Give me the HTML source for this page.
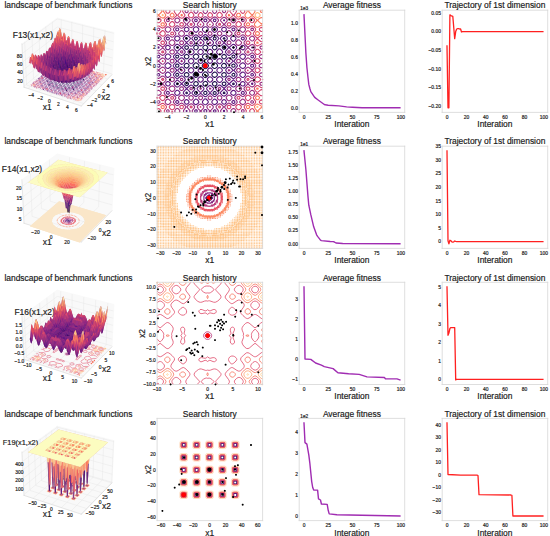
<!DOCTYPE html><html><head><meta charset="utf-8"><style>html,body{margin:0;padding:0;background:#fff}svg{display:block}text{font-family:"Liberation Sans",sans-serif;fill:#1a1a1a;stroke:#1a1a1a;stroke-width:.18px}</style></head><body><svg width="550" height="536" viewBox="0 0 550 536" stroke-linejoin="round"><rect width="550" height="536" fill="#fff"/><defs><path id="me9ac2b4124" d="M0 2.4l.5 0 .4 -.2 .4 -.2 .4 -.3 .3 -.4 .2 -.4 .2 -.4 0 -.5 0 -.5-.2 -.4-.2 -.4-.3 -.4-.4 -.3-.4 -.2-.4 -.2-.5 0-.5 0-.4 .2-.4 .2-.4 .3-.3 .4-.2 .4-.2 .4 0 .5 0 .5 .2 .4 .2 .4 .3 .4 .4 .3 .4 .2 .4 .2z"/></defs><path fill="#fff" d="M0 536l550 0 0 -536-550 0zM157.1 112.4l105.5 0 0 -102.2-105.5 0z"/>
<text x="167.7" y="118.6" font-size="4.9" text-anchor="middle">−4</text>
<text x="186.5" y="118.6" font-size="4.9" text-anchor="middle">−2</text>
<text x="205.3" y="118.6" font-size="4.9" text-anchor="middle">0</text>
<text x="224.2" y="118.6" font-size="4.9" text-anchor="middle">2</text>
<text x="243" y="118.6" font-size="4.9" text-anchor="middle">4</text>
<text x="261.8" y="118.6" font-size="4.9" text-anchor="middle">6</text>
<text x="209.8" y="127.3" font-size="8.45" text-anchor="middle">x1</text>
<text x="155.8" y="104" font-size="4.9" text-anchor="end">−4</text>
<text x="155.8" y="85.7" font-size="4.9" text-anchor="end">−2</text>
<text x="155.8" y="67.5" font-size="4.9" text-anchor="end">0</text>
<text x="155.8" y="49.2" font-size="4.9" text-anchor="end">2</text>
<text x="155.8" y="31" font-size="4.9" text-anchor="end">4</text>
<text x="155.8" y="12.7" font-size="4.9" text-anchor="end">6</text>
<text x="151.1" y="61.3" font-size="8.45" text-anchor="middle" transform="rotate(-90 151.1 61.3)">x2</text>
<path fill="none" stroke="#221150" stroke-width="1.1" d="M195.7 94.4l-.9 -.6-.3 -.6 .1 -.9 1.1 -.9 1 .2 .6 .7 .2 .9-.8 1zM205.1 94.5l-.9 -.4-.5 -.9 .1 -.9 .4 -.6 .9 -.5 1 .2 .8 .9 .1 .9-.9 1.1zM214.6 94.4l-1 -.5-.4 -.7 .1 -.9 1.3 -.9 .9 .3 .6 .6 .1 .9-.7 1zM186.3 93.7l-.5 -.5 .2 -.9 .3 -.2 .9 .2 .2 .9-.2 .3zM224 93.7l-.8 -.5 .3 -.9 .5 -.3 .7 .3 .3 .9-1 .5M195.7 86.1l-.9 -.5-.7 -.6-.4 -.9 .1 -.9 .6 -.9 1.3 -.8 1 .2 .8 .6 .7 .9 .1 .9-.7 1.1-.9 .7zM205.1 86.2l-.9 -.4-.9 -.8-.4 -.9 .1 -.9 .6 -.9 1.5 -.9 1 .1 1 .8 .6 .9 .1 .9-.8 1.2-.9 .7zM214.6 86.1l-1 -.4-.8 -.7-.5 -.9 .2 -.9 .7 -.9 1.4 -.8 .9 .2 .7 .6 .7 .9 .1 .9-.6 1-.9 .8-.9 .2M185.4 85.1l-.6 -1 .1 -.9 .8 -.9 .6 -.3 .9 .1 1.2 1.1 .1 .9-.6 .9-.7 .5-.9 .1zM223 85.3l-.8 -1.2 .1 -.9 .7 -.8 1 -.4 .9 .2 .9 1 .1 1-1 1.2-.9 .2zM176.9 84.6l-.5 -.5 .2 -.9 .3 -.2 .9 .1 .3 1-.3 .3zM233.4 84.7l-.9 -.6 .4 -.9 .5 -.2 .6 .2 .4 .9-1 .6M186.3 77l-.9 -.5-.7 -.6-.4 -.9 .1 -.9 .7 -.9 1.2 -.7 .9 .1 1 .7 .6 .8 .2 .9-.8 1.2-1 .7-.9 .1M194.8 77l-1.2 -1.1-.4 -.9 .1 -.9 1.5 -1.6 .9 -.5 1 .2 1.2 1 .7 .9 .2 .9-.5 .9-1.6 1.4-1 .1zM204.2 77.2l-1.4 -1.3-.4 -.9 .1 -.9 1.7 -1.8 .9 -.5 1 .2 1.4 1.2 .6 .9 .2 .9-.5 .9-1.7 1.5-1 .2zM213.6 77.1l-1.3 -1.2-.4 -.9 .1 -.9 1.6 -1.7 1 -.4 .9 .2 1.2 1 .6 .9 .1 .9-.4 .9-1.5 1.3-.9 .2-1 -.3M224 77l-1 -.3-.9 -.8-.4 -.9 .1 -.9 .8 -.9 1.4 -.7 .9 .2 .6 .5 .7 .9 .1 .9-.4 1-1 .8zM176.9 76.2l-.6 -.3-.6 -.9 .2 -.9 1 -.8 .9 .1 .8 .7 .2 .9-1 1.1zM232.5 75.9l-.6 -.9 .2 -.9 1.3 -.9 .9 .4 .4 .5 .2 .9-.5 .9-1 .3-.9 -.3M205.1 68.7l-1.6 -1-.9 -.9-.4 -.9 .2 -.9 .7 -1 1.1 -.9 .9 -.5 1 .2 1.5 1.2 .7 1 .2 .9-.5 .9-1 1-.9 .7zM186.3 68.1l-.9 -.5-.9 -.8-.3 -.9 .1 -.9 .7 -1 1.3 -.7 .9 .1 1 .6 .8 1 .1 .9-.9 1.4-1 .7zM194.8 68.1l-1.4 -1.3-.3 -.9 .1 -.9 1.6 -1.7 .9 -.5 1 .2 .9 .6 1.2 1.4 .2 .9-.5 .9-1.8 1.6-1 .1zM213.6 68.2l-1.5 -1.4-.4 -.9 .2 -.9 1.7 -1.8 1 -.4 .9 .2 1.3 1 .6 1 .2 .9-.4 .9-1.7 1.5-.9 .2zM223 67.8l-1.1 -1-.4 -.9 .2 -.9 1.3 -1.4 1 -.3 .9 .2 1.4 1.5 .2 .9-.4 .9-1.2 1.1-.9 .2-1 -.3M176.9 67.3l-1 -.6-.3 -.8 .1 -.9 1.2 -1 .9 .1 1 .9 .2 .9-.6 .9-.6 .4zM232.5 67l-.8 -1.1 .2 -.9 .6 -.6 .9 -.4 .9 .3 .6 .7 .2 .9-.5 .9-1.2 .5zM205.1 59.5l-1.5 -.9-.9 -1-.3 -.9 .2 -.9 .7 -.9 .9 -.7 .9 -.4 1 .2 .9 .6 1.1 1.2 .2 .9-.4 .9-.9 1-.9 .7zM186.3 58.9l-.9 -.5-.7 -.8-.4 -.9 .2 -.9 .8 -.9 1 -.5 .9 .1 1 .6 .6 .7 .2 .9-.8 1.4-1 .7-.9 .1M194.8 58.9l-1.2 -1.3-.4 -.9 .2 -.9 1.4 -1.4 .9 -.5 1 .2 .9 .6 1 1.1 .2 .9-.4 .9-1.7 1.6-1 .1zM213.6 59l-1.4 -1.4-.3 -.9 .2 -.9 1.5 -1.5 1 -.4 .9 .2 .9 .7 .9 1 .2 .9-.4 .9-1.6 1.6-.9 .2zM223 58.6l-.9 -1-.4 -.9 .2 -.9 1.1 -1.1 1 -.3 .9 .2 1.3 1.2 .2 .9-.4 .9-1.1 1.1-.9 .2zM176.9 58.1l-1 -.8-.2 -.6 .2 -.9 1 -.6 .9 .1 .7 .5 .3 .9-1 1.3zM232.5 57.7l-.6 -1 .2 -.9 1.3 -.7 .9 .4 .4 .3 .2 .9-.4 .9-1.1 .5-.9 -.4M195.7 49.8l-.9 -.4-.8 -.9-.4 -.9 .3 -.9 .8 -.9 1 -.5 1 .2 .9 .6 .5 .6 .2 .9-.7 1.3-.9 .8zM204.2 49.6l-1 -1.1-.4 -.9 .3 -.9 1.1 -1.2 .9 -.3 1 .1 1.5 1.4 .2 .9-.3 .9-1.4 1.3-1 .2zM213.6 49.5l-.9 -1-.4 -.9 .3 -.9 1 -1.1 1 -.3 .9 .2 1.3 1.2 .2 .9-.3 .9-1.2 1.1-.9 .3zM185.4 48.8l-.7 -1.2 .3 -.9 .4 -.4 .9 -.6 .4 .1 .5 .1 1 .8 .3 .9-.4 .9-.9 .7-.9 .2zM223 49l-.8 -1.4 .2 -.9 .6 -.6 1 -.4 .9 .3 .8 .7 .2 .9-.4 .9-.6 .6-.9 .3zM176.9 48.3l-.5 -.7 .4 -.9 1 .2 .3 .7-.3 .5-.9 .2M233.4 48.4l-.9 -.8 .9 -1 1 1zM194.8 39.4l-.4 -.9 .4 -1 .9 -.5 1 .2 .4 .4 .4 .9-.8 1.3-1 .1zM204.2 39.6l-.6 -1.1 .6 -1.2 .9 -.5 1 .2 .6 .6 .4 .9-.4 .9-.6 .5-1 .2zM213.6 39.5l-.4 -1 .4 -1.1 1 -.4 .9 .2 .4 .4 .3 .9-.7 1.2-.9 .3zM186.3 39.3l-.6 -.8 .6 -.9 .9 .3 .3 .6-.3 .5zM224 39.4l-.9 -.9 .9 -1 1 1-1 .9"/>
<path fill="none" stroke="#5f187f" stroke-width="1.1" d="M204.8 112.4l-.9 -.9 0 -.9 .3 -.5 .9 -.6 1 .2 .7 .9 0 .9-.9 .9M214.5 112.4l-1.1 -.9 0 -.9 1.2 -.9 .9 .3 .4 .6 .1 .9-.5 .6-.9 .3M157.1 65.1l.9 -.9 1 .1 .9 .7 .2 .9-.6 .9-.5 .3-1 0-.9 -.9M157.1 56.7l.3 -.9 .6 -.4 1 0 .6 .4 .3 .9-.9 1.1-1 .1-.9 -1.1M194.8 111.7l-.1 -1.1 1 -.9 1 .2 .5 .7 0 .9-.5 .6-1 .3zM194.8 104.2l-1.1 -.9-.5 -.9 .1 -1 1.5 -1.8 .9 -.6 1 .2 1.4 1.3 .6 .9 .1 1-.6 .9-1.5 1.1-1 .2zM204.2 104.4l-1.3 -1.1-.5 -.9 .1 -1 1.7 -2.1 .9 -.5 1 .2 1.5 1.5 .6 .9 .1 1-.6 .9-1.6 1.3-1 .1zM213.6 104.3l-1.2 -1-.5 -.9 0 -1 1.7 -1.9 1 -.5 .9 .3 1.3 1.2 .6 .9 0 1-.5 .9-1.4 1.1-.9 .2zM224 104.2l-1 -.3-.7 -.6-.6 -.9 .1 -1 .6 -.9 .6 -.5 1 -.4 .9 .2 .8 .7 .6 .9 0 1-.5 .9-.9 .7-.9 .2M176.9 103.4l-1.2 -1 .1 -1 1.1 -.9 .9 .1 .9 .8 .1 1-1 1zM185.4 103.7l-1.1 -1.3 .1 -1 1 -1.3 .9 -.5 .9 .1 1.1 .8 .6 .9 .1 1-.6 .9-1.2 .8-.9 .1zM233.4 103.5l-.9 -.4-.6 -.7 .1 -1 .5 -.5 .9 -.5 .9 .4 .5 .6 .1 1-.6 .8zM186.3 96.1l-1.6 -1-1.4 -1.9 .1 -.9 .6 -.9 2.3 -2.5 .9 .3 2.2 2.2 .8 .9 .2 .9-2.2 2.2-1 .5zM194.8 96.1l-2.2 -1.9-.7 -1 .2 -.9 2.4 -2.7 .4 -.9-.4 -.9-.8 -1-1.7 -1.5-1 -.2-.9 .4-2.9 2.5-.9 .4-.4 -.6-3 -2.8-.4 -.5-.7 -.4 .5 -.9 2.6 -2.7 .4 -.9-.3 -1-.7 -.9-1.8 -1.6-.9 -.3-1 .4-2.8 2.3-.9 .2-2.2 -1.9-1.3 -1.8 .2 -.9 3.1 -3.7-.4 -.9-2.6 -2.7-.5 -.9 .2 -.9 3.3 -3.7-.3 -.9-2.6 -2.8-.4 -.9 .2 -.9 3.3 -3.2 .9 .2 2.8 2.4 1 .4 .9 -.3 1.4 -1.3 .9 -.9 .4 -.9-.1 -.9-2.6 -3.1-.8 -.6 4.6 -4.5 .9 .2 1.9 1.8 1.9 1.2 1 -.3 1.3 -1.1 1 -.9 .5 -1-.1 -.9-2.4 -2.7-.5 -.9 .4 -.9 2.6 -2.4 .9 -.4 1 .2 3.7 3 4.7 -3.5 1 .3 .9 .7 2.8 2.5 1 -.5 2.8 -2.3 1 -.4 .9 .2 2 1.7 1.4 1.8-3 3.6-.1 .9 1.5 1.9 2 1.4 .9 -.2 3.8 -3 .9 .4 3.3 3.2 .5 .9-3.2 3.7-.1 .9 1.3 1.8 2 1.5 .9 -.1 3.8 -2.9 1.9 1.4 1.7 1.9 .2 .9-.4 .9-2.4 2.8-.5 .9 2.6 2.7 .7 1 .3 .9-3.6 4.5 2.5 2.8 .6 .9 .2 .9-.4 .9-1.5 1.6-1 .9-.9 .4-.9 -.5-2.9 -2.3-.9 -.1-1 .5-1.3 1.3-.8 .9-.3 1 1.2 1.8 1.9 1.8 .2 .9-4.6 4.4-.6 -.7-3.2 -2.5-.9 -.2-1 .5-1.4 1.2-.8 1-.3 .9 .4 .9 2.5 2.7 .1 .9-3.3 3.2-.9 .2-1 -.4-2.8 -2.5-1 -.3-3.7 3.2-1 .2-.9 -.5-2.8 -2.5-1 -.4-3.7 3-1 .2zM224 96.1l-1 -.3-.9 -.7-1.8 -1.9 .1 -.9 3.6 -3.5 .9 .7 1.8 1.9 .6 .9 .1 .9-.5 1-1 1-1 .7-.9 .2M176.9 95.4l-1 -.5-.8 -.7-.4 -1 .1 -.9 .5 -.9 1.6 -1.2 .9 .1 1.4 1.1 .7 .9 .1 .9-1.2 1.5-1 .6zM232.5 95.1l-1.3 -.9-.5 -1 .1 -.9 1.7 -1.8 .9 -.3 .9 .3 1 .9 .6 .9 .1 .9-.5 1-1.2 1-.9 .2zM167.5 94.3l-1.1 -1.1 0 -.9 1.1 -.9 .9 .1 .9 .8 .1 .9-1 1.1-.9 0M242.8 94.4l-.9 -.3-.6 -.9 .1 -.9 .5 -.5 .9 -.5 1 .5 .4 .5 .1 .9-.5 .9-1 .3M199.5 91.7l.9 .6 1 -.3 2.3 -2.4 .3 -.9-.3 -.9-2.3 -2.2-1 -.2-.9 .4-2.1 2-.4 .9 .5 .9zM208.9 91.7l.9 .6 1 -.2 2.4 -2.5 .4 -.9-.3 -.9-2.5 -2.2-1 -.2-.9 .5-2 1.9-.3 .9 .4 .9zM176.9 87.1l-1.9 -1.4-1 -1.6 .1 -.9 .6 -.9 2.2 -2.2 .9 .2 1 .8 2.3 2.1 .3 .9-2.6 2.3-1 .6zM233.4 87.1l-.9 -.3-2.2 -1.8-.7 -.8-.6 -.1 2.5 -2.6 1.9 -1.5 .9 .6 1.7 1.7 .6 .9 .1 .9-.4 .9-1 1.1-1 .7zM167.5 86l-1.4 -1-.5 -.9 .1 -.9 .8 -1.1 1 -.6 .9 .1 1.1 .7 .7 .9 .1 .9-1 1.3-.9 .6zM242.8 86.1l-.9 -.3-1 -.7-.6 -1 .2 -.9 .7 -.9 .7 -.5 .9 -.3 1 .3 .5 .5 .7 .9 .1 .9-.5 .9-.8 .8-1 .3M191 82.6l1 -.3 .9 -.8 .9 -1 .3 -.9-.2 -1-1 -1.2-.9 -.7-1 -.2-.9 .4-1.1 .8-.8 .9-.3 1 .5 .9 .8 .9zM219.3 82.5l.9 -.1 1 -.7 1.1 -1.2 .5 -.9-.3 -1-1.3 -1.3-1 -.6-.9 -.2-1.8 1.2-.7 .9-.3 1 .9 1.5 .9 .9zM199.5 81.8l.9 .4 1 -.2 1.6 -1.5 .3 -.9-.2 -1-.8 -.9-.9 -.7-1 -.2-.9 .4-1.5 1.4-.2 1 .4 .9zM208.9 81.7l.9 .5 1 -.2 1.7 -1.5 .3 -.9-.2 -1-.9 -1-.9 -.6-1 -.2-.9 .4-1.4 1.4-.2 1 .4 .9zM166.5 76.9l-.9 -1-.4 -.9 .1 -.9 1.2 -1.5 1 -.6 .9 .1 .9 .6 1.4 1.4 .2 .9-.5 .9-2 1.5-.9 0zM241.9 77.2l-1.6 -1.3-.6 -.9 .3 -.9 .7 -.9 1.2 -.9 .9 -.3 1 .3 1 .9 .5 .9 .2 .9-.4 .9-1.3 1.3-1 .3zM158 76l-.9 -1 .3 -.9 .6 -.6 1 .1 .6 .5 .3 .9-.9 1-1 0M252.2 76.1l-.9 -.4-.5 -.7 .2 -.9 1.2 -.7 1.1 .7 .2 .9-.3 .6-1 .5M180.6 73.3l1 .4 .9 -.3 2 -2.1 .4 -.9-.2 -.9-.7 -.9-1.5 -1.4-.9 -.3-1 .4-1.5 1.3-1 .9-.3 .9 .6 .9zM228.7 73.7l.9 -.2 3.4 -3.1-.6 -.9-1.8 -1.8-1 -.6-.9 -.1-1 .5-1.1 1.1-.7 .9-.2 .9 1.1 1.8zM190.1 72.6l.9 .4 1 -.3 1.4 -1.4 .4 -.9-.2 -.9-.7 -.9-.9 -.8-1 -.2-.9 .4-1.6 1.5-.2 .9 .4 .9zM199.5 72.3l.9 .3 1 -.1 1.2 -1.2 .4 -.9-.2 -.9-1.4 -1.4-1 -.2-.9 .4-1.2 1.2-.2 .9 .4 .9zM209.8 72.6l1 -.1 .9 -.7 .8 -1.4-.2 -.9-.6 -.7-.9 -.7-1 -.2-1.2 .7-.8 .9-.2 .9 .4 .9 .9 .9zM218.3 72.5l1 .4 .9 -.1 1.7 -1.5 .5 -.9-.3 -.9-.9 -1.1-1 -.6-.9 -.2-1 .5-1.3 1.4-.2 .9 .4 .9zM166.5 68l-1.1 -1.2-.4 -.9 .2 -.9 1.3 -1.6 1 -.6 .9 .1 .9 .6 1.6 1.5 .2 .9-.5 .9-2.2 1.7-.9 0zM241.9 68.3l-1.8 -1.5-.6 -.9 .3 -.9 .8 -1 1.3 -.9 .9 -.3 1 .3 1 .9 .7 1 .1 .9-.3 .9-1.5 1.5-1 .3-.9 -.3M251.3 66.9l-.7 -1 .2 -.9 .5 -.5 .9 -.3 1 .4 .5 1.3-.5 .9-1 .4zM181.6 64.4l.9 -.3 1 -.7 1 -1.2 .4 -.9-.1 -.9-.7 -.9-1.6 -1.5-.9 -.3-1 .4-1.6 1.4-.9 .9-.3 .9 1.9 2zM228.7 64.4l.9 -.1 1 -.7 2.4 -2.3-.5 -.9-1.9 -1.9-1 -.7-.9 -.1-1 .6-1.2 1.2-.6 .9-.2 .9 1.1 1.7zM190.1 63.4l.9 .3 1 -.2 1.4 -1.3 .4 -.9-.2 -.9-.6 -.9-1 -.9-1 -.2-.9 .4-1.6 1.6-.2 .9 .5 .9zM200.4 63.4l1 -.1 .9 -.8 .7 -1.2-.2 -.9-.7 -.9-.7 -.6-1 -.2-1.3 .8-.8 .9-.2 .9 .5 .9 .9 .9zM209.8 63.4l1 -.1 .9 -.7 .8 -1.3-.2 -.9-.7 -.9-.8 -.6-1 -.2-1.3 .8-.7 .9-.2 .9 .5 .9 .8 .8zM218.3 63.3l1 .4 .9 -.1 1.7 -1.4 .5 -.9-.2 -.9-1 -1.2-1 -.6-.9 -.2-1 .5-1.3 1.5-.2 .9 .4 .9zM166.5 58.8l-1 -1.2-.3 -.9 .2 -.9 1.1 -1.3 1 -.5 .9 0 .9 .6 1.4 1.2 .2 .9-.5 .9-2 1.7-.9 0zM241.9 59.1l-1.7 -1.5-.5 -.9 .3 -.9 .9 -.9 1 -.7 .9 -.3 1 .3 .8 .7 .7 .9 .2 .9-.4 .9-1.3 1.5-1 .3zM252.2 57.9l-.9 -.3-.5 -.9 .3 -.9 1.1 -.5 1.1 .5 .2 .9-.3 .8zM190.1 54.5l.9 .3 1 -.2 1.7 -1.5 .4 -.9-.1 -.9-.7 -.9-1.3 -1.3-1 -.3-.9 .4-1.3 1.2-.7 .9-.2 .9 .6 .9zM199.5 54.2l.9 .3 1 -.1 1.5 -1.3 .4 -.9-.1 -.9-.7 -.9-1.1 -1-1 -.2-.9 .4-1.5 1.7-.2 .9 .5 .9zM208.9 54.1l.9 .4 1 -.1 1.5 -1.3 .5 -.9-.1 -.9-.7 -.9-1.2 -1-1 -.2-.9 .4-1.4 1.7-.2 .9 .5 .9zM218.3 54.4l1 .4 .9 -.1 2 -1.6 .5 -.9-.1 -.9-2.4 -2.3-.9 -.2-1 .5-1.6 2-.1 .9 .4 .9zM175.9 50.5l-1.6 -2-.4 -.9 .3 -.9 1.7 -1.9 1 -.5 .9 .1 2 1.4 1.7 1.8-3.7 3.4-.9 .2-1 -.7M232.5 50.8l-2.5 -2.3-.4 -.7-.8 -.2 .8 -.3 .3 -.6 2.6 -2.1 .9 -.3 .9 .2 1.5 1.3 .7 .9 .2 .9-.3 .9-2.1 2.3-.9 .4zM167.5 49.8l-1 -.5-.6 -.8-.3 -.9 .2 -.9 .7 -.9 1 -.5 .9 .1 1.7 1.3 .2 .9-.4 .9-.6 .6-.9 .7zM241.9 49.6l-1.2 -1.1-.4 -.9 .3 -.9 1.3 -1.2 .9 -.2 1 .3 1.1 1.1 .2 .9-.3 .9-1 1.1-1 .3-.9 -.3M200.4 45.9l1 -.2 .9 -.6 1.2 -1.1 .5 -1-.1 -.9-.7 -.9-1.8 -1.8-1 -.5-3.2 3.2-.1 .9 1.5 1.9zM209.8 45.9l1 -.2 .9 -.6 1.3 -1.1 .5 -1-.1 -.9-.7 -.9-1.9 -1.8-1 -.5-2.4 2.3-.6 .9-.2 .9 1.5 1.9zM186.3 42.7l-.1 -.6-.8 -.6-1.8 -2.1-.4 -.9 .3 -.9 .8 -.9 1.1 -1 .9 -.4 .9 .1 1 .6 1.8 1.6 .5 .9-1.5 1.8zM224 43l-.3 -.9-.7 -.3-2.3 -2.4-.4 -.9 .4 -.9 .9 -.9 1.4 -1.1 1 -.4 .9 .3 1 .7 1.3 1.4 .2 .9-.3 .9-2.2 2.5-.6 .2zM175.9 40.6l-1 -1.2-.3 -.9 .3 -.9 1 -1.2 1 -.4 .9 .1 1 .5 .9 1 .3 .9-.3 .9-1.9 1.6-.9 .1zM232.5 40.8l-1.5 -1.4-.4 -.9 .3 -.9 1.6 -1.4 .9 -.2 .9 .2 1.5 1.4 .2 .9-.3 .9-1.4 1.5-.9 .3zM167.5 39.9l-1 -.8-.2 -.6 .2 -.7 1 -.8 .9 .1 .7 .5 .4 .9-.5 .9-.6 .5zM241.9 39.6l-.7 -1.1 .4 -.9 1.2 -.6 1 .3 .5 1.2-.3 .9-1.2 .6zM195.7 32.4l-.9 -.6-1 -1-.6 -1.4 .3 -1 .8 -.9 1.4 -.7 1 .1 .9 .6 .9 .9 .3 1-.3 .9-.9 1.1-.9 .7-1 .3M205.1 32.6l-1.8 -1.5-.7 -.8-.2 -.9 .3 -1 .8 -.9 1.6 -.8 1 .1 .9 .6 1 1 .3 1-.3 .9-1 1.2-.9 .8zM214.6 32.4l-1 -.5-.9 -.9-.6 -.7-.3 -.9 .3 -1 .9 -.9 1.6 -.7 .9 .2 .9 .6 .8 .8 .3 1-.3 .9-.8 1-.9 .8zM185.4 31.3l-.9 -1-.2 -.9 .3 -1 .9 -.9 .8 -.3 .9 .1 1.5 1.1 .3 1-.3 .9-1.5 1.3-.9 .2zM223 31.4l-1.1 -1.1-.3 -.9 .4 -1 1 -.9 1 -.3 .9 .2 1.2 1 .3 1-.3 .9-1.2 1.2-.9 .3zM176.9 30.9l-.9 -.6-.3 -.9 .3 -1 .9 -.4 .9 0 .6 .4 .4 1-.4 .9-.6 .5zM232.5 30.5l-.6 -1.1 .3 -1 1.2 -.5 .9 .3 .7 1.2-.4 .9-1.2 .6zM195.7 21.6l-.8 -.4-.3 -1 .5 -.9 .6 -.3 1 .2 .6 1-.6 1.2zM204.2 21.3l-.4 -1.1 .4 -.9 .9 -.4 1.3 .4 .5 .9-.4 1-.4 .4-1 .2-.9 -.5M214.6 21.6l-1 -.4-.3 -1 .5 -.9 .8 -.3 1 .3 .4 .9-.5 1.2z"/>
<path fill="none" stroke="#5f187f" stroke-width="2.2" stroke-linecap="round" d="M224.1 20.3h0m28.1 27.2h0m-93.7 36.4h0m28.1 27.2h0"/>
<path fill="none" stroke="#5f187f" stroke-width="2.4" stroke-linecap="round" d="M186.6 20.3h0m-28.1 27.2h0m93.7 36.3h0m-28.2 27.2h0"/>
<path fill="none" stroke="#982d80" stroke-width="1.1" d="M175.4 112.4l-.6 -.9 0 -.9 1.1 -1.6 1 -.6 .9 .1 1.4 1.2 .6 .9 0 .9-.6 .9M184 112.4l-.5 -.9 0 -.9 2.6 -3.7-1.5 -1.8-2.1 -1.7-.9 -.4-1 .4-2.8 2.1-.9 .1-2 -1.4-1.5 -1.8 .1 -1 2.1 -2.7 .3 -.9-.3 -.9-2.5 -2.4-.9 -.3-1 .3-2.8 2-.9 .1-2 -1.5-1.4 -1.9 .1 -.9 2.1 -2.7 .5 -.9-.4 -.9-2.7 -2.9-.9 -.6-3.8 2.5-1 .1-.9 -.5M192.9 112.4l-.7 -.9 0 -.9 2.2 -2.8 .3 -.9-.4 -.9-1.4 -1.4-.9 -.7-1 -.2-1.9 1-1.5 1.3-.4 .8-.3 .1 .3 .2 .4 .7 2.4 2.8 0 .9-.6 .9M202 112.4l-.6 -.7-.6 -.2 .1 -.9 .5 -.2 1.4 -1.6 .8 -1 .3 -.9-.4 -.9-1.2 -1.2-.9 -.6-1 -.2-.9 .4-1 .7-.9 .9-.4 .9 1.1 1.9 1.9 1.8 .1 .9-1.1 .9M211.4 112.4l-.6 -.8-.6 -.1 .2 -.9 .4 -.1 2.3 -2.7 .3 -.9-.4 -.9-1.3 -1.2-.9 -.6-1 -.2-1.8 1.1-.8 .9-.4 .9 .3 .9 .7 1 1.8 1.8 .1 .9-1 .9M221.3 112.4l-.7 -.9 0 -.9 3.1 -3.7-2.5 -2.5-1 -.5-.9 -.2-1 .5-1.1 .9-.8 .9-.5 .9 .4 .9 2.1 2.8 .1 .9-.7 .9M231.5 112.4l-.6 -.9 0 -.9 .6 -.9 1 -.9 .9 -.4 .9 .3 1 1 .5 .9 0 .9-.5 .9M242.7 112.4l-.8 -.4-.4 -.5 0 -.9 .4 -.5 .9 -.5 1 .5 .3 .5 0 .9-.3 .4-.9 .5M157.1 91l.9 -.6 1 0 .9 .6 1.2 1.3 .1 .9-.6 1-1.6 1-1 0-.9 -.5M262.6 84.9l-.9 .4-1 -.2-.8 -1 .2 -.9 .6 -.6 1 -.3 .9 .5M157.1 81.2l.9 -.7 1 0 2.8 2.4 .8 .3 .2 .3 .1 -.3 .8 -.4 1.3 -1.4 .7 -.9 .4 -.9-.3 -1-.6 -.9-1.5 -1.4-.9 -.3-1 .3-2.8 2.1-1 0-.9 -.7M262.6 76.4l-.9 .3-1 -.2-.8 -.6-.6 -.9 .2 -.9 1.2 -1.1 1 -.3 .9 .4M157.1 71.6l.9 -1 1 .1 1.9 1.8 1.9 1 .9 -.4 .9 -.8 .8 -1 .3 -.9-.1 -.9-.7 -.9-1.2 -1.2-.9 -.3-1 .3-.9 .7-1.8 1.4-.1 .5-1 .1-.2 -.6-.7 -.6M262.6 67.5l-.9 .3-1 -.2-1.1 -.8-.5 -.9 .3 -.9 1.3 -1.2 1 -.3 .9 .4M157.1 62.4l.9 -1 1 .1 1.9 1.8 .9 .7 1 .3 .9 -.4 .9 -.8 1.1 -1.8-.1 -.9-.6 -.9-1.3 -1.3-.9 -.3-1 .3-2.7 2.2-.1 .4-1 .1-.1 -.5-.8 -.6M262.6 58.2l-.9 .4-1 -.2-.9 -.8-.5 -.9 .3 -.9 1.1 -1 1 -.2 .9 .4M157.1 53.6l.9 -.7 1 .1 2.8 2.1 1 .3 .9 -.4 .9 -.8 1 -1.1 .4 -.9-.1 -.9-.6 -.9-2.5 -2.5-3.8 3-1 0-.9 -.7M262.6 48.6l-.9 .5-1 -.3-.8 -1.2 .3 -.9 .5 -.4 1 -.3 .9 .5M157.1 45l.9 -.5 1 0 3.8 2.7 .4 -.5 .5 -.2 2.5 -2.5 .5 -1-.2 -.9-2.1 -2.7-.3 -.9 .3 -.9 2.1 -2.3 1 -.5 .9 .1 2.8 2 1 .3 .9 -.3 1 -.8 1.2 -1.3 .6 -.9-.1 -.9-2.1 -2.7-.3 -.9 .3 -1 2.2 -2.1 1 -.5 .9 .1 2.8 2 1 .4 .9 -.3 1 -.7 2.5 -2.5 0 -.9-1.7 -1.8-.7 -.9-.2 -1 .3 -.9 .8 -.9 1.8 -1.1 .9 .2 1 .5 1.5 1.3 .5 .9-.4 1-2.5 2.7 0 .9 1.8 1.8 1 .7 .9 .3 1 -.2 .9 -.6 1.1 -1.1 .6 -.9 0 -.9-2.2 -2.7-.3 -1 .4 -.9 .9 -.9 1.4 -1.1 .9 -.4 1 .2 .9 .5 2.8 2.6-3 3.7-.1 .9 1.7 1.8 1.4 .7 1 -.1 .9 -.6 1.5 -1.8 0 -.9-.6 -.9-1.8 -2.1-.9 -.7 .9 -.5 .2 -.4 2.6 -2.2 .9 -.3 1 .1 3 2.4 .7 .9-.5 1-1.8 1.8-.6 .9 0 .9 1.1 1.4 .9 .8 .9 .3 1 -.1 .9 -.6 1.6 -1.8 0 -.9-.6 -.9-1.9 -2.2-.9 -.6 .9 -.4 .2 -.5 2.6 -2 1 -.4 .9 .2 .9 .6 1.7 1.6 .5 .9-.4 1-2.1 2.7-.1 .9 1.6 1.8 1.7 1 .9 -.1 1 -.6 2.4 -2.1-.1 -.9-2.7 -2.7-.3 -1 .5 -.9 2 -1.7 1 -.3 .9 .2 1 .7 1 1.1 .4 .9-.3 1-2.3 2.7-.1 .9 2.2 2.1 1.9 1.4 .9 -.1 2.9 -2.1 .9 -.3 .9 .2 2.6 2.4 .4 1-.4 .9-2.1 2.7 0 .9 1.4 1.9 1.9 1.4 1 -.1 2.8 -2 .9 -.4 1 .4 .9 .8 1.6 1.7 .2 .9-.3 .9-2.1 2.7-.2 .9 .6 1 3 3 1 -.1 2.8 -2.2 .9 -.3 1 .3 1.2 1.1 .6 .9 .2 .9-.3 .9-.8 1.1-.9 .9-1 .5-.9 -.3-2.8 -2.6-1 -.1-2.2 2.4-.5 .9-.2 .9 .5 .9 1.5 1.6 .9 .6 1 0 2.8 -2.1 .9 -.4 1 .5 1.6 1.6 .7 .9 .2 .9-.4 .9-2.1 2.5-.5 .3-.5 .9-.5 -.9-2.3 -1.8-.9 -.6-1 -.1-1.8 1.6-.6 .9-.2 .9 .4 .9 .8 .9 1.4 1.1 1 -.1 .9 -.5 1.9 -1.7 .9 -.6 2.8 2.7 .6 1 .2 .9-.4 .9-2.2 2.5-.4 .2-.6 .9-.6 -.9-3.1 -2.3-1 0-1.8 1.4-.6 .9-.2 .9 .4 .9 1.3 1.5 .9 .7 1 -.1 3.7 -2.9 2.7 2.7 .6 .9 .2 .9-.4 .9-1.2 1.3-.9 .9-1 .4-.9 -.3-2.8 -2.1-1 0-.9 .5-1.1 1.1-.7 .9-.2 1 .4 .9 .6 .9 1.9 1.8 1 -.1 2.8 -2.4 .9 -.3 1 .4 1.4 1.5 .5 .9 .1 .9-1.1 1.7-.9 .8-1 .3-.9 -.2-.9 -.6-1.9 -1.7-1 0-2.5 2.4-.8 1-.3 .9 .4 .9 2.1 2.7 .1 .9-.5 1-2.2 2.1-1 .3-.9 -.3-2.8 -2-1 -.1-.9 .5-1.4 1.3-.8 .9-.3 .9 .4 .9 2 2.7 .1 1-.6 .9-2.3 2-.9 .3-.9 -.3-2.9 -2.1-.9 -.1-1 .5-2.6 2.4-.2 .5-.5 .4 2.8 3.7 0 .9-.5 .9M157.1 36.6l.9 -.5 1 .1 .9 .4 1 1 .4 .9-.5 .9-1.8 1.5-1 0-.9 -.6M157.1 29.3l.5 -.9 .4 -.3 1 .1 .4 .2 .5 1-.4 .9-.5 .3-1 .1-.5 -.4-.4 -.9M187.7 10.2l.5 .9-.3 .9-.7 .6-.9 .2-1 -.8-.3 -.9 .5 -.9M197.7 10.2l.3 .9-.2 .9-1.1 1.2-1 .2-.9 -.6-.6 -.8-.3 -.9 .4 -.9M207.2 10.2l.3 .9-.2 .9-1.2 1.3-1 .3-.9 -.5-.9 -1.1-.2 -.9 .4 -.9M216.4 10.2l.3 .9-.2 .9-1 1.1-.9 .3-1 -.5-.7 -.9-.3 -.9 .4 -.9M225.2 10.2l.4 .9-.3 .9-.4 .5-.9 .3-1.2 -.8-.3 -.9 .4 -.9M166.5 111.5l.1 -.9 .9 -.9 .9 .1 .7 .8 .1 .9-.8 .8-.9 .1-1 -.9M167.5 104.6l-1 -.5-.8 -.8-.5 -.9 0 -1 1.3 -1.7 1 -.7 .9 .1 1.7 1.4 .7 .9 .1 1-1.6 1.6-.9 .5zM241.9 104.4l-1.5 -1.1-.6 -.9 0 -1 2.1 -2.1 .9 -.3 1 .4 1.1 1.1 .5 .9 .1 1-.5 .9-1.2 1-1 .3zM158 103.3l-.9 -.9 .1 -1 .8 -.7 1 0 .8 .7 .1 1-.9 .8zM252.2 103.3l-.9 -.3-.5 -.6 .1 -1 .4 -.4 .9 -.4 1.2 .8 .1 1-.3 .4zM181.6 100.9l.9 -.4 1 -.8 .7 -1 .3 -.9-.3 -.9-.7 -.9-1 -.7-.9 -.2-1 .3-.8 .6-.9 .9-.4 .9 .4 .9 .8 .9zM228.7 100.9l.9 -.2 1 -.7 1.2 -1.3 .3 -.9-.3 -.9-1.2 -1.2-1 -.5-.9 -.1-1.5 .9-.8 .9-.2 .9 .6 1.4 .9 1zM190.1 99.7l.9 .4 1 -.2 1.1 -1.2 .3 -.9-.3 -.9-1.1 -1.1-1 -.2-.9 .3-1 1-.3 .9 .3 .9zM200.4 99.8l1 -.2 .9 -.9 .3 -.9-.3 -.9-.9 -.8-1 -.2-.9 .4-.6 .6-.3 .9 .3 .9 .6 .6zM209.8 99.8l1 -.2 1 -.9 .3 -.9-.4 -.9-.9 -.8-1 -.2-1.4 1-.3 .9 .3 .9 .5 .6zM219.3 100.1l.9 -.1 1 -.8 .7 -1.4-.3 -.9-.4 -.5-1 -.6-.9 -.1-1 .4-.7 .8-.3 .9 .3 .9 .7 .9zM252.2 95.3l-.9 -.2-.9 -.7-.9 -1.2 .1 -.9 .7 -.9 1 -.8 .9 -.3 1 .4 .7 .7 .6 .9 0 .9-.4 1-.9 .8zM172.2 91.6l.9 -.3 1 -.9 .6 -.8 .3 -.9-.3 -.9-.7 -1-.9 -.7-.9 -.2-1 .3-1 .6-.8 1-.5 .9 1.4 1.8 .9 .8zM238.1 91.6l1 -.1 .9 -.7 1.3 -1.2 .4 -.9-.4 -.9-1.3 -1.3-.9 -.5-1 -.1-.9 .5-1.3 1.4-.2 .9 .3 .9 .7 .9zM181.6 90.6l.9 -.3 .7 -.7 .4 -.9-.3 -.9-.8 -.8-.9 -.3-1 .4-.7 .7-.3 .9 .4 .9 .6 .6zM228.7 90.6l.9 -.2 1 -.7 .4 -1-.2 -.9-1.2 -1-.9 0-1 .5-.4 .5-.2 .9 .6 1.3zM191 89.8l1 -.2 .4 -.9-.4 -.9-1 -.4-.7 .4-.5 .9 .6 .9zM219.3 89.8l.9 -.1 .6 -1-.6 -1.1-.9 -.2-.6 .4-.4 .6 0 .5zM200.4 89.3l1 -.6-1 -.8-.5 .8zM209.8 89.3l1.1 -.6-1.1 -.8-.4 .8zM171.2 81.4l1 .3 .9 -.3 1 -.9 .3 -.9-.2 -1-1.1 -1.1-.9 -.2-1 .2-1.2 1.1-.2 1 .4 .9zM238.1 81.7l1 -.1 .9 -.7 .9 -1.3-.3 -1-1.5 -1.2-1 -.1-.9 .5-.7 .8-.3 1 .4 .9 .6 .6zM181.6 80.7l.9 -.4 .4 -.7-.4 -1-.9 -.4-.9 .4-.3 1 .2 .5zM228.7 80.6l.9 -.1 .7 -.9-.7 -1.2-.9 -.1-.6 .3-.4 .8zM171.2 71.9l1 .3 .9 -.3 .6 -.6 .4 -.9 0 -.3-.2 -.6-.8 -.9-.9 -.2-.8 .2-1 .9-.3 .9 .5 .9zM237.2 71.6l.9 .6 1 -.1 1 -.8 .4 -.9-.2 -.9-1.2 -1-1 -.1-.4 .2-.9 .9-.2 .9zM181.6 71l.8 -.6-.8 -.9-.7 .9zM228.7 70.9l1.1 -.5-.2 -.4-.9 -.5-.4 .9zM171.2 62.7l1 .3 .9 -.3 .5 -.5 .5 -.9 0 -.4-.2 -.5-.8 -1-.9 -.2-1 .3-.9 .9-.2 .9 .6 .9zM237.2 62.4l.9 .6 1 -.1 .9 -.7 .5 -.9-.2 -.9-1.2 -1.1-1 -.1-.5 .3-.9 .9-.1 .9zM181.6 61.8l.8 -.5-.8 -1-.6 1zM228.7 61.7l1.1 -.4-.2 -.5-.9 -.4-.4 .9zM172.2 54.1l.9 -.3 .9 -.7 .4 -.9-.1 -.9-.7 -.9-.5 -.5-.9 -.2-1.5 .7-.8 .9-.1 .9 .5 .9 .9 .7zM238.1 54.1l1 -.1 .9 -.6 .9 -1.2-.2 -.9-.7 -.9-.9 -.6-1 -.1-.9 .5-.8 1.1-.1 .9 .4 .9zM181.6 53.2l.9 -.5 .4 -.5-.4 -1.1-.9 -.4-1 .6-.2 .9zM228.7 53.1l.9 -.1 .6 -.8-.2 -.9-.4 -.4-.9 -.1-.7 .5-.3 .9zM171.2 45.2l1 .3 .9 -.3 1.4 -1.2 .4 -1-.1 -.9-.5 -.9-1.2 -1.1-.9 -.4-1 .4-1.3 1.1-.7 .9-.2 .9 .6 1zM237.2 45l.9 .4 1 0 1.9 -1.4 .6 -1-.1 -.9-2.4 -2.2-1 -.1-.9 .6-1.4 1.7-.1 .9 .4 1zM180.6 44.3l1 .3 .9 -.2 1 -1.1 0 -1.2-1 -1-.9 -.3-1 .3-.8 1-.2 .9zM191 44l1 -.4 .3 -.6-.3 -1.1-1 -.4-1 .6-.1 .9zM219.3 44l.9 -.3 .5 -.7-.1 -.9-.4 -.3-.9 -.2-.8 .5-.2 .9zM227.7 44.1l1 .5 .9 -.1 .8 -.5 .6 -1-.1 -.9-1.3 -1.2-.9 -.1-.8 .4-.7 .9-.1 .9zM200.4 43.4l1 -.4-.5 -.9-.5 -.1-.2 .1-.2 .9zM209.8 43.4l1 -.4-.4 -.9-.6 -.1-.4 1zM251.3 40.7l-1.5 -1.3-.4 -.9 .4 -.9 1.5 -1.3 .9 -.2 1 .3 1.1 1.2 .3 .9-.3 .9-1.1 1.3-1 .3zM180.6 36l1 .3 .9 -.2 1.5 -1.3 .4 -.9 0 -.9-.6 -.9-1.3 -1.3-.9 -.3-1 .4-1.9 2.1-.1 .9 .6 .9zM227.7 35.8l1 .4 .9 0 1.8 -1.4 .7 -.9-.1 -.9-2.4 -2.4-.9 -.1-1 .6-1.4 1.9-.1 .9 .5 .9zM190.1 35.4l.9 .3 1 -.2 .8 -.7 .5 -.9 0 -.9-1.3 -1.5-1 -.3-.9 .4-1.2 1.4-.1 .9 .6 .9zM199.5 35l.9 .4 1 -.2 .9 -.9 .2 -.4 0 -.9-1.1 -1.2-1 -.2-.9 .4-.8 1-.1 .9zM208.9 35l.9 .4 1 -.1 .9 -.9 .3 -.5-.1 -.9-1.1 -1.2-1 -.2-.9 .5-.7 .9-.1 .9zM218.3 35.3l1 .4 .9 -.1 1.1 -.8 .5 -.9-.1 -.9-.6 -.9-.9 -.7-.9 -.1-1 .5-.9 1.2-.1 .9zM167.5 32.3l-1.4 -1.1-.7 -.9-.2 -.9 .2 -1 1.1 -1.1 1 -.5 .9 .1 .9 .4 1.3 1.1 .4 1-.4 .9-1.3 1.3-.9 .6-.9 .1M242.8 32.4l-.9 -.4-1 -.8-.8 -.9-.4 -.9 .4 -1 1 -.9 .8 -.5 .9 -.2 1 .2 .9 .8 .5 .6 .3 1-.3 .9-.5 .8-.9 .9-1 .4M251.3 30.4l-.5 -1 .4 -1 1 -.3 1 .3 .3 1-.3 .9-1 .4zM175.9 22.3l-.9 -1.1-.2 -1 .3 -.9 .8 -.9 1 -.4 .9 .1 1 .5 .7 .7 .4 .9-.3 1-1.8 1.6-.9 .1-1 -.6M232.5 22.6l-1.4 -1.4-.3 -1 .4 -.9 1.3 -1.1 .9 -.2 .9 .2 1.3 1.1 .3 .9-.3 1-1.3 1.4-.9 .4zM167.5 21.6l-.6 -.4-.4 -1.1 .5 -.8 .5 -.3 .9 .1 .9 1.1-.4 1-.5 .3-.9 .1M241.9 21.3l-.5 -1.1 .4 -.9 1 -.3 1 .3 .4 .9-.4 1.1-1 .4z"/>
<path fill="none" stroke="#982d80" stroke-width="1.4" stroke-linecap="round" d="M233.4 11.1h0m28.2 27.4h0"/>
<path fill="none" stroke="#d3436e" stroke-width="1.1" d="M164.9 112.4l-.6 -.9 0 -.9 2 -2.8 .2 -.9-.3 -.9-.8 -.9-1.7 -1.5-.9 -.3-1 .2-2.8 1.9-1 0-.9 -.5M239.2 112.4l-1.1 -.2-.3 .2M250.3 112.4l-.6 -.9 0 -.9 .6 -.9 1 -.8 .9 -.3 1 .4 1.2 1.6 0 .9-.5 .9M157.1 109.3l.9 -.7 1 .1 .9 .6 1.1 1.3 0 .9-.7 .9M262.6 103.6l-.9 .3-1 -.2-.7 -.4-.6 -.9 0 -1 1.3 -1.3 1 -.2 .9 .4M262.6 95.5l-.9 .3-1 -.2-2.8 -2.1-1 0-3.3 3.4-.3 .9 .3 .9 2 2.7 0 1-.5 .9-1 1.1-.9 .7-1 .4-.9 -.3-2.8 -1.8-1 -.1-.9 .5-1.4 1.3-.8 .9-.3 .9 .3 .9 1.9 2.8 0 .9-.5 .9M262.6 87.2l-.9 .5-1 -.3-2.8 -1.9-1 0-1.7 1.3-.7 1-.2 .9 .8 1.6 1.8 2 1 -.1 2.8 -2.3 1 -.3 .9 .4M262.6 41.3l-.9 .5-1 -.3-2.8 -2.5-1 0-2 2.2-.5 .9-.1 .9 .4 1 .8 .9 1.4 1 1 0 3.8 -2.3 .9 .5M262.6 31.1l-.9 .4-1 -.3-1.1 -.9-.3 -.9 .4 -1 1 -.8 1 -.2 .9 .4M157.1 26.5l.9 -.5 1 0 2.8 1.9 1 .2 .9 -.3 .9 -.8 1.3 -1.3 .6 -.9-.1 -.9-1.9 -2.7-.2 -1 .3 -.9 .8 -.9 2.1 -1.5 .9 .1 2.8 1.9 1 .3 .9 -.3 3.5 -3.2 0 -.9-2.2 -2.8-.2 -.9 .3 -.9M157.1 18.7l.9 -.6 1 .1 1.7 1.1 .4 .9-.4 1-.8 .9-.9 .6-1 0-.9 -.6M169.6 10.2l.4 .9-.2 .9-1.4 1.3-.9 0-1 -.6-.4 -.7-.3 -.9 .4 -.9M180.2 10.2l.5 .9-.3 .9-2.5 2.8 0 .9 2 1.8 1.7 .8 .9 -.2 1 -.7 1.4 -1.7 0 -.9-2 -2.8-.3 -.9 .5 -.9M227.6 10.2l.5 .9-.4 .9-1.9 2.8 0 .9 1 1.4 .9 .7 1 .4 .9 0 1 -.5 2.3 -2 0 -.9-2.6 -2.8-.4 -.9 .6 -.9M236.1 10.2l.4 .9-.3 .9-1.9 2.6-.3 .2 0 .9 3.2 2.9 .9 .6 1 -.1 2.8 -1.9 .9 -.3 1 .3 .9 .7 1.4 1.4 .3 .9-.3 1-1.9 2.7-.1 .9 1.5 1.9 1.9 1.4 1 -.1 2.8 -1.9 .9 -.2 1 .3 .9 .8 1.3 1.4 .3 1-.3 .9-2 2.7-.1 .9 .6 .9 2.1 2.2 .9 .9 1 0 .2 -.3 2.6 -1.9 1 -.2 .9 .4M244.5 10.2l.3 .9-.2 .9-.8 1-1 .4-.9 -.3-1 -1.1-.3 -.9 .5 -.9M172.2 110l.9 -.4 1 -1 .5 -.8 .2 -.9-.2 -.9-.5 -.6-1 -.7-.9 -.3-1.6 .7-1 .9-.4 .9 .3 .9 .8 .9 .9 .9zM238.1 109.9l1 -.1 .9 -.7 1.1 -1.3 .4 -.9-.4 -.9-1.1 -1-.9 -.5-1 0-.9 .4-1.1 1.1-.3 .9 .2 .9 .7 1zM181.6 108.8l.9 -.3 .6 -.7 .4 -.9-.4 -.9-.6 -.5-.9 -.3-1.4 .8-.4 .9 .3 .9 .5 .6zM228.7 108.8l.9 -.1 1 -.9 .3 -.9-.4 -.9-.9 -.6-.9 -.1-1 .5-.5 1.1 .5 1.3zM191 108l1 -.5 .2 -.6-.2 -.5-1 -.5-1 1zM219.3 108l.9 -.2 .4 -.9-.4 -.7-.9 -.3-.8 1zM162.8 100.7l.9 -.4 .9 -.9 .7 -1.6-.2 -.9-.8 -.9-.6 -.5-.9 -.3-1 .2-.8 .6-1 .9-.4 .9 .4 .9 .9 .9 .9 .8zM247.5 100.6l1 0 .9 -.7 1.2 -1.2 .5 -.9-.4 -.9-1.3 -1.1-.9 -.5-1 0-.9 .4-1 1.2-.3 .9 .3 .9 .7 .9zM171.2 98.9l1 .3 1.1 -.5 .3 -.9-.5 -1.1-.9 -.3-1.1 .5-.4 .9zM238.1 99.2l1 -.1 .4 -.4 .5 -.9-.4 -.9-.5 -.4-1 -.1-.9 .9-.2 .5 .2 .5zM161.8 90.1l1 .3 .9 -.4 .4 -.4 .4 -.9-.3 -.9-.5 -.6-.9 -.3-1 .3-.7 .6-.3 .9 .4 .9zM246.6 89.7l.9 .7 1 -.1 1 -.7 .4 -.9-.3 -.9-1.1 -.8-1 -.1-1.1 .9-.2 .9zM256 81.5l.9 .6 1 0 .9 -.5 1.3 -1.1 .5 -.9-.3 -1-1.5 -1.2-.9 -.5-1 0-.9 .5-1 1.2-.2 1 .3 .9zM162.8 80.5l1 -.9-.5 -1-.5 -.2-.7 .2-.5 1zM247.5 80.4l1 -.1 .5 -.7-.5 -1.1-1.2 .1-.4 1zM256.9 72.6l1 0 .9 -.5 .8 -.8 .6 -.9-.3 -.9-1.1 -1-.9 -.5-1 0-.9 .5-.7 1-.2 .9 .3 .9 .6 .7zM256.9 63.4l1 0 .9 -.5 .8 -.7 .5 -.9-.2 -.9-1.1 -1.1-.9 -.5-1 0-.9 .5-.8 1.1-.1 .9 .4 .9zM256.9 54.5l1 0 .9 -.5 1.1 -.9 .7 -.9-.2 -.9-1.6 -1.5-.9 -.6-1 0-.9 .6-1.1 1.5-.1 .9 .4 .9 .8 .9zM161.8 52.4l1 .5 1 -.7-.3 -.9-.7 -.4-.9 .4-.2 .9zM247.5 52.8l1 0 .5 -.6-.3 -.9-.2 -.3-1 0-.3 .3-.2 .9zM161.8 44.2l1 .3 1.1 -.5 .6 -1-.2 -.9-.6 -.8-.9 -.4-1 .3-.8 .9-.2 .9zM247.5 44.4l1 0 .7 -.4 .6 -1-.1 -.9-1.2 -1.1-1 0-1.2 1.1-.1 .9 .4 .8zM161.8 35.9l1 .3 .9 -.3 1.2 -1.1 .4 -.9-.1 -.9-.5 -.9-1 -1.1-.9 -.4-1 .4-2 2-.1 .9 .6 .9zM247.5 36.1l1 0 .9 -.5 1.6 -1.7-.1 -.9-1.5 -1.6-.9 -.6-1 -.1-.9 .7-1.2 1.6-.1 .9 .5 .9 .8 .8zM172.2 35l.9 -.4 .5 -.7-.1 -.9-.4 -.5-.9 -.4-1 .4-.4 .5-.1 .9 .5 .7zM238.1 34.9l1 0 .9 -1-.2 -.9-.7 -.8-1 -.1-1 .9 0 .9zM171.2 26.7l1 .3 .9 -.3 1.2 -1 .5 -.9 0 -.9-.5 -.9-1.2 -1.2-.9 -.4-1 .4-1.9 2.1 0 .9 .6 .9zM238.1 26.9l1 0 .9 -.6 1.4 -1.5 0 -.9-.7 -.9-1.6 -1.5-1 -.1-1.7 1.6-.5 .9 0 .9 .5 .9 .8 .8zM180.6 25.8l1 .3 .9 -.2 .9 -1.1 0 -.9-.9 -1.1-.9 -.3-1 .4-.7 1-.1 .9zM228.7 26.1l.9 -.1 1.2 -1.2 0 -.9-1.2 -1.2-.9 -.1-1 .6-.4 .7 0 .9 .4 .8zM191 25.4l1.1 -.6-.1 -1-1 -.4-.8 .5-.1 .9zM219.3 25.3l.9 -.2 .3 -.3-.1 -.9-.2 -.3-.9 -.2-.6 .5-.1 .9zM251.3 22.5l-1.4 -1.3-.3 -1 .4 -.9 1.3 -1 .9 -.2 1 .3 1 .9 .3 .9-.3 1-1 1.2-1 .4-.9 -.3M191 17.8l1 -.2 .9 -.7 .9 -1.2 0 -.9-.5 -1-1.3 -1.4-1 -.3-.9 .5-1.2 1.2-.5 1-.1 .9 .8 1 1 .8zM219.3 17.7l.9 -.1 1 -.5 1.1 -1.4 0 -.9-.6 -1-1.5 -1.5-.9 -.1-1 .6-.9 1-.5 1 0 .9 .5 .9 .9 .8zM199.5 17.1l.9 .4 1 -.2 1 -.7 .6 -.9 0 -.9-.6 -1-1 -1-1 -.2-.9 .5-1.3 1.7 0 .9 .6 .9zM208.9 17.1l.9 .4 1 -.2 1.1 -.7 .6 -.9 0 -.9-.6 -1-1.1 -1-1 -.2-.9 .5-1.2 1.7 0 .9z"/>
<path fill="none" stroke="#d3436e" stroke-width="2.4" stroke-linecap="round" d="M157.2 33.5h0m15 78.7h0"/>
<path fill="none" stroke="#d3436e" stroke-width="2.2" stroke-linecap="round" d="M157.3 97.8h0"/>
<path fill="none" stroke="#d3436e" stroke-width="1.6" stroke-linecap="round" d="M191.1 10.3h0m28.3 0h0m-9.5 14.3h0m52.6 27.5h0m-14.7 9.2h0m-85.1 9h0m99.8 9.2h0"/>
<path fill="none" stroke="#d3436e" stroke-width="1.8" stroke-linecap="round" d="M200.5 24.5h0m-37.8 36.7h0m85.1 9.2h0m-47.3 36.5h0m9.5 0h0"/>
<path fill="none" stroke="#f8765c" stroke-width="1.1" d="M258.9 112.4l-1 -.9 .1 -.9 2.7 -2.6 1 -.4 .9 .6M262.6 105.8l-.9 .6-3.8 -2.3-1 0-1.5 1-.7 .9-.3 .9 .7 1.6 1.7 2.1 .1 .9-.9 .9M262.6 23.1l-.9 .6-1 -.3-2.4 -2.2-.4 -.8-1 -.1-.3 .9-1.7 1.8-.4 .9-.1 .9 .5 .9 .9 .9 1.1 .7 1 0 .9 -.5 1.9 -1.4 1 -.4 .9 .6M157.1 16.6l.9 -.9 1 .1 2.1 1.7 1.7 .6 .9 -.2 .9 -.7 1.1 -1.5 0 -.9-2.4 -3.7 .7 -.9M262.6 11.7l-.9 .7-1 -.3-.4 -1 .7 -.9M161.4 10.2l.7 .9-.5 .9-2.6 2.7-1 0-.9 -.9M246.7 10.2l.6 .9-.4 .9-1.5 1.8-.4 1 0 .9 .6 1.1 1 .9 .9 .4 1 0 .9 -.5 1.9 -1.6 .8 -.3 0 -.9-.8 -.4-2.3 -2.4-.4 -.9 .6 -.9M254.7 10.2l.3 .9-.2 .9-1.6 2.2-.9 .6 0 .9 .9 .5 3.2 3.1 .5 .9 1 -.1 .5 -.8 2.3 -1.5 1 -.2 .9 .3M161.8 108.3l1 .3 .9 -.4 .3 -.4 .3 -.9-.6 -1.2-.9 -.3-1.4 .6-.4 .9 .3 .9zM246.6 107.9l.9 .7 1 -.1 .9 -.7 .3 -.9-.4 -.9-.8 -.5-1 0-.9 .5-.3 .9zM256.9 99.7l1 0 .9 -.6 .8 -1.3-.4 -.9-1.3 -.9-1 -.1-.9 .7-.5 1.2 .5 1.2zM256.9 89.2l1 0 .3 -.5-.3 -.7-1 0-.3 .7zM256.9 43.3l1 0 .3 -.3-.3 -.9-1 0-.2 .9zM256.9 35.4l1 0 .9 -.5 .7 -1-.1 -.9-.6 -.7-.9 -.7-1 0-.9 .7-.4 .7-.1 .9 .5 .9zM161.8 25.7l1 .3 .9 -.3 .6 -.9-.1 -.9-.5 -.8-.9 -.4-1 .3-.7 .9-.1 .9zM247.5 25.9l1 0 1.1 -1.1 0 -.9-1.1 -1.1-1 0-1.1 1.1 0 .9zM171.2 16.8l1 .3 .9 -.3 1 -1.1 0 -.9-1 -1.3-.9 -.4-1 .4-1 1.3 0 .9zM238.1 17l1 0 .7 -.4 .7 -.9 0 -.9-.7 -1-.7 -.5-1 -.1-.9 .6-.6 1 0 .9 .6 .9zM181.6 16l.7 -.3 0 -.9-.7 -.4-.5 .4-.1 .9zM228.7 15.9l1 -.2-.1 -1-.9 -.2-.3 .3 0 .9z"/>
<path fill="none" stroke="#f8765c" stroke-width="1.6" stroke-linecap="round" d="M262.3 10.5h0"/>
<path fill="none" stroke="#febb81" stroke-width="1.1" d="M256 16.9l.9 .6 1 0 1.5 -.9 .7 -.9 0 -.9-.7 -1-1.5 -1.2-1 0-.9 .7-.9 1.5 0 .9z"/>
<path fill="none" stroke="#febb81" stroke-width="2.2" stroke-linecap="round" d="M162.7 15.2h0m94.7 91.7h0"/>
<use href="#me9ac2b4124" x="205.3" y="65.7" fill="#f00"/>
<path fill="none" stroke="#d6d6d6" stroke-width=".8" stroke-linecap="square" stroke-linejoin="miter" d="M157.1 112.4l0 -102.2M262.6 112.4l0 -102.2M157.1 112.4l105.5 0M157.1 10.2l105.5 0"/>
<path fill="#000" d="M158.5 20.2l.4 -.1 .3 -.2 .2 -.3 .1 -.4-.1 -.4-.2 -.3-.3 -.2-.4 -.1-.4 .1-.3 .2-.2 .3-.1 .4 .1 .4 .2 .3 .3 .2zM168.7 19.7l.4 -.1 .3 -.2 .2 -.3 .1 -.4-.1 -.4-.2 -.3-.3 -.2-.4 -.1-.4 .1-.3 .2-.2 .3-.1 .4 .1 .4 .2 .3 .3 .2zM185.6 20.6l.6 -.1 .4 -.3 .3 -.4 .1 -.6-.1 -.6-.3 -.4-.4 -.3-.6 -.1-.6 .1-.4 .3-.3 .4-.1 .6 .1 .6 .3 .4 .4 .3zM201.7 20.2l.4 -.1 .3 -.2 .2 -.3 .1 -.4-.1 -.4-.2 -.3-.3 -.2-.4 -.1-.4 .1-.3 .2-.2 .3-.1 .4 .1 .4 .2 .3 .3 .2zM192 34.8l.6 -.2 .4 -.3 .3 -.4 .1 -.6-.1 -.6-.3 -.4-.4 -.3-.6 -.2-.6 .2-.4 .3-.3 .4-.1 .6 .1 .6 .3 .4 .4 .3zM207 31.4l.4 -.1 .3 -.2 .2 -.3 .1 -.4-.1 -.4-.2 -.3-.3 -.2-.4 -.1-.4 .1-.3 .2-.2 .3-.1 .4 .1 .4 .2 .3 .3 .2zM186.1 39.2l.4 -.1 .3 -.2 .2 -.3 .1 -.4-.1 -.4-.2 -.3-.3 -.2-.4 -.1-.4 .1-.3 .2-.2 .3-.1 .4 .1 .4 .2 .3 .3 .2zM196.3 44.5l.4 -.1 .3 -.2 .2 -.3 .1 -.4-.1 -.4-.2 -.3-.3 -.2-.4 -.1-.4 .1-.3 .2-.2 .3-.1 .4 .1 .4 .2 .3 .3 .2zM190 53.2l.6 -.2 .4 -.3 .3 -.4 .1 -.6-.1 -.6-.3 -.4-.4 -.3-.6 -.2-.6 .2-.4 .3-.3 .4-.1 .6 .1 .6 .3 .4 .4 .3zM206.5 57.6l.4 -.1 .3 -.2 .2 -.3 .1 -.4-.1 -.4-.2 -.3-.3 -.2-.4 -.1-.4 .1-.3 .2-.2 .3-.1 .4 .1 .4 .2 .3 .3 .2zM158.5 39.2l.4 -.1 .3 -.2 .2 -.3 .1 -.4-.1 -.4-.2 -.3-.3 -.2-.4 -.1-.4 .1-.3 .2-.2 .3-.1 .4 .1 .4 .2 .3 .3 .2zM207.5 40.1l.4 -.1 .3 -.2 .2 -.3 .1 -.4-.1 -.4-.2 -.3-.3 -.2-.4 -.1-.4 .1-.3 .2-.2 .3-.1 .4 .1 .4 .2 .3 .3 .2zM177.9 48.4l.4 -.1 .3 -.2 .2 -.3 .1 -.4-.1 -.4-.2 -.3-.3 -.2-.4 -.1-.4 .1-.3 .2-.2 .3-.1 .4 .1 .4 .2 .3 .3 .2zM229.3 20.5l.4 -.1 .3 -.2 .2 -.3 .1 -.4-.1 -.4-.2 -.3-.3 -.2-.4 -.1-.4 .1-.3 .2-.2 .3-.1 .4 .1 .4 .2 .3 .3 .2zM233.5 21.4l.6 -.1 .4 -.3 .3 -.4 .2 -.6-.2 -.6-.3 -.4-.4 -.3-.6 -.1-.6 .1-.4 .3-.3 .4-.2 .6 .2 .6 .3 .4 .4 .3zM241.9 20.5l.4 -.1 .3 -.2 .2 -.3 .1 -.4-.1 -.4-.2 -.3-.3 -.2-.4 -.1-.4 .1-.3 .2-.2 .3-.1 .4 .1 .4 .2 .3 .3 .2zM251.4 21l.4 -.1 .3 -.2 .2 -.3 .1 -.4-.1 -.4-.2 -.3-.3 -.2-.4 -.1-.4 .1-.3 .2-.2 .3-.1 .4 .1 .4 .2 .3 .3 .2zM214.5 31l.6 -.2 .4 -.3 .3 -.4 .2 -.6-.2 -.6-.3 -.4-.4 -.3-.6 -.2-.6 .2-.4 .3-.3 .4-.2 .6 .2 .6 .3 .4 .4 .3zM206.6 32.1l.4 -.1 .3 -.2 .2 -.3 .1 -.4-.1 -.4-.2 -.3-.3 -.2-.4 -.1-.4 .1-.3 .2-.2 .3-.1 .4 .1 .4 .2 .3 .3 .2zM238.8 31.6l.4 -.1 .3 -.2 .2 -.3 .1 -.4-.1 -.4-.2 -.3-.3 -.2-.4 -.1-.4 .1-.3 .2-.2 .3-.1 .4 .1 .4 .2 .3 .3 .2zM227.2 33.2l.4 -.1 .3 -.2 .2 -.3 .1 -.4-.1 -.4-.2 -.3-.3 -.2-.4 -.1-.4 .1-.3 .2-.2 .3-.1 .4 .1 .4 .2 .3 .3 .2zM233.5 36.8l.4 -.1 .3 -.2 .2 -.3 .1 -.4-.1 -.4-.2 -.3-.3 -.2-.4 -.1-.4 .1-.3 .2-.2 .3-.1 .4 .1 .4 .2 .3 .3 .2zM214.5 36.8l.4 -.1 .3 -.2 .2 -.3 .1 -.4-.1 -.4-.2 -.3-.3 -.2-.4 -.1-.4 .1-.3 .2-.2 .3-.1 .4 .1 .4 .2 .3 .3 .2zM225 41.6l.4 -.1 .3 -.2 .2 -.3 .1 -.4-.1 -.4-.2 -.3-.3 -.2-.4 -.1-.4 .1-.3 .2-.2 .3-.1 .4 .1 .4 .2 .3 .3 .2zM206.6 39l.4 -.1 .3 -.2 .2 -.3 .1 -.4-.1 -.4-.2 -.3-.3 -.2-.4 -.1-.4 .1-.3 .2-.2 .3-.1 .4 .1 .4 .2 .3 .3 .2zM208.2 44.8l.4 -.1 .3 -.2 .2 -.3 .1 -.4-.1 -.4-.2 -.3-.3 -.2-.4 -.1-.4 .1-.3 .2-.2 .3-.1 .4 .1 .4 .2 .3 .3 .2zM219.2 46.9l.4 -.1 .3 -.2 .2 -.3 .1 -.4-.1 -.4-.2 -.3-.3 -.2-.4 -.1-.4 .1-.3 .2-.2 .3-.1 .4 .1 .4 .2 .3 .3 .2zM224.5 48.8l.6 -.1 .4 -.3 .3 -.4 .2 -.6-.2 -.6-.3 -.4-.4 -.3-.6 -.1-.6 .1-.4 .3-.3 .4-.2 .6 .2 .6 .3 .4 .4 .3zM233.5 48.4l.4 -.1 .3 -.2 .2 -.3 .1 -.4-.1 -.4-.2 -.3-.3 -.2-.4 -.1-.4 .1-.3 .2-.2 .3-.1 .4 .1 .4 .2 .3 .3 .2zM241.9 47.9l.4 -.1 .3 -.2 .2 -.3 .1 -.4-.1 -.4-.2 -.3-.3 -.2-.4 -.1-.4 .1-.3 .2-.2 .3-.1 .4 .1 .4 .2 .3 .3 .2zM253.5 48.4l.4 -.1 .3 -.2 .2 -.3 .1 -.4-.1 -.4-.2 -.3-.3 -.2-.4 -.1-.4 .1-.3 .2-.2 .3-.1 .4 .1 .4 .2 .3 .3 .2zM239.8 49.5l.4 -.1 .3 -.2 .2 -.3 .1 -.4-.1 -.4-.2 -.3-.3 -.2-.4 -.1-.4 .1-.3 .2-.2 .3-.1 .4 .1 .4 .2 .3 .3 .2zM206.1 51.6l.4 -.1 .3 -.2 .2 -.3 .1 -.4-.1 -.4-.2 -.3-.3 -.2-.4 -.1-.4 .1-.3 .2-.2 .3-.1 .4 .1 .4 .2 .3 .3 .2zM211.3 55.8l.6 -.2 .4 -.3 .3 -.4 .2 -.6-.2 -.6-.3 -.4-.4 -.3-.6 -.2-.6 .2-.4 .3-.3 .4-.2 .6 .2 .6 .3 .4 .4 .3zM215 58.7l.9 -.2 .7 -.5 .5 -.7 .2 -.9-.2 -.9-.5 -.7-.7 -.5-.9 -.2-.9 .2-.7 .5-.5 .7-.2 .9 .2 .9 .5 .7 .7 .5zM206.6 57.4l.4 -.1 .3 -.2 .2 -.3 .1 -.4-.1 -.4-.2 -.3-.3 -.2-.4 -.1-.4 .1-.3 .2-.2 .3-.1 .4 .1 .4 .2 .3 .3 .2zM219.8 55.3l.4 -.1 .3 -.2 .2 -.3 .1 -.4-.1 -.4-.2 -.3-.3 -.2-.4 -.1-.4 .1-.3 .2-.2 .3-.1 .4 .1 .4 .2 .3 .3 .2zM236.6 55.3l.4 -.1 .3 -.2 .2 -.3 .1 -.4-.1 -.4-.2 -.3-.3 -.2-.4 -.1-.4 .1-.3 .2-.2 .3-.1 .4 .1 .4 .2 .3 .3 .2zM230.3 59.5l.4 -.1 .3 -.2 .2 -.3 .1 -.4-.1 -.4-.2 -.3-.3 -.2-.4 -.1-.4 .1-.3 .2-.2 .3-.1 .4 .1 .4 .2 .3 .3 .2zM204.5 62l.4 -.1 .3 -.2 .2 -.3 .1 -.4-.1 -.4-.2 -.3-.3 -.2-.4 -.1-.4 .1-.3 .2-.2 .3-.1 .4 .1 .4 .2 .3 .3 .2zM196.6 67.9l.4 -.1 .3 -.2 .2 -.3 .1 -.4-.1 -.4-.2 -.3-.3 -.2-.4 -.1-.4 .1-.3 .2-.2 .3-.1 .4 .1 .4 .2 .3 .3 .2zM200.5 69.8l.6 -.1 .4 -.3 .3 -.4 .2 -.6-.2 -.6-.3 -.4-.4 -.3-.6 -.1-.6 .1-.4 .3-.3 .4-.2 .6 .2 .6 .3 .4 .4 .3zM196.1 76.5l.8 -.2 .8 -.4 .4 -.8 .2 -.8-.2 -.8-.4 -.8-.8 -.4-.8 -.2-.8 .2-.8 .4-.4 .8-.2 .8 .2 .8 .4 .8 .8 .4zM197.6 76.2l.6 -.1 .4 -.3 .3 -.4 .1 -.6-.1 -.6-.3 -.4-.4 -.3-.6 -.1-.6 .1-.4 .3-.3 .4-.1 .6 .1 .6 .3 .4 .4 .3zM205 75.8l.4 -.1 .3 -.2 .2 -.3 .1 -.4-.1 -.4-.2 -.3-.3 -.2-.4 -.1-.4 .1-.3 .2-.2 .3-.1 .4 .1 .4 .2 .3 .3 .2zM191.6 79.8l.6 -.2 .4 -.3 .3 -.4 .1 -.6-.1 -.6-.3 -.4-.4 -.3-.6 -.2-.6 .2-.4 .3-.3 .4-.1 .6 .1 .6 .3 .4 .4 .3zM188.7 80.8l.4 -.1 .3 -.2 .2 -.3 .1 -.4-.1 -.4-.2 -.3-.3 -.2-.4 -.1-.4 .1-.3 .2-.2 .3-.1 .4 .1 .4 .2 .3 .3 .2zM186.7 84.2l.4 -.1 .3 -.2 .2 -.3 .1 -.4-.1 -.4-.2 -.3-.3 -.2-.4 -.1-.4 .1-.3 .2-.2 .3-.1 .4 .1 .4 .2 .3 .3 .2zM193.6 88.7l.4 -.1 .3 -.2 .2 -.3 .1 -.4-.1 -.4-.2 -.3-.3 -.2-.4 -.1-.4 .1-.3 .2-.2 .3-.1 .4 .1 .4 .2 .3 .3 .2zM200.5 87.7l.4 -.1 .3 -.2 .2 -.3 .1 -.4-.1 -.4-.2 -.3-.3 -.2-.4 -.1-.4 .1-.3 .2-.2 .3-.1 .4 .1 .4 .2 .3 .3 .2zM196.6 93.6l.4 -.1 .3 -.2 .2 -.3 .1 -.4-.1 -.4-.2 -.3-.3 -.2-.4 -.1-.4 .1-.3 .2-.2 .3-.1 .4 .1 .4 .2 .3 .3 .2zM169.9 80.8l.4 -.1 .3 -.2 .2 -.3 .1 -.4-.1 -.4-.2 -.3-.3 -.2-.4 -.1-.4 .1-.3 .2-.2 .3-.1 .4 .1 .4 .2 .3 .3 .2zM161 85.2l.6 -.2 .4 -.3 .3 -.4 .1 -.6-.1 -.6-.3 -.4-.4 -.3-.6 -.2-.6 .2-.4 .3-.3 .4-.1 .6 .1 .6 .3 .4 .4 .3zM166.9 98.1l.4 -.1 .3 -.2 .2 -.3 .1 -.4-.1 -.4-.2 -.3-.3 -.2-.4 -.1-.4 .1-.3 .2-.2 .3-.1 .4 .1 .4 .2 .3 .3 .2zM159 112.4l.4 -.1 .3 -.2 .2 -.3 .1 -.4-.1 -.4-.2 -.3-.3 -.2-.4 -.1-.4 .1-.3 .2-.2 .3-.1 .4 .1 .4 .2 .3 .3 .2zM180.7 70.4l.4 -.1 .3 -.2 .2 -.3 .1 -.4-.1 -.4-.2 -.3-.3 -.2-.4 -.1-.4 .1-.3 .2-.2 .3-.1 .4 .1 .4 .2 .3 .3 .2zM177.8 84.7l.4 -.1 .3 -.2 .2 -.3 .1 -.4-.1 -.4-.2 -.3-.3 -.2-.4 -.1-.4 .1-.3 .2-.2 .3-.1 .4 .1 .4 .2 .3 .3 .2zM213.4 65.6l.6 -.1 .4 -.3 .3 -.4 .1 -.6-.1 -.6-.3 -.4-.4 -.3-.6 -.1-.6 .1-.4 .3-.3 .4-.1 .6 .1 .6 .3 .4 .4 .3zM229.3 66.3l.4 -.1 .3 -.2 .2 -.3 .1 -.4-.1 -.4-.2 -.3-.3 -.2-.4 -.1-.4 .1-.3 .2-.2 .3-.1 .4 .1 .4 .2 .3 .3 .2zM206 76.8l.4 -.1 .3 -.2 .2 -.3 .1 -.4-.1 -.4-.2 -.3-.3 -.2-.4 -.1-.4 .1-.3 .2-.2 .3-.1 .4 .1 .4 .2 .3 .3 .2zM206 86.3l.4 -.1 .3 -.2 .2 -.3 .1 -.4-.1 -.4-.2 -.3-.3 -.2-.4 -.1-.4 .1-.3 .2-.2 .3-.1 .4 .1 .4 .2 .3 .3 .2zM218.7 91.6l.4 -.1 .3 -.2 .2 -.3 .1 -.4-.1 -.4-.2 -.3-.3 -.2-.4 -.1-.4 .1-.3 .2-.2 .3-.1 .4 .1 .4 .2 .3 .3 .2zM239.3 85.8l.4 -.1 .3 -.2 .2 -.3 .1 -.4-.1 -.4-.2 -.3-.3 -.2-.4 -.1-.4 .1-.3 .2-.2 .3-.1 .4 .1 .4 .2 .3 .3 .2zM239.8 89.5l.4 -.1 .3 -.2 .2 -.3 .1 -.4-.1 -.4-.2 -.3-.3 -.2-.4 -.1-.4 .1-.3 .2-.2 .3-.1 .4 .1 .4 .2 .3 .3 .2zM254 81l.4 -.1 .3 -.2 .2 -.3 .1 -.4-.1 -.4-.2 -.3-.3 -.2-.4 -.1-.4 .1-.3 .2-.2 .3-.1 .4 .1 .4 .2 .3 .3 .2zM254.6 62l.4 -.1 .3 -.2 .2 -.3 .1 -.4-.1 -.4-.2 -.3-.3 -.2-.4 -.1-.4 .1-.3 .2-.2 .3-.1 .4 .1 .4 .2 .3 .3 .2zM234 113.2l.4 -.1 .3 -.2 .2 -.3 .1 -.4-.1 -.4-.2 -.3-.3 -.2-.4 -.1-.4 .1-.3 .2-.2 .3-.1 .4 .1 .4 .2 .3 .3 .2zM215.5 88.4l.4 -.1 .3 -.2 .2 -.3 .1 -.4-.1 -.4-.2 -.3-.3 -.2-.4 -.1-.4 .1-.3 .2-.2 .3-.1 .4 .1 .4 .2 .3 .3 .2zM201 61.4l.6 -.1 .4 -.3 .3 -.4 .1 -.6-.1 -.6-.3 -.4-.4 -.3-.6 -.1-.6 .1-.4 .3-.3 .4-.1 .6 .1 .6 .3 .4 .4 .3zM210 59.4l.6 -.1 .4 -.3 .3 -.4 .1 -.6-.1 -.6-.3 -.4-.4 -.3-.6 -.1-.6 .1-.4 .3-.3 .4-.1 .6 .1 .6 .3 .4 .4 .3zM203 71l.4 -.1 .3 -.2 .2 -.3 .1 -.4-.1 -.4-.2 -.3-.3 -.2-.4 -.1-.4 .1-.3 .2-.2 .3-.1 .4 .1 .4 .2 .3 .3 .2z"/>
<text x="209.8" y="8.4" font-size="8.45" text-anchor="middle">Search history</text>
<path fill="#fff" d="M157.1 248.4l105.5 0 0 -102.2-105.5 0z"/>
<text x="160.4" y="254.6" font-size="4.9" text-anchor="middle">−30</text>
<text x="176.6" y="254.6" font-size="4.9" text-anchor="middle">−20</text>
<text x="192.9" y="254.6" font-size="4.9" text-anchor="middle">−10</text>
<text x="209.1" y="254.6" font-size="4.9" text-anchor="middle">0</text>
<text x="225.4" y="254.6" font-size="4.9" text-anchor="middle">10</text>
<text x="241.6" y="254.6" font-size="4.9" text-anchor="middle">20</text>
<text x="257.9" y="254.6" font-size="4.9" text-anchor="middle">30</text>
<text x="209.8" y="263.3" font-size="8.45" text-anchor="middle">x1</text>
<text x="155.8" y="247" font-size="4.9" text-anchor="end">−30</text>
<text x="155.8" y="231.3" font-size="4.9" text-anchor="end">−20</text>
<text x="155.8" y="215.5" font-size="4.9" text-anchor="end">−10</text>
<text x="155.8" y="199.8" font-size="4.9" text-anchor="end">0</text>
<text x="155.8" y="184" font-size="4.9" text-anchor="end">10</text>
<text x="155.8" y="168.3" font-size="4.9" text-anchor="end">20</text>
<text x="155.8" y="152.5" font-size="4.9" text-anchor="end">30</text>
<text x="151.1" y="197.3" font-size="8.45" text-anchor="middle" transform="rotate(-90 151.1 197.3)">x2</text>
<path fill="none" stroke="#1d1147" stroke-width="2.4" stroke-linecap="round" d="M209.1 198h0"/>
<path fill="none" stroke="#51127c" stroke-width="1.1" d="M209 201.4l-.3 -.2 0 -.8-1.4 -.2-.5 -.6-.1 -1.1-.8 -.1-.3 -.4 .3 -.4 .8 -.1 .1 -1.1 .5 -.5 1.4 -.3 0 -.7 .4 -.3 .4 .3 0 .7 1.4 .3 .5 .5 .1 1.1 .9 .1 .3 .4-.3 .4-.8 0-.3 1.3-.6 .5-1.1 .1-.2 .2 .1 .7z"/>
<path fill="none" stroke="#832681" stroke-width="1.1" d="M209 203.2l-.7 -.3-1 .3-.4 -.5-.1 -.8-.9 0-.8 -.7 0 -1-.9 0-.3 -.3-.1 -.5 .3 -.6-.4 -.8 .4 -.8-.3 -.8 .4 -.6 .9 0 0 -.9 .8 -.8 .9 0 .1 -.8 .4 -.4 1 .2 .8 -.4 .8 .4 .8 -.3 .7 .5 0 .8 1 0 .8 .8 0 .9 .8 0 .4 .5-.2 .9 .4 .8-.4 .8 .3 .8-.5 .6-.8 0 0 1-.8 .7-1 0 0 .8-.5 .5-1 -.3z"/>
<path fill="none" stroke="#832681" stroke-width="1.6" stroke-linecap="round" d="M205.9 193.4h0m6.4 0h0m-7.9 1.5h0m9.4 0h0m-9.4 6.2h0m9.4 0h0m-7.9 1.5h0m6.4 0h0"/>
<path fill="none" stroke="#b73779" stroke-width="1.1" d="M207.5 206.4l-.6 -.5 .1 -.6-.3 -.3-.5 .3 .3 .6-.5 .3-.3 0-.3 -.3 .3 -.6-.2 -.4-.4 -.3-1 .2-.5 -.5 .1 -.9-.4 -.3-.7 .2-.5 -.4 .2 -1-.3 -.4-.4 -.1-.6 .2-.4 -.3 0 -.3 .4 -.4 .6 .2 .3 -.3-.1 -.3-.8 0-.5 -.5 .4 -.9-.5 -.8 .5 -.8-.4 -.8 .5 -.6 .6 .1 .3 -.4-.3 -.3-.6 .2-.4 -.5 .4 -.5 .6 .3 .5 -.3 .2 -.3-.2 -1 .5 -.4 .7 .2 .4 -.2-.1 -1 .3 -.3 .3 -.2 .9 .2 .4 -.3 .2 -.3-.3 -.7 .3 -.3 .3 0 .5 .3-.3 .7 .3 .2 .4 -.1 0 -.8 .4 -.4 1 .4 .8 -.5 .8 .5 .8 -.4 .7 .4-.1 .7 .4 .2 .3 -.2-.2 -.7 .6 -.4 .4 .4-.2 .7 .3 .4 .3 .2 1 -.2 .4 .5-.2 .6 .2 .5 1 -.1 .4 .3 .2 .3-.2 .8 .3 .4 .3 .2 .6 -.3 .4 .3 0 .3-.4 .4-.6 -.2-.3 .3 .1 .3 .8 0 .5 .5-.4 .9 .5 .8-.5 .8 .4 .8-.5 .6-.6 -.1-.3 .4 .3 .3 .6 -.2 .4 .6-.4 .4-.6 -.2-.5 .2-.1 .3 .1 1-.5 .4-.6 -.2-.5 .3 .1 .9-.3 .4-.3 .2-.8 -.3-.5 .3-.1 .4 .2 .6-.3 .3-.3 0-.4 -.3 .2 -.6-.3 -.3-.4 .1 .1 .8-.5 .4-1 -.3-.8 .4-.8 -.4-.8 .4"/>
<path fill="none" stroke="#b73779" stroke-width="1.4" stroke-linecap="round" d="M204.3 190.2h0m9.7 0h0m-12.9 3.1h0m16.1 0h0m-16.1 9.4h0m16.1 0h0m-12.9 3.1h0m9.7 0h0"/>
<path fill="none" stroke="#b73779" stroke-width="1.6" stroke-linecap="round" d="M202.7 191.8h0m12.9 0h0m-12.9 12.4h0m12.9 0h0"/>
<path fill="none" stroke="#e75263" stroke-width="1.1" d="M207.3 211l-.3 -.4 .3 -.6-.3 -.5-.5 -.1-.6 .4-.8 -.6-1 .3-.5 -.5 .2 -.6-.4 -.5-.6 .3 .4 .8-.4 .4-.3 0-.4 -.4 .4 -.6-.1 -.3-.6 -.5-1 .3-.4 -.4 .4 -.7-.3 -.5-.5 -.2-.6 .3-.5 -.4 .3 -.9-.5 -.6-.3 -.1-.7 .4-.4 -.3 0 -.3 .4 -.5 .9 .4 .3 -.6-.5 -.4-.7 .3-.5 -.5 .3 -1-.5 -.7 .4 -.7-.2 -.4-.4 -.3-.7 .3-.4 -.4 .3 -.6 .3 0 .6 .3 .4 -.6-.4 -.5-.8 .3-.4 -.4 0 -.3 .4 -.4 .8 .3 .4 -.6-.4 -.6-.8 .4-.4 -.6 .4 -.5 .7 .4 .4 -.3 .2 -.5-.4 -.6 .5 -.8-.3 -1 .5 -.5 .7 .3 .5 -.4-.3 -.6-.9 .4-.4 -.4 0 -.3 .4 -.3 .7 .3 .3 -.1 .5 -.6-.3 -.9 .5 -.4 .6 .3 .5 -.2 .3 -.5-.4 -.6 .4 -.5 1 .3 .6 -.5 .1 -.3-.4 -.6 .4 -.4 .3 0 .4 .4-.4 .8 .6 .3 .4 -.5-.2 -.6 .5 -.5 1 .3 .8 -.6 .6 .4 .5 -.1 .3 -.5-.3 -.6 .3 -.4 .6 .3 .1 .3-.3 .6 .6 .4 .6 -.4-.3 -.8 .4 -.4 .3 0 .4 .4-.3 .8 .5 .4 .6 -.4-.3 -.8 .5 -.4 .6 .4-.4 .6 .3 .5 .5 .1 .7 -.4 .8 .6 1 -.3 .5 .5-.3 .6 .4 .5 .6 -.3-.4 -.8 .5 -.4 .3 0 .3 .4-.4 .6 .1 .3 .6 .5 1 -.3 .4 .5-.3 .6 .2 .5 .5 .2 .7 -.3 .4 .4-.2 .9 .4 .6 .3 .1 .7 -.3 .4 .3 0 .3-.4 .4-.8 -.4-.3 .6 .4 .4 .7 -.3 .5 .5-.3 1 .6 .8-.4 .6 .1 .5 .5 .3 .6 -.4 .4 .4-.2 .6-.3 .1-.7 -.4-.4 .6 .4 .6 .8 -.3 .4 .4 0 .3-.4 .4-.8 -.3-.4 .5 .4 .6 .8 -.4 .5 .6-.5 .5-.6 -.3-.5 .3-.1 .4 .4 .7-.6 .7 .3 1-.5 .5-.7 -.3-.4 .4 .3 .6 .8 -.4 .4 .5 0 .3-.4 .3-.7 -.4-.3 .1-.4 .6 .2 .9-.4 .4-.7 -.3-.5 .2-.2 .5 .3 .7-.4 .4-1 -.3-.6 .5-.1 .3 .4 .6-.3 .4-.3 0-.5 -.4 .4 -.8-.6 -.3-.4 .5 .3 .6-.5 .5-1 -.3-.8 .6-.7 -.4-.5 .1-.3 .5 .4 .6-.4 .4-.6 -.2-.1 -.4 .3 -.6-.6 -.3-.5 .3 .3 .8-.4 .4-.3 0-.4 -.4 .3 -.8-.6 -.3-.6 .3 .3 .6-.1 .4z"/>
<path fill="none" stroke="#e75263" stroke-width="1.6" stroke-linecap="round" d="M204.3 185.5h0m9.7 0h0m-13 1.5h0m16.2 0h0m-17.8 1.6h0m19.4 0h0m-21 1.6h0m22.6 0h0m-24.2 3.1h0m25.9 0h0m-25.9 9.4h0m25.9 0h0m-24.3 3.1h0m22.6 0h0m-21 1.6h0m19.4 0h0m-17.8 1.6h0m16.2 0h0m-12.9 1.5h0m9.7 0h0"/>
<path fill="none" stroke="#e75263" stroke-width="1.8" stroke-linecap="round" d="M205.9 185.5h0m6.5 0h0m-16.2 9.4h0m25.8 0h0m-25.8 6.2h0m25.8 0h0m-16.1 9.4h0m6.5 0h0"/>
<path fill="none" stroke="#fc8961" stroke-width="1.1" d="M204.2 217.4l-.5 -.5 .5 -.8-.6 -.5-1 .4-.8 -.7-.6 .5-.5 -.1-.3 -.4 .4 -.6-.1 -.3-.5 -.4-.8 .4-.4 -.2-.4 -.4 .4 -.7-.3 -.5-.3 0-.5 .4 .6 .8-.6 .4-.3 0-.4 -.4 .5 -.8-.3 -.3-.5 -.4-.9 .4-.5 -.5 .5 -.8-.3 -.3-.4 -.3-.8 .4-.5 -.4-.1 -.4 .5 -.6-.4 -.4-.3 -.3-.8 .5-.5 -.4 0 -.3 .5 -.6 .8 .6 .4 -.5 0 -.3-.6 -.3-.6 .4-.5 -.4-.2 -.3 .4 -.8-.4 -.6-.3 0-.7 .4-.3 -.3-.2 -.5 .5 -.6-.6 -.8 .4 -.9-.6 -.7-.8 .6-.5 -.6 .5 -.5 .8 .5 .6 -.8-.6 -.6-.8 .5-.5 -.6 .5 -.7 .8 .5 .5 -.6-.5 -.6-.8 .4-.6 -.6 .6 -.7 .8 .4 .5 -.5-.5 -.5-.8 .4-.5 -.5 0 -.3 .5 -.6 .8 .5 .5 -.6-.5 -.5-.8 .4-.5 -.5 0 -.3 .5 -.5 .8 .4 .5 -.6-.5 -.6-.8 .5-.5 -.6 .5 -.6 .8 .4 .6 -.6-.6 -.8-.8 .6-.5 -.6 .5 -.6 .8 .6 .6 -.6-.4 -1 .6 -.8-.5 -.6 .2 -.5 .3 -.3 .7 .4 .3 0 .4 -.6-.4 -.7 .2 -.4 .5 -.4 .6 .4 .6 -.3 0 -.3-.4 -.5-.8 .6-.5 -.6 0 -.3 .5 -.4 .8 .5 .3 -.3 .4 -.4-.5 -.6 .1 -.3 .5 -.5 .8 .5 .4 -.4 .3 -.3-.5 -.8 .5 -.5 .9 .4 .5 -.3 .3 -.4-.5 -.7 .4 -.5 .3 0 .6 .5-.6 .7 .5 .5 .3 -.1 .3 -.5-.4 -.6 .4 -.5 .4 -.2 .8 .4 .5 -.4 .1 -.3-.4 -.6 .3 -.4 .5 -.1 .6 .5 .8 -.6 1 .3 .6 -.5-.5 -.8 .5 -.5 .6 .5-.5 .8 .8 .5 .6 -.5-.4 -.8 .6 -.5 .6 .5-.4 .8 .6 .4 .6 -.4-.5 -.8 .7 -.5 .7 .5-.5 .8 .6 .4 .6 -.4-.5 -.8 .6 -.5 .3 0 .5 .5-.4 .8 .5 .4 .6 -.4-.5 -.8 .6 -.5 .3 0 .5 .5-.4 .8 .6 .4 .6 -.4-.5 -.8 .7 -.5 .6 .5-.5 .8 .7 .5 .8 -.5-.6 -.8 .6 -.5 .6 .5-.6 .8 .6 .5 1 -.3 .8 .6 .7 -.5 .5 .1 .3 .4-.4 .6 0 .3 .6 .4 .8 -.4 .3 .2 .5 .5-.5 .6 .3 .5 .3 .1 .6 -.5-.7 -.7 .6 -.5 .4 0 .4 .5-.5 .7 .3 .4 .4 .3 1 -.4 .4 .5-.4 .8 .2 .3 .4 .4 .8 -.5 .6 .5 0 .3-.4 .6 .3 .4 .4 .3 .8 -.5 .5 .4 0 .3-.5 .6-.8 -.6-.5 .5 .1 .3 .5 .3 .7 -.4 .4 .4 .3 .4-.5 .7 .4 .6 .3 0 .7 -.4 .4 .3 .1 .5-.5 .6 .7 .8-.4 1 .5 .6 .8 -.6 .5 .6-.5 .6-.8 -.6-.5 .8 .5 .6 .8 -.4 .6 .6-.6 .6-.8 -.5-.5 .6 .5 .6 .8 -.4 .6 .6-.6 .7-.8 -.4-.4 .5 .4 .6 .8 -.5 .6 .6 0 .3-.6 .5-.8 -.4-.4 .5 .4 .5 .8 -.4 .5 .5 0 .3-.5 .5-.8 -.4-.5 .6 .5 .6 .8 -.5 .6 .7-.6 .6-.8 -.5-.5 .6 .5 .8 .8 -.5 .5 .5-.5 .6-.8 -.6-.5 .7 .4 .9-.7 .8 .5 .6-.1 .5-.4 .3-.7 -.4-.3 0-.4 .6 .5 .8-.3 .3-.4 .4-.7 -.4-.5 .3-.1 .3 .5 .5 .8 -.6 .5 .6 0 .3-.5 .4-.8 -.5-.4 .3-.3 .4 .4 .6 0 .4-.6 .4-.8 -.4-.4 .3-.2 .3 .4 .8-.4 .5-1 -.4-.4 .4-.3 .3 .5 .8-.4 .4-.4 0-.6 -.4 .7 -.8-.6 -.4-.3 0-.3 .5 .5 .7-.5 .4-.3 .2-.8 -.4-.6 .4 0 .3 .4 .6-.3 .4-.5 .1-.7 -.5-.8 .7-1 -.4-.6 .5 .6 .8-.6 .5-.6 -.5 .6 -.8-.8 -.5-.7 .5 .5 .8-.6 .5-.7 -.5 .5 -.8-.6 -.4-.6 .4 .4 .8-.7 .6-.7 -.6 .5 -.8-.6 -.4-.5 .4 .4 .8-.5 .5-.3 0-.6 -.5 .5 -.8-.6 -.4-.6 .4 .5 .8-.5 .5-.4 0-.5 -.5 .5 -.8-.6 -.4-.6 .4 .4 .8-.6 .5-.6 -.5 .4 -.8-.6 -.5-.8 .5 .5 .8-.6 .5"/>
<path fill="none" stroke="#fc8961" stroke-width="1" stroke-linecap="round" d="M207.5 176h0m1.6 0h0m1.6 0h0m-9.7 1.6h0m1.6 0h0m13 0h0m1.6 0h0m-19.4 1.5h0m22.7 0h0m-24.4 1.6h0m26 0h0m-18.7 .7h0m11.4 0h0m-23.5 4h0m35.7 0h0m-37.4 1.6h0m39 0h0m-40.6 3.1h0m42.2 0h0m-42.2 1.6h0m42.2 0h0m-38.3 .8h0m34.4 0h0m-39.9 2.4h0m45.5 0h0m-45.5 1.5h0m45.5 0h0m-45.5 1.6h0m45.5 0h0m-45.5 1.6h0m45.5 0h0m-45.5 1.6h0m45.5 0h0m-40 2.4h0m34.4 0h0m-38.3 .7h0m42.2 0h0m-42.2 1.6h0m42.2 0h0m-40.6 3.1h0m39 0h0m-37.3 1.6h0m35.7 0h0m-23.6 4.1h0m11.4 0h0m-18.7 .6h0m26 0h0m-24.3 1.6h0m22.7 0h0m-19.5 1.6h0m1.6 0h0m13 0h0m1.6 0h0m-9.7 1.5h0m1.6 0h0m1.6 0h0"/>
<path fill="none" stroke="#fc8961" stroke-width="1.2" stroke-linecap="round" d="M204.2 177.6h0m1.7 0h0m1.6 0h0m1.6 0h0m1.6 0h0m1.7 0h0m1.6 0h0m-14.6 1.5h0m1.6 0h0m16.2 0h0m1.7 0h0m-21.1 1.6h0m22.7 0h0m-26 1.6h0m1.6 0h0m26 0h0m1.6 0h0m-30.8 1.6h0m32.5 0h0m-34.1 3.1h0m35.7 0h0m-37.4 1.6h0m39 0h0m-39 1.5h0m39 0h0m-40.6 3.2h0m42.2 0h0m-42.2 1.6h0m42.2 0h0m-42.2 1.5h0m42.2 0h0m-42.2 1.6h0m42.2 0h0m-42.2 1.6h0m42.2 0h0m-42.2 1.6h0m42.2 0h0m-42.2 1.5h0m42.2 0h0m-40.6 3.2h0m39 0h0m-39 1.5h0m39 0h0m-37.3 1.6h0m35.7 0h0m-34.1 3.2h0m32.5 0h0m-30.9 1.5h0m1.6 0h0m26 0h0m1.6 0h0m-25.9 1.6h0m22.7 0h0m-21.1 1.6h0m1.6 0h0m16.2 0h0m1.7 0h0m-14.7 1.5h0m1.7 0h0m1.6 0h0m1.6 0h0m1.6 0h0m1.7 0h0m1.6 0h0"/>
<path fill="none" stroke="#fc8961" stroke-width="1.4" stroke-linecap="round" d="M202.6 179.2h0m13 0h0m-16.2 1.6h0m19.4 0h0m-17.1 .5h0m14.8 0h0m-22 2.6h0m29.2 0h0m-26.9 .6h0m24.6 0h0m-28.5 .9h0m32.4 0h0m-30.1 .7h0m27.8 0h0m-31.7 2.5h0m35.6 0h0m-37.2 3.1h0m38.9 0h0m-38.9 12.6h0m38.9 0h0m-37.3 3.1h0m35.6 0h0m-31.7 2.5h0m27.8 0h0m-30.1 .7h0m32.4 0h0m-28.5 .9h0m24.6 0h0m-26.9 .6h0m29.2 0h0m-22 2.6h0m14.8 0h0m-17.1 .6h0m19.4 0h0m-16.2 1.5h0m13 0h0"/>
<path fill="none" stroke="#fc8961" stroke-width="1.6" stroke-linecap="round" d="M191.9 190.9h0m34.5 0h0m-34.5 14.3h0m34.5 0h0"/>
<path fill="none" stroke="#fec488" stroke-width=".6" d="M207.5 236.5l-.7 -.7 .7 -.8-.8 -.7-.8 .7-.8 -.7-.9 .7-.8 -.7-.8 .7-.8 -.8-.8 .7-.8 -.7 .7 -.8-.7 -.6-.8 .6 .8 .8-.8 .7-.8 -.7 .7 -.8-.4 -.4-.3 -.3-.9 .7-.8 -.7-.8 .7-.8 -.7 .7 -.8-.7 -.7-.8 .7 .8 .8-.8 .6-.8 -.6 .8 -.8-.8 -.7-.8 .6-.9 -.7-.8 .7-.3 -.3-.4 -.4 .7 -.8-.8 -.7-.8 .7-.2 -.2-.6 -.6 .7 -.8-.7 -.6-.8 .6 .8 .8-.7 .6-.3 0-.5 -.6 .7 -.8-.8 -.7-.8 .6-.5 -.4-.3 -.3 .7 -.8-.8 -.7-.8 .7-.3 -.3-.4 -.4 .7 -.8-.8 -.7-.8 .6-.5 -.4-.3 -.3 .7 -.8-.5 -.6-.2 -.1-.8 .7-.3 -.3-.5 -.5 .7 -.8-.1 -.1-.6 -.6-.8 .7-.4 -.3-.4 -.5 .7 -.8-.8 -.7-.8 .7-.4 -.4-.3 -.3 .7 -.8-.6 -.7-.2 -.1-.8 .7-.6 -.6 0 -.3 .6 -.6 .8 .8 .7 -.8-.7 -.7-.8 .7-.6 -.6-.2 -.2 .7 -.8-.7 -.7-.8 .7-.5 -.5-.2 -.3 .7 -.8-.8 -.7 .7 -.8-.7 -.8-.8 .7-.8 -.7 .8 -.8 .8 .7 .6 -.7-.6 -.7-.8 .7-.8 -.8 .7 -.8-.8 -.8 .8 -.8-.3 -.3-.5 -.4-.8 .7-.7 -.7 .7 -.8 .8 .7 .7 -.7-.7 -.7-.8 .7-.7 -.8 .7 -.8-.7 -.8 .7 -.8-.8 -.8 .8 -.8-.8 -.7 .8 -.8-.8 -.8-.8 .7-.7 -.7 .7 -.7 .8 .7 .7 -.8-.7 -.8-.8 .7-.7 -.7 .7 -.7 .8 .7 .7 -.8-.7 -.8-.8 .7-.7 -.7 .7 -.7 .8 .7 .8 -.8-.8 -.7 .8 -.8-.8 -.8 .8 -.8-.7 -.8 .7 -.8-.7 -.8 .7 -.7 .8 .7 .7 -.8-.7 -.7-.8 .7-.7 -.7 .7 -.8 .8 .7 .5 -.4 .3 -.3-.8 -.8 .8 -.8-.7 -.8 .8 -.8 .8 .7 .6 -.7-.6 -.7-.8 .7-.8 -.8 .8 -.7 .8 .7 .7 -.8-.7 -.7 .8 -.8-.7 -.8 .2 -.3 .5 -.4 .8 .6 .7 -.7-.7 -.8 .2 -.1 .6 -.7 .8 .7 .7 -.7-.7 -.7-.8 .7-.6 -.6 0 -.3 .6 -.6 .8 .7 .8 -.8-.7 -.7 .4 -.5 .3 -.3 .8 .7 .8 -.7-.7 -.8 .3 -.3 .5 -.5 .8 .7 .7 -.7-.7 -.8 .5 -.5 .3 -.2 .8 .6 .6 -.5 .1 -.2-.7 -.8 .3 -.3 .5 -.4 .8 .7 .2 -.2 .6 -.5-.7 -.8 .3 -.4 .4 -.4 .8 .7 .8 -.7-.7 -.8 .4 -.5 .4 -.2 .8 .7 .6 -.6 .2 -.2-.7 -.8 .5 -.6 .3 0 .7 .6-.8 .8 .8 .7 .7 -.7-.7 -.8 .6 -.6 .2 -.1 .8 .6 .8 -.7-.7 -.8 .4 -.4 .3 -.3 .8 .7 .9 -.7 .8 .7 .8 -.7-.8 -.8 .8 -.7 .8 .7-.8 .8 .8 .6 .7 -.6-.7 -.8 .8 -.8 .8 .7 .8 -.7 .9 .7 .3 -.3 .4 -.4-.7 -.8 .8 -.7 .8 .7-.8 .8 .8 .6 .7 -.6-.7 -.8 .8 -.7 .8 .7 .8 -.8 .8 .7 .8 -.7 .9 .7 .8 -.7 .8 .7 .8 -.7-.7 -.8 .7 -.6 .7 .6-.7 .8 .8 .7 .8 -.7-.7 -.8 .7 -.6 .8 .6-.8 .8 .8 .7 .8 -.7-.7 -.8 .7 -.6 .8 .6-.8 .8 .9 .7 .8 -.7 .8 .7 .8 -.7 .8 .7 .8 -.7 .8 .8 .8 -.7 .8 .7-.7 .8 .8 .6 .7 -.6-.7 -.8 .8 -.7 .7 .7-.7 .8 .5 .4 .3 .3 .8 -.7 .8 .7 .8 -.7 .8 .8-.7 .8 .7 .6 .8 -.6-.8 -.8 .8 -.7 .8 .7-.7 .8 .8 .7 .8 -.7 .8 .7 .8 -.7 .3 .3 .4 .4-.7 .8 .8 .7 .8 -.6 .2 .1 .6 .6-.7 .8 .7 .7 .8 -.7-.8 -.8 .7 -.6 .3 0 .6 .6-.7 .8 .1 .2 .7 .6 .8 -.7 .3 .2 .4 .5-.7 .8 .8 .7 .8 -.7 .5 .4 .3 .4-.7 .8 .6 .5 .1 .2 .8 -.7 .5 .4 .3 .3-.7 .8 .1 .2 .6 .5 .9 -.6 .3 .2 .4 .5-.7 .8 .8 .7 .8 -.7 .5 .5 .2 .3-.7 .8 .8 .7 .8 -.7 .3 .3 .4 .5-.7 .7 .8 .8 .8 -.7 .6 .6 0 .3-.6 .6-.8 -.7-.7 .7 .7 .7 .8 -.7 .7 .7 .1 .1-.7 .8 .7 .7 .9 -.6 .4 .4 .3 .3-.7 .8 .7 .8-.7 .7 .8 .8 .8 -.7 .7 .7-.7 .8-.8 -.7-.7 .7 .7 .7 .8 -.7 .7 .8-.7 .8 .8 .8-.7 .8 .2 .3 .5 .4 .8 -.7 .7 .8-.7 .7-.8 -.7-.7 .7 .7 .8 .8 -.7 .7 .7-.7 .8 .8 .8-.8 .8 .8 .8-.7 .8 .7 .8-.7 .7 .7 .8 .8 -.7 .7 .7-.7 .7-.8 -.7-.7 .8 .7 .8 .8 -.7 .7 .7-.7 .7-.8 -.7-.7 .8 .7 .8 .8 -.7 .7 .7-.7 .7-.8 -.7-.7 .8 .7 .8-.7 .7 .7 .8-.8 .8 .8 .8-.8 .8 .7 .8-.7 .8-.8 -.7-.7 .7 .7 .7 .8 -.7 .7 .8-.7 .7-.8 -.7-.5 .4-.2 .3 .7 .8-.8 .8 .7 .8-.7 .8-.8 -.7-.7 .7 .7 .7 .8 -.7 .7 .8-.7 .7-.8 -.7-.8 .8 .7 .8-.7 .7 .7 .8-.3 .3-.4 .5-.9 -.7-.7 .7 .7 .8-.1 .2-.7 .6-.8 -.7-.7 .7 .7 .8 .8 -.8 .6 .6 0 .3-.6 .6-.8 -.7-.1 .1-.7 .7 .7 .8-.2 .3-.5 .4-.8 -.7-.8 .7 .7 .8-.4 .5-.3 .3-.8 -.7-.6 .6-.2 .1 .7 .8-.4 .5-.3 .3-.9 -.7-.1 .1-.6 .6 .7 .8-.3 .3-.5 .4-.8 -.6-.7 .7 .7 .8-.5 .4-.3 .3-.8 -.7-.8 .7 .7 .8-.3 .3-.4 .4-.8 -.6-.8 .7 .7 .8-.6 .6-.3 0-.7 -.6 .8 -.8-.8 -.6-.7 .6 .7 .8-.6 .6-.2 .2-.8 -.7-.8 .7 .7 .8-.4 .4-.3 .3-.8 -.7-.8 .7-.8 -.6-.8 .7 .7 .8-.8 .6-.8 -.6 .8 -.8-.8 -.7-.7 .7 .7 .8-.8 .7-.8 -.7-.8 .7-.8 -.7-.3 .3-.5 .4 .7 .8-.7 .7-.8 -.7 .7 -.8-.7 -.6-.8 .6 .7 .8-.8 .7-.8 -.7-.8 .8-.8 -.7-.8 .7-.8 -.7-.8 .7-.8 -.7-.9 .7 .8 .8-.8 .7-.7 -.7 .7 -.8-.8 -.7-.8 .7 .8 .8-.8 .7-.7 -.7 .7 -.8-.8 -.7-.8 .7 .7 .8z"/>
<path fill="none" stroke="#fec488" stroke-width="1.2" stroke-linecap="round" d="M158.7 146.3h0m1.7 0h0m1.6 0h0m1.6 0h0m1.6 0h0m1.7 0h0m1.6 0h0m1.6 0h0m1.6 0h0m1.7 0h0m1.6 0h0m1.6 0h0m1.6 0h0m1.7 0h0m1.6 0h0m1.6 0h0m1.6 0h0m1.7 0h0m1.6 0h0m1.6 0h0m1.6 0h0m1.7 0h0m1.6 0h0m1.6 0h0m1.6 0h0m1.7 0h0m1.6 0h0m1.6 0h0m1.6 0h0m1.7 0h0m1.6 0h0m1.6 0h0m1.6 0h0m1.7 0h0m1.6 0h0m1.6 0h0m1.6 0h0m1.7 0h0m1.6 0h0m1.6 0h0m1.6 0h0m1.7 0h0m1.6 0h0m1.6 0h0m1.7 0h0m1.6 0h0m1.6 0h0m1.6 0h0m1.7 0h0m1.6 0h0m1.6 0h0m1.6 0h0m1.7 0h0m1.6 0h0m1.6 0h0m1.6 0h0m1.7 0h0m1.6 0h0m1.6 0h0m1.6 0h0m1.7 0h0m1.6 0h0m1.6 0h0m1.6 0h0m-103.8 1.3h0m1.4 0h0m1.7 0h0m1.6 0h0m1.6 0h0m1.6 0h0m1.7 0h0m1.6 0h0m1.6 0h0m1.6 0h0m1.7 0h0m1.6 0h0m1.6 0h0m1.6 0h0m1.7 0h0m1.6 0h0m1.6 0h0m1.6 0h0m1.7 0h0m1.6 0h0m42.3 0h0m1.6 0h0m1.6 0h0m1.6 0h0m1.7 0h0m1.6 0h0m1.6 0h0m1.6 0h0m1.7 0h0m1.6 0h0m1.6 0h0m1.6 0h0m1.7 0h0m1.6 0h0m1.6 0h0m1.6 0h0m1.7 0h0m1.6 0h0m1.6 0h0m1.6 0h0m-103.8 1.6h0m1.4 0h0m1.7 0h0m1.6 0h0m1.6 0h0m1.6 0h0m1.7 0h0m1.6 0h0m1.6 0h0m1.6 0h0m1.7 0h0m1.6 0h0m1.6 0h0m1.6 0h0m1.7 0h0m1.6 0h0m1.6 0h0m1.6 0h0m48.8 0h0m1.6 0h0m1.7 0h0m1.6 0h0m1.6 0h0m1.6 0h0m1.7 0h0m1.6 0h0m1.6 0h0m1.6 0h0m1.7 0h0m1.6 0h0m1.6 0h0m1.6 0h0m1.7 0h0m1.6 0h0m1.6 0h0m1.6 0h0m-103.8 1.6h0m1.4 0h0m1.7 0h0m1.6 0h0m1.6 0h0m1.6 0h0m1.7 0h0m1.6 0h0m1.6 0h0m1.6 0h0m1.7 0h0m1.6 0h0m1.6 0h0m1.6 0h0m1.7 0h0m1.6 0h0m55.3 0h0m1.6 0h0m1.6 0h0m1.6 0h0m1.7 0h0m1.6 0h0m1.6 0h0m1.6 0h0m1.7 0h0m1.6 0h0m1.6 0h0m1.6 0h0m1.7 0h0m1.6 0h0m1.6 0h0m1.6 0h0m-103.8 1.5h0m1.4 0h0m1.7 0h0m1.6 0h0m1.6 0h0m1.6 0h0m1.7 0h0m1.6 0h0m1.6 0h0m1.6 0h0m1.7 0h0m1.6 0h0m1.6 0h0m1.6 0h0m61.8 0h0m1.6 0h0m1.7 0h0m1.6 0h0m1.6 0h0m1.6 0h0m1.7 0h0m1.6 0h0m1.6 0h0m1.6 0h0m1.7 0h0m1.6 0h0m1.6 0h0m1.6 0h0m-103.8 1.6h0m1.4 0h0m1.7 0h0m1.6 0h0m1.6 0h0m1.6 0h0m1.7 0h0m1.6 0h0m1.6 0h0m1.6 0h0m1.7 0h0m1.6 0h0m1.6 0h0m65 0h0m1.7 0h0m1.6 0h0m1.6 0h0m1.6 0h0m1.7 0h0m1.6 0h0m1.6 0h0m1.6 0h0m1.7 0h0m1.6 0h0m1.6 0h0m1.6 0h0m1.4 0h0m-105.2 1.6h0m1.4 0h0m1.7 0h0m1.6 0h0m1.6 0h0m1.6 0h0m1.7 0h0m1.6 0h0m1.6 0h0m1.6 0h0m1.7 0h0m71.5 0h0m1.6 0h0m1.6 0h0m1.7 0h0m1.6 0h0m1.6 0h0m1.6 0h0m1.7 0h0m1.6 0h0m1.6 0h0m1.6 0h0m1.4 0h0m-105.2 1.6h0m1.4 0h0m1.7 0h0m1.6 0h0m1.6 0h0m1.6 0h0m1.7 0h0m1.6 0h0m1.6 0h0m1.6 0h0m74.8 0h0m1.6 0h0m1.7 0h0m1.6 0h0m1.6 0h0m1.6 0h0m1.7 0h0m1.6 0h0m1.6 0h0m1.6 0h0m1.4 0h0m-105.2 1.5h0m1.4 0h0m1.7 0h0m1.6 0h0m1.6 0h0m1.6 0h0m1.7 0h0m1.6 0h0m1.6 0h0m78 0h0m1.7 0h0m1.6 0h0m1.6 0h0m1.6 0h0m1.7 0h0m1.6 0h0m1.6 0h0m1.6 0h0m1.4 0h0m-105.2 1.6h0m1.4 0h0m1.7 0h0m1.6 0h0m1.6 0h0m1.6 0h0m1.7 0h0m1.6 0h0m81.3 0h0m1.6 0h0m1.6 0h0m1.6 0h0m1.7 0h0m1.6 0h0m1.6 0h0m1.6 0h0m1.4 0h0m-105.2 1.6h0m1.4 0h0m1.7 0h0m1.6 0h0m1.6 0h0m1.6 0h0m1.7 0h0m84.5 0h0m1.6 0h0m1.6 0h0m1.7 0h0m1.6 0h0m1.6 0h0m1.6 0h0m1.4 0h0m-105.2 1.6h0m1.4 0h0m1.7 0h0m1.6 0h0m1.6 0h0m1.6 0h0m87.8 0h0m1.6 0h0m1.7 0h0m1.6 0h0m1.6 0h0m1.6 0h0m1.4 0h0m-105.2 1.5h0m1.4 0h0m1.7 0h0m1.6 0h0m1.6 0h0m91 0h0m1.7 0h0m1.6 0h0m1.6 0h0m1.6 0h0m1.4 0h0m-57.4 .8h0m1.6 0h0m1.6 0h0m1.6 0h0m1.7 0h0m1.6 0h0m-55.9 .8h0m1.4 0h0m1.7 0h0m1.6 0h0m1.6 0h0m91 0h0m1.7 0h0m1.6 0h0m1.6 0h0m1.6 0h0m1.4 0h0m-64 .8h0m1.7 0h0m1.6 0h0m14.6 0h0m1.7 0h0m1.6 0h0m-62.4 .8h0m1.4 0h0m1.7 0h0m1.6 0h0m94.3 0h0m1.6 0h0m1.6 0h0m1.6 0h0m1.4 0h0m-67.2 .7h0m27.6 0h0m-65.6 .9h0m1.4 0h0m1.7 0h0m97.5 0h0m1.6 0h0m1.6 0h0m1.4 0h0m-70.5 .7h0m34.2 0h0m-68.9 .8h0m1.4 0h0m1.7 0h0m97.5 0h0m1.6 0h0m1.6 0h0m1.4 0h0m-73.7 .8h0m1.6 0h0m37.4 0h0m1.7 0h0m-72.2 .8h0m1.4 0h0m100.8 0h0m1.6 0h0m1.4 0h0m-75.3 .8h0m43.9 0h0m-73.8 .8h0m1.4 0h0m100.8 0h0m1.6 0h0m1.4 0h0m-77 .8h0m47.2 0h0m-75.4 .8h0m103.8 0h0m1.4 0h0m-78.6 .7h0m50.4 0h0m-77 .8h0m103.8 0h0m1.4 0h0m-80.2 .8h0m53.7 0h0m-78.7 .8h0m105.2 0h0m-80.2 .8h0m53.7 0h0m-78.7 .8h0m105.2 0h0m-81.9 .8h0m57 0h0m-80.3 .8h0m105.2 0h0m-105.2 1.5h0m105.2 0h0m-83.5 .8h0m60.2 0h0m-81.9 .8h0m105.2 0h0m-105.2 1.6h0m105.2 0h0m-85.1 .8h0m63.4 0h0m-83.5 .8h0m105.2 0h0m-85.1 .7h0m63.4 0h0m21.7 .8h0m-85.1 .8h0m63.5 0h0m21.6 .8h0m0 1.6h0m-86.7 .8h0m66.7 0h0m20 .8h0m-86.7 .7h0m66.7 0h0m20 .8h0m-86.7 .8h0m66.7 0h0m20 .8h0m-86.7 .8h0m66.7 0h0m20 .8h0m-86.7 .8h0m66.7 0h0m20 .8h0m-86.7 .7h0m66.7 0h0m20 .8h0m0 1.6h0m-85.1 .8h0m63.5 0h0m21.6 .8h0m-85.1 .8h0m63.4 0h0m-83.5 .8h0m105.2 0h0m-85.1 .8h0m63.4 0h0m-83.5 .7h0m105.2 0h0m-105.2 1.6h0m105.2 0h0m-83.5 .8h0m60.2 0h0m-81.9 .8h0m105.2 0h0m-105.2 1.6h0m105.2 0h0m-81.9 .8h0m57 0h0m-80.3 .7h0m105.2 0h0m-80.2 .8h0m53.7 0h0m-78.7 .8h0m105.2 0h0m-80.2 .8h0m53.7 0h0m-78.7 .8h0m103.8 0h0m1.4 0h0m-78.6 .8h0m50.4 0h0m-77 .8h0m103.8 0h0m1.4 0h0m-77 .8h0m47.2 0h0m-75.4 .7h0m1.4 0h0m100.8 0h0m1.6 0h0m1.4 0h0m-75.3 .8h0m43.9 0h0m-73.8 .8h0m1.4 0h0m100.8 0h0m1.6 0h0m1.4 0h0m-73.7 .8h0m1.6 0h0m37.4 0h0m1.7 0h0m-72.2 .8h0m1.4 0h0m1.7 0h0m97.5 0h0m1.6 0h0m1.6 0h0m1.4 0h0m-70.5 .8h0m34.2 0h0m-68.9 .8h0m1.4 0h0m1.7 0h0m97.5 0h0m1.6 0h0m1.6 0h0m1.4 0h0m-67.2 .8h0m27.6 0h0m-65.6 .7h0m1.4 0h0m1.7 0h0m1.6 0h0m94.3 0h0m1.6 0h0m1.6 0h0m1.6 0h0m1.4 0h0m-64 .8h0m1.7 0h0m1.6 0h0m14.6 0h0m1.7 0h0m1.6 0h0m-62.4 .8h0m1.4 0h0m1.7 0h0m1.6 0h0m1.6 0h0m91 0h0m1.7 0h0m1.6 0h0m1.6 0h0m1.6 0h0m1.4 0h0m-57.4 .8h0m1.6 0h0m1.6 0h0m1.6 0h0m1.7 0h0m1.6 0h0m-55.9 .8h0m1.4 0h0m1.7 0h0m1.6 0h0m1.6 0h0m91 0h0m1.7 0h0m1.6 0h0m1.6 0h0m1.6 0h0m1.4 0h0m-105.2 1.6h0m1.4 0h0m1.7 0h0m1.6 0h0m1.6 0h0m1.6 0h0m87.8 0h0m1.6 0h0m1.7 0h0m1.6 0h0m1.6 0h0m1.6 0h0m1.4 0h0m-105.2 1.5h0m1.4 0h0m1.7 0h0m1.6 0h0m1.6 0h0m1.6 0h0m1.7 0h0m84.5 0h0m1.6 0h0m1.6 0h0m1.7 0h0m1.6 0h0m1.6 0h0m1.6 0h0m1.4 0h0m-105.2 1.6h0m1.4 0h0m1.7 0h0m1.6 0h0m1.6 0h0m1.6 0h0m1.7 0h0m1.6 0h0m81.3 0h0m1.6 0h0m1.6 0h0m1.6 0h0m1.7 0h0m1.6 0h0m1.6 0h0m1.6 0h0m1.4 0h0m-105.2 1.6h0m1.4 0h0m1.7 0h0m1.6 0h0m1.6 0h0m1.6 0h0m1.7 0h0m1.6 0h0m1.6 0h0m78 0h0m1.7 0h0m1.6 0h0m1.6 0h0m1.6 0h0m1.7 0h0m1.6 0h0m1.6 0h0m1.6 0h0m1.4 0h0m-105.2 1.6h0m1.4 0h0m1.7 0h0m1.6 0h0m1.6 0h0m1.6 0h0m1.7 0h0m1.6 0h0m1.6 0h0m1.6 0h0m74.8 0h0m1.6 0h0m1.7 0h0m1.6 0h0m1.6 0h0m1.6 0h0m1.7 0h0m1.6 0h0m1.6 0h0m1.6 0h0m1.4 0h0m-105.2 1.5h0m1.4 0h0m1.7 0h0m1.6 0h0m1.6 0h0m1.6 0h0m1.7 0h0m1.6 0h0m1.6 0h0m1.6 0h0m1.7 0h0m71.5 0h0m1.6 0h0m1.6 0h0m1.7 0h0m1.6 0h0m1.6 0h0m1.6 0h0m1.7 0h0m1.6 0h0m1.6 0h0m1.6 0h0m1.4 0h0m-105.2 1.6h0m1.4 0h0m1.7 0h0m1.6 0h0m1.6 0h0m1.6 0h0m1.7 0h0m1.6 0h0m1.6 0h0m1.6 0h0m1.7 0h0m1.6 0h0m1.6 0h0m65 0h0m1.7 0h0m1.6 0h0m1.6 0h0m1.6 0h0m1.7 0h0m1.6 0h0m1.6 0h0m1.6 0h0m1.7 0h0m1.6 0h0m1.6 0h0m1.6 0h0m1.4 0h0m-105.2 1.6h0m1.4 0h0m1.7 0h0m1.6 0h0m1.6 0h0m1.6 0h0m1.7 0h0m1.6 0h0m1.6 0h0m1.6 0h0m1.7 0h0m1.6 0h0m1.6 0h0m1.6 0h0m61.8 0h0m1.6 0h0m1.7 0h0m1.6 0h0m1.6 0h0m1.6 0h0m1.7 0h0m1.6 0h0m1.6 0h0m1.6 0h0m1.7 0h0m1.6 0h0m1.6 0h0m1.6 0h0m-95.9 1.5h0m1.7 0h0m1.6 0h0m1.6 0h0m1.6 0h0m1.7 0h0m1.6 0h0m1.6 0h0m1.6 0h0m1.7 0h0m1.6 0h0m55.3 0h0m1.6 0h0m1.6 0h0m1.6 0h0m1.7 0h0m1.6 0h0m1.6 0h0m1.6 0h0m1.7 0h0m1.6 0h0m1.6 0h0m-95.7 .1h0m1.4 0h0m1.7 0h0m1.6 0h0m1.6 0h0m91 0h0m1.7 0h0m1.6 0h0m1.6 0h0m1.6 0h0m-103.8 1.5h0m1.4 0h0m1.7 0h0m1.6 0h0m1.6 0h0m1.6 0h0m1.7 0h0m1.6 0h0m1.6 0h0m1.6 0h0m1.7 0h0m1.6 0h0m1.6 0h0m1.6 0h0m1.7 0h0m1.6 0h0m1.6 0h0m1.6 0h0m48.8 0h0m1.6 0h0m1.7 0h0m1.6 0h0m1.6 0h0m1.6 0h0m1.7 0h0m1.6 0h0m1.6 0h0m1.6 0h0m1.7 0h0m1.6 0h0m1.6 0h0m1.6 0h0m1.7 0h0m1.6 0h0m1.6 0h0m1.6 0h0m-102.4 1.4h0m1.7 0h0m1.6 0h0m1.6 0h0m1.6 0h0m1.7 0h0m1.6 0h0m1.6 0h0m1.6 0h0m1.7 0h0m1.6 0h0m1.6 0h0m1.6 0h0m1.7 0h0m1.6 0h0m1.6 0h0m1.6 0h0m1.7 0h0m1.6 0h0m42.3 0h0m1.6 0h0m1.6 0h0m1.6 0h0m1.7 0h0m1.6 0h0m1.6 0h0m1.6 0h0m1.7 0h0m1.6 0h0m1.6 0h0m1.6 0h0m1.7 0h0m1.6 0h0m1.6 0h0m1.6 0h0m1.7 0h0m1.6 0h0m1.6 0h0m1.6 0h0"/>
<path fill="none" stroke="#fec488" stroke-width="1.4" stroke-linecap="round" d="M189.6 147.6h0m1.6 0h0m1.7 0h0m1.6 0h0m1.6 0h0m1.6 0h0m1.7 0h0m1.6 0h0m1.6 0h0m1.6 0h0m1.7 0h0m1.6 0h0m1.6 0h0m1.6 0h0m1.7 0h0m1.6 0h0m1.6 0h0m1.6 0h0m1.7 0h0m1.6 0h0m1.6 0h0m1.6 0h0m1.7 0h0m1.6 0h0m1.6 0h0m-42.2 1.6h0m1.6 0h0m1.6 0h0m1.6 0h0m1.7 0h0m1.6 0h0m1.6 0h0m1.6 0h0m1.7 0h0m1.6 0h0m1.6 0h0m1.6 0h0m1.7 0h0m1.6 0h0m1.6 0h0m1.6 0h0m1.7 0h0m1.6 0h0m1.6 0h0m1.6 0h0m1.7 0h0m1.6 0h0m1.6 0h0m1.6 0h0m1.7 0h0m1.6 0h0m1.6 0h0m1.7 0h0m1.6 0h0m-48.8 1.6h0m1.6 0h0m1.7 0h0m1.6 0h0m1.6 0h0m1.6 0h0m1.7 0h0m1.6 0h0m1.6 0h0m1.6 0h0m1.7 0h0m1.6 0h0m1.6 0h0m1.6 0h0m1.7 0h0m1.6 0h0m1.6 0h0m1.6 0h0m1.7 0h0m1.6 0h0m1.6 0h0m1.6 0h0m1.7 0h0m1.6 0h0m1.6 0h0m1.6 0h0m1.7 0h0m1.6 0h0m1.6 0h0m1.7 0h0m1.6 0h0m1.6 0h0m1.6 0h0m-55.2 1.5h0m1.6 0h0m1.6 0h0m1.6 0h0m1.7 0h0m1.6 0h0m1.6 0h0m1.6 0h0m1.7 0h0m1.6 0h0m1.6 0h0m1.6 0h0m1.7 0h0m1.6 0h0m1.6 0h0m1.6 0h0m1.7 0h0m1.6 0h0m1.6 0h0m1.6 0h0m1.7 0h0m1.6 0h0m1.6 0h0m1.6 0h0m1.7 0h0m1.6 0h0m1.6 0h0m1.6 0h0m1.7 0h0m1.6 0h0m1.6 0h0m1.6 0h0m1.7 0h0m1.6 0h0m1.6 0h0m1.7 0h0m1.6 0h0m-60.2 1.6h0m1.7 0h0m1.6 0h0m1.6 0h0m1.6 0h0m1.7 0h0m1.6 0h0m1.6 0h0m1.6 0h0m1.7 0h0m1.6 0h0m1.6 0h0m1.6 0h0m1.7 0h0m1.6 0h0m1.6 0h0m1.6 0h0m1.7 0h0m1.6 0h0m1.6 0h0m1.6 0h0m1.7 0h0m1.6 0h0m1.6 0h0m1.6 0h0m1.7 0h0m1.6 0h0m1.6 0h0m1.6 0h0m1.7 0h0m1.6 0h0m1.6 0h0m1.6 0h0m1.7 0h0m1.6 0h0m1.6 0h0m1.7 0h0m1.6 0h0m1.6 0h0m-65 1.6h0m1.6 0h0m1.6 0h0m1.7 0h0m1.6 0h0m1.6 0h0m1.6 0h0m1.7 0h0m1.6 0h0m1.6 0h0m1.6 0h0m1.7 0h0m1.6 0h0m1.6 0h0m1.6 0h0m1.7 0h0m19.5 0h0m1.6 0h0m1.6 0h0m1.6 0h0m1.7 0h0m1.6 0h0m1.6 0h0m1.6 0h0m1.7 0h0m1.6 0h0m1.6 0h0m1.7 0h0m1.6 0h0m1.6 0h0m1.6 0h0m1.7 0h0m-69.9 1.6h0m1.6 0h0m1.6 0h0m1.6 0h0m1.7 0h0m1.6 0h0m1.6 0h0m1.6 0h0m1.7 0h0m1.6 0h0m1.6 0h0m1.6 0h0m1.7 0h0m32.5 0h0m1.6 0h0m1.6 0h0m1.6 0h0m1.7 0h0m1.6 0h0m1.6 0h0m1.7 0h0m1.6 0h0m1.6 0h0m1.6 0h0m1.7 0h0m1.6 0h0m-73.2 1.5h0m1.7 0h0m1.6 0h0m1.6 0h0m1.6 0h0m1.7 0h0m1.6 0h0m1.6 0h0m1.6 0h0m1.7 0h0m1.6 0h0m1.6 0h0m39 0h0m1.6 0h0m1.7 0h0m1.6 0h0m1.6 0h0m1.7 0h0m1.6 0h0m1.6 0h0m1.6 0h0m1.7 0h0m1.6 0h0m1.6 0h0m-76.4 1.6h0m1.6 0h0m1.7 0h0m1.6 0h0m1.6 0h0m1.6 0h0m1.7 0h0m1.6 0h0m1.6 0h0m1.6 0h0m1.7 0h0m45.5 0h0m1.6 0h0m1.6 0h0m1.6 0h0m1.7 0h0m1.6 0h0m1.6 0h0m1.7 0h0m1.6 0h0m1.6 0h0m1.6 0h0m-79.6 1.6h0m1.6 0h0m1.6 0h0m1.7 0h0m1.6 0h0m1.6 0h0m1.6 0h0m1.7 0h0m1.6 0h0m1.6 0h0m52 0h0m1.6 0h0m1.7 0h0m1.6 0h0m1.6 0h0m1.7 0h0m1.6 0h0m1.6 0h0m1.6 0h0m1.7 0h0m-82.9 1.6h0m1.6 0h0m1.6 0h0m1.6 0h0m1.7 0h0m1.6 0h0m1.6 0h0m1.6 0h0m1.7 0h0m1.6 0h0m55.2 0h0m1.7 0h0m1.6 0h0m1.6 0h0m1.7 0h0m1.6 0h0m1.6 0h0m1.6 0h0m1.7 0h0m1.6 0h0m-44.7 .7h0m1.6 0h0m1.6 0h0m1.7 0h0m-46.4 .8h0m1.7 0h0m1.6 0h0m1.6 0h0m1.6 0h0m1.7 0h0m1.6 0h0m1.6 0h0m1.6 0h0m1.7 0h0m58.5 0h0m1.6 0h0m1.6 0h0m1.7 0h0m1.6 0h0m1.6 0h0m1.6 0h0m1.7 0h0m1.6 0h0m1.6 0h0m-54.5 .8h0m1.7 0h0m1.6 0h0m1.6 0h0m11.4 0h0m1.6 0h0m1.7 0h0m1.6 0h0m-54.5 .8h0m1.7 0h0m1.6 0h0m1.6 0h0m1.6 0h0m1.7 0h0m1.6 0h0m1.6 0h0m1.6 0h0m61.8 0h0m1.6 0h0m1.7 0h0m1.6 0h0m1.6 0h0m1.6 0h0m1.7 0h0m1.6 0h0m1.6 0h0m-57.7 .8h0m1.6 0h0m24.4 0h0m1.6 0h0m-59.3 .8h0m1.6 0h0m1.7 0h0m1.6 0h0m1.6 0h0m1.6 0h0m1.7 0h0m1.6 0h0m1.6 0h0m65 0h0m1.6 0h0m1.7 0h0m1.6 0h0m1.6 0h0m1.7 0h0m1.6 0h0m1.6 0h0m1.6 0h0m-62.6 .7h0m1.7 0h0m30.9 0h0m1.6 0h0m-64.2 .9h0m1.6 0h0m1.6 0h0m1.7 0h0m1.6 0h0m1.6 0h0m1.6 0h0m1.7 0h0m1.6 0h0m68.2 0h0m1.7 0h0m1.6 0h0m1.6 0h0m1.7 0h0m1.6 0h0m1.6 0h0m1.6 0h0m1.7 0h0m-67.5 .7h0m1.6 0h0m37.4 0h0m1.7 0h0m-67.5 .8h0m1.6 0h0m1.6 0h0m1.7 0h0m1.6 0h0m1.6 0h0m1.6 0h0m1.7 0h0m71.5 0h0m1.6 0h0m1.6 0h0m1.7 0h0m1.6 0h0m1.6 0h0m1.6 0h0m1.7 0h0m-69.1 .8h0m43.9 0h0m-70.7 .8h0m1.6 0h0m1.6 0h0m1.6 0h0m1.7 0h0m1.6 0h0m1.6 0h0m1.6 0h0m74.8 0h0m1.6 0h0m1.7 0h0m1.6 0h0m1.6 0h0m1.6 0h0m1.7 0h0m1.6 0h0m-72.4 .8h0m47.2 0h0m-72.3 .8h0m1.6 0h0m1.6 0h0m1.6 0h0m1.7 0h0m1.6 0h0m1.6 0h0m78 0h0m1.7 0h0m1.6 0h0m1.6 0h0m1.6 0h0m1.7 0h0m1.6 0h0m-74 .8h0m50.4 0h0m-75.6 .8h0m1.7 0h0m1.6 0h0m1.6 0h0m1.6 0h0m1.7 0h0m1.6 0h0m1.6 0h0m78 0h0m1.7 0h0m1.6 0h0m1.6 0h0m1.6 0h0m1.7 0h0m1.6 0h0m1.6 0h0m-77.2 .7h0m53.7 0h0m-77.3 .8h0m1.7 0h0m1.6 0h0m1.6 0h0m1.6 0h0m1.7 0h0m1.6 0h0m81.3 0h0m1.6 0h0m1.6 0h0m1.6 0h0m1.7 0h0m1.6 0h0m1.6 0h0m-78.9 .8h0m57 0h0m-78.9 .8h0m1.7 0h0m1.6 0h0m1.6 0h0m1.6 0h0m1.7 0h0m1.6 0h0m81.2 0h0m1.7 0h0m1.6 0h0m1.6 0h0m1.7 0h0m1.6 0h0m1.6 0h0m1.6 0h0m-80.5 .8h0m57 0h0m-78.9 .8h0m1.7 0h0m1.6 0h0m1.6 0h0m1.6 0h0m1.7 0h0m84.5 0h0m1.6 0h0m1.6 0h0m1.7 0h0m1.6 0h0m1.6 0h0m1.6 0h0m-82.1 .8h0m60.2 0h0m-80.5 .8h0m1.7 0h0m1.6 0h0m1.6 0h0m1.6 0h0m1.7 0h0m84.5 0h0m1.6 0h0m1.6 0h0m1.7 0h0m1.6 0h0m1.6 0h0m1.6 0h0m-82.1 .7h0m60.2 0h0m-80.5 .8h0m1.7 0h0m1.6 0h0m1.6 0h0m1.6 0h0m87.8 0h0m1.6 0h0m1.7 0h0m1.6 0h0m1.6 0h0m1.6 0h0m-83.7 .8h0m63.4 0h0m-82.1 .8h0m1.7 0h0m1.6 0h0m1.6 0h0m1.6 0h0m87.8 0h0m1.6 0h0m1.7 0h0m1.6 0h0m1.6 0h0m1.6 0h0m-83.7 .8h0m63.5 0h0m-82.2 .8h0m1.7 0h0m1.6 0h0m1.6 0h0m1.6 0h0m87.8 0h0m1.6 0h0m1.7 0h0m1.6 0h0m1.6 0h0m1.6 0h0m-85.3 .8h0m66.7 0h0m-83.8 .8h0m1.7 0h0m1.6 0h0m1.6 0h0m1.6 0h0m87.8 0h0m1.6 0h0m1.7 0h0m1.6 0h0m1.6 0h0m1.6 0h0m-85.3 .7h0m66.7 0h0m-85.2 .8h0m1.4 0h0m1.7 0h0m1.6 0h0m1.6 0h0m91 0h0m1.7 0h0m1.6 0h0m1.6 0h0m1.6 0h0m-85.3 .8h0m66.7 0h0m-85.2 .8h0m1.4 0h0m1.7 0h0m1.6 0h0m1.6 0h0m91 0h0m1.7 0h0m1.6 0h0m1.6 0h0m1.6 0h0m-85.3 .8h0m66.7 0h0m-85.2 .8h0m1.4 0h0m1.7 0h0m1.6 0h0m1.6 0h0m91 0h0m1.7 0h0m1.6 0h0m1.6 0h0m1.6 0h0m-103.8 1.6h0m1.4 0h0m1.7 0h0m1.6 0h0m1.6 0h0m91 0h0m1.7 0h0m1.6 0h0m1.6 0h0m1.6 0h0m-87 .7h0m70 0h0m-86.8 .8h0m1.4 0h0m1.7 0h0m1.6 0h0m1.6 0h0m91 0h0m1.7 0h0m1.6 0h0m1.6 0h0m1.6 0h0m-87 .8h0m70 0h0m-86.8 .8h0m1.4 0h0m1.7 0h0m1.6 0h0m1.6 0h0m91 0h0m1.7 0h0m1.6 0h0m1.6 0h0m1.6 0h0m-87 .8h0m70 0h0m-86.8 .8h0m1.4 0h0m1.7 0h0m1.6 0h0m1.6 0h0m91 0h0m1.7 0h0m1.6 0h0m1.6 0h0m1.6 0h0m-87 .8h0m70 0h0m-86.8 .8h0m1.4 0h0m1.7 0h0m1.6 0h0m1.6 0h0m91 0h0m1.7 0h0m1.6 0h0m1.6 0h0m1.6 0h0m-103.8 1.5h0m1.4 0h0m1.7 0h0m1.6 0h0m1.6 0h0m91 0h0m1.7 0h0m1.6 0h0m1.6 0h0m1.6 0h0m-85.3 .8h0m66.7 0h0m-85.2 .8h0m1.4 0h0m1.7 0h0m1.6 0h0m1.6 0h0m91 0h0m1.7 0h0m1.6 0h0m1.6 0h0m1.6 0h0m-85.3 .8h0m66.7 0h0m-85.2 .8h0m1.4 0h0m1.7 0h0m1.6 0h0m1.6 0h0m91 0h0m1.7 0h0m1.6 0h0m1.6 0h0m1.6 0h0m-85.3 .8h0m66.7 0h0m-83.8 .8h0m1.7 0h0m1.6 0h0m1.6 0h0m1.6 0h0m87.8 0h0m1.6 0h0m1.7 0h0m1.6 0h0m1.6 0h0m1.6 0h0m-85.3 .8h0m66.7 0h0m-83.8 .7h0m1.7 0h0m1.6 0h0m1.6 0h0m1.6 0h0m87.8 0h0m1.6 0h0m1.7 0h0m1.6 0h0m1.6 0h0m1.6 0h0m-83.7 .8h0m63.5 0h0m-82.2 .8h0m1.7 0h0m1.6 0h0m1.6 0h0m1.6 0h0m87.8 0h0m1.6 0h0m1.7 0h0m1.6 0h0m1.6 0h0m1.6 0h0m-83.7 .8h0m63.4 0h0m-82.1 .8h0m1.7 0h0m1.6 0h0m1.6 0h0m1.6 0h0m87.8 0h0m1.6 0h0m1.7 0h0m1.6 0h0m1.6 0h0m1.6 0h0m-82.1 .8h0m60.2 0h0m-80.5 .8h0m1.7 0h0m1.6 0h0m1.6 0h0m1.6 0h0m1.7 0h0m84.5 0h0m1.6 0h0m1.6 0h0m1.7 0h0m1.6 0h0m1.6 0h0m1.6 0h0m-82.1 .8h0m60.2 0h0m-80.5 .7h0m1.7 0h0m1.6 0h0m1.6 0h0m1.6 0h0m1.7 0h0m84.5 0h0m1.6 0h0m1.6 0h0m1.7 0h0m1.6 0h0m1.6 0h0m1.6 0h0m-80.5 .8h0m57 0h0m-78.9 .8h0m1.7 0h0m1.6 0h0m1.6 0h0m1.6 0h0m1.7 0h0m1.6 0h0m81.2 0h0m1.7 0h0m1.6 0h0m1.6 0h0m1.7 0h0m1.6 0h0m1.6 0h0m1.6 0h0m-80.5 .8h0m57 0h0m-78.9 .8h0m1.7 0h0m1.6 0h0m1.6 0h0m1.6 0h0m1.7 0h0m1.6 0h0m81.3 0h0m1.6 0h0m1.6 0h0m1.6 0h0m1.7 0h0m1.6 0h0m1.6 0h0m-77.2 .8h0m53.7 0h0m-77.3 .8h0m1.7 0h0m1.6 0h0m1.6 0h0m1.6 0h0m1.7 0h0m1.6 0h0m1.6 0h0m78 0h0m1.7 0h0m1.6 0h0m1.6 0h0m1.6 0h0m1.7 0h0m1.6 0h0m1.6 0h0m-75.6 .8h0m50.4 0h0m-73.9 .7h0m1.6 0h0m1.6 0h0m1.6 0h0m1.7 0h0m1.6 0h0m1.6 0h0m78 0h0m1.7 0h0m1.6 0h0m1.6 0h0m1.6 0h0m1.7 0h0m1.6 0h0m-72.4 .8h0m47.2 0h0m-72.3 .8h0m1.6 0h0m1.6 0h0m1.6 0h0m1.7 0h0m1.6 0h0m1.6 0h0m1.6 0h0m74.8 0h0m1.6 0h0m1.7 0h0m1.6 0h0m1.6 0h0m1.6 0h0m1.7 0h0m1.6 0h0m-70.7 .8h0m43.9 0h0m-69.1 .8h0m1.6 0h0m1.6 0h0m1.7 0h0m1.6 0h0m1.6 0h0m1.6 0h0m1.7 0h0m71.5 0h0m1.6 0h0m1.6 0h0m1.7 0h0m1.6 0h0m1.6 0h0m1.6 0h0m1.7 0h0m-67.5 .8h0m1.6 0h0m37.4 0h0m1.7 0h0m-67.5 .8h0m1.6 0h0m1.6 0h0m1.7 0h0m1.6 0h0m1.6 0h0m1.6-.1h0m1.7 0h0m1.6 0h0m68.2 0h0m1.7 0h0m1.6 0h0m1.6 .1h0m1.7 0h0m1.6 0h0m1.6 0h0m1.6 0h0m1.7 0h0m-64.3 .8h0m1.7 0h0m30.9 0h0m1.6 0h0m-62.6 .7h0m1.6 0h0m1.7 0h0m1.6 0h0m1.6 0h0m1.6 0h0m1.7 0h0m1.6 0h0m1.6 0h0m65 0h0m1.6 0h0m1.7 0h0m1.6 0h0m1.6 0h0m1.7 0h0m1.6 0h0m1.6 0h0m1.6 0h0m-59.3 .8h0m1.6 0h0m24.4 0h0m1.6 0h0m-57.7 .8h0m1.7 0h0m1.6 0h0m1.6 0h0m1.6 0h0m1.7 0h0m1.6 0h0m1.6 0h0m1.6 0h0m61.8 0h0m1.6 0h0m1.7 0h0m1.6 0h0m1.6 0h0m1.6 0h0m1.7 0h0m1.6 0h0m1.6 0h0m-54.5 .8h0m1.7 0h0m1.6 0h0m1.6 0h0m11.4 0h0m1.6 0h0m1.7 0h0m1.6 0h0m-54.5 .8h0m1.7 0h0m1.6 0h0m1.6 0h0m1.6 0h0m1.7 0h0m1.6 0h0m1.6 0h0m1.6 0h0m1.7 0h0m58.5 0h0m1.6 0h0m1.6 0h0m1.7 0h0m1.6 0h0m1.6 0h0m1.6 0h0m1.7 0h0m1.6 0h0m1.6 0h0m-46.3 .8h0m1.6 0h0m1.6 0h0m1.7 0h0m-44.7 .8h0m1.6 0h0m1.6 0h0m1.6 0h0m1.7 0h0m1.6 0h0m1.6-.1h0m1.6 0h0m1.7 0h0m1.6 0h0m55.2 0h0m1.7 0h0m1.6 0h0m1.6 0h0m1.7 .1h0m1.6 0h0m1.6 0h0m1.6 0h0m1.7 0h0m1.6 0h0m-82.9 1.5h0m1.6 0h0m1.6 0h0m1.7 0h0m1.6 0h0m1.6 0h0m1.6 0h0m1.7 0h0m1.6 0h0m1.6 0h0m52 0h0m1.6 0h0m1.7 0h0m1.6 0h0m1.6 0h0m1.7 0h0m1.6 0h0m1.6 0h0m1.6 0h0m1.7 0h0m-79.7 1.6h0m1.6 0h0m1.7 0h0m1.6 0h0m1.6 0h0m1.6 0h0m1.7 0h0m1.6 0h0m1.6 0h0m1.6 0h0m1.7 0h0m45.5 0h0m1.6 0h0m1.6 0h0m1.6 0h0m1.7 0h0m1.6 0h0m1.6 0h0m1.7 0h0m1.6 0h0m1.6 0h0m1.6 0h0m-76.4 1.6h0m1.7 0h0m1.6 0h0m1.6 0h0m1.6 0h0m1.7 0h0m1.6 0h0m1.6 0h0m1.6 0h0m1.7 0h0m1.6 0h0m1.6 0h0m39 0h0m1.6 0h0m1.7 0h0m1.6 0h0m1.6 0h0m1.7 0h0m1.6 0h0m1.6 0h0m1.6 0h0m1.7 0h0m1.6 0h0m1.6 0h0m-73.1 1.6h0m1.6-.1h0m1.6 0h0m1.6 0h0m1.7 0h0m1.6 0h0m1.6 0h0m1.6 0h0m1.7 0h0m1.6 0h0m1.6 0h0m1.6 0h0m1.7 0h0m32.5 0h0m1.6 0h0m1.6 0h0m1.6 0h0m1.7 0h0m1.6 0h0m1.6 0h0m1.7 0h0m1.6 0h0m1.6 0h0m1.6 0h0m1.7 0h0m1.6 .1h0m-69.9 1.5h0m1.6 0h0m1.6 0h0m1.7 0h0m1.6 0h0m1.6 0h0m1.6 0h0m1.7 0h0m1.6 0h0m1.6 0h0m1.6 0h0m1.7 0h0m1.6 0h0m1.6 0h0m1.6 0h0m1.7 0h0m19.5 0h0m1.6 0h0m1.6 0h0m1.6 0h0m1.7 0h0m1.6 0h0m1.6 0h0m1.6 0h0m1.7 0h0m1.6 0h0m1.6 0h0m1.7 0h0m1.6 0h0m1.6 0h0m1.6 0h0m1.7 0h0m-65.1 1.6h0m1.7 0h0m1.6 0h0m1.6 0h0m1.6 0h0m1.7 0h0m1.6 0h0m1.6 0h0m1.6 0h0m1.7 0h0m1.6 0h0m1.6 0h0m1.6 0h0m1.7 0h0m1.6 0h0m1.6 0h0m1.6 0h0m1.7 0h0m1.6 0h0m1.6 0h0m1.6 0h0m1.7 0h0m1.6 0h0m1.6 0h0m1.6 0h0m1.7 0h0m1.6 0h0m1.6 0h0m1.6 0h0m1.7 0h0m1.6 0h0m1.6 0h0m1.6 0h0m1.7 0h0m1.6 0h0m1.6 0h0m1.7 0h0m1.6 0h0m1.6 0h0m-60.1 1.6h0m1.6 0h0m1.6 0h0m1.6 0h0m1.7 0h0m1.6 0h0m1.6 0h0m1.6 0h0m1.7 0h0m1.6 0h0m1.6 0h0m1.6 0h0m1.7 0h0m1.6 0h0m1.6 0h0m1.6 0h0m1.7 0h0m1.6 0h0m1.6 0h0m1.6 0h0m1.7 0h0m1.6 0h0m1.6 0h0m1.6 0h0m1.7 0h0m1.6 0h0m1.6 0h0m1.6 0h0m1.7 0h0m1.6 0h0m1.6 0h0m1.6 0h0m1.7 0h0m1.6 0h0m1.6 0h0m1.7 0h0m1.6 0h0m-55.3 1.5h0m1.6 0h0m1.7 0h0m1.6 0h0m1.6 0h0m1.6 0h0m1.7 0h0m1.6 0h0m1.6 0h0m1.6 0h0m1.7 0h0m1.6 0h0m1.6 0h0m1.6 0h0m1.7 0h0m1.6 0h0m1.6 0h0m1.6 0h0m1.7 0h0m1.6 0h0m1.6 0h0m1.6 0h0m1.7 0h0m1.6 0h0m1.6 0h0m1.6 0h0m1.7 0h0m1.6 0h0m1.6 0h0m1.7 0h0m1.6 0h0m1.6 0h0m1.6 0h0m-48.7 1.6h0m1.6 0h0m1.6 0h0m1.6 0h0m1.7 0h0m1.6 0h0m1.6 0h0m1.6 0h0m1.7 0h0m1.6 0h0m1.6 0h0m1.6 0h0m1.7 0h0m1.6 0h0m1.6 0h0m1.6 0h0m1.7 0h0m1.6 0h0m1.6 0h0m1.6 0h0m1.7 0h0m1.6 0h0m1.6 0h0m1.6 0h0m1.7 0h0m1.6 0h0m1.6 0h0m1.7 0h0m1.6 0h0m-42.3 1.4h0m1.6 0h0m1.7 0h0m1.6 0h0m1.6 0h0m1.6 0h0m1.7 0h0m1.6 0h0m1.6 0h0m1.6 0h0m1.7 0h0m1.6 0h0m1.6 0h0m1.6 0h0m1.7 0h0m1.6 0h0m1.6 0h0m1.6 0h0m1.7 0h0m1.6 0h0m1.6 0h0m1.6 0h0m1.7 0h0m1.6 0h0m1.6 0h0"/>
<path fill="none" stroke="#fec488" stroke-width="1" stroke-linecap="round" d="M262.5 147.6h0m0 1.6h0m0 1.6h0m0 1.5h0m-59.1 15h0m11.4 0h0m-17.9 1.5h0m24.4 0h0m-27.6 1.6h0m30.9 0h0m-35.8 3.2h0m40.7 0h0m-42.4 1.5h0m44 0h0m-45.6 1.6h0m47.2 0h0m-48.8 1.6h0m50.4 0h0m-53.7 4.7h0m57 0h0m-58.6 3.2h0m60.2 0h0m-61.8 6.3h0m63.5 0h0m-63.5 11h0m63.5 0h0m-61.9 6.3h0m60.2 0h0m-58.6 3.2h0m57 0h0m-53.7 4.7h0m50.4 0h0m-48.8 1.6h0m47.2 0h0m-45.6 1.6h0m44 0h0m-42.3 1.5h0m40.7 0h0m-35.8 3.2h0m30.9 0h0m-27.7 1.6h0m24.4 0h0m-17.9 1.6h0m11.4 0h0m47.7 14.9h0m0 1.6h0m0 1.5h0"/>
<path fill="none" stroke="#fec488" stroke-width="1.6" stroke-linecap="round" d="M201 155.5h0m1.6 0h0m1.6 0h0m1.7 0h0m1.6 0h0m1.6 0h0m1.6 0h0m1.7 0h0m1.6 0h0m1.6 0h0m1.6 0h0m-22.7 1.6h0m1.6 0h0m1.6 0h0m1.7 0h0m1.6 0h0m1.6 0h0m1.6 0h0m1.7 0h0m1.6 0h0m1.6 0h0m1.6 0h0m1.7 0h0m1.6 0h0m1.6 0h0m1.6 0h0m1.7 0h0m1.6 0h0m1.6 0h0m1.6 0h0m-32.5 1.5h0m1.7 .1h0m1.6 0h0m1.6 0h0m1.6 0h0m1.7 0h0m1.6 0h0m1.6 0h0m1.6 0h0m1.7 0h0m1.6 0h0m1.6 0h0m1.6 0h0m1.7 0h0m1.6 0h0m1.6 0h0m1.6 0h0m1.7 0h0m1.6 0h0m1.6 0h0m1.6 0h0m1.7 0h0m1.6-.1h0m-39 1.6h0m1.6 0h0m1.6 0h0m1.7 0h0m1.6 0h0m1.6 0h0m1.6 0h0m22.8 0h0m1.6 0h0m1.6 0h0m1.7 0h0m1.6 0h0m1.6 0h0m1.6 0h0m-45.5 1.6h0m1.7 0h0m1.6 0h0m1.6 0h0m1.6 0h0m1.7 0h0m32.5 0h0m1.6 0h0m1.6 0h0m1.6 0h0m1.7 0h0m1.6 0h0m-26.8 .7h0m1.6 0h0m1.6 0h0m1.7 0h0m-28.5 .9h0m1.6 0h0m1.7 0h0m1.6 0h0m1.6 0h0m39 0h0m1.6 0h0m1.7 0h0m1.6 0h0m1.6 0h0m-36.6 .7h0m1.7 0h0m1.6 0h0m1.6 0h0m1.7 0h0m8.1 0h0m1.6 0h0m1.6 0h0m1.7 0h0m1.6 0h0m-38.2 .8h0m1.6 0h0m1.6 .1h0m1.7 0h0m45.5 0h0m1.6 0h0m1.6-.1h0m1.6 0h0m-41.4 .8h0m1.6 0h0m24.4 0h0m1.7 0h0m-43.1 .8h0m1.6 0h0m1.6 0h0m1.6 0h0m48.8 0h0m1.6 0h0m1.6 0h0m1.7 0h0m-46.4 .8h0m1.7 0h0m30.9 0h0m1.6 0h0m-48 .8h0m1.7 0h0m1.6 0h0m1.6 0h0m52 0h0m1.6 0h0m1.7 0h0m1.6 0h0m-51.2 .7h0m1.6 0h0m37.4 0h0m1.7 0h0m-52.9 .9h0m1.6 0h0m1.7 0h0m58.5 0h0m1.6 0h0m1.6 0h0m-54.4 .7h0m43.9 0h0m-56.1 .8h0m1.6 0h0m1.6 0h0m61.8 0h0m1.6 0h0m1.6 0h0m-57.7 .8h0m47.2 0h0m-59.3 .8h0m1.6 0h0m1.6 0h0m65 0h0m1.6 0h0m1.7 0h0m-61 .8h0m50.4 0h0m-62.6 .8h0m1.7 0h0m1.6 0h0m1.6 0h0m65 0h0m1.6 0h0m1.7 0h0m1.6 0h0m-64.2 .8h0m53.7 0h0m-64.3 .8h0m1.7 0h0m1.6 0h0m68.2 0h0m1.7 0h0m1.6 0h0m-65.9 .7h0m57 0h0m-67.5 .8h0m1.6 0h0m1.7 0h0m71.5 0h0m1.6 0h0m1.6 0h0m-69.1 .8h0m60.2 0h0m-69.1 .8h0m1.6 0h0m1.7 0h0m71.5 0h0m1.6 0h0m1.6 0h0m-69.1 .8h0m60.2 0h0m-70.7 .8h0m1.6 0h0m1.6 0h0m74.8 0h0m1.6 0h0m1.6 0h0m-72.3 .8h0m63.4 0h0m-72.3 .8h0m1.6 0h0m1.6 0h0m74.8 0h0m1.6 0h0m1.6 0h0m-72.3 .7h0m63.4 0h0m-73.9 .8h0m1.6 0h0m1.6 0h0m78 0h0m1.6 0h0m1.7 0h0m-75.6 .8h0m66.7 0h0m-75.6 .8h0m1.6 0h0m1.6 0h0m78 0h0m1.6 0h0m1.7 0h0m-75.6 .8h0m66.7 0h0m-75.6 .8h0m1.6 0h0m1.6 0h0m78 0h0m1.6 0h0m1.7 0h0m-84.5 1.6h0m1.6 0h0m81.2 0h0m1.7 0h0m-77.3 .7h0m70 0h0m-78.9 .8h0m1.7 0h0m1.6 0h0m81.2 0h0m1.7 0h0m1.6 0h0m-78.9 .8h0m70 0h0m-78.9 .8h0m1.7 0h0m1.6 0h0m81.2 0h0m1.7 0h0m1.6 0h0m-78.9 .8h0m70 0h0m-78.9 .8h0m1.7 0h0m1.6 0h0m81.2 0h0m1.7 0h0m1.6 0h0m-78.9 .8h0m70 0h0m-78.9 .8h0m1.7 0h0m1.6 0h0m81.2 0h0m1.7 0h0m1.6 0h0m-87.8 1.5h0m1.7 0h0m1.6 0h0m81.2 0h0m1.7 0h0m1.6 0h0m-87.8 1.6h0m1.7 0h0m1.6 0h0m81.2 0h0m1.7 0h0m1.6 0h0m-87.8 1.6h0m1.7 0h0m1.6 0h0m81.2 0h0m1.7 0h0m1.6 0h0m-87.8 1.6h0m1.7 0h0m1.6 0h0m81.2 0h0m1.7 0h0m1.6 0h0m-78.9 .7h0m70 0h0m-78.9 .8h0m1.7 0h0m1.6 0h0m81.2 0h0m1.7 0h0m1.6 0h0m-78.9 .8h0m70 0h0m-78.9 .8h0m1.7 0h0m1.6 0h0m81.2 0h0m1.7 0h0m1.6 0h0m-78.9 .8h0m70 0h0m-78.9 .8h0m1.7 0h0m1.6 0h0m81.2 0h0m1.7 0h0m1.6 0h0m-78.9 .8h0m70 0h0m-77.2 .8h0m1.6 0h0m81.2 0h0m1.7 0h0m-84.5 1.5h0m1.6 0h0m1.6 0h0m78 0h0m1.6 0h0m1.7 0h0m-75.6 .8h0m66.7 0h0m-75.6 .8h0m1.6 0h0m1.6 0h0m78 0h0m1.6 0h0m1.7 0h0m-75.6 .8h0m66.7 0h0m-75.6 .8h0m1.6 0h0m1.6 0h0m78 0h0m1.6 0h0m1.7 0h0m-74 .8h0m63.4 0h0m-69.1 .7h0m74.8 0h0m-78 .1h0m1.6 0h0m78 0h0m1.6 0h0m-72.3 .8h0m63.4 0h0m-72.3 .7h0m1.6 0h0m1.6 0h0m74.8 0h0m1.6 0h0m1.6 0h0m-70.7 .8h0m60.2 0h0m-69.1 .8h0m1.6 0h0m1.7 0h0m71.5 0h0m1.6 0h0m1.6 0h0m-69.1 .8h0m60.2 0h0m-69.1 .8h0m1.6 0h0m1.7 0h0m71.5 0h0m1.6 0h0m1.6 0h0m-67.5 .8h0m57 0h0m-65.9 .7h0m1.7 0h0m1.6 0h0m68.2 0h0m1.7 0h0m1.6 0h0m-64.2 .9h0m53.7 0h0m-64.3 .7h0m1.7 0h0m1.6 0h0m1.6 0h0m65 0h0m1.6 0h0m1.7 0h0m1.6 0h0m-62.6 .8h0m50.4 0h0m-60.9 .8h0m1.6 0h0m1.6 0h0m65 0h0m1.6 0h0m1.7 0h0m-59.4 .8h0m47.2 0h0m-57.7 .8h0m1.6 0h0m1.6 0h0m61.8 0h0m1.6 0h0m1.6 0h0m-56 .8h0m43.9 0h0m-54.5 .7h0m1.6 0h0m1.7 0h0m58.5 0h0m1.6 0h0m1.6 0h0m-52.8 .9h0m1.6 0h0m37.4 0h0m1.7 0h0m-51.3 .7h0m1.7 0h0m1.6 0h0m1.6 0h0m52 0h0m1.6 0h0m1.7 0h0m1.6 0h0m-48 .8h0m1.7 0h0m30.9 0h0m1.6 0h0m-46.3 .8h0m1.6 0h0m1.6 0h0m1.6 0h0m48.8 0h0m1.6 0h0m1.6 0h0m1.7 0h0m-43.1 .8h0m1.6 0h0m24.4 0h0m1.7 0h0m-41.5 .8h0m1.6 0h0m1.6 0h0m1.7 0h0m45.5 0h0m1.6 0h0m1.6 0h0m1.6 0h0m-38.2 .8h0m1.7 0h0m1.6 0h0m1.6 0h0m1.7 0h0m8.1 0h0m1.6 0h0m1.6 0h0m1.7 0h0m1.6 0h0m-36.6 .7h0m1.6 0h0m1.7 0h0m1.6 0h0m1.6 0h0m39 0h0m1.6 0h0m1.7 0h0m1.6 0h0m1.6 0h0m-28.4 .9h0m1.6 0h0m1.6 0h0m1.7 0h0m-26.9 .7h0m1.7 0h0m1.6 0h0m1.6 0h0m1.6 0h0m1.7 0h0m32.5 0h0m1.6 0h0m1.6 0h0m1.6 0h0m1.7 0h0m1.6 0h0m-45.5 1.6h0m1.6 0h0m1.6 0h0m1.7 0h0m1.6 0h0m1.6 0h0m1.6 0h0m22.8 0h0m1.6 0h0m1.6 0h0m1.7 0h0m1.6 0h0m1.6 0h0m1.6 0h0m-39 1.6h0m1.7 0h0m1.6 0h0m1.6 0h0m1.6 0h0m1.7 0h0m1.6 0h0m1.6 0h0m1.6 0h0m1.7 0h0m1.6 0h0m1.6 0h0m1.6 0h0m1.7 0h0m1.6 0h0m1.6 0h0m1.6 0h0m1.7 0h0m1.6 0h0m1.6 0h0m1.6 0h0m1.7 0h0m1.6 0h0m-32.5 1.5h0m1.6 0h0m1.6 0h0m1.7 0h0m1.6 0h0m1.6 0h0m1.6 0h0m1.7 0h0m1.6 0h0m1.6 0h0m1.6 0h0m1.7 0h0m1.6 0h0m1.6 0h0m1.6 0h0m1.7 0h0m1.6 0h0m1.6 0h0m1.6 0h0m-22.7 1.6h0m1.6 0h0m1.6 0h0m1.7 0h0m1.6 0h0m1.6 0h0m1.6 0h0m1.7 0h0m1.6 0h0m1.6 0h0m1.6 0h0"/>
<path fill="none" stroke="#fec488" stroke-width="1.8" stroke-linecap="round" d="M199.4 160.2h0m19.5 0h0m-17.9 .1h0m1.6 0h0m1.6 0h0m1.7 0h0m6.5 0h0m1.6 0h0m1.6 0h0m1.6 0h0m-22.7 1.5h0m1.6 0h0m1.7 .1h0m22.7 0h0m1.6-.1h0m1.6 0h0m-21.9 .7h0m1.6 0h0m1.7 0h0m8.1 0h0m1.6 0h0m1.7 0h0m-25.2 .9h0m1.6 0h0m32.4 0h0m1.7 0h0m-30.1 .7h0m24.4 0h0m-33.3 .9h0m1.6 0h0m39 0h0m1.6 0h0m-38.2 .7h0m1.7 0h0m30.9 0h0m1.6 0h0m-39.8 .9h0m45.4 0h0m-41.4 .7h0m37.4 0h0m-43 .8h0m48.7 0h0m-46.4 .7h0m44 0h0m-49.6 .9h0m1.7 0h0m51.9 0h0m1.6 0h0m-51.2 .7h0m47.2 0h0m-52.8 .9h0m1.6 0h0m55.2 0h0m1.7 0h0m-54.5 .7h0m50.5 0h0m-56.2 .8h0m1.7 .1h0m58.4 0h0m1.7-.1h0m-57.7 .8h0m53.7 0h0m-57.7 .8h0m61.7 0h0m-59.4 .7h0m57 0h0m-60.9 .9h0m64.9 0h0m-62.6 .7h0m60.3 0h0m-64.3 .9h0m68.2 0h0m-68.2 1.5h0m68.2 0h0m-65.8 .8h0m63.5 0h0m-67.5 .8h0m71.4 0h0m-69.1 .7h0m66.8 0h0m-69.1 .9h0m71.4 0h0m-69.1 .7h0m66.8 0h0m-70.7 .8h0m74.7 0h0m-74.7 1.6h0m74.7 0h0m-72.4 .8h0m70 0h0m-72.3 .8h0m74.6 0h0m-72.3 .8h0m70 0h0m-74 .8h0m78 0h0m-78 1.5h0m78 0h0m-75.6 .8h0m73.3 0h0m-75.6 .8h0m77.9 0h0m-75.6 .8h0m73.3 0h0m-75.6 .8h0m77.9 0h0m-75.6 .8h0m73.3 0h0m-75.6 .8h0m77.9 0h0m-75.6 .7h0m73.2 0h0m-73.2 1.6h0m73.2 0h0m-73.2 1.6h0m73.2 0h0m-73.2 1.6h0m73.2 0h0m-75.5 .8h0m77.9 0h0m-75.6 .7h0m73.3 0h0m-75.6 .8h0m77.9 0h0m-75.6 .8h0m73.3 0h0m-75.6 .8h0m77.9 0h0m-75.6 .8h0m73.3 0h0m-75.7 .8h0m78 0h0m-78 1.6h0m78 0h0m-74 .8h0m70 0h0m-72.3 .7h0m74.6 0h0m-72.3 .8h0m70 0h0m-72.3 .8h0m74.7 0h0m-74.7 1.6h0m74.7 0h0m-70.8 .8h0m66.8 0h0m-69.1 .7h0m71.4 0h0m-69.1 .9h0m66.8 0h0m-69.1 .7h0m71.4 0h0m-67.4 .8h0m63.5 0h0m-65.9 .8h0m68.2 0h0m-68.2 1.6h0m68.2 0h0m-64.2 .8h0m60.3 0h0m-62.6 .7h0m64.9 0h0m-61 .9h0m57 0h0m-59.3 .7h0m61.7 0h0m-57.7 .9h0m53.7 0h0m-57.8 .7h0m1.7 0h0m58.4 0h0m1.7 0h0m-56.1 .8h0m50.5 0h0m-52.9 .7h0m55.2 0h0m-56.8 .1h0m58.5 0h0m-52.9 .8h0m47.2 0h0m-51.2 .7h0m1.7 0h0m51.9 0h0m1.6 0h0m-49.6 .9h0m44 0h0m-46.3 .7h0m48.7 0h0m-43.1 .9h0m37.4 0h0m-41.4 .7h0m45.4 0h0m-39.8 .9h0m1.7-.1h0m30.9 0h0m1.6 .1h0m-38.2 .7h0m1.6-.1h0m39 0h0m1.6 .1h0m-33.3 .8h0m24.4 0h0m-30 .7h0m1.6 0h0m32.4 0h0m1.7 0h0m-25.2 .9h0m1.6 0h0m1.7 0h0m8.1 0h0m1.6 0h0m1.7 0h0m-22 .7h0m1.6 0h0m1.7 0h0m22.7 0h0m1.6 0h0m1.6 0h0m-21.1 1.5h0m1.6 0h0m1.7 0h0m6.5 0h0m1.6 0h0m1.6 0h0m-16.2 .1h0m1.6 0h0m16.2 0h0m1.7 0h0"/>
<use href="#me9ac2b4124" x="209.1" y="198" fill="#f00"/>
<path fill="none" stroke="#d6d6d6" stroke-width=".8" stroke-linecap="square" stroke-linejoin="miter" d="M157.1 248.4l0 -102.2M262.6 248.4l0 -102.2M157.1 248.4l105.5 0M157.1 146.2l105.5 0"/>
<path fill="#000" d="M225.9 180.3l.4 -.1 .3 -.2 .2 -.3 .1 -.4-.1 -.4-.2 -.3-.3 -.2-.4 -.1-.4 .1-.3 .2-.2 .3-.1 .4 .1 .4 .2 .3 .3 .2zM229.8 179.6l.4 -.1 .3 -.2 .2 -.3 .1 -.4-.1 -.4-.2 -.3-.3 -.2-.4 -.1-.4 .1-.3 .2-.2 .3-.1 .4 .1 .4 .2 .3 .3 .2zM225.2 184l.6 -.1 .4 -.3 .3 -.4 .1 -.6-.1 -.6-.3 -.4-.4 -.3-.6 -.1-.6 .1-.4 .3-.3 .4-.1 .6 .1 .6 .3 .4 .4 .3zM228.5 185.6l.4 -.1 .3 -.2 .2 -.3 .1 -.4-.1 -.4-.2 -.3-.3 -.2-.4 -.1-.4 .1-.3 .2-.2 .3-.1 .4 .1 .4 .2 .3 .3 .2zM232.5 183.6l.4 -.1 .3 -.2 .2 -.3 .1 -.4-.1 -.4-.2 -.3-.3 -.2-.4 -.1-.4 .1-.3 .2-.2 .3-.1 .4 .1 .4 .2 .3 .3 .2zM237.1 177.6l.4 -.1 .3 -.2 .2 -.3 .1 -.4-.1 -.4-.2 -.3-.3 -.2-.4 -.1-.4 .1-.3 .2-.2 .3-.1 .4 .1 .4 .2 .3 .3 .2zM243.1 180.3l.4 -.1 .3 -.2 .2 -.3 .1 -.4-.1 -.4-.2 -.3-.3 -.2-.4 -.1-.4 .1-.3 .2-.2 .3-.1 .4 .1 .4 .2 .3 .3 .2zM245.1 179l.4 -.1 .3 -.2 .2 -.3 .1 -.4-.1 -.4-.2 -.3-.3 -.2-.4 -.1-.4 .1-.3 .2-.2 .3-.1 .4 .1 .4 .2 .3 .3 .2zM239.1 187.6l.4 -.1 .3 -.2 .2 -.3 .1 -.4-.1 -.4-.2 -.3-.3 -.2-.4 -.1-.4 .1-.3 .2-.2 .3-.1 .4 .1 .4 .2 .3 .3 .2zM221.9 188.8l.6 -.2 .4 -.3 .3 -.4 .2 -.6-.2 -.6-.3 -.4-.4 -.3-.6 -.2-.6 .2-.4 .3-.3 .4-.2 .6 .2 .6 .3 .4 .4 .3zM220.5 190.9l.4 -.1 .3 -.2 .2 -.3 .1 -.4-.1 -.4-.2 -.3-.3 -.2-.4 -.1-.4 .1-.3 .2-.2 .3-.1 .4 .1 .4 .2 .3 .3 .2zM217.9 190.9l.4 -.1 .3 -.2 .2 -.3 .1 -.4-.1 -.4-.2 -.3-.3 -.2-.4 -.1-.4 .1-.3 .2-.2 .3-.1 .4 .1 .4 .2 .3 .3 .2zM216.6 192.6l.6 -.1 .4 -.3 .3 -.4 .1 -.6-.1 -.6-.3 -.4-.4 -.3-.6 -.1-.6 .1-.4 .3-.3 .4-.1 .6 .1 .6 .3 .4 .4 .3zM214.6 194.9l.4 -.1 .3 -.2 .2 -.3 .1 -.4-.1 -.4-.2 -.3-.3 -.2-.4 -.1-.4 .1-.3 .2-.2 .3-.1 .4 .1 .4 .2 .3 .3 .2zM235.8 198.9l.4 -.1 .3 -.2 .2 -.3 .1 -.4-.1 -.4-.2 -.3-.3 -.2-.4 -.1-.4 .1-.3 .2-.2 .3-.1 .4 .1 .4 .2 .3 .3 .2zM227.8 200.9l.4 -.1 .3 -.2 .2 -.3 .1 -.4-.1 -.4-.2 -.3-.3 -.2-.4 -.1-.4 .1-.3 .2-.2 .3-.1 .4 .1 .4 .2 .3 .3 .2zM196.6 195.6l.4 -.1 .3 -.2 .2 -.3 .1 -.4-.1 -.4-.2 -.3-.3 -.2-.4 -.1-.4 .1-.3 .2-.2 .3-.1 .4 .1 .4 .2 .3 .3 .2zM195.3 200.2l.4 -.1 .3 -.2 .2 -.3 .1 -.4-.1 -.4-.2 -.3-.3 -.2-.4 -.1-.4 .1-.3 .2-.2 .3-.1 .4 .1 .4 .2 .3 .3 .2zM204.6 203.4l.6 -.2 .4 -.3 .3 -.4 .1 -.6-.1 -.6-.3 -.4-.4 -.3-.6 -.2-.6 .2-.4 .3-.3 .4-.1 .6 .1 .6 .3 .4 .4 .3zM200.6 206.2l.4 -.1 .3 -.2 .2 -.3 .1 -.4-.1 -.4-.2 -.3-.3 -.2-.4 -.1-.4 .1-.3 .2-.2 .3-.1 .4 .1 .4 .2 .3 .3 .2zM198 207.5l.4 -.1 .3 -.2 .2 -.3 .1 -.4-.1 -.4-.2 -.3-.3 -.2-.4 -.1-.4 .1-.3 .2-.2 .3-.1 .4 .1 .4 .2 .3 .3 .2zM203.3 204.9l.4 -.1 .3 -.2 .2 -.3 .1 -.4-.1 -.4-.2 -.3-.3 -.2-.4 -.1-.4 .1-.3 .2-.2 .3-.1 .4 .1 .4 .2 .3 .3 .2zM192.7 210.8l.4 -.1 .3 -.2 .2 -.3 .1 -.4-.1 -.4-.2 -.3-.3 -.2-.4 -.1-.4 .1-.3 .2-.2 .3-.1 .4 .1 .4 .2 .3 .3 .2zM196 213.5l.4 -.1 .3 -.2 .2 -.3 .1 -.4-.1 -.4-.2 -.3-.3 -.2-.4 -.1-.4 .1-.3 .2-.2 .3-.1 .4 .1 .4 .2 .3 .3 .2zM191.3 214.8l.4 -.1 .3 -.2 .2 -.3 .1 -.4-.1 -.4-.2 -.3-.3 -.2-.4 -.1-.4 .1-.3 .2-.2 .3-.1 .4 .1 .4 .2 .3 .3 .2zM233.2 181.6l.4 -.1 .3 -.2 .2 -.3 .1 -.4-.1 -.4-.2 -.3-.3 -.2-.4 -.1-.4 .1-.3 .2-.2 .3-.1 .4 .1 .4 .2 .3 .3 .2zM255.3 153.7l.4 -.1 .3 -.2 .2 -.3 .1 -.4-.1 -.4-.2 -.3-.3 -.2-.4 -.1-.4 .1-.3 .2-.2 .3-.1 .4 .1 .4 .2 .3 .3 .2zM262 148.4l.6 -.1 .4 -.3 .3 -.4 .1 -.6-.1 -.6-.3 -.4-.4 -.3-.6 -.1-.6 .1-.4 .3-.3 .4-.1 .6 .1 .6 .3 .4 .4 .3zM262 154.2l.6 -.2 .4 -.3 .3 -.4 .1 -.6-.1 -.6-.3 -.4-.4 -.3-.6 -.2-.6 .2-.4 .3-.3 .4-.1 .6 .1 .6 .3 .4 .4 .3zM262 166.3l.4 -.1 .3 -.2 .2 -.3 .1 -.4-.1 -.4-.2 -.3-.3 -.2-.4 -.1-.4 .1-.3 .2-.2 .3-.1 .4 .1 .4 .2 .3 .3 .2zM262 216l.4 -.1 .3 -.2 .2 -.3 .1 -.4-.1 -.4-.2 -.3-.3 -.2-.4 -.1-.4 .1-.3 .2-.2 .3-.1 .4 .1 .4 .2 .3 .3 .2zM239.9 187.5l.4 -.1 .3 -.2 .2 -.3 .1 -.4-.1 -.4-.2 -.3-.3 -.2-.4 -.1-.4 .1-.3 .2-.2 .3-.1 .4 .1 .4 .2 .3 .3 .2zM181.1 213.5l.4 -.1 .3 -.2 .2 -.3 .1 -.4-.1 -.4-.2 -.3-.3 -.2-.4 -.1-.4 .1-.3 .2-.2 .3-.1 .4 .1 .4 .2 .3 .3 .2zM174.3 227.9l.4 -.1 .3 -.2 .2 -.3 .1 -.4-.1 -.4-.2 -.3-.3 -.2-.4 -.1-.4 .1-.3 .2-.2 .3-.1 .4 .1 .4 .2 .3 .3 .2zM186.9 216.4l.4 -.1 .3 -.2 .2 -.3 .1 -.4-.1 -.4-.2 -.3-.3 -.2-.4 -.1-.4 .1-.3 .2-.2 .3-.1 .4 .1 .4 .2 .3 .3 .2zM188.9 213.4l.4 -.1 .3 -.2 .2 -.3 .1 -.4-.1 -.4-.2 -.3-.3 -.2-.4 -.1-.4 .1-.3 .2-.2 .3-.1 .4 .1 .4 .2 .3 .3 .2zM207 201l.4 -.1 .3 -.2 .2 -.3 .1 -.4-.1 -.4-.2 -.3-.3 -.2-.4 -.1-.4 .1-.3 .2-.2 .3-.1 .4 .1 .4 .2 .3 .3 .2zM212 196.5l.4 -.1 .3 -.2 .2 -.3 .1 -.4-.1 -.4-.2 -.3-.3 -.2-.4 -.1-.4 .1-.3 .2-.2 .3-.1 .4 .1 .4 .2 .3 .3 .2zM224 186l.4 -.1 .3 -.2 .2 -.3 .1 -.4-.1 -.4-.2 -.3-.3 -.2-.4 -.1-.4 .1-.3 .2-.2 .3-.1 .4 .1 .4 .2 .3 .3 .2zM218 189l.4 -.1 .3 -.2 .2 -.3 .1 -.4-.1 -.4-.2 -.3-.3 -.2-.4 -.1-.4 .1-.3 .2-.2 .3-.1 .4 .1 .4 .2 .3 .3 .2zM196.1 210.5l.4 -.1 .3 -.2 .2 -.3 .1 -.4-.1 -.4-.2 -.3-.3 -.2-.4 -.1-.4 .1-.3 .2-.2 .3-.1 .4 .1 .4 .2 .3 .3 .2zM198.7 207.8l.4 -.1 .3 -.2 .2 -.3 .1 -.4-.1 -.4-.2 -.3-.3 -.2-.4 -.1-.4 .1-.3 .2-.2 .3-.1 .4 .1 .4 .2 .3 .3 .2zM203.3 206.6l.4 -.1 .3 -.2 .2 -.3 .1 -.4-.1 -.4-.2 -.3-.3 -.2-.4 -.1-.4 .1-.3 .2-.2 .3-.1 .4 .1 .4 .2 .3 .3 .2zM204.7 202.7l.4 -.1 .3 -.2 .2 -.3 .1 -.4-.1 -.4-.2 -.3-.3 -.2-.4 -.1-.4 .1-.3 .2-.2 .3-.1 .4 .1 .4 .2 .3 .3 .2zM207.7 201.1l.4 -.1 .3 -.2 .2 -.3 .1 -.4-.1 -.4-.2 -.3-.3 -.2-.4 -.1-.4 .1-.3 .2-.2 .3-.1 .4 .1 .4 .2 .3 .3 .2zM210.9 198.9l.4 -.1 .3 -.2 .2 -.3 .1 -.4-.1 -.4-.2 -.3-.3 -.2-.4 -.1-.4 .1-.3 .2-.2 .3-.1 .4 .1 .4 .2 .3 .3 .2zM215.6 196.3l.4 -.1 .3 -.2 .2 -.3 .1 -.4-.1 -.4-.2 -.3-.3 -.2-.4 -.1-.4 .1-.3 .2-.2 .3-.1 .4 .1 .4 .2 .3 .3 .2zM218.8 194.8l.4 -.1 .3 -.2 .2 -.3 .1 -.4-.1 -.4-.2 -.3-.3 -.2-.4 -.1-.4 .1-.3 .2-.2 .3-.1 .4 .1 .4 .2 .3 .3 .2zM220.5 192.5l.4 -.1 .3 -.2 .2 -.3 .1 -.4-.1 -.4-.2 -.3-.3 -.2-.4 -.1-.4 .1-.3 .2-.2 .3-.1 .4 .1 .4 .2 .3 .3 .2zM224.2 190l.4 -.1 .3 -.2 .2 -.3 .1 -.4-.1 -.4-.2 -.3-.3 -.2-.4 -.1-.4 .1-.3 .2-.2 .3-.1 .4 .1 .4 .2 .3 .3 .2zM227.5 188.5l.4 -.1 .3 -.2 .2 -.3 .1 -.4-.1 -.4-.2 -.3-.3 -.2-.4 -.1-.4 .1-.3 .2-.2 .3-.1 .4 .1 .4 .2 .3 .3 .2zM231.1 185l.4 -.1 .3 -.2 .2 -.3 .1 -.4-.1 -.4-.2 -.3-.3 -.2-.4 -.1-.4 .1-.3 .2-.2 .3-.1 .4 .1 .4 .2 .3 .3 .2zM234.5 184.3l.4 -.1 .3 -.2 .2 -.3 .1 -.4-.1 -.4-.2 -.3-.3 -.2-.4 -.1-.4 .1-.3 .2-.2 .3-.1 .4 .1 .4 .2 .3 .3 .2zM237.1 180.7l.4 -.1 .3 -.2 .2 -.3 .1 -.4-.1 -.4-.2 -.3-.3 -.2-.4 -.1-.4 .1-.3 .2-.2 .3-.1 .4 .1 .4 .2 .3 .3 .2zM240.5 180.2l.4 -.1 .3 -.2 .2 -.3 .1 -.4-.1 -.4-.2 -.3-.3 -.2-.4 -.1-.4 .1-.3 .2-.2 .3-.1 .4 .1 .4 .2 .3 .3 .2zM245.1 177.4l.4 -.1 .3 -.2 .2 -.3 .1 -.4-.1 -.4-.2 -.3-.3 -.2-.4 -.1-.4 .1-.3 .2-.2 .3-.1 .4 .1 .4 .2 .3 .3 .2z"/>
<text x="209.8" y="144.4" font-size="8.45" text-anchor="middle">Search history</text>
<path fill="#fff" d="M157.1 384.5l105.5 0 0 -102.2-105.5 0z"/>
<text x="157.1" y="390.7" font-size="4.9" text-anchor="middle">−10</text>
<text x="182.3" y="390.7" font-size="4.9" text-anchor="middle">−5</text>
<text x="207.6" y="390.7" font-size="4.9" text-anchor="middle">0</text>
<text x="232.8" y="390.7" font-size="4.9" text-anchor="middle">5</text>
<text x="258.1" y="390.7" font-size="4.9" text-anchor="middle">10</text>
<text x="209.8" y="399.4" font-size="8.45" text-anchor="middle">x1</text>
<text x="155.8" y="386.3" font-size="4.9" text-anchor="end">−10.0</text>
<text x="155.8" y="374.1" font-size="4.9" text-anchor="end">−7.5</text>
<text x="155.8" y="361.8" font-size="4.9" text-anchor="end">−5.0</text>
<text x="155.8" y="349.6" font-size="4.9" text-anchor="end">−2.5</text>
<text x="155.8" y="337.4" font-size="4.9" text-anchor="end">0.0</text>
<text x="155.8" y="325.2" font-size="4.9" text-anchor="end">2.5</text>
<text x="155.8" y="312.9" font-size="4.9" text-anchor="end">5.0</text>
<text x="155.8" y="300.7" font-size="4.9" text-anchor="end">7.5</text>
<text x="155.8" y="288.5" font-size="4.9" text-anchor="end">10.0</text>
<text x="145.3" y="333.4" font-size="8.45" text-anchor="middle" transform="rotate(-90 145.3 333.4)">x2</text>
<path fill="none" stroke="#641a80" stroke-width=".8" d="M207.6 336.4l-.9 -.8 .9 -.8 .8 .8z"/>
<path fill="none" stroke="#8c2981" stroke-width=".8" d="M207.1 337.7l-1 -.7-.9 -1.4 .9 -1.4 1.5 -.9 1.5 .9 .9 1.4-.6 1-.8 .8-1 .5-.5 -.2"/>
<path fill="none" stroke="#b73779" stroke-width=".8" d="M207.6 339.5l-1.5 -.3-1 -.7-1.2 -1.4-.4 -1.5 .4 -1.5 1.2 -1.4 1 -.7 1.5 -.3 1.5 .3 1.5 1.2 .7 .9 .4 1.5-.4 1.5-.7 .9-1.5 1.2z"/>
<path fill="none" stroke="#de4968" stroke-width=".8" d="M173.4 384.5l-1.3 -2-.2 -.9 .2 -1 1 -1.5 1.2 -1.1 1 -.5 1 -.1 1 .2 1.5 1 1.5 1.5 .5 1-.1 1.4-1.6 2M187.2 384.5l-1.3 -2-.1 -1.4 .7 -1.5 3 -3.9 .5 -1.5-.3 -.9-.6 -1-2.2 -2.4-2 -1.7-1.6 -.7-1.5 .5-3.5 2.4-1.5 .7-1 0-1 -.3-2 -1.5-1.5 -1.9-.4 -1 .1 -1 .6 -1.4 2.8 -3.9 .1 -1.5-.6 -1-1.8 -2-1.9 -1.7-1.5 -1-1 -.3-1 .2-4.6 3.2-1.5 .7-1.5 -.1-2 -1.2M204.2 384.5l-2.5 -2-.5 -.9 .6 -1 1.8 -1.5 1.5 -.8 1.5 -.3 1 .3 1.5 -.2 1 .2 2.1 1.3 1.5 1.5 .3 .5-.6 .9-2.4 2M218 384.5l-1.9 -2-.4 -.9 .5 -1 4.4 -4.9 .4 -1 0 -1-1 -1.4-2.1 -2-1.7 -1.1-1.6 -.3-1.5 .2-2.5 1-1.5 .3-1.5 -.3-1 .3-1 0-4.1 -1.4-1.5 -.1-1.5 .6-2 1.4-1.8 1.9-.6 1.4 .2 1 .6 1 4 4.4 .6 1-.5 .9-1.9 2M236.1 384.5l-1.6 -2-.1 -1.4 .5 -1 1.5 -1.5 1.5 -1 1 -.2 1 .1 1 .5 1.2 1.1 .9 1.5 .3 1-.2 .9-1.3 2M253.4 384.5l-1.4 -1.5-.4 -.9 .1 -1 .4 -1 .9 -1 1 -.6 1 -.2 1 .1 1 .6 1.1 1.1 .4 1 .1 1-.4 .9-1.4 1.5M157.1 380l1 -1 1.5 -.7 1 0 1.5 .8 1.2 1.5 .2 1.5-.7 1.4-1.1 1M157.1 363.2l2 -1.5 1.5 -.1 1 .4 1.6 1.5 1 1.4 .3 1-.2 1-.5 1-1.1 1.1-1.6 .9-1 .3-1 -.2-2 -1.3M262.6 352.1l-1.5 .8-4.1 3.2-1.5 .6-1 0-1 -.4-4 -2.9-1.5 -.7-1.6 .2-2.9 2.3-2.3 2.4-.7 1.5 .5 1.4 2.5 3.5 .7 1.4 0 1-.3 1-1.5 1.8-2 1.6-1 .3-1 0-1.5 -.7-4.1 -2.7-1.5 -.1-1 .6-2 1.7-1.8 1.9-1.1 1.5-.2 .9 .2 1 3.2 4.4 .8 1.5-.1 1.4-1.3 2M157.1 345.7l2 -1.8 1 -.5 1 .6 5.1 4.2 1 .4 1 0 1.5 -.9 2 -2.1 1.2 -1.7 .3 -1.5-.2 -1.4-1.1 -2.5-.3 -1.4 .3 -1.5-.3 -1 .1 -1 1.4 -3.9 .1 -1.4-.6 -1.5-1.5 -2-1.9 -1.7-1.5 -.6-1 .2-1 .6-4.6 3.9-1 .6-1 -.5-2 -1.8M157.1 332.3l2 -2.4 1 -.5 1 .6 1.6 1.8 .8 1.4 .3 1.4-.3 1 .3 1.5-.3 .9-1.4 2.1-1.5 1.5-.5 .2-1 -.5-2 -2.4M262.6 321.9l-2 1.3-4.6 4.1-1 .5-1 -.6-5 -4.2-1 -.4-1 0-1.6 .9-2 2.1-1.1 1.7-.4 1.5 .3 1.4 1 2.5 .4 1.4-.4 1.5 .3 1 0 1-1.5 3.9 0 1.4 .9 2 1.5 1.9 2 1.6 1.6 .2 1.5 -.7 4.5 -3.9 1 -.6 1 .5 4.6 4.1 2 1.3M157.1 315.8l2 -1.2 1.5 -.1 1.5 .7 4.6 3.2 1 .2 1 -.3 1.5 -1 1.9 -1.7 1.8 -2 .6 -1-.1 -1.4-2.8 -4-.6 -1.4-.1 -1 .4 -1 1.5 -1.9 2 -1.5 1 -.3 1 0 1.5 .7 3.5 2.4 1.5 .5 1.6 -.7 2.5 -2.2 2.3 -2.9 .3 -1.4-.8 -1.5-3 -3.9-.4 -1 0 -1 .6 -1.4 3.3 -3.9 .9 -1.5M157.1 302.5l2 -1.3 1 -.2 1 .3 1.6 .9 1.1 1.1 .5 1 .2 1-.3 1-1 1.4-1.6 1.5-1 .4-1.5 -.1-2 -1.5M157.1 287.9l1.5 -1.4 1 -.3 1 0 1 .5 1.2 1 .6 1 .1 .9-.2 1-.7 1-1 .8-1 .5-1 0-1 -.3-1.5 -1.4M193.4 282.3l1.4 2 4.2 4.4 .5 .9-.6 1-4.3 4.9-.5 1 .1 1 .9 1.4 2.1 2 1.8 1.1 1.5 .3 1.5 -.2 2.5 -1 1.6 -.3 1.5 .3 1 -.3 1 0 4 1.4 1.6 .1 2 -.9 1.9 -1.5 1.7 -2 .2 -1.4-.7 -1.5-4.1 -4.4-.5 -1 .4 -.9 4.3 -4.4 1.3 -2M224.6 282.3l.8 1.5 3.3 3.9 .6 1 .1 .9-.5 1.5-3.5 4.9-.2 1 .2 .9 1.1 1.5 1.8 1.9 2 1.7 1 .6 1.5 -.1 4.1 -2.7 1.5 -.7 1 0 1 .3 2 1.6 1.5 1.8 .3 1 0 1-.7 1.4-2.5 3.5-.5 1.4 .7 1.5 1.8 2 2.4 2.1 1 .6 1.1 .3 1.5 -.5 4.5 -3.2 1 -.4 1 0 1.5 .6 4.1 3.2 1.5 .8M254 369.9l-1.5 -.9-1.1 -1.1-.7 -1.5 .1 -1 .7 -1.4 1.5 -1.6 1.5 -.8 1 -.1 1.5 .8 1.6 1.5 .6 1.1 .3 1.5-.7 1.5-1.8 1.6-1.5 .6-1.5 -.2M182.3 363.7l1 .2 1.6 -.9 1.1 -1.5 .6 -1.4-.2 -1.5-.5 -1.1-1 -.9-1.6 -.6-1.5 .1-1.2 .5-1.8 1.5-.5 1 .2 1 .7 .9 1.6 1.7zM231.3 363.8l1 .1 1.5 -.8 2.2 -2.1 .8 -1.4-.2 -1-.7 -1-1.3 -1-1.3 -.5-1.5 -.1-1 .3-1.2 .8-.9 1.5-.2 1 .4 1.4 .9 1.5zM200 361.5l1 .3 1 -.2 3.1 -1.3 1 .1 1.5 1.1 1.5 -1.1 1 -.1 3 1.3 1.5 .1 1.2 -.7 .4 -.5 .1 -.9-.4 -1-1.3 -.8-1.5 -.2-3 .7-1 -.3-1.5 -1.2-1.5 1.2-1 .3-3.6 -.7-1.7 .5-.9 1 0 1 .5 .9zM182.3 344.1l1 -.1 .6 -.3 .8 -1.3 .1 -1.4-.7 -3 .4 -.9 1.2 -1.5-1.2 -1.5-.4 -.9 .7 -3-.1 -1.4-.8 -1.3-1.1 -.4-.9 .2-.6 .3-.5 .7-.2 .9 .2 1.3 1.3 2.7-.2 .9-1.1 1.5 1.1 1.5 .2 .9-1.3 2.7-.2 1.3 .2 .9 .4 .5zM231.8 344l1 .1 1 -.5 .5 -.7 .3 -.9-.3 -1.3-1.3 -2.7 .2 -.9 1.1 -1.5-1.1 -1.5-.2 -.9 1.4 -3 .1 -1.4-.7 -1.2-.5 -.3-1 -.2-1 .4-.9 1.3-.1 1.4 .7 3-.3 .9-1.3 1.5 1.5 2 .1 .9-.6 2-.1 1.5 .5 1.2zM254.5 341.6l-1.5 -1.5-1.3 -2.1-.3 -.9 .2 -1.5-.2 -1 .3 -1.4 .8 -1.4 1.5 -1.8 1 -.6 .5 .1 1 .9 1.8 2.3 .5 1.4-.2 1.5 .2 1-.3 1.4-1.5 2.2-1.5 1.5-.5 .1zM181.8 315.1l1.5 .1 1.6 -.6 1 -1 .7 -1.5-.1 -1.4-.6 -1.3-1.5 -1.6-1.1 -.5-1 .2-1.5 1-1.6 1.7-.8 1.4 .1 1 .8 1 1.3 1zM231.3 315.1l1.5 .1 1.5 -.5 1.6 -1.1 .9 -1.5-.2 -.9-1.1 -1.5-1.7 -1.6-1.5 -.8-1 .1-1 .8-1.2 1.5-.5 1.5 .1 1.4 .5 1 1 1zM207.6 314.4l1.5 -1.2 1 -.3 3.5 .7 1.8 -.5 .8 -1 .1 -.9-.5 -1-.6 -.5-1.1 -.3-1 .2-3 1.3-1 -.1-1.5 -1.1-1.5 1.1-1 .1-2.8 -1.2-1.3 -.3-1 .3-1 1-.1 1.4 1.1 1.1 1 .4 1 0 3.1 -.7 1 .3zM255 309.7l-1 -.2-1.6 -1.3-1.2 -1.5-.5 -1.4 .4 -1.5 .9 -1.2 1.5 -1.1 1.5 -.5 1.5 .4 1.4 .9 1.2 1.5 .4 1.5-.5 1.4-1.2 1.5-1.3 1.1zM175.3 293.7l-1.5 -.9-1.1 -1.2-.7 -1.5-.1 -1 .7 -1.4 1.2 -1.3 1.5 -.9 1.5 -.1 1.5 .7 1.7 1.6 .8 1.4 0 1-.9 1.5-1.6 1.5-1.5 .7-1.5 -.1M237.9 293.6l-1.5 -1-1.1 -1-.9 -1.5-.1 -1 .8 -1.4 1.6 -1.5 1.2 -.7 1.5 -.2 1.5 .7 1.3 1.2 .9 1.5 .1 1.4-.7 1.5-1.6 1.6-1.5 .6zM206.1 293.1l-1 -.2-1.5 -.8-1.8 -1.5-.6 -1 .1 -.5 .9 -.9 2.3 -1.7 1.6 -.5 3.5 .1 2.1 1.1 2.1 1.9 .2 .5-.7 1-2.7 2-1.5 .5-1.5 -.2-1.5 .2M254 292.7l-1 -.6-1 -1.2-.4 -1.3 .2 -.9 .6 -1 1.1 -1 1.5 -.5 1 .1 1.4 .9 .8 1 .4 .9-.1 1-.8 1.5-1.2 1-1.5 .3z"/>
<path fill="none" stroke="#de4968" stroke-width="2.2" stroke-linecap="round" d="M157.7 383.9h0"/>
<path fill="none" stroke="#f7705c" stroke-width=".8" d="M171 384.5l-1.5 -2-.1 -1.4 .5 -1 3.1 -3.9 .5 -1 .2 -1-.5 -1.4-1.6 -2-2.4 -1.9-1.5 -.5-1 .2-1 .5-4.1 3-1 .5-1.5 -.2-2 -1.4M251 384.5l-1.6 -2-.3 -.9 .1 -.5 1 -1.5 2.3 -2.3 1.5 -1.1 1 -.4 1 .3 1.6 1.1 1.9 1.9 1 1.5 .3 1.5-.4 .9-1.2 1.5M157.1 377.7l1.5 -1.3 1.5 -.6 1.5 .7 2.1 1.7 1.7 1.9 .6 1.5-.5 1.4-1.3 1.5M262.6 367.9l-1.5 .7-4.1 3.2-1.5 .8-1.5 -.2-4.5 -3.3-1.5 -.7-1.6 .2-2 1.4-2.1 2.3-.6 1-.3 .9 .2 1 .5 1 3.1 3.9 .6 1-.2 1.4-1.5 2M262.6 356.4l-1 .2-1.4 1-.6 1-.2 1 .2 .9 1 1.5 1 .9 1 .4M262.6 339.6l-.5 .6-.4 1.3 .3 .9 .6 .5M262.6 334.1l-1.8 1.5 1.8 1.5M262.6 328.3l-.6 .5-.3 .9 .4 1.3 .5 .6M262.6 307.9l-1 .4-1 .9-1 1.5-.2 .9 .2 1 .6 1 1.4 1 1 .2M157.1 300.2l2 -1.4 1.5 -.2 1 .5 4.1 3 1 .5 1 .2 1 -.2 1 -.6 2.3 -2.1 1.5 -2 .2 -1.4-.7 -1.5-3.4 -4.4-.3 -1.5 .9 -1.4 3.3 -3.9 .7 -1.5M157.1 285.6l1.5 -1.1 1 -.4 1.5 .2 1.6 1 1.9 1.9 1.2 1.5 .2 .9-.3 1-1.2 1.5-2.4 2.2-1.5 1-1.5 -.2-2 -1.6M178.9 282.3l.5 1 1 1 1.4 .9 1 .2 1.1 -.2 1 -.6 1 -1.3 .2 -1M200 282.3l.5 .6 1 .3 1.4 -.4 .6 -.5M206 282.3l1.6 1.7 1.5 -1.7M211.7 282.3l.6 .5 1.3 .4 1 -.3 .5 -.6M229 282.3l.3 1 1 1.3 1 .6 1 .2 1 -.2 1.5 -.9 .9 -1 .5 -1M241 282.3l.7 1.5 3.3 3.9 .8 1.4-.3 1.5-3.4 4.4-.6 1.5 .2 1.4 1.9 2.5 2.3 1.9 1.1 .4 1 .1 1.5 -.7 4.5 -3.3 1.5 -.2 1.5 .8 4.1 3.2 1.5 .7M182.8 377.2l1.6 -.5 .8 -1 .3 -1-.1 -1-.6 -.9-.9 -.7-1.1 -.2-1 .2-1 .5-.7 .7-.4 .9 .2 1 .8 1 1.1 .8zM232.3 377.2l1 -.2 1.2 -.8 .7 -1 .2 -1-.4 -.9-.7 -.7-1 -.5-1 -.2-1 .2-.9 .7-.6 .9-.1 1 .3 1 .8 1zM207.6 375.9l.7 -1.7-.7 -1.5-.8 1.5zM167.2 362.6l1 -.1 .7 -.5 .8 -1 .4 -.9-.1 -1-.4 -1-.9 -.8-1 -.3-1 .1-1 .5-.8 1-.3 1 .3 .9 .6 1zM247.5 362.6l1 -.2 1 -.7 .8 -1.2 .2 -.9-.5 -1.5-1 -.8-1 -.3-1 .1-1.1 .6-.6 .9-.3 1 .2 .9 .6 1 .6 .7zM167.2 336.3l1 -.1 1.1 -.6-1.1 -.6-1 -.1-1.2 .7zM247 336.2l1 .1 1.1 -.7-1.1 -.7-1 .1-1.2 .6zM166.7 314.1l1 .1 1 -.3 .9 -.8 .4 -1 .1 -.9-.4 -1-1 -1.2-1 -.4-1 .2-.6 .4-.9 1-.5 1 0 .9 .5 1zM247 314.1l1 .1 1 -.3 1 -.8 .5 -1 0 -.9-.5 -1.1-1 -1-1 -.5-1 .1-.8 .5-.8 1-.3 1 0 .9 .3 .8 .6 .7zM181.3 298.9l1 .4 1 -.1 1.1 -.4 .8 -.9 .3 -.9-.1 -1-1 -1.5-1.1 -.5-1 .1-1 .4-1.1 1-.5 1 .1 1 .8 .9zM231.3 299.1l1 .2 1 -.2 1.3 -.7 .7 -.9 .1 -.5-.2 -1-.7 -1-1.2 -.8-1 -.2-1 .2-1 .8-.5 .9 0 1.6 .6 .9zM207.6 298.6l.7 -1.6-.7 -1.7-.8 1.7zM254 295l-1.5 -1.1-2.3 -2.3-1 -1.5 0 -1 .9 -1.4 2.4 -2.4 1.5 -1 1.5 -.2 1.5 .7 2.2 1.9 1.2 1.5 .4 1.4-.3 1-.6 1-2.9 2.8-1.5 .9z"/>
<path fill="none" stroke="#fe9f6d" stroke-width=".8" d="M262.6 370.3l-1.5 .5-1.4 1-1.1 1.5-.3 .9 .4 1.5 .9 1.2 1.5 1.4 1.5 .7M262.6 292.2l-1.5 .7-1.5 1.4-.9 1.2-.4 1.5 .3 .9 1.1 1.5 1.4 1 1.5 .5M162.8 282.3l.7 1.5 1.4 1.4 1.3 .9 1.5 .4 1 -.3 1.5 -1.1 1 -1.3 .5 -1.5M243.4 282.3l.5 1.5 1 1.3 1.5 1.1 1.1 .3 1.5 -.4 1.2 -.9 1.5 -1.4 .7 -1.5M257.7 282.3l.7 1.5 1.2 1.3 1.5 1.2 1.5 .7M166.7 378.3l1 .1 1.5 -.6 1.2 -1.1 .8 -1.5 0 -1.5-.5 -.9-1 -1.2-1.5 -.7-1 -.1-1.5 .5-1.3 1-1 1.4 0 1 .7 1.5 1.1 1.1zM246.4 378.1l1.6 .3 1.5 -.7 1.6 -1.5 .7 -1.5-.1 -1-.7 -1.2-1 -.9-1.5 -.7-1.5 0-1.1 .4-1.1 1-.8 1.4-.1 1 .5 1.5 1 1.2zM167.2 300.4l1.5 -.2 1 -.6 1 -1.2 .6 -1.4-.3 -1.5-.8 -1.2-1 -.9-1.5 -.6-1 .1-1.5 1-1.1 1.1-.7 1.5 0 1 1 1.4 1.3 1zM247.5 300.4l1.5 -.3 1.2 -.7 1 -1 .6 -1.4-.4 -1.5-1.2 -1.5-1.2 -.8-1.5 -.4-1.6 .6-1 .9-.7 1.2-.3 1.5 .5 1.4 .9 1 1.1 .8z"/>
<path fill="none" stroke="#fe9f6d" stroke-width="1.8" stroke-linecap="round" d="M157.3 282.7h0m104.9 101.6h0"/>
<path fill="none" stroke="#fecf92" stroke-width=".8" d="M262.6 372.5l-1.4 .8-.5 .9 .5 1.5 1.4 .8M262.6 294.7l-1.4 .8-.5 1.5 .5 .9 1.4 .8M165.3 282.3l.4 .9 .5 .5 1.5 .4 1 -.5 .8 -1.3M245.7 282.3l.7 1.3 1.1 .5 1.5 -.4 .5 -.5 .3 -.9M259.9 282.3l.8 1.5 .9 .7 1 .4M167.2 375.3l.5 -.1 .5 -.5-.1 -.5-.4 -.4-.5 0-.5 .4 0 .6zM247.5 375.2l.6 0 .4 -.5 0 -.5-.5 -.4-.5 0-.5 .4 0 .5zM166.7 297l.5 .4 .5 0 .4 -.4 .1 -.5-.5 -.5-.5 -.1-.6 .6zM247.5 297.4l.5 0 .5 -.4 0 -.6-.5 -.5-.5 .1-.5 .5 0 .5z"/>
<use href="#me9ac2b4124" x="207.6" y="335.6" fill="#f00"/>
<path fill="none" stroke="#d6d6d6" stroke-width=".8" stroke-linecap="square" stroke-linejoin="miter" d="M157.1 384.5l0 -102.2M262.6 384.5l0 -102.2M157.1 384.5l105.5 0M157.1 282.3l105.5 0"/>
<path fill="#000" d="M158 290.3l.4 -.1 .3 -.2 .2 -.3 .1 -.4-.1 -.4-.2 -.3-.3 -.2-.4 -.1-.4 .1-.3 .2-.2 .3-.1 .4 .1 .4 .2 .3 .3 .2zM188.2 303.1l.4 -.1 .3 -.2 .2 -.3 .1 -.4-.1 -.4-.2 -.3-.3 -.2-.4 -.1-.4 .1-.3 .2-.2 .3-.1 .4 .1 .4 .2 .3 .3 .2zM159 312.4l.4 -.1 .3 -.2 .2 -.3 .1 -.4-.1 -.4-.2 -.3-.3 -.2-.4 -.1-.4 .1-.3 .2-.2 .3-.1 .4 .1 .4 .2 .3 .3 .2zM192.8 313.7l.4 -.1 .3 -.2 .2 -.3 .1 -.4-.1 -.4-.2 -.3-.3 -.2-.4 -.1-.4 .1-.3 .2-.2 .3-.1 .4 .1 .4 .2 .3 .3 .2zM194.8 316.7l.4 -.1 .3 -.2 .2 -.3 .1 -.4-.1 -.4-.2 -.3-.3 -.2-.4 -.1-.4 .1-.3 .2-.2 .3-.1 .4 .1 .4 .2 .3 .3 .2zM158 319.3l.4 -.1 .3 -.2 .2 -.3 .1 -.4-.1 -.4-.2 -.3-.3 -.2-.4 -.1-.4 .1-.3 .2-.2 .3-.1 .4 .1 .4 .2 .3 .3 .2zM195.3 329.8l.4 -.1 .3 -.2 .2 -.3 .1 -.4-.1 -.4-.2 -.3-.3 -.2-.4 -.1-.4 .1-.3 .2-.2 .3-.1 .4 .1 .4 .2 .3 .3 .2zM209.9 326.8l.4 -.1 .3 -.2 .2 -.3 .1 -.4-.1 -.4-.2 -.3-.3 -.2-.4 -.1-.4 .1-.3 .2-.2 .3-.1 .4 .1 .4 .2 .3 .3 .2zM158 332.8l.4 -.1 .3 -.2 .2 -.3 .1 -.4-.1 -.4-.2 -.3-.3 -.2-.4 -.1-.4 .1-.3 .2-.2 .3-.1 .4 .1 .4 .2 .3 .3 .2zM241.2 295.1l.4 -.1 .3 -.2 .2 -.3 .1 -.4-.1 -.4-.2 -.3-.3 -.2-.4 -.1-.4 .1-.3 .2-.2 .3-.1 .4 .1 .4 .2 .3 .3 .2zM241.7 303.6l.4 -.1 .3 -.2 .2 -.3 .1 -.4-.1 -.4-.2 -.3-.3 -.2-.4 -.1-.4 .1-.3 .2-.2 .3-.1 .4 .1 .4 .2 .3 .3 .2zM236.2 311.2l.4 -.1 .3 -.2 .2 -.3 .1 -.4-.1 -.4-.2 -.3-.3 -.2-.4 -.1-.4 .1-.3 .2-.2 .3-.1 .4 .1 .4 .2 .3 .3 .2zM240.7 312.2l.4 -.1 .3 -.2 .2 -.3 .1 -.4-.1 -.4-.2 -.3-.3 -.2-.4 -.1-.4 .1-.3 .2-.2 .3-.1 .4 .1 .4 .2 .3 .3 .2zM251.8 315.7l.4 -.1 .3 -.2 .2 -.3 .1 -.4-.1 -.4-.2 -.3-.3 -.2-.4 -.1-.4 .1-.3 .2-.2 .3-.1 .4 .1 .4 .2 .3 .3 .2zM224.1 315.7l.4 -.1 .3 -.2 .2 -.3 .1 -.4-.1 -.4-.2 -.3-.3 -.2-.4 -.1-.4 .1-.3 .2-.2 .3-.1 .4 .1 .4 .2 .3 .3 .2zM235.2 317.7l.4 -.1 .3 -.2 .2 -.3 .1 -.4-.1 -.4-.2 -.3-.3 -.2-.4 -.1-.4 .1-.3 .2-.2 .3-.1 .4 .1 .4 .2 .3 .3 .2zM258.3 326.8l.4 -.1 .3 -.2 .2 -.3 .1 -.4-.1 -.4-.2 -.3-.3 -.2-.4 -.1-.4 .1-.3 .2-.2 .3-.1 .4 .1 .4 .2 .3 .3 .2zM221.1 320.8l.4 -.1 .3 -.2 .2 -.3 .1 -.4-.1 -.4-.2 -.3-.3 -.2-.4 -.1-.4 .1-.3 .2-.2 .3-.1 .4 .1 .4 .2 .3 .3 .2zM219.1 321.8l.4 -.1 .3 -.2 .2 -.3 .1 -.4-.1 -.4-.2 -.3-.3 -.2-.4 -.1-.4 .1-.3 .2-.2 .3-.1 .4 .1 .4 .2 .3 .3 .2zM222.6 322.8l.4 -.1 .3 -.2 .2 -.3 .1 -.4-.1 -.4-.2 -.3-.3 -.2-.4 -.1-.4 .1-.3 .2-.2 .3-.1 .4 .1 .4 .2 .3 .3 .2zM217.1 323.3l.4 -.1 .3 -.2 .2 -.3 .1 -.4-.1 -.4-.2 -.3-.3 -.2-.4 -.1-.4 .1-.3 .2-.2 .3-.1 .4 .1 .4 .2 .3 .3 .2zM226.1 322.8l.4 -.1 .3 -.2 .2 -.3 .1 -.4-.1 -.4-.2 -.3-.3 -.2-.4 -.1-.4 .1-.3 .2-.2 .3-.1 .4 .1 .4 .2 .3 .3 .2zM220.1 324.8l.4 -.1 .3 -.2 .2 -.3 .1 -.4-.1 -.4-.2 -.3-.3 -.2-.4 -.1-.4 .1-.3 .2-.2 .3-.1 .4 .1 .4 .2 .3 .3 .2zM215 326.3l.4 -.1 .3 -.2 .2 -.3 .1 -.4-.1 -.4-.2 -.3-.3 -.2-.4 -.1-.4 .1-.3 .2-.2 .3-.1 .4 .1 .4 .2 .3 .3 .2zM222.1 326.3l.4 -.1 .3 -.2 .2 -.3 .1 -.4-.1 -.4-.2 -.3-.3 -.2-.4 -.1-.4 .1-.3 .2-.2 .3-.1 .4 .1 .4 .2 .3 .3 .2zM218.1 327.3l.4 -.1 .3 -.2 .2 -.3 .1 -.4-.1 -.4-.2 -.3-.3 -.2-.4 -.1-.4 .1-.3 .2-.2 .3-.1 .4 .1 .4 .2 .3 .3 .2zM221.1 328.8l.4 -.1 .3 -.2 .2 -.3 .1 -.4-.1 -.4-.2 -.3-.3 -.2-.4 -.1-.4 .1-.3 .2-.2 .3-.1 .4 .1 .4 .2 .3 .3 .2zM215 329.8l.4 -.1 .3 -.2 .2 -.3 .1 -.4-.1 -.4-.2 -.3-.3 -.2-.4 -.1-.4 .1-.3 .2-.2 .3-.1 .4 .1 .4 .2 .3 .3 .2zM220.1 331.3l.4 -.1 .3 -.2 .2 -.3 .1 -.4-.1 -.4-.2 -.3-.3 -.2-.4 -.1-.4 .1-.3 .2-.2 .3-.1 .4 .1 .4 .2 .3 .3 .2zM223.1 330.3l.4 -.1 .3 -.2 .2 -.3 .1 -.4-.1 -.4-.2 -.3-.3 -.2-.4 -.1-.4 .1-.3 .2-.2 .3-.1 .4 .1 .4 .2 .3 .3 .2zM210.5 326.8l.4 -.1 .3 -.2 .2 -.3 .1 -.4-.1 -.4-.2 -.3-.3 -.2-.4 -.1-.4 .1-.3 .2-.2 .3-.1 .4 .1 .4 .2 .3 .3 .2zM233.2 335.9l.4 -.1 .3 -.2 .2 -.3 .1 -.4-.1 -.4-.2 -.3-.3 -.2-.4 -.1-.4 .1-.3 .2-.2 .3-.1 .4 .1 .4 .2 .3 .3 .2zM218.5 321l.4 -.1 .3 -.2 .2 -.3 .1 -.4-.1 -.4-.2 -.3-.3 -.2-.4 -.1-.4 .1-.3 .2-.2 .3-.1 .4 .1 .4 .2 .3 .3 .2zM224 324.5l.4 -.1 .3 -.2 .2 -.3 .1 -.4-.1 -.4-.2 -.3-.3 -.2-.4 -.1-.4 .1-.3 .2-.2 .3-.1 .4 .1 .4 .2 .3 .3 .2zM176.6 337.2l.4 -.1 .3 -.2 .2 -.3 .1 -.4-.1 -.4-.2 -.3-.3 -.2-.4 -.1-.4 .1-.3 .2-.2 .3-.1 .4 .1 .4 .2 .3 .3 .2zM194.8 343.6l.4 -.1 .3 -.2 .2 -.3 .1 -.4-.1 -.4-.2 -.3-.3 -.2-.4 -.1-.4 .1-.3 .2-.2 .3-.1 .4 .1 .4 .2 .3 .3 .2zM196.8 343.1l.4 -.1 .3 -.2 .2 -.3 .1 -.4-.1 -.4-.2 -.3-.3 -.2-.4 -.1-.4 .1-.3 .2-.2 .3-.1 .4 .1 .4 .2 .3 .3 .2zM193.3 344.6l.4 -.1 .3 -.2 .2 -.3 .1 -.4-.1 -.4-.2 -.3-.3 -.2-.4 -.1-.4 .1-.3 .2-.2 .3-.1 .4 .1 .4 .2 .3 .3 .2zM197.8 345.6l.4 -.1 .3 -.2 .2 -.3 .1 -.4-.1 -.4-.2 -.3-.3 -.2-.4 -.1-.4 .1-.3 .2-.2 .3-.1 .4 .1 .4 .2 .3 .3 .2zM202.8 348.6l.4 -.1 .3 -.2 .2 -.3 .1 -.4-.1 -.4-.2 -.3-.3 -.2-.4 -.1-.4 .1-.3 .2-.2 .3-.1 .4 .1 .4 .2 .3 .3 .2zM189.2 349.1l.4 -.1 .3 -.2 .2 -.3 .1 -.4-.1 -.4-.2 -.3-.3 -.2-.4 -.1-.4 .1-.3 .2-.2 .3-.1 .4 .1 .4 .2 .3 .3 .2zM187.2 350.1l.4 -.1 .3 -.2 .2 -.3 .1 -.4-.1 -.4-.2 -.3-.3 -.2-.4 -.1-.4 .1-.3 .2-.2 .3-.1 .4 .1 .4 .2 .3 .3 .2zM186.2 351.1l.4 -.1 .3 -.2 .2 -.3 .1 -.4-.1 -.4-.2 -.3-.3 -.2-.4 -.1-.4 .1-.3 .2-.2 .3-.1 .4 .1 .4 .2 .3 .3 .2zM191.7 351.6l.4 -.1 .3 -.2 .2 -.3 .1 -.4-.1 -.4-.2 -.3-.3 -.2-.4 -.1-.4 .1-.3 .2-.2 .3-.1 .4 .1 .4 .2 .3 .3 .2zM194.8 350.6l.4 -.1 .3 -.2 .2 -.3 .1 -.4-.1 -.4-.2 -.3-.3 -.2-.4 -.1-.4 .1-.3 .2-.2 .3-.1 .4 .1 .4 .2 .3 .3 .2zM197.3 352.1l.4 -.1 .3 -.2 .2 -.3 .1 -.4-.1 -.4-.2 -.3-.3 -.2-.4 -.1-.4 .1-.3 .2-.2 .3-.1 .4 .1 .4 .2 .3 .3 .2zM198.3 353.1l.4 -.1 .3 -.2 .2 -.3 .1 -.4-.1 -.4-.2 -.3-.3 -.2-.4 -.1-.4 .1-.3 .2-.2 .3-.1 .4 .1 .4 .2 .3 .3 .2zM190.2 353.6l.4 -.1 .3 -.2 .2 -.3 .1 -.4-.1 -.4-.2 -.3-.3 -.2-.4 -.1-.4 .1-.3 .2-.2 .3-.1 .4 .1 .4 .2 .3 .3 .2zM192.8 354.1l.4 -.1 .3 -.2 .2 -.3 .1 -.4-.1 -.4-.2 -.3-.3 -.2-.4 -.1-.4 .1-.3 .2-.2 .3-.1 .4 .1 .4 .2 .3 .3 .2zM194.3 356.2l.4 -.1 .3 -.2 .2 -.3 .1 -.4-.1 -.4-.2 -.3-.3 -.2-.4 -.1-.4 .1-.3 .2-.2 .3-.1 .4 .1 .4 .2 .3 .3 .2zM191.2 354.7l.4 -.1 .3 -.2 .2 -.3 .1 -.4-.1 -.4-.2 -.3-.3 -.2-.4 -.1-.4 .1-.3 .2-.2 .3-.1 .4 .1 .4 .2 .3 .3 .2zM202.3 357.2l.4 -.1 .3 -.2 .2 -.3 .1 -.4-.1 -.4-.2 -.3-.3 -.2-.4 -.1-.4 .1-.3 .2-.2 .3-.1 .4 .1 .4 .2 .3 .3 .2zM181.2 361.2l.4 -.1 .3 -.2 .2 -.3 .1 -.4-.1 -.4-.2 -.3-.3 -.2-.4 -.1-.4 .1-.3 .2-.2 .3-.1 .4 .1 .4 .2 .3 .3 .2zM170.6 385.4l.4 -.1 .3 -.2 .2 -.3 .1 -.4-.1 -.4-.2 -.3-.3 -.2-.4 -.1-.4 .1-.3 .2-.2 .3-.1 .4 .1 .4 .2 .3 .3 .2zM215 341.1l.4 -.1 .3 -.2 .2 -.3 .1 -.4-.1 -.4-.2 -.3-.3 -.2-.4 -.1-.4 .1-.3 .2-.2 .3-.1 .4 .1 .4 .2 .3 .3 .2zM233.2 336.5l.4 -.1 .3 -.2 .2 -.3 .1 -.4-.1 -.4-.2 -.3-.3 -.2-.4 -.1-.4 .1-.3 .2-.2 .3-.1 .4 .1 .4 .2 .3 .3 .2zM225.6 365.7l.4 -.1 .3 -.2 .2 -.3 .1 -.4-.1 -.4-.2 -.3-.3 -.2-.4 -.1-.4 .1-.3 .2-.2 .3-.1 .4 .1 .4 .2 .3 .3 .2zM258.3 373.3l.4 -.1 .3 -.2 .2 -.3 .1 -.4-.1 -.4-.2 -.3-.3 -.2-.4 -.1-.4 .1-.3 .2-.2 .3-.1 .4 .1 .4 .2 .3 .3 .2zM215.5 385.4l.4 -.1 .3 -.2 .2 -.3 .1 -.4-.1 -.4-.2 -.3-.3 -.2-.4 -.1-.4 .1-.3 .2-.2 .3-.1 .4 .1 .4 .2 .3 .3 .2z"/>
<text x="209.8" y="280.5" font-size="8.45" text-anchor="middle">Search history</text>
<path fill="#fff" d="M157.1 520.6l105.5 0 0 -102.2-105.5 0z"/>
<text x="161.1" y="526.8" font-size="4.9" text-anchor="middle">−60</text>
<text x="177.2" y="526.8" font-size="4.9" text-anchor="middle">−40</text>
<text x="193.4" y="526.8" font-size="4.9" text-anchor="middle">−20</text>
<text x="209.5" y="526.8" font-size="4.9" text-anchor="middle">0</text>
<text x="225.6" y="526.8" font-size="4.9" text-anchor="middle">20</text>
<text x="241.7" y="526.8" font-size="4.9" text-anchor="middle">40</text>
<text x="257.8" y="526.8" font-size="4.9" text-anchor="middle">60</text>
<text x="209.8" y="535.5" font-size="8.45" text-anchor="middle">x1</text>
<text x="155.8" y="518.5" font-size="4.9" text-anchor="end">−60</text>
<text x="155.8" y="502.9" font-size="4.9" text-anchor="end">−40</text>
<text x="155.8" y="487.2" font-size="4.9" text-anchor="end">−20</text>
<text x="155.8" y="471.6" font-size="4.9" text-anchor="end">0</text>
<text x="155.8" y="456" font-size="4.9" text-anchor="end">20</text>
<text x="155.8" y="440.4" font-size="4.9" text-anchor="end">40</text>
<text x="155.8" y="424.8" font-size="4.9" text-anchor="end">60</text>
<text x="150.9" y="469.5" font-size="8.45" text-anchor="middle" transform="rotate(-90 150.9 469.5)">x2</text>
<path fill="none" stroke="#221150" stroke-width="1.2" d="M182.6 496.5l-.4 -.2-.2 -.4 .2 -2.5 1.2 -.2 1.8 .2 .2 1.1-.2 1.8zM195.5 496.5l-.4 -.2-.2 -.4 .2 -2.5 1 -.2 2 .2 .2 1-.2 1.9zM208.4 496.5l-.4 -.2-.2 -.4 .2 -2.5 .9 -.2 2.1 .2 .2 .9-.2 2zM221.3 496.5l-.4 -.2-.2 -.4 .2 -2.5 .8 -.2 2.2 .2 .2 .8-.2 2.1-2.6 .2M234.3 496.5l-.5 -.1-.2 -.4 .1 -2.6 .8 -.2 2.3 .2 .2 .7-.1 2.1-.6 .3zM182.7 484l-.5 -.1-.2 -.4 .1 -2.6 .8 -.2 2.3 .2 .2 .7-.1 2.1-.6 .3-2 0M195.7 484l-.6 -.1-.2 -.4 .1 -2.6 .8 -.2 2.3 .2 .2 .7-.1 2.1-.6 .3-1.9 0M208.7 484l-.6 -.1-.3 -.4 .1 -2.6 .7 -.2 2.3 .1 .3 .7-.2 2.2-.5 .3zM221.7 484l-.7 -.1-.3 -.3 .1 -2.7 .7 -.2 2.3 .1 .3 .7-.2 2.2-.5 .3zM234 483.9l-.4 -.6 .1 -2.4 .9 -.2 2.2 .2 .2 .7-.2 2.2-.6 .2zM182.4 471.4l-.4 -.6 .2 -2.4 .8 -.2 2.2 .2 .2 .7-.2 2.2-.5 .2zM195.3 471.4l-.4 -.6 .2 -2.4 .7 -.2 2.3 .2 .2 .7-.2 2.2-.5 .2zM208.2 471.4l-.4 -.6 .2 -2.4 .7 -.2 2.2 .2 .3 .7-.2 2.2-.5 .2-2.3 -.1M221.1 471.4l-.4 -.6 .2 -2.4 .7 -.2 2.2 .2 .3 .7-.2 2.2-.6 .2zM234.1 471.4l-.5 -.5 .2 -2.5 .7 -.2 2.2 .2 .2 .7-.1 2.2-.6 .2zM182.5 458.9l-.5 -.5 .2 -2.4 .7 -.3 2.2 .2 .3 .7-.2 2.2-.5 .2zM195.4 458.9l-.5 -.5 .2 -2.4 .7 -.3 2.2 .2 .3 .7-.2 2.2-.5 .2zM208.3 458.9l-.5 -.5 .2 -2.4 .8 -.2 2.1 .1 .2 .8-.1 2.1-.5 .2zM221.2 458.9l-.5 -.5 .2 -2.4 .8 -.2 2.1 .1 .2 .8-.1 2.1-.6 .2zM234.1 458.9l-.3 -.1-.2 -.4 .2 -2.4 .8 -.2 2.1 .1 .2 .8-.1 2.1-.6 .2zM182.6 446.4l-.4 -.1-.1 -.4 .1 -2.4 .8 -.2 2.1 .1 .2 .8-.1 2.1zM195.5 446.4l-.4 -.1-.1 -.4 .1 -2.4 .8 -.2 2.1 .1 .2 .8-.1 2.1zM208.4 446.4l-.4 -.1-.1 -.4 .1 -2.4 .8 -.2 2.1 .1 .2 .8-.1 2.1zM221.3 446.4l-.4 -.1-.1 -.3 .1 -2.5 .8 -.2 2.1 .1 .2 .8-.1 2.1zM234.2 446.4l-.4 -.1-.1 -.4 .1 -2.4 .9 -.2 2 .1 .2 .9-.2 2-2.5 .1"/>
<path fill="none" stroke="#5f187f" stroke-width="1.2" d="M182.2 496.7l-.4 -.2-.1 -.5 0 -2.3 .2 -.6 1.1 -.2 2.5 .2 .2 1-.2 2.5-.7 .2zM195.1 496.7l-.4 -.2-.1 -.5 0 -2.3 .2 -.6 1.1 -.2 2.5 .2 .2 1.1-.2 2.4-.7 .2zM208 496.7l-.4 -.2-.1 -.5 0 -2.3 .2 -.6 1.1 -.2 2.5 .2 .2 1.1-.2 2.4-.7 .2zM220.9 496.7l-.4 -.2-.1 -.5 0 -2.3 .2 -.6 1.1 -.2 2.5 .2 .2 1.1-.2 2.4-.7 .2zM233.8 496.7l-.4 -.2-.1 -.5 0 -2.3 .2 -.6 1.2 -.2 2.4 .2 .2 1.2-.2 2.3-.7 .2zM182.2 484.2l-.3 -.2-.2 -.5 0 -2.2 .2 -.7 1.2 -.2 2.4 .2 .2 1.2-.2 2.3-.7 .2zM195.1 484.2l-.3 -.2-.2 -.5 0 -2.2 .2 -.7 1.3 -.2 2.3 .2 .2 1.3-.2 2.2-.7 .2zM208 484.2l-.4 -.2-.1 -.5 0 -2.2 .2 -.7 1.4 -.2 2.2 .2 .2 1.4-.2 2.1-.7 .2-2.6 -.1M220.9 484.2l-.4 -.2-.1 -.5 0 -2.2 .2 -.7 1.4 -.2 2.2 .2 .2 1.4-.2 2.1-.7 .2-2.6 -.1M233.8 484.2l-.4 -.2-.1 -.5 0 -2.2 .2 -.7 1.3 -.2 2.2 .2 .3 1.3-.2 2.2-.7 .2zM182.3 471.7l-.4 -.1-.2 -.5 0 -2.3 .2 -.7 1.2 -.2 2.4 .2 .2 1.2-.2 2.3-.7 .2zM195.2 471.7l-.4 -.1-.2 -.5 0 -2.3 .2 -.7 1.1 -.2 2.5 .2 .2 1.1-.2 2.4-.7 .2zM208.1 471.7l-.4 -.1-.2 -.5 0 -2.3 .2 -.7 1.1 -.2 2.4 .2 .3 1.1-.2 2.4-.7 .2-2.5 -.1M221 471.7l-.4 -.1-.2 -.5 0 -2.3 .2 -.7 1.1 -.2 2.4 .2 .3 1.1-.2 2.4-.7 .2-2.5 -.1M233.9 471.7l-.4 -.1-.2 -.5 0 -2.3 .2 -.6 1.1 -.3 2.4 .2 .3 1-.2 2.5-.7 .2-2.5 -.1M182.3 459.2l-.4 -.1-.2 -.5 0 -2.3 .2 -.6 1.1 -.3 2.4 .2 .3 1.1-.2 2.4-.7 .2-2.5 -.1M195.2 459.2l-.4 -.1-.2 -.5 0 -2.3 .2 -.6 1.1 -.3 2.4 .2 .3 1.1-.2 2.4-.7 .2-2.5 -.1M208.1 459.2l-.4 -.1-.2 -.5 0 -2.3 .2 -.6 1.1 -.3 2.4 .2 .3 1.1-.2 2.4-.7 .2-2.5 -.1M221 459.2l-.4 -.2-.2 -.4 0 -2.3 .2 -.6 1.1 -.3 2.4 .2 .3 1.1-.2 2.3-.7 .3-2.5 -.1M233.9 459.2l-.4 -.2-.2 -.4 0 -2.3 .2 -.6 1 -.2 2.5 .1 .2 1-.1 2.4-.7 .3zM182.4 446.8l-.4 -.2-.2 -.5-.1 -2.3 .2 -.6 1 -.2 2.5 .1 .3 1-.2 2.5-.7 .2zM195.3 446.7l-.5 -.2-.2 -.4 0 -2.3 .2 -.6 1 -.2 2.5 .1 .3 1-.2 2.4-.7 .3zM208.2 446.7l-.5 -.2-.2 -.4 .2 -2.9 1 -.2 2.5 .1 .3 1-.2 2.4-.7 .3zM221.1 446.7l-.4 -.1-.3 -.5 .2 -2.9 1 -.2 2.5 .1 .2 1-.1 2.4-.7 .3zM234 446.7l-.4 -.1-.3 -.5 .2 -2.9 1 -.2 2.5 .1 .2 1-.1 2.4-.7 .3-2.4 -.1"/>
<path fill="none" stroke="#982d80" stroke-width="1.2" d="M182.1 497l-.5 -.3-.1 -.5 0 -2.6 .2 -.7 1.1 -.2 2.3 0 .6 .2 .2 1.1 0 2.2-.2 .5-.7 .3zM195 497l-.5 -.3-.1 -.5 0 -2.6 .2 -.7 1.1 -.2 2.3 0 .6 .2 .2 1.1 0 2.2-.2 .5-.7 .3-2.9 0M207.9 496.9l-.5 -.2-.1 -.5 0 -2.6 .2 -.7 1.1 -.2 2.3 0 .6 .2 .2 1.1 0 2.2-.2 .5-.7 .3-2.9 -.1M220.8 496.9l-.5 -.2-.1 -.5 0 -2.6 .2 -.7 1.1 -.2 2.2 0 .7 .2 .2 1.1 0 2.1-.2 .6-.7 .3zM233.7 496.9l-.5 -.2-.1 -.5 0 -2.6 .2 -.7 1.1 -.2 2.2 0 .6 .2 .3 1.1 0 2.1-.2 .6-.7 .3zM182.1 484.5l-.4 -.3-.2 -.5 0 -2.6 .2 -.7 1.1 -.2 2.9 .2 .2 1.1 0 2.1-.2 .6-.7 .3zM195 484.5l-.4 -.3-.2 -.5 0 -2.6 .2 -.7 1 -.2 2.3 0 .7 .2 .2 1 0 2.2-.2 .6-.7 .3zM207.9 484.5l-.5 -.3-.1 -.5 0 -2.6 .2 -.7 1 -.2 2.3 0 .7 .2 .2 1 0 2.2-.2 .6-.7 .3zM220.8 484.5l-.5 -.3-.1 -.5 0 -2.6 .2 -.7 1 -.2 2.9 .2 .3 1 0 2.2-.2 .6-.7 .3zM233.7 484.5l-.5 -.3-.1 -.5 0 -2.6 .2 -.7 1 -.2 2.9 .2 .3 1 0 2.2-.2 .6-.7 .3-2.9 0M182.2 472l-.5 -.3-.2 -.4 0 -2.6 .2 -.7 1 -.3 3 .2 .2 1 0 2.2-.2 .6-.7 .3-2.8 0M195.1 472l-.5 -.3-.2 -.4 0 -2.6 .2 -.7 1 -.3 2.9 .2 .3 1 0 2.2-.2 .6-.7 .3-2.8 0M208 472l-.5 -.3-.2 -.4 0 -2.6 .2 -.7 1 -.3 2.9 .2 .3 1 0 2.2-.2 .6-.7 .3zM220.9 472l-.5 -.3-.2 -.4 0 -2.6 .2 -.7 1 -.3 2.9 .2 .3 1 0 2.2-.2 .6-.7 .3-2.8 0M233.7 472l-.4 -.3-.2 -.4 0 -2.6 .2 -.7 1 -.3 2.9 .2 .3 1 0 2.2-.2 .6-.7 .3zM182.2 459.5l-.5 -.3-.2 -.4 0 -2.6 .2 -.7 1 -.3 2.9 .2 .3 1 0 2.2-.2 .6-.7 .3zM195.1 459.5l-.5 -.3-.2 -.4 0 -2.6 .2 -.7 1 -.3 2.9 .2 .3 1-.2 2.8-.7 .3zM208 459.5l-.5 -.3-.2 -.4 0 -2.6 .2 -.7 .9 -.3 3 .2 .3 1-.2 2.8-.7 .3zM220.9 459.5l-.5 -.3-.2 -.4 0 -2.6 .2 -.7 .9 -.3 3 .2 .3 .9-.2 2.9-.7 .3zM233.7 459.5l-.4 -.3-.2 -.4 0 -2.6 .2 -.7 .9 -.3 3 .2 .3 .9-.2 2.9-.7 .3zM182.2 447l-.5 -.3-.2 -.4 0 -2.6 .2 -.7 .9 -.3 3 .2 .3 1-.2 2.8-.7 .3zM195.1 447l-.5 -.3-.2 -.4 0 -2.6 .2 -.7 .9 -.3 3 .2 .3 1-.2 2.8-.7 .3-2.8 0M208 447l-.5 -.3-.2 -.4 0 -2.6 .2 -.7 .9 -.3 3 .2 .3 1-.2 2.8-.7 .3-2.8 0M220.9 447l-.5 -.3-.2 -.4 0 -2.6 .2 -.7 .9 -.3 3 .2 .3 1-.2 2.8-.7 .3zM233.7 447l-.4 -.3-.2 -.4 0 -2.6 .2 -.7 .9 -.3 3 .2 .3 1-.2 2.8-.7 .3-2.9 0"/>
<path fill="none" stroke="#d3436e" stroke-width="1.2" d="M183.1 497.3l-1.3 -.1-.5 -.5-.1 -3 .2 -.9 .9 -.4 3.5 .2 .4 .9-.2 3.4-.7 .3-2.2 .1M194.7 497.2l-.4 -.3-.2 -.6 0 -2.9 .2 -.7 1.2 -.3 2.5 0 .8 .2 .3 1.2 0 2.4-.3 .8-.8 .2-3.3 0M207.6 497.2l-.4 -.3-.2 -.6 0 -2.9 .2 -.7 1.2 -.3 2.5 0 .8 .2 .3 1.2 0 2.4-.3 .8-.8 .2zM220.5 497.2l-.4 -.3-.2 -.6 0 -2.9 .2 -.7 1.2 -.3 2.5 0 .8 .2 .3 1.2 0 2.4-.3 .8-.8 .2zM233.4 497.2l-.4 -.3-.2 -.6 0 -2.9 .2 -.7 1.2 -.3 2.5 0 .8 .2 .3 1.2 0 2.4-.3 .8-.9 .2zM181.8 484.7l-.4 -.3-.2 -.6 0 -2.9 .2 -.7 1.2 -.3 2.5 0 .8 .3 .3 1.1 0 2.4-.2 .8-.9 .3zM194.7 484.7l-.4 -.3-.2 -.6 0 -2.9 .2 -.7 1.2 -.3 2.5 0 .8 .3 .3 1.1 0 2.4-.3 .8-.8 .3zM207.6 484.7l-.4 -.3-.2 -.6 0 -2.8 .2 -.8 1.2 -.3 2.5 0 .8 .3 .3 1.1 0 2.4-.3 .8-.8 .3zM220.5 484.7l-.4 -.3-.2 -.6 0 -2.8 .2 -.8 1.2 -.3 2.5 0 .8 .3 .3 1.1 0 2.4-.3 .8-.8 .2-3.3 0M233.4 484.7l-.4 -.3-.2 -.6 0 -2.8 .2 -.8 1.1 -.3 2.6 0 .8 .3 .3 1.1 0 2.4-.3 .8-.9 .2-3.2 0M181.8 472.2l-.4 -.3-.2 -.6 0 -2.8 .2 -.8 1.2 -.3 2.5 .1 .8 .2 .3 1.1 0 2.5-.2 .7-.9 .3zM194.7 472.2l-.4 -.3-.2 -.6 0 -2.8 .2 -.8 1.2 -.3 2.5 .1 .8 .2 .3 1.1 0 2.5-.3 .7-.8 .3zM207.7 472.2l-.5 -.2-.2 -.6 0 -2.9 .2 -.8 1.2 -.3 2.5 .1 .8 .2 .3 1.1 0 2.5-.3 .7-.8 .3zM220.6 472.2l-.5 -.2-.2 -.6 0 -2.9 .2 -.8 1.2 -.3 2.5 .1 .8 .2 .3 1.1 0 2.5-.3 .7-.8 .3-3.2 -.1M233.5 472.2l-.5 -.2-.2 -.6 0 -2.9 .2 -.8 1.1 -.3 2.6 .1 .8 .2 .3 1.1 0 2.5-.3 .7-.8 .3zM181.9 459.7l-.5 -.2-.2 -.7 0 -2.8 .2 -.7 1.2 -.4 2.5 .1 .8 .2 .3 1.1 0 2.5-.2 .7-.9 .3zM194.8 459.7l-.5 -.2-.2 -.7 0 -2.8 .2 -.7 1.2 -.4 2.5 .1 .8 .2 .3 1.1 0 2.5-.2 .7-.9 .3zM207.7 459.7l-.5 -.2-.2 -.7 0 -2.8 .2 -.7 1.2 -.4 2.5 .1 .8 .2 .3 1.1 0 2.5-.3 .7-.8 .3zM220.6 459.7l-.5 -.2-.2 -.7 0 -2.8 .2 -.7 1.2 -.3 2.5 0 .8 .2 .3 1.1 0 2.5-.3 .7-.8 .3-3.2 -.1M233.5 459.7l-.5 -.2-.2 -.7 0 -2.8 .2 -.7 1.1 -.3 2.6 0 .8 .2 .3 1.1 0 2.5-.3 .7-.8 .3zM181.9 447.2l-.5 -.2-.2 -.6 0 -2.9 .2 -.7 1.2 -.3 2.5 0 .8 .2 .3 1.1 0 2.5-.2 .7-.9 .3zM194.8 447.2l-.5 -.2-.2 -.6 0 -2.9 .2 -.7 1.2 -.3 2.5 0 .8 .2 .3 1.1 0 2.5-.3 .7-.8 .3zM207.7 447.2l-.5 -.2-.2 -.6 0 -2.9 .2 -.7 1.2 -.3 2.5 0 .8 .2 .3 1.1 0 2.5-.3 .7-.8 .3-3.2 -.1M220.6 447.2l-.5 -.2-.2 -.6 0 -2.9 .2 -.7 1.2 -.3 2.5 0 .8 .2 .3 1.1 0 2.5-.3 .7-.8 .3zM233.5 447.2l-.5 -.2-.2 -.6 0 -2.9 .2 -.7 1.1 -.3 2.6 0 .8 .2 .3 1.1-.1 2.5-.2 .7-.8 .3-3.2 -.1"/>
<path fill="none" stroke="#f8765c" stroke-width=".8" d="M181.8 497.6l-.6 -.3-.3 -.6-.1 -3.3 .3 -1 1.3 -.3 3 0 .8 .2 .4 1.3-.1 2.9-.2 .8-.9 .3zM194.7 497.6l-.6 -.3-.3 -.6-.1 -3.3 .3 -1 1.3 -.3 3 0 .8 .2 .4 1.3-.1 2.9-.2 .8-.9 .3-3.6 0M207.6 497.6l-.6 -.3-.3 -.6-.1 -3.3 .3 -1 1.3 -.3 3 0 .8 .2 .3 1.3 0 2.9-.2 .8-.9 .3zM220.5 497.6l-.6 -.3-.3 -.6-.1 -3.3 .3 -1 1.3 -.3 3 0 .8 .2 .3 1.3 0 2.9-.2 .8-.9 .3zM233.4 497.6l-.6 -.3-.3 -.6-.1 -3.3 .3 -1 1.3 -.3 3 0 .8 .2 .3 1.3 0 2.9-.2 .8-.9 .3zM181.8 485.1l-.6 -.3-.3 -.6-.1 -3.3 .3 -1 1.3 -.3 3 0 .8 .2 .4 1.3-.1 2.9-.2 .8-.9 .3zM194.7 485.1l-.6 -.3-.3 -.6-.1 -3.3 .3 -1 1.3 -.3 3 0 .8 .2 .3 1.3 0 2.9-.2 .8-.9 .3zM207.6 485.1l-.6 -.3-.3 -.6-.1 -3.3 .3 -1 1.3 -.3 3 0 .8 .2 .3 1.3 0 2.9-.2 .8-.9 .3zM220.5 485.1l-.6 -.3-.3 -.6-.1 -3.3 .3 -1 1.3 -.3 3 0 .8 .2 .3 1.3 0 2.9-.2 .8-.9 .3zM233.4 485.1l-.6 -.3-.3 -.6-.1 -3.3 .3 -1 1.3 -.3 3 0 .8 .2 .3 1.3 0 2.9-.2 .8-.9 .3-3.6 0M181.8 472.6l-.6 -.3-.3 -.6-.1 -3.3 .3 -1 1.3 -.3 3 0 .8 .2 .4 1.3-.1 2.9-.2 .8-.9 .3zM194.7 472.6l-.6 -.3-.3 -.6-.1 -3.3 .3 -1 1.3 -.3 3 0 .8 .2 .3 1.3 0 2.9-.2 .8-.9 .3-3.6 0M207.6 472.6l-.6 -.3-.3 -.6-.1 -3.3 .3 -1 1.3 -.3 3 0 .8 .2 .3 1.3 0 2.9-.2 .8-.9 .3zM220.5 472.6l-.6 -.3-.3 -.6-.1 -3.3 .3 -1 1.3 -.3 3 0 .8 .2 .3 1.3 0 2.9-.2 .8-.9 .3zM233.4 472.6l-.6 -.3-.3 -.6-.1 -3.3 .3 -1 1.3 -.3 3 0 .8 .2 .3 1.3 0 2.9-.2 .8-.9 .3zM181.9 460.1l-.7 -.2-.3 -.7-.1 -3.3 .3 -1 1.3 -.3 3 0 .8 .3 .4 1.2-.1 2.9-.2 .8-.9 .3zM194.8 460.1l-.7 -.2-.3 -.7-.1 -3.3 .3 -1 1.3 -.3 3 0 .8 .3 .3 1.2 0 2.9-.2 .8-.9 .3zM207.7 460.1l-.7 -.2-.3 -.7-.1 -3.3 .3 -1 1.3 -.3 3 0 .8 .3 .3 1.2 0 2.9-.2 .8-.9 .3zM220.6 460.1l-.7 -.2-.3 -.7-.1 -3.3 .3 -1 1.3 -.3 3 0 .8 .3 .3 1.2 0 2.9-.2 .8-.9 .3-3.5 0M233.5 460.1l-.7 -.2-.3 -.7-.1 -3.3 .3 -1 1.3 -.3 3 0 .8 .3 .3 1.2 0 2.9-.2 .8-.9 .3zM181.9 447.6l-.7 -.2-.3 -.7 0 -3.3 .2 -1 1.3 -.3 3 0 .8 .3 .3 1.2 0 2.9-.2 .8-.9 .3zM194.8 447.6l-.7 -.2-.3 -.7-.1 -3.3 .3 -1 1.3 -.3 3 0 .8 .3 .3 1.2 0 2.9-.2 .8-.9 .3zM207.7 447.6l-.7 -.2-.3 -.7-.1 -3.3 .3 -1 1.3 -.3 3 0 .8 .3 .3 1.2 0 2.9-.2 .8-.9 .3zM220.6 447.6l-.7 -.2-.3 -.7-.1 -3.3 .3 -1 1.3 -.3 3 0 .8 .3 .3 1.2 0 2.9-.2 .8-.9 .3-3.5 0M233.5 447.6l-.7 -.2-.3 -.7-.1 -3.3 .3 -1 1.3 -.3 3 0 .8 .3 .3 1.2 0 2.9-.2 .8-.9 .3z"/>
<path fill="none" stroke="#febb81" stroke-width=".5" d="M181.1 498.5l-.9 -.4-.3 -.8 0 -4.6 .3 -1.1 .7 -.4 1.1 -.1 4 0 1.1 .3 .3 .6 .2 1.2-.1 3.8-.3 1.1-1.2 .4zM194 498.5l-.9 -.4-.3 -.8-.1 -4.6 .4 -1.1 .6 -.4 1.2 -.1 3.9 0 1.2 .3 .3 .6 .2 1.2-.1 3.8-.3 1.1-1.3 .4zM206.9 498.5l-.9 -.4-.3 -.8-.1 -4.6 .4 -1.1 .6 -.4 1.2 -.1 3.9 0 1.2 .3 .3 .6 .1 1.2 0 3.8-.3 1.1-1.3 .4zM219.8 498.5l-.9 -.4-.3 -.8-.1 -4.6 .4 -1.1 .6 -.4 1.2 -.1 3.9 0 1.2 .3 .3 .6 .1 1.2 0 3.8-.3 1.1-1.3 .4zM232.7 498.5l-.9 -.4-.3 -.8-.1 -4.6 .4 -1.1 .6 -.4 1.2 -.1 3.9 0 1.2 .4 .3 .6 .1 1.1 0 3.8-.3 1.1-1.3 .4zM181 486l-.8 -.4-.3 -.8 0 -4.6 .3 -1.1 .7 -.4 1.1 -.1 4 0 1.1 .4 .3 .5 .2 1.2-.1 3.8-.3 1.1-1.2 .5-5 -.1M193.9 486l-.8 -.4-.3 -.8-.1 -4.6 .4 -1.1 .6 -.4 1.2 -.1 3.9 0 1.2 .4 .3 .5 .2 1.2-.1 3.8-.3 1.1-1.3 .5zM206.8 486l-.8 -.4-.3 -.8-.1 -4.6 .4 -1.1 .6 -.4 1.2 -.1 3.9 0 1.2 .4 .3 .5 .1 1.2 0 3.8-.3 1.1-1.3 .5zM219.7 486l-.8 -.4-.3 -.8-.1 -4.6 .4 -1.1 .6 -.4 1.2 -.1 3.9 0 1.2 .4 .3 .5 .1 1.2 0 3.8-.3 1.1-1.3 .5zM232.6 486l-.8 -.4-.3 -.8-.1 -4.6 .4 -1.1 .6 -.4 1.2 -.1 3.9 0 1.2 .4 .3 .6 .1 1.1 0 3.8-.3 1.1-1.3 .5zM181.1 473.5l-.9 -.3-.3 -.9 0 -4.6 .3 -1.1 .7 -.4 1.1 -.1 4 0 1.1 .4 .3 .5 .2 1.2-.1 3.8-.3 1.1-1.2 .5zM193.9 473.5l-.8 -.4-.3 -.8-.1 -4.6 .4 -1.1 .6 -.4 1.2 -.1 3.9 0 1.2 .4 .3 .5 .2 1.2-.1 3.8-.3 1.1-1.3 .5-4.9 -.1M206.8 473.5l-.8 -.4-.3 -.8-.1 -4.6 .4 -1.1 .6 -.4 1.2 -.1 3.9 0 1.2 .4 .3 .5 .1 1.2 0 3.8-.3 1.1-1.3 .5zM219.7 473.5l-.8 -.4-.3 -.8-.1 -4.6 .4 -1.1 .6 -.4 1.2 -.1 3.9 0 1.2 .4 .3 .5 .1 1.2 0 3.8-.3 1.1-1.3 .5-4.9 -.1M232.6 473.5l-.8 -.4-.3 -.8-.1 -4.6 .4 -1.1 .6 -.4 1.2 -.1 3.9 0 1.2 .4 .3 .6 .1 1.1 0 3.8-.3 1.1-1.3 .5-4.9 -.1M181.1 461l-.9 -.3-.3 -.9 0 -4.5 .3 -1.2 .7 -.4 1.1 -.1 4 0 1.1 .4 .3 .5 .2 1.2-.1 3.8-.3 1.1-1.2 .5zM193.9 461l-.8 -.4-.3 -.8-.1 -4.5 .4 -1.2 .6 -.4 1.2 -.1 3.9 0 1.2 .4 .3 .5 .2 1.2-.1 3.8-.3 1.1-1.3 .5zM206.8 461l-.8 -.4-.3 -.8-.1 -4.5 .4 -1.2 .6 -.4 1.2 -.1 3.9 0 1.2 .4 .3 .5 .1 1.2 0 3.8-.3 1.1-1.3 .5zM219.7 461l-.8 -.4-.3 -.8-.1 -4.5 .4 -1.2 .6 -.4 1.2 -.1 3.9 0 1.2 .4 .3 .5 .1 1.2 0 3.8-.3 1.1-1.3 .5zM232.6 461l-.8 -.4-.3 -.8-.1 -4.5 .4 -1.2 .6 -.4 1.2 -.1 3.9 0 1.2 .4 .3 .6 .1 1.1 0 3.8-.3 1.1-1.3 .5zM181.1 448.5l-.9 -.3-.3 -.9 0 -4.5 .3 -1.2 .7 -.4 1.1 -.1 4 .1 1.1 .3 .4 .6 .1 1.1-.1 3.9-.3 1-1.2 .5zM193.9 448.5l-.8 -.4-.3 -.8 0 -4.5 .3 -1.2 .7 -.4 1.1 -.1 3.9 .1 1.2 .3 .3 .6 .1 1.1 0 3.9-.3 1-1.3 .5zM206.8 448.5l-.8 -.4-.3 -.8-.1 -4.5 .4 -1.2 .7 -.4 1.1 -.1 3.9 .1 1.2 .3 .3 .6 .1 1.1 0 3.9-.3 1-1.3 .5zM219.7 448.5l-.8 -.4-.3 -.8-.1 -4.5 .4 -1.2 .7 -.4 1.1 -.1 3.9 .1 1.2 .3 .3 .6 .1 1.1 0 3.9-.3 1-1.3 .5zM232.6 448.5l-.8 -.4-.3 -.8-.1 -4.5 .4 -1.2 .7 -.4 1.1 -.1 3.9 .1 1.2 .3 .3 .6 .1 1.1 0 3.9-.3 1-1.3 .5z"/>
<use href="#me9ac2b4124" x="183.7" y="494.8" fill="#f00"/>
<path fill="none" stroke="#d6d6d6" stroke-width=".8" stroke-linecap="square" stroke-linejoin="miter" d="M157.1 520.6l0 -102.2M262.6 520.6l0 -102.2M157.1 520.6l105.5 0M157.1 418.4l105.5 0"/>
<path fill="#000" d="M251 446l.4 -.1 .3 -.2 .2 -.3 .1 -.4-.1 -.4-.2 -.3-.3 -.2-.4 -.1-.4 .1-.3 .2-.2 .3-.1 .4 .1 .4 .2 .3 .3 .2zM237.9 466.2l.4 -.1 .3 -.2 .2 -.3 .1 -.4-.1 -.4-.2 -.3-.3 -.2-.4 -.1-.4 .1-.3 .2-.2 .3-.1 .4 .1 .4 .2 .3 .3 .2zM235 467.2l.4 -.1 .3 -.2 .2 -.3 .1 -.4-.1 -.4-.2 -.3-.3 -.2-.4 -.1-.4 .1-.3 .2-.2 .3-.1 .4 .1 .4 .2 .3 .3 .2zM236 475.8l.4 -.1 .3 -.2 .2 -.3 .1 -.4-.1 -.4-.2 -.3-.3 -.2-.4 -.1-.4 .1-.3 .2-.2 .3-.1 .4 .1 .4 .2 .3 .3 .2zM181.1 470.1l.4 -.1 .3 -.2 .2 -.3 .1 -.4-.1 -.4-.2 -.3-.3 -.2-.4 -.1-.4 .1-.3 .2-.2 .3-.1 .4 .1 .4 .2 .3 .3 .2zM181.7 474.9l.4 -.1 .3 -.2 .2 -.3 .1 -.4-.1 -.4-.2 -.3-.3 -.2-.4 -.1-.4 .1-.3 .2-.2 .3-.1 .4 .1 .4 .2 .3 .3 .2zM226 479.1l.4 -.1 .3 -.2 .2 -.3 .1 -.4-.1 -.4-.2 -.3-.3 -.2-.4 -.1-.4 .1-.3 .2-.2 .3-.1 .4 .1 .4 .2 .3 .3 .2zM179.2 485.5l.4 -.1 .3 -.2 .2 -.3 .1 -.4-.1 -.4-.2 -.3-.3 -.2-.4 -.1-.4 .1-.3 .2-.2 .3-.1 .4 .1 .4 .2 .3 .3 .2zM174.7 488.7l.4 -.1 .3 -.2 .2 -.3 .1 -.4-.1 -.4-.2 -.3-.3 -.2-.4 -.1-.4 .1-.3 .2-.2 .3-.1 .4 .1 .4 .2 .3 .3 .2zM224.8 491.8l.4 -.1 .3 -.2 .2 -.3 .1 -.4-.1 -.4-.2 -.3-.3 -.2-.4 -.1-.4 .1-.3 .2-.2 .3-.1 .4 .1 .4 .2 .3 .3 .2zM242.7 505.7l.4 -.1 .3 -.2 .2 -.3 .1 -.4-.1 -.4-.2 -.3-.3 -.2-.4 -.1-.4 .1-.3 .2-.2 .3-.1 .4 .1 .4 .2 .3 .3 .2zM162.4 511.9l.4 -.1 .3 -.2 .2 -.3 .1 -.4-.1 -.4-.2 -.3-.3 -.2-.4 -.1-.4 .1-.3 .2-.2 .3-.1 .4 .1 .4 .2 .3 .3 .2zM233.1 498l.4 -.1 .3 -.2 .2 -.3 .1 -.4-.1 -.4-.2 -.3-.3 -.2-.4 -.1-.4 .1-.3 .2-.2 .3-.1 .4 .1 .4 .2 .3 .3 .2zM209.4 471.7l.8 -.2 .7 -.4 .4 -.7 .2 -.8-.2 -.8-.4 -.7-.7 -.4-.8 -.2-.8 .2-.7 .4-.4 .7-.2 .8 .2 .8 .4 .7 .7 .4zM184 483.8l.7 -.1 .6 -.4 .4 -.6 .1 -.7-.1 -.7-.4 -.6-.6 -.4-.7 -.1-.7 .1-.6 .4-.4 .6-.1 .7 .1 .7 .4 .6 .6 .4zM196.9 483.8l.7 -.1 .6 -.4 .4 -.6 .1 -.7-.1 -.7-.4 -.6-.6 -.4-.7 -.1-.7 .1-.6 .4-.4 .6-.1 .7 .1 .7 .4 .6 .6 .4zM209.4 483.5l.6 -.1 .5 -.3 .3 -.5 .1 -.6-.1 -.6-.3 -.5-.5 -.3-.6 -.1-.6 .1-.5 .3-.3 .5-.1 .6 .1 .6 .3 .5 .5 .3zM196.9 496l.6 -.1 .5 -.3 .3 -.5 .1 -.6-.1 -.6-.3 -.5-.5 -.3-.6 -.1-.6 .1-.5 .3-.3 .5-.1 .6 .1 .6 .3 .5 .5 .3zM209.4 496.5l.8 -.2 .6 -.4 .4 -.6 .2 -.8-.2 -.8-.4 -.6-.6 -.4-.8 -.2-.8 .2-.6 .4-.4 .6-.2 .8 .2 .8 .4 .6 .6 .4zM222.5 495.8l.5 -.1 .4 -.3 .3 -.4 .1 -.5-.1 -.5-.3 -.4-.4 -.3-.5 -.1-.5 .1-.4 .3-.3 .4-.1 .5 .1 .5 .3 .4 .4 .3zM184 458.7l.5 -.1 .3 -.3 .3 -.3 .1 -.5-.1 -.5-.3 -.3-.3 -.3-.5 -.1-.5 .1-.3 .3-.3 .3-.1 .5 .1 .5 .3 .3 .3 .3zM222.5 470.7l.4 -.1 .4 -.2 .2 -.4 .1 -.4-.1 -.4-.2 -.4-.4 -.2-.4 -.1-.4 .1-.4 .2-.2 .4-.1 .4 .1 .4 .2 .4 .4 .2zM235 470.7l.4 -.1 .4 -.2 .2 -.4 .1 -.4-.1 -.4-.2 -.4-.4 -.2-.4 -.1-.4 .1-.4 .2-.2 .4-.1 .4 .1 .4 .2 .4 .4 .2zM222.5 483l.4 -.1 .3 -.2 .2 -.3 .1 -.4-.1 -.4-.2 -.3-.3 -.2-.4 -.1-.4 .1-.3 .2-.2 .3-.1 .4 .1 .4 .2 .3 .3 .2z"/>
<text x="209.8" y="416.6" font-size="8.45" text-anchor="middle">Search history</text>
<path fill="#fff" d="M299.2 112.4l105.5 0 0 -102.2-105.5 0z"/>
<text x="304" y="118.6" font-size="4.9" text-anchor="middle">0</text>
<text x="328.2" y="118.6" font-size="4.9" text-anchor="middle">25</text>
<text x="352.4" y="118.6" font-size="4.9" text-anchor="middle">50</text>
<text x="376.7" y="118.6" font-size="4.9" text-anchor="middle">75</text>
<text x="400.9" y="118.6" font-size="4.9" text-anchor="middle">100</text>
<text x="351.9" y="127.3" font-size="8.45" text-anchor="middle">Interation</text>
<text x="297.9" y="109.5" font-size="4.9" text-anchor="end">0.0</text>
<text x="297.9" y="92.6" font-size="4.9" text-anchor="end">0.2</text>
<text x="297.9" y="75.7" font-size="4.9" text-anchor="end">0.4</text>
<text x="297.9" y="58.9" font-size="4.9" text-anchor="end">0.6</text>
<text x="297.9" y="42" font-size="4.9" text-anchor="end">0.8</text>
<text x="297.9" y="25.1" font-size="4.9" text-anchor="end">1.0</text>
<path fill="none" stroke="#a02cb2" stroke-width="1.4" stroke-linecap="square" d="M304 14.8l1 20.4 .9 18 1 14.3 1 9.3 .9 7.6 1 3.8 1 3.4 3.9 5.8 3.8 2.9 5.8 4.2 1 .3 2.9 .4 10.7 .7 7.7 1 5.8 .4 9.7 .5 37.8 0"/>
<path fill="none" stroke="#d6d6d6" stroke-width=".8" stroke-linecap="square" stroke-linejoin="miter" d="M299.2 112.4l0 -102.2M404.7 112.4l0 -102.2M299.2 112.4l105.5 0M299.2 10.2l105.5 0"/>
<text x="351.9" y="8.4" font-size="8.45" text-anchor="middle">Average fitness</text>
<path fill="#fff" d="M442.2 112.4l105.5 0 0 -102.2-105.5 0z"/>
<text x="447" y="118.6" font-size="4.9" text-anchor="middle">0</text>
<text x="466.4" y="118.6" font-size="4.9" text-anchor="middle">20</text>
<text x="485.7" y="118.6" font-size="4.9" text-anchor="middle">40</text>
<text x="505.1" y="118.6" font-size="4.9" text-anchor="middle">60</text>
<text x="524.5" y="118.6" font-size="4.9" text-anchor="middle">80</text>
<text x="543.9" y="118.6" font-size="4.9" text-anchor="middle">100</text>
<text x="494.9" y="127.3" font-size="8.45" text-anchor="middle">Interation</text>
<text x="440.9" y="108" font-size="4.9" text-anchor="end">−0.20</text>
<text x="440.9" y="89.4" font-size="4.9" text-anchor="end">−0.15</text>
<text x="440.9" y="70.7" font-size="4.9" text-anchor="end">−0.10</text>
<text x="440.9" y="52.1" font-size="4.9" text-anchor="end">−0.05</text>
<text x="440.9" y="33.4" font-size="4.9" text-anchor="end">0.00</text>
<text x="440.9" y="14.8" font-size="4.9" text-anchor="end">0.05</text>
<path fill="none" stroke="#ff2020" stroke-width="1.3" stroke-linecap="square" d="M447 46l1 61.8 .9 0 1 -93 1 .8 1.9 .7 1.9 22.4 1 -7.1 1 -2.6 1 -.3 .9 0 1 .3 1 0 .9 3 1 -.4 80.4 0"/>
<path fill="none" stroke="#d6d6d6" stroke-width=".8" stroke-linecap="square" stroke-linejoin="miter" d="M442.2 112.4l0 -102.2M547.7 112.4l0 -102.2M442.2 112.4l105.5 0M442.2 10.2l105.5 0"/>
<text x="494.9" y="8.4" font-size="8.45" text-anchor="middle">Trajectory of 1st dimension</text>
<path fill="#fff" d="M299.2 248.4l105.5 0 0 -102.2-105.5 0z"/>
<text x="304" y="254.6" font-size="4.9" text-anchor="middle">0</text>
<text x="328.2" y="254.6" font-size="4.9" text-anchor="middle">25</text>
<text x="352.4" y="254.6" font-size="4.9" text-anchor="middle">50</text>
<text x="376.7" y="254.6" font-size="4.9" text-anchor="middle">75</text>
<text x="400.9" y="254.6" font-size="4.9" text-anchor="middle">100</text>
<text x="351.9" y="263.3" font-size="8.45" text-anchor="middle">Interation</text>
<text x="297.9" y="245.5" font-size="4.9" text-anchor="end">0.00</text>
<text x="297.9" y="232.4" font-size="4.9" text-anchor="end">0.25</text>
<text x="297.9" y="219.3" font-size="4.9" text-anchor="end">0.50</text>
<text x="297.9" y="206.1" font-size="4.9" text-anchor="end">0.75</text>
<text x="297.9" y="193" font-size="4.9" text-anchor="end">1.00</text>
<text x="297.9" y="179.8" font-size="4.9" text-anchor="end">1.25</text>
<text x="297.9" y="166.7" font-size="4.9" text-anchor="end">1.50</text>
<text x="297.9" y="153.6" font-size="4.9" text-anchor="end">1.75</text>
<path fill="none" stroke="#a02cb2" stroke-width="1.4" stroke-linecap="square" d="M304 150.8l1.9 19 2 25.8 .9 9.6 2 9.5 2.9 12.1 1 2.8 1.9 5.2 1 1.6 2.9 3.7 .9 .5 8.8 .9 2.9 .1 .9 .2 2 1.2 6.7 .5 57.2 .3"/>
<path fill="none" stroke="#d6d6d6" stroke-width=".8" stroke-linecap="square" stroke-linejoin="miter" d="M299.2 248.4l0 -102.2M404.7 248.4l0 -102.2M299.2 248.4l105.5 0M299.2 146.2l105.5 0"/>
<text x="351.9" y="144.4" font-size="8.45" text-anchor="middle">Average fitness</text>
<path fill="#fff" d="M442.2 248.4l105.5 0 0 -102.2-105.5 0z"/>
<text x="447" y="254.6" font-size="4.9" text-anchor="middle">0</text>
<text x="466.4" y="254.6" font-size="4.9" text-anchor="middle">20</text>
<text x="485.7" y="254.6" font-size="4.9" text-anchor="middle">40</text>
<text x="505.1" y="254.6" font-size="4.9" text-anchor="middle">60</text>
<text x="524.5" y="254.6" font-size="4.9" text-anchor="middle">80</text>
<text x="543.9" y="254.6" font-size="4.9" text-anchor="middle">100</text>
<text x="494.9" y="263.3" font-size="8.45" text-anchor="middle">Interation</text>
<text x="440.9" y="243.4" font-size="4.9" text-anchor="end">0</text>
<text x="440.9" y="229.7" font-size="4.9" text-anchor="end">5</text>
<text x="440.9" y="216.1" font-size="4.9" text-anchor="end">10</text>
<text x="440.9" y="202.5" font-size="4.9" text-anchor="end">15</text>
<text x="440.9" y="188.9" font-size="4.9" text-anchor="end">20</text>
<text x="440.9" y="175.2" font-size="4.9" text-anchor="end">25</text>
<text x="440.9" y="161.6" font-size="4.9" text-anchor="end">30</text>
<text x="440.9" y="148" font-size="4.9" text-anchor="end">35</text>
<path fill="none" stroke="#ff2020" stroke-width="1.3" stroke-linecap="square" d="M447 150.8l1 90 .9 3 1 -3.6 1 .6 .9 1 1 .3 1 -.3 .9 -.8 1 .4 1 .2 86.2 0"/>
<path fill="none" stroke="#d6d6d6" stroke-width=".8" stroke-linecap="square" stroke-linejoin="miter" d="M442.2 248.4l0 -102.2M547.7 248.4l0 -102.2M442.2 248.4l105.5 0M442.2 146.2l105.5 0"/>
<text x="494.9" y="144.4" font-size="8.45" text-anchor="middle">Trajectory of 1st dimension</text>
<path fill="#fff" d="M299.2 384.5l105.5 0 0 -102.2-105.5 0z"/>
<text x="304" y="390.7" font-size="4.9" text-anchor="middle">0</text>
<text x="328.2" y="390.7" font-size="4.9" text-anchor="middle">25</text>
<text x="352.4" y="390.7" font-size="4.9" text-anchor="middle">50</text>
<text x="376.7" y="390.7" font-size="4.9" text-anchor="middle">75</text>
<text x="400.9" y="390.7" font-size="4.9" text-anchor="middle">100</text>
<text x="351.9" y="399.4" font-size="8.45" text-anchor="middle">Interation</text>
<text x="297.9" y="381.2" font-size="4.9" text-anchor="end">−1</text>
<text x="297.9" y="361.2" font-size="4.9" text-anchor="end">0</text>
<text x="297.9" y="341.2" font-size="4.9" text-anchor="end">1</text>
<text x="297.9" y="321.2" font-size="4.9" text-anchor="end">2</text>
<text x="297.9" y="301.1" font-size="4.9" text-anchor="end">3</text>
<path fill="none" stroke="#a02cb2" stroke-width="1.4" stroke-linecap="square" d="M304 286.9l1 72.1 5.8 .4 4.8 3.6 5.8 2.2 2.9 1.4 8.8 2 4.8 4.2 10.7 1 10.6 .6 7.8 2.5 17.4 .6 1 1.2 11.6 .2 2.9 1"/>
<path fill="none" stroke="#d6d6d6" stroke-width=".8" stroke-linecap="square" stroke-linejoin="miter" d="M299.2 384.5l0 -102.2M404.7 384.5l0 -102.2M299.2 384.5l105.5 0M299.2 282.3l105.5 0"/>
<text x="351.9" y="280.5" font-size="8.45" text-anchor="middle">Average fitness</text>
<path fill="#fff" d="M442.2 384.5l105.5 0 0 -102.2-105.5 0z"/>
<text x="447" y="390.7" font-size="4.9" text-anchor="middle">0</text>
<text x="466.4" y="390.7" font-size="4.9" text-anchor="middle">20</text>
<text x="485.7" y="390.7" font-size="4.9" text-anchor="middle">40</text>
<text x="505.1" y="390.7" font-size="4.9" text-anchor="middle">60</text>
<text x="524.5" y="390.7" font-size="4.9" text-anchor="middle">80</text>
<text x="543.9" y="390.7" font-size="4.9" text-anchor="middle">100</text>
<text x="494.9" y="399.4" font-size="8.45" text-anchor="middle">Interation</text>
<text x="440.9" y="381.1" font-size="4.9" text-anchor="end">0</text>
<text x="440.9" y="362.6" font-size="4.9" text-anchor="end">1</text>
<text x="440.9" y="344.1" font-size="4.9" text-anchor="end">2</text>
<text x="440.9" y="325.7" font-size="4.9" text-anchor="end">3</text>
<text x="440.9" y="307.2" font-size="4.9" text-anchor="end">4</text>
<text x="440.9" y="288.7" font-size="4.9" text-anchor="end">5</text>
<path fill="none" stroke="#ff2020" stroke-width="1.3" stroke-linecap="square" d="M447 286.9l1 48.4 .9 -2.2 1 -4.6 1 -.9 3.8 0 1 52.3 1 -.6 86.2 0"/>
<path fill="none" stroke="#d6d6d6" stroke-width=".8" stroke-linecap="square" stroke-linejoin="miter" d="M442.2 384.5l0 -102.2M547.7 384.5l0 -102.2M442.2 384.5l105.5 0M442.2 282.3l105.5 0"/>
<text x="494.9" y="280.5" font-size="8.45" text-anchor="middle">Trajectory of 1st dimension</text>
<path fill="#fff" d="M299.2 520.6l105.5 0 0 -102.2-105.5 0z"/>
<text x="304" y="526.8" font-size="4.9" text-anchor="middle">0</text>
<text x="328.2" y="526.8" font-size="4.9" text-anchor="middle">25</text>
<text x="352.4" y="526.8" font-size="4.9" text-anchor="middle">50</text>
<text x="376.7" y="526.8" font-size="4.9" text-anchor="middle">75</text>
<text x="400.9" y="526.8" font-size="4.9" text-anchor="middle">100</text>
<text x="351.9" y="535.5" font-size="8.45" text-anchor="middle">Interation</text>
<text x="297.9" y="518.2" font-size="4.9" text-anchor="end">0</text>
<text x="297.9" y="497.1" font-size="4.9" text-anchor="end">1</text>
<text x="297.9" y="476.1" font-size="4.9" text-anchor="end">2</text>
<text x="297.9" y="455.1" font-size="4.9" text-anchor="end">3</text>
<text x="297.9" y="434.1" font-size="4.9" text-anchor="end">4</text>
<path fill="none" stroke="#a02cb2" stroke-width="1.4" stroke-linecap="square" d="M304 423l1 19.6 1.9 1.5 1.9 10.7 1 8 1.9 18.8 1 5.9 1 2.6 3.9 0 .9 8.8 2 1.1 .9 4 5.8 .4 1 5.9 1 3.6 7.7 .8 25.2 .6 37.8 .7"/>
<path fill="none" stroke="#d6d6d6" stroke-width=".8" stroke-linecap="square" stroke-linejoin="miter" d="M299.2 520.6l0 -102.2M404.7 520.6l0 -102.2M299.2 520.6l105.5 0M299.2 418.4l105.5 0"/>
<text x="351.9" y="416.6" font-size="8.45" text-anchor="middle">Average fitness</text>
<path fill="#fff" d="M442.2 520.6l105.5 0 0 -102.2-105.5 0z"/>
<text x="447" y="526.8" font-size="4.9" text-anchor="middle">0</text>
<text x="466.4" y="526.8" font-size="4.9" text-anchor="middle">20</text>
<text x="485.7" y="526.8" font-size="4.9" text-anchor="middle">40</text>
<text x="505.1" y="526.8" font-size="4.9" text-anchor="middle">60</text>
<text x="524.5" y="526.8" font-size="4.9" text-anchor="middle">80</text>
<text x="543.9" y="526.8" font-size="4.9" text-anchor="middle">100</text>
<text x="494.9" y="535.5" font-size="8.45" text-anchor="middle">Interation</text>
<text x="440.9" y="514.1" font-size="4.9" text-anchor="end">−30</text>
<text x="440.9" y="501.7" font-size="4.9" text-anchor="end">−20</text>
<text x="440.9" y="489.2" font-size="4.9" text-anchor="end">−10</text>
<text x="440.9" y="476.8" font-size="4.9" text-anchor="end">0</text>
<text x="440.9" y="464.3" font-size="4.9" text-anchor="end">10</text>
<text x="440.9" y="451.8" font-size="4.9" text-anchor="end">20</text>
<text x="440.9" y="439.4" font-size="4.9" text-anchor="end">30</text>
<text x="440.9" y="426.9" font-size="4.9" text-anchor="end">40</text>
<path fill="none" stroke="#ff2020" stroke-width="1.3" stroke-linecap="square" d="M447 423l1 51.5 12.6 .6 16.4 0 1 .4 1 19.2 31.9 .3 1 .3 1 20.7 30 0"/>
<path fill="none" stroke="#d6d6d6" stroke-width=".8" stroke-linecap="square" stroke-linejoin="miter" d="M442.2 520.6l0 -102.2M547.7 520.6l0 -102.2M442.2 520.6l105.5 0M442.2 418.4l105.5 0"/>
<text x="494.9" y="416.6" font-size="8.45" text-anchor="middle">Trajectory of 1st dimension</text>
<path fill="#fff" d="M16.2 112.4l102.2 0 0 -102.2-102.2 0z"/>
<path fill="#f9f9f9" stroke="#f9f9f9" stroke-width="1" stroke-linejoin="miter" d="M24 87.2l33.7 -28.3-.5 -40.8-35.3 25.8M57.7 58.9l54.2 15.8 1.9 -42.3-56.6 -14.3M24 87.2l57.4 18.8 30.5 -31.3-54.2 -15.8"/>
<path fill="none" stroke="#e2e2e2" stroke-width=".4" d="M28 88.5l33.5 -28.5-.3 -40.9M38.8 92l32.9 -29 .1 -41.2M49.8 95.6l32.3 -29.6 .6 -41.4M61 99.3l31.7 -30.2 1.1 -41.7M72.5 103.1l31 -30.9 1.6 -42M24.7 41.9l1.9 43.1 57.2 18.5M32 36.5l1.6 42.6 56.5 17.9M39 31.4l1.3 42.1 55.9 17.3M45.8 26.4l1 41.7 55.2 16.7M52.4 21.6l.7 41.2 54.6 16.1M111.9 73.9l-54.2 -15.7-33.8 28.2M112.3 66.1l-54.7 -15.5-34.1 27.8M112.6 58.1l-55.1 -15.2-34.4 27.3M113 49.9l-55.6 -14.9-34.7 26.9M113.4 41.7l-56.1 -14.7-35 26.4M113.8 33.3l-56.5 -14.4-35.4 25.9"/>
<path fill="none" stroke="#d0d0d0" stroke-width=".5" stroke-linecap="square" d="M24 87.2l57.4 18.8"/>
<path fill="none" stroke="#1c1c1c" stroke-width=".8" stroke-linecap="square" d="M28 88.5M38.8 92M49.8 95.6M61 99.3M72.5 103.1"/>
<path fill="none" stroke="#d0d0d0" stroke-width=".5" stroke-linecap="square" d="M111.9 74.7l-30.5 31.3"/>
<path fill="none" stroke="#1c1c1c" stroke-width=".8" stroke-linecap="square" d="M83.8 103.5M90.1 97M96.2 90.8M102 84.8M107.7 78.9"/>
<path fill="none" stroke="#d0d0d0" stroke-width=".5" stroke-linecap="square" d="M24 87.2l-2.1 -43.3"/>
<path fill="none" stroke="#1c1c1c" stroke-width=".8" stroke-linecap="square" d="M23.9 86.4M23.5 78.4M23.1 70.2M22.7 61.9M22.3 53.4M21.9 44.8"/>
<text x="31.2" y="97" font-size="4.9" text-anchor="middle">−4</text>
<text x="40.2" y="99.9" font-size="4.9" text-anchor="middle">−2</text>
<text x="49.3" y="102.8" font-size="4.9" text-anchor="middle">0</text>
<text x="58.3" y="105.7" font-size="4.9" text-anchor="middle">2</text>
<text x="67.4" y="108.6" font-size="4.9" text-anchor="middle">4</text>
<text x="76.4" y="111.6" font-size="4.9" text-anchor="middle">6</text>
<text x="90" y="107.3" font-size="4.9" text-anchor="middle">−4</text>
<text x="94.5" y="102.4" font-size="4.9" text-anchor="middle">−2</text>
<text x="99.1" y="97.5" font-size="4.9" text-anchor="middle">0</text>
<text x="103.6" y="92.6" font-size="4.9" text-anchor="middle">2</text>
<text x="108.2" y="87.7" font-size="4.9" text-anchor="middle">4</text>
<text x="112.7" y="82.8" font-size="4.9" text-anchor="middle">6</text>
<text x="20" y="82.7" font-size="4.9" text-anchor="middle">20</text>
<text x="19.9" y="74.4" font-size="4.9" text-anchor="middle">40</text>
<text x="19.7" y="66.1" font-size="4.9" text-anchor="middle">60</text>
<text x="19.6" y="57.9" font-size="4.9" text-anchor="middle">80</text>
<text x="47.3" y="109.5" font-size="8.45" text-anchor="middle">x1</text>
<text x="105.8" y="100.4" font-size="8.45" text-anchor="middle">x2</text>
<path fill="none" stroke="#221150" stroke-width=".5" d="M52.8 86.5l-.2 -.5 .5 -.3 .6 0 .5 .5-.8 .4zM57.2 87.9l-.4 -.2 0 -.3 .4 -.3 .9 -.1 .4 .2 .1 .4-.2 .3zM61.6 89.3l-.3 -.5 .3 -.3 .9 0 .3 .2-.1 .5zM55.2 84.3l-.4 -.5 .4 -.5 1.3 -.2 .7 .5-.2 .6zM59.6 85.7l-.5 -.6 .3 -.5 1.5 -.1 .7 .5-.2 .6zM64 87.1l-.5 -.6 .3 -.5 1.5 -.1 .5 .4-.1 .6-1.7 .2M50.8 82.6l0 -.4 .3 -.2 .6 -.1 .8 .2 .2 .4-.2 .3-1 .1zM68.2 88.1l-.1 -.4 .9 -.4 1 .3 .1 .4-.2 .2-.8 .2zM53.5 80.6l-.4 -.5 .4 -.5 1.3 -.1 .7 .5-.2 .5-1.8 .1M57.4 81.8l-.1 -.7 1.4 -.4 .9 .2 .4 .7-.2 .3-1 .3-1.1 -.1zM61.7 83.2l-.2 -.8 1.6 -.4 .9 .2 .4 .8-.2 .3-1.1 .2-1.1 0zM66.1 84.6l-.2 -.8 .8 -.4 1.3 0 .6 .6-.1 .6-.5 .2-1.1 .1-.8 -.3M71 86.1l-.6 -.6 .4 -.5 1.4 -.1 .5 .4-.1 .6zM49.5 79.1l-.2 -.5 .4 -.2 .6 0 .6 .4-.2 .3-.6 .1zM75.3 87l0 -.3 .6 -.3 .6 .1 .4 .4-.7 .4-.9 -.3M64.5 81.2l-.6 -.8 .4 -.5 1.9 -.2 .7 .7-.1 .6-.4 .1zM56.1 78.4l-.5 -.6 .5 -.5 1.3 -.1 .7 .4-.1 .6-.9 .3zM59.9 79.6l-.1 -.8 1.5 -.4 .9 .2 .4 .8-.1 .2-1.2 .3-1.1 -.1zM68.6 82.3l-.3 -.9 1 -.3 1.2 -.1 .4 .2 .3 .8-.1 .3-1.1 .2-1.1 0zM73.1 83.5l-.2 -.7 .9 -.3 1 0 .3 .2 .3 .6-.6 .4-.7 .1-1 -.3M52 76.9l-.2 -.3 0 -.3 .5 -.2 .7 0 .5 .5-.6 .4zM77.7 84.7l0 -.4 .7 -.3 .6 .1 .4 .4-.1 .3-.7 .2zM67.1 78.9l-.6 -.8 .4 -.5 1.7 -.2 .7 .6 0 .6-.5 .2zM58.7 76.1l-.4 -.5 .4 -.5 1.2 -.1 .4 .1 .3 .6-.6 .4-1.3 0M62.5 77.3l-.1 -.8 1.3 -.4 1 .2 .4 .7-.2 .3-1 .3-1.1 -.1zM71.1 79.9l-.2 -.8 1 -.3 1 0 .4 .2 .3 .7-.1 .2-1.1 .3-1 0zM75.6 81.2l-.2 -.7 1 -.3 1.1 .2 .3 .5-.6 .5-.7 .1zM54.6 74.6l-.2 -.3 .4 -.4 .7 0 .5 .4-.1 .2-.5 .2zM80.2 82.3l0 -.3 .6 -.3 .6 .1 .4 .3-.2 .3-.5 .2-.9 -.3M65.4 75.2l-.4 -.6 .4 -.5 1.2 0 .4 .1 .3 .5-.5 .4zM69.3 76.3l-.1 -.7 1 -.3 1.1 .2 .4 .5-.2 .3-1 .3zM73.7 77.6l-.1 -.7 1 -.3 1 .2 .3 .5-.5 .4-.7 .1zM61 73.5l.1 -.4 .6 -.2 .8 0 .4 .5-.1 .2-1 .2zM78.2 78.7l-.1 -.4 .8 -.3 .6 .1 .5 .4-.1 .3-.9 .2zM67.8 72.5l.5 -.5 .6 0 .5 .4-.1 .2-.7 .2zM72 73.8l.1 -.3 .5 -.2 .6 0 .5 .4-.1 .2-.8 .3zM76.4 75.1l0 -.3 .5 -.2 .5 0 .5 .3-.1 .3-.6 .2z"/>
<path fill="none" stroke="#221150" stroke-width="1.4" stroke-linecap="round" d="M64.4 71.1h0m-6.7 1h0m23.7 4.2h0m2 3.5h0m-36 1.3h0m1.7 3.7h0m24.4 4.5h0m-7 1h0"/>
<path fill="none" stroke="#5f187f" stroke-width=".5" d="M51.7 92.7l-.1 -.4 .3 -.3 .9 -.1 .3 .2 .1 .4-.9 .3M56.4 94.2l-.3 -.5 .3 -.2 .8 -.1 .3 .5-.2 .2-.9 .1M43.8 73.6l1.1 .1 .2 .3-.2 .2-.8 .2-.4 -.2-.2 -.3M46.2 71.6l.8 -.2 .6 .3-.1 .3-1.2 0-.1 -.4M47.3 91l.2 -.4 .8 0 .4 .4-.7 .4-.5 -.1zM49.5 88.9l-.2 -.7 .8 -.4 1.4 -.1 .3 .2 .3 .6-.2 .6-.5 .1-1.1 .1zM53.8 90.4l-.2 -.8 .8 -.4 1.5 -.1 .4 .2 .3 .6-.3 .6-.5 .1-1.1 .1zM58.3 91.8l-.3 -.8 .9 -.4 1.4 -.1 .6 .8-.2 .6-.5 .1-1 .1zM63.2 93.4l-.5 -.6 0 -.3 .3 -.2 1.6 -.2 .5 .5-.2 .6-1.7 .2M41.5 86.1l-.2 -.5 .4 -.2 .7 -.1 .4 .2 .1 .3-.9 .4zM45.3 87.4l-.1 -.5 .8 -.4 .9 0 .7 .5-.3 .6-.5 .2-.8 0zM68 94.6l-.4 -.5 .3 -.3 .9 0 .4 .2-.2 .5zM48 85.5l-.6 -.8 .3 -.6 2.4 -.4 .3 .2 .5 1.2-.2 .3-1.7 .2zM51.9 86.8l-.5 -1.2 2.7 -.7 0 -.7-.8 -.8-3.1 .2-.8 -1.8 2.9 -.7 .1 -.6-.7 -.8-2.9 0-.5 -.7 0 -.7 2.8 -.7-.3 -1.6 2.8 -.6 .2 -.3-.4 -1 .4 -.5 2.4 -.3 .3 .1 1 1.2 1.4 0 1.1 -.3 .2 -.2-.5 -1.4 1.3 -.2 2 -.3 1.3 1.4 1.1 .1 1.4 -.3 .2 -.3-.3 -1.2 2.8 -.4 .6 .5 .6 .9 3.1 -.2 1.2 1.5 3 -.1 .6 .4 .5 1.1-2.4 .5-.3 .2 .2 .7 .5 .5 .5 .1 2.6 -.2 1 1.5-.1 .3-2.4 .5-.3 .2 .2 .7 .4 .6 .5 .1 2.6 -.2 .8 1.4-.6 .4-2.4 .5 .5 1.1 0 .6-3 .7 .5 1.1-.1 .6-2.9 .4-1 -1.3-.4 -.1-1.6 .1-1 .3 .4 1.5-.1 .2-2.8 .4-.7 .1-.8 -1.4-1.7 -.1-1.4 .3 .3 1.4-.1 .3-2.5 .4-.8 -.4-.7 -1.1-.3 -.2-3.2 .2-1.2 -1.6-2.6 .3zM65.6 91.2l-.6 -.6-.3 -.8 .3 -.2 2.7 -.4 .5 1.1-.2 .6-1.3 .3-1.1 0M43.9 84l-.5 -.6 .4 -.5 1.6 -.2 .7 .6-.2 .6-1 .2zM69.9 92.2l-.3 -.8 .9 -.4 1.3 0 .5 .6-.2 .6-.5 .2-.8 .1zM39.9 82.4l-.2 -.5 .4 -.2 .7 -.1 .4 .2 .1 .3-.8 .4-.6 -.1M75.1 93.6l-.4 -.3 0 -.3 .3 -.2 .9 -.1 .4 .3-.2 .5-1 .1M55.3 86.3l.3 .3 .5 .1 1.8 -.3 .6 -.5-.5 -.9-.4 -.2-1.4 .1-1.1 .3zM59.7 87.7l.3 .3 .5 .1 1.9 -.3 .5 -.5-.5 -.9-1.6 -.2-1.3 .4zM46.3 81.9l-.4 -.7 0 -.5 1.8 -.6 1 .2 .6 1.2-.1 .2zM72.6 90.2l-1.2 -1.5 2.6 -.4 .6 0 .3 .2 .3 .7-.2 .6-1.2 .4zM42.4 80.3l-.4 -.5 .4 -.5 1.3 -.2 .7 .5-.2 .6-.8 .2zM77.4 91.3l-.6 -.6 0 -.3 .3 -.2 1.6 -.1 .5 .4-.2 .6-1.6 .2M54.1 82.7l1.8 -.1 .5 -.2 .1 -.6-.7 -.6-1.9 .1-.4 .2 0 .3zM67.2 86.8l2 -.1 .6 -.4-.5 -.9-1.7 -.1-.8 .4-.1 .2zM58.2 83.7l.3 .3 1.1 0 1 -.3 .2 -.2-.4 -.7-1.3 -.2-1 .3zM62.6 85.1l.3 .3 1.1 0 1 -.3 .2 -.3-.4 -.7-1.4 -.1-.9 .3zM44.6 77.8l0 -.6 1.3 -.5 1 .2 .4 .8-.2 .3-1.2 .2-1 -.1zM79.4 88.8l-.4 -.9 .3 -.2 2 -.2 .6 .6-.2 .6-.4 .2-1 .1zM41.1 76.4l-.1 -.4 .3 -.2 .5 0 .6 .4-.2 .2-1.1 0M84.7 90l-.4 -.5 .3 -.2 .8 0 .3 .3-.1 .3-.9 .1M52 78.9l.8 .3 1.5 -.2 .5 -.2 .1 -.6-.6 -.8-2.3 .2-.4 .2 0 .3zM74.1 85.9l2.3 -.1 .6 -.1 0 -.3-.6 -1.1-.5 -.2-1.4 .2-.9 .3 0 .6zM56.5 80.1l.8 .3 1.1 -.2 .4 -.2 .1 -.6-.6 -.5-1.6 .2-.5 .4zM60.9 81.3l1 .3 .7 -.1 .6 -.4-.3 -.6-.9 -.2-1.2 .3zM65.6 82.9l1.4 0 .4 -.2 .1 -.5-.6 -.5-1.4 .1-.4 .5zM69.6 84.1l.3 .2 1.1 .1 1 -.3 .2 -.2-.4 -.8-1 -.2-1.3 .4zM47.2 75.6l-.1 -.7 1.4 -.4 1 .1 .5 .9-.1 .2-1.4 .3-1 -.1zM81.8 86.4l-.5 -1 .4 -.2 2.1 -.1 .6 .6-.1 .6-.5 .2-1.1 .2-.9 -.3M86.7 87.4l-.1 -.3 .7 -.3 .6 .1 .4 .3-.7 .5zM55 76.8l2.4 -.3 .1 -.2-.1 -.6-.5 -.5-2.4 .1-.3 .2 0 .3zM76.6 83.5l2.3 -.1 .6 -.1 0 -.3-.6 -1.1-.4 -.1-1.3 .1-1.1 .4 .1 .5zM59.1 77.7l.8 .3 1 -.1 .5 -.2 .1 -.5-.6 -.6-1.7 .2-.4 .5zM63.8 79.2l1.3 0 .5 -.2 .1 -.5-.6 -.5-1.4 .1-.4 .5zM68.1 80.5l1.4 0 .5 -.1 .1 -.6-.7 -.5-1.4 .2-.3 .5zM72.1 81.7l.3 .3 1.1 0 1 -.2 .2 -.3-.4 -.7-1 -.2-1.3 .4zM49.8 73.4l0 -.7 1.2 -.4 1 .2 .5 .7-.1 .3-1.3 .2-1 -.1zM84.3 84l-.4 -.6 0 -.3 .4 -.2 1.8 -.1 .6 .6-.1 .5-.4 .2-1 .2zM89.5 85.2l-.3 -.2-.1 -.3 .4 -.2 .7 0 .4 .3-.5 .4zM61.6 75.5l.8 .3 1.2 -.1 .4 -.2 .2 -.5-.6 -.7-1.4 0-1 .4zM65.9 76.8l.8 .3 1.1 -.1 .4 -.2 .2 -.6-.7 -.6-1.2 .1-.8 .3zM70.3 78.1l.3 .2 1.1 0 .9 -.2 .2 -.2-.4 -.8-.9 -.2-1.4 .4zM74.5 79.4l.4 .3 1 .1 1.3 -.3 .1 -.2-.4 -1-1 -.1-1.6 .4zM56.3 72.6l-.1 -.9 2.3 -.4 .6 .4 .5 1-2.6 .3-.7 -.4M82.1 80.5l-.6 -1.1-.3 -.2 3 -.2 .4 .2 .4 .9-.5 .4-.9 .2-1.2 .1zM52.8 71.3l-.3 -.2 0 -.6 1 -.3 .9 .2 .4 .5-.6 .4zM86.8 81.6l-.2 -.8 .6 -.2 1.2 0 .6 .7-.5 .4-.7 .1-1 -.2M68.6 74.8l1.9 0 .5 -.2 .1 -.5-.6 -1-2.3 .4-.3 .2 0 .3zM72.9 76.1l2 0 .7 -.4-.8 -1.3-1.3 .2-1.3 .4 .2 .6zM63.1 72.1l-.3 -1.1 .5 -.5 1.8 -.1 .7 .4 .3 .6 .1 .3-.6 .1zM80.2 77.4l.1 -.3-.6 -1.4 2.5 -.2 .8 .6 0 .6-.4 .2zM59.1 70.2l0 -.6 1.1 -.3 .9 .1 .5 .6-.1 .3-1.1 .3-1.1 -.1zM84.7 78l-.2 -.8 .8 -.3 1.1 0 .7 .8-.1 .2-1 .3-1 0zM55.5 69l-.2 -.4 .5 -.3 .5 0 .6 .3-.1 .3-.5 .1zM89.4 79l0 -.3 .4 -.2 .7 0 .4 .3-.1 .3-.5 .2zM70.1 70.9l-.4 -.8 .5 -.4 1.4 -.1 .4 .1 .4 .7-.5 .4-1.8 .1M74.3 72.2l-.5 -.9 .5 -.4 1.6 -.1 .4 .2 .4 .6-.5 .5zM78.7 73.5l-.6 -.9 .5 -.4 1.5 -.1 .8 .8-.5 .4zM65.8 69.3l0 -.6 1 -.3 .9 .2 .3 .4-.1 .3-1 .3-.8 -.1zM82.8 74.4l-.1 -.7 .5 -.2 1.1 0 .7 .6-.1 .2-1 .3zM62.1 68.1l-.2 -.3 .4 -.4 .6 0 .5 .3 0 .3-.4 .1zM87.4 75.5l0 -.4 .4 -.2 .7 .1 .4 .2-.1 .3-.6 .2zM73 68.4l-.3 -.3 .3 -.3 1.1 .2 0 .2-.4 .2zM76.9 69.4l0 -.3 .5 -.2 1 .3-.1 .3-.7 .2-.7 -.3M81.5 70.9l-.3 -.3 .4 -.4 .9 .3 0 .2-.4 .2z"/>
<path fill="none" stroke="#5f187f" stroke-width="1" stroke-linecap="round" d="M69.3 66.8h0m-19.9 2.8h0m36.8 2.2h0m6 10.7h0m-48.6 7h0m38.9 2.6h0m-21.2 3.1h0"/>
<path fill="none" stroke="#5f187f" stroke-width="1.2" stroke-linecap="round" d="M38.9 78.4h0"/>
<path fill="none" stroke="#982d80" stroke-width=".5" d="M38.1 88.2l.3 -.5 1.6 -.3 .4 .2 .2 .8-.8 .4M42 89.5l.3 -.5 2.4 -.6 0 -.3-1 -1.4-2.4 .1-.5 -.1-.5 -.7-.1 -.7 .3 -.2 1.8 -.4 .5 -.5-.4 -1-.3 -.2-2.4 .1-.5 -.2-.4 -.6-.1 -.7 .3 -.2 2.3 -.6 .1 -.3-.4 -1.1-.2 -.3-2.5 .2-.7 -.4M46.2 90.9l-.1 -.4 .3 -.2 2.2 -.6 .1 -.3-.2 -.6-.6 -.5-2.9 .2 .4 1.4-.9 .4M50.4 92.2l-.3 -.4 .4 -.2 2.4 -.6-.1 -.8-.6 -.5-1.2 0-1.2 .3 0 .7 .3 .8-.2 .2-.8 .1M54.9 93.7l-.3 -.5 .3 -.2 2.5 -.5-.1 -.9-.7 -.4-1.2 0-1.1 .3-.1 .6 .4 .8-.3 .3-.7 .1M59.6 95.2l-.1 -.4 .3 -.2 2.5 -.5-.5 -1.1-.7 -.5-2.5 .4 .1 1.4-.8 .4M64.5 96.8l-.1 -.4 .3 -.2 1.9 -.2 .3 .2 .2 .7-.8 .5M69.9 98.5l-.3 -.4 .2 -.3 .9 0 .4 .3-.3 .4-.8 .1M36.2 80l1 .2 .4 .7-.2 .3-1.6 .2-.7 -.4M87.3 94l-1 -.2-.1 -.4 .8 -.3 .9 .3M39.2 77.6l1 .1 .8 1.3 2.6 -.6 .2 -.6-.6 -.7-2.4 0-.6 -.4M89.6 91.7l-.9 -.3-.3 -.6 1.2 -.3 .9 .3M41.9 75.2l1.2 0 .8 1.3 2.2 -.4 .2 -.6-.5 -.6-2.5 .2-.5 -.1-.1 -.5M92 89.3l-1 -.3-.3 -.7 1.4 -.3 .8 .3M44.6 73l1.1 0 .3 .7 .6 .5 2.2 -.3 .1 -.6-.5 -.7-2.5 .2-.5 -.1 0 -.4M94.4 86.8l-.9 -.2-.3 -.7 1.2 -.3 .9 .4M47.1 70.8l1 .1 1 1.1 2.4 -.3 .2 -.5-.5 -1-2.5 .2-.6 -.4M96.9 84.3l-.9 -.2-.1 -.4 .7 -.3 .9 .3M49.5 68.8l1 .1 .9 1.2 .6 -.1 2.3 -.4 .2 -.2-.2 -1 .5 -.4 2.1 -.2 1.4 1.1 1.4 0 1.4 -.5-.1 -1.2 1.9 -.3 1 .1 1 1.1 2.3 -.2 .8 -.3-.2 -.6 0 -.6 1.6 -.3 .9 .2 .6 .7 0 .3-.4 .2-2.1 .5 .3 .7 .6 .5 2.3 -.2 .3 -.3-.3 -.9 .5 -.4 2.1 -.1 .7 .4 .5 1-2.6 .6 .3 .7 .5 .3 2.2 -.1 .2 -.5-.5 -1 2.4 -.3 .9 .2 .9 1.3-2.6 .7 .3 .7 .4 .3 2.3 -.1 .1 -.6-.5 -1 3 -.2 .6 .5 .4 .9-2.4 .7 .4 .9 .8 .3 2.2 -.2 .2 -.2-.4 -1.3 1.8 -.3 .9 .3 .5 .7-.1 .3-2.4 .7 .5 .8 .5 .6 .5 .1 2.3 -.1 .4 .2 .6 1-.5 .4-1.7 .4-.2 .2 .2 .7 .5 .6 .4 .1 2.4 -.1 .4 .3 .5 .9-.5 .5-2 .6 .4 1.2 .2 .3 .5 .1 2.5 -.1 .6 .7 0 .6-1.8 .4-.9 -.2-.7 -1.1-.4 -.1-2.5 .6 .1 .6 .5 .7 2.9 0 .7 1.2-.5 .5-2.5 .5-.6 -1.1-.7 -.5-1.3 .2-.9 .3 .1 .7 .4 .5 3 -.1 .6 1.1-.1 .6-2.9 .7-.6 -1.1-.8 -.5-1.2 .2-.9 .3 0 .5 .4 .7 3.1 -.1 .6 1.1-.2 .6-2.6 .5-1.1 -1.2-.5 -.2-1.4 .1-.9 .4 0 .7 .4 .7 3 0 .6 .8-.2 .6-1 .3-1.2 .1-1.1 -1.3-.5 -.2-1.9 .3-1 .4 .2 1.3-.2 .3-2.2 .4-.9 -.3-.8 -.9-.4 -.2-1.6 .1-1.1 .3 .1 1.4-.2 .3-2.2 .4-.9 -.3-.8 -1-.4 -.2-2.5 .2-.7 .2 .3 1.4-.8 .4M51.9 66.8l.9 .2 .5 .5-.1 .3-1.7 .3-.7 -.4M53.9 65.1l.7 -.1 .5 .2 0 .3-1.2 0-.1 -.4M72.4 64.6l0 .3-.4 .2-.9 0-.3 -.3 .6 -.4M76.8 65.9l-.4 .5-1.3 0-.3 -.5 .5 -.4M81.1 67.2l-.4 .4-1.4 .1-.4 -.6 .5 -.4M85.2 68.4l-.4 .4-1.2 .1-.4 -.5 .5 -.4M89.2 69.6l0 .2-.4 .2-.8 0-.4 -.3 .6 -.4M34.3 86.7l1 -.3 .4 .1 .1 .3-.9 .4-.5 -.1-.1 -.4M36.8 85l-.3 -.2 0 -.7 .8 -.4 1.2 -.1 .4 .1 .3 .7 .1 .3-.3 .2-1.2 .2zM71.8 96.2l-.5 -.9 .9 -.4 1.6 -.1 .6 .8-.3 .6-.5 .1-.9 .1zM32.9 83.3l-.1 -.4 .3 -.2 .6 -.1 .6 .5-.3 .2zM77.1 97.5l-.4 -.5 .3 -.2 .9 -.1 .3 .3-.2 .4zM44.4 86.1l1.8 -.2 .4 -.2 .1 -.6-.6 -.5-.5 -.1-1.7 .4 0 .6zM66.5 93.2l2 -.2 .5 -.1 .1 -.4-.3 -.4-.7 -.5-1.6 .1-.5 .5zM48.6 87.1l1.1 .3 .6 -.2 .6 -.4-.2 -.5-1 -.2-1.1 .3zM53.4 88.6l1.2 0 .5 -.5-.5 -.5-1 0-.6 .5zM57.8 90l1.2 0 .6 -.5-.6 -.5-1 0-.5 .5zM62.2 91.5l1.5 0 .5 -.5-.3 -.5-.4 -.2-1.2 .1-.5 .5zM79.4 95.2l-.7 -.6-.1 -.3 .3 -.3 1.3 -.2 .9 .3 .2 .7-.2 .2zM42.8 82.4l1.8 -.2 .4 -.2 .1 -.6-.6 -.5-.5 -.1-1.8 .3 .1 .7zM73.6 92.1l2.1 -.1 .4 -.2 .1 -.3-.6 -.8-1.4 -.1-.9 .3-.1 .7zM47.4 83.4l1.1 0 .6 -.4-.5 -.6-1.1 .1-.5 .5zM69.4 90.4l1.2 0 .6 -.5-.7 -.5-1 0-.4 .5zM52 84.6l.5 .1 .5 -.5-.9 -.2-.4 .3zM45.4 79.6l.9 .3 .7 -.1 .6 -.5-.6 -.6-1.1 0-.6 .2zM76.4 89.4l1.4 0 .6 -.4-.4 -.6-1 -.2-.9 .4 0 .5zM50.3 80.9l.6 0 .5 -.4-.9 -.2-.4 .1zM48.2 77.2l.8 .3 .9 -.2 .2 -.3-.2 -.3-.8 -.3-1 .3zM78.7 86.6l.8 .4 .6 0 .6 -.5-.3 -.5-.6 -.1-1.1 .3zM50.8 75l.8 .2 .9 -.2 .2 -.2-.1 -.4-.9 -.2-1 .3zM81.2 84.2l.7 .4 1.2 -.2 .1 -.3-.3 -.4-.7 -.2-1 .3zM53.6 73l1.6 -.2 .1 -.5-.4 -.4-1.4 .1-.4 .5zM83.8 82.2l1.4 0 .6 -.4-.4 -.6-1.1 -.1-.8 .3 0 .5zM79.7 80.6l1 0 .1 -.3-.5 -.3-.4 0-.4 .2zM55.7 70.7l.8 .3 1 -.1 .4 -.2 .3 -.5-.6 -.7-2 .2-.3 .2zM85.8 79.7l.3 .3 1.1 .1 1.2 -.2 .2 -.3-.6 -.9-1 -.1-1.4 .4zM60.2 71.8l.8 .2 1 -.4-.1 -.4-.9 -.2-1 .3zM77.8 77l.9 -.1 .2 -.2-.5 -.3-.5 0-.4 .2zM81.6 78.2l.8 .3 1 -.1 .2 -.3-.2 -.4-.9 -.2-.9 .3zM93.5 80.7l-.3 -.6 0 -.3 .4 -.2 1.6 0 .6 .7-.5 .4-.6 .2zM62.4 69.8l.8 .2 1 -.1 .5 -.1 .2 -.5-.6 -.7-1.4 .1-.8 .3zM83.8 76.1l1.4 .4 1.1 -.2 .2 -.3-.5 -.9-1 -.1-1.4 .4zM66.8 70.9l.3 .2 1.1 0 .4 -.1 .3 -.5-.6 -.5-.9 0-.8 .4zM71.1 72.1l1.2 .2 .5 -.1 .2 -.3-.2 -.4-.9 -.2-.9 .4zM75.4 73.3l.8 .4 1.1 -.4-.2 -.5-.9 -.2-.9 .4zM79.6 74.7l.8 .3 .7 0 .7 -.4-.3 -.6-1 -.2-1 .4zM57.6 67.2l-.4 -.8 .7 -.4 1.2 -.1 .7 .3 .2 .5-.5 .4-1.9 .1M91.7 77.4l-.6 -.6-.1 -.6 1.6 -.3 .9 .3 .3 .3-.1 .5-.3 .2-1.7 .2M96.2 78.1l0 -.4 .4 -.2 1 .3-.5 .5zM64 65.9l.1 -.6 .9 -.3 1 .2 .4 .5-.1 .3-1 .3-1 -.1-.3 -.3M89.4 73.5l-.3 -.5 .5 -.4 1.4 -.1 .7 .7-.1 .2-.9 .3-1 0zM60.5 64.7l0 -.5 .7 -.1 .5 .2-.1 .3-.4 .2-.7 -.1M94.1 74.5l0 -.3 .5 -.2 .9 .3-.1 .2-.4 .2z"/>
<path fill="none" stroke="#982d80" stroke-width="1.8" stroke-linecap="round" d="M65.3 72.8h0m-6.8 .9h0m14.2 13.8h0m-7.1 1h0"/>
<path fill="none" stroke="#982d80" stroke-width="1.2" stroke-linecap="round" d="M69.5 74.1h0m4.3 1.3h0m-17.9 .6h0m-2.6 2.3h0m24.4 4.4h0m-2.5 2.3h0m-18.4 .7h0m4.4 1.4h0"/>
<path fill="none" stroke="#982d80" stroke-width=".6" stroke-linecap="round" d="M92.7 70.9h0m6.3 10.7h0"/>
<path fill="none" stroke="#d3436e" stroke-width=".5" d="M33.3 86.7l.3 -.6 2.1 -.6 0 -.6-.6 -.9-2.4 0-.7 -.4M73.6 99.7l0 -.3 .2 -.3 1.9 -.1 .3 .2 .1 .7-.7 .4M30.7 84.7l1 .1 .3 .5-.2 .6-.6 .1M82.2 99.2l-1 -.3-.3 -.6 1.3 -.4 .9 .4M84.4 96.9l-1 -.2-.7 -1.1-.5 -.1-3 .6 .1 1.4-.2 .2-1.3 .4-1.3 0-1.2 -1.2-.5 -.2-1.6 .2-1.1 .3 .1 1.4-.8 .4M86.7 94.6l-1 -.2-.8 -1-.5 -.1-1.2 .1-1 .3 0 .6 .3 .8 .5 .2 2 -.2 .9 .3M98.8 82.4l-1 -.2-.7 -1-.4 -.2-1.6 .3-.7 .4 .1 .6 .4 .5 2.8 .1 .3 .2M101.4 79.8l-1 -.2-.2 -.7 1.1 -.2 .9 .3M54.6 64.5l1 .1 1.1 1 1.1 0 1.4 -.3 .2 -.2 0 -1.2 1 -.2 1.7 0 1.1 1 2.9 -.2 .2 -.2-.2 -.9 .5 -.4M56.8 62.7l.9 .1 .4 .5 0 .2-1.6 .3-.7 -.3M64.4 62.3l-.4 .5-1.3 0-.3 -.5 .6 -.4M69.1 63.7l-.1 .3-.3 .1-2.1 .6 1 1 2.1 -.1 .3 -.3-.2 -.8 .5 -.4M90.3 69.9l0 .3-2.2 .7 .1 .5 .6 .6 2.6 -.1 .2 -.2-.5 -1 0 -.3 .5 -.1M94.2 71l-.4 .5-2 .6 1.1 1.4 2.7 0 .7 .5 .1 .9-2.1 .8 .7 1.2 2.8 .2 .6 .5 .1 .8-2.2 .8 .4 1.2 .2 .3 .5 .2 1.9 -.2 .9 .3M98 72.1l-.3 .5-1.2 .1-.6 -.6 .6 -.4M37.3 87.1l1.8 -.2 .4 -.2 .1 -.5-.2 -.3-.9 -.3-1.6 .3-.1 .6zM68.4 97.1l2.1 -.1 .4 -.2 0 -.3-.2 -.5-.7 -.4-1.5 .1-.5 .5zM42 88.2l1 0 .4 -.2 .1 -.3-.4 -.4-.9 0-.6 .4zM64.2 95.3l1.2 .1 .4 -.5-.6 -.5-.8 0-.5 .5zM35.9 83.3l1.6 -.1 .6 -.5-.1 -.4-.5 -.4-.5 -.1-1.7 .3 0 .7zM75.6 96l2.1 0 .4 -.2 .1 -.4-.3 -.5-.8 -.4-1.3 .1-.6 .6zM40.3 84.1l.8 .3 .6 -.2 .1 -.3-.4 -.3-.6 -.1-.5 .2zM71.5 94.1l.8 .1 .5 -.1 0 -.4-.6 -.3-.4 0-.5 .2zM38.6 80.5l.9 .2 .7 -.2 .2 -.3-.4 -.4-1 0-.4 .2zM78.2 92.9l.8 .4 .6 0 .6 -.5-.8 -.6-.7 .1-.4 .2zM85 92.1l.3 .3 1.1 .1 1.4 -.3 .1 -.3-.7 -.8-1.1 -.2-1.1 .4zM87.9 89.8l1.6 .1 .5 -.2 .1 -.3-.5 -.7-1.1 -.1-.9 .3 0 .6zM90.3 87.3l1.6 .1 .5 -.1 .2 -.3-.6 -.7-1 -.2-1 .4 0 .6zM92.7 85l1.8 .1 .5 -.2 .2 -.2-.7 -.9-1.1 -.1-1.1 .4 .1 .6zM51.8 69.2l1 .2 .5 -.1 .2 -.5-.8 -.3-.7 .1-.3 .2zM90.8 81.1l.9 .1 .7 -.4-.3 -.5-1 -.1-.5 .3zM54.1 67.3l.9 .2 .8 -.1 .6 -.4 0 -.3-.4 -.5-2 .1-.3 .2zM93 79l1.6 0 .7 -.4-.5 -.9-1.1 -.1-1.2 .5 .1 .6zM58.9 68.4l.9 -.1 .2 -.3-.3 -.3-.8 .1-.3 .2zM88.9 77.3l1.1 0 .2 -.2-.6 -.5-.7 .1-.3 .2zM60.8 66.3l.8 .3 .8 -.1 .4 -.1 .3 -.5-.5 -.7-1.4 .1-.8 .3zM90.9 75.4l1.5 0 .8 -.3-.5 -.9-1 -.2-1.3 .5 0 .3zM65.2 67.4l.8 .2 .9 -.3-.1 -.4-.9 -.2-.8 .3zM86.8 73.9l1.1 0 .4 -.4-.2 -.3-1 -.2-.7 .4zM98.2 76.1l-.3 -.5 .5 -.5 1.3 0 .6 .6-.4 .5-.6 .1-1.1 -.2M71.9 66.8l1.8 -.1 .2 -.2 0 -.4-.5 -.6-1.9 .3-.2 .5zM84.6 70.6l1.9 -.1 .2 -.5-.3 -.6-.4 -.2-1.3 .2-.7 .4 .1 .3zM75.8 67.8l1.5 .3 .5 -.2 .2 -.5-.6 -.5-1.1 0-.7 .4zM80.1 69l.8 .3 .6 0 .5 -.1 .3 -.5-.6 -.6-1.1 .1-.7 .3z"/>
<path fill="none" stroke="#d3436e" stroke-width="1" stroke-linecap="round" d="M36.6 87.8h0"/>
<path fill="none" stroke="#d3436e" stroke-width="1.2" stroke-linecap="round" d="M67.9 97.9h0"/>
<path fill="none" stroke="#d3436e" stroke-width=".8" stroke-linecap="round" d="M73.9 65.1h0m-21.2 1h0m33.9 2.7h0m-12.3 .9h0m-26.9 3.7h0m-2.6 2.3h0m-10.6 6.1h0m52.3 3.6h0m-2.4 2.4h0m-32.7 2.7h0m4.4 1.5h0"/>
<path fill="none" stroke="#d3436e" stroke-width=".6" stroke-linecap="round" d="M78.6 70.9h0m17.4 14.3h0m-7.2 7.3h0"/>
<path fill="none" stroke="#d3436e" stroke-width="1.6" stroke-linecap="round" d="M70.2 68.4h0m-20.1 2.8h0m32.9 1h0m-40.9 5.7h0m47 5.1h0m-42.1 6.1h0m34.7 1.2h0m-21.4 3.1h0"/>
<path fill="none" stroke="#f8765c" stroke-width=".5" d="M77.9 101.1l-.3 -.4 .3 -.3 2.1 -.3 .6 .1 .3 .3M81.5 99.8l-.6 0-1.2 -1.2-1.5 -.1-1 .3-.1 .6 .2 .9-.2 .2-.7 .1M103.3 77.8l-.9 -.2-.6 -1.1-.4 -.2-2.3 .8 .2 .6 .3 .4 2.8 .1 .3 .2M57.3 62.2l1.1 .1 1 1 1 0 1.1 -.4 0 -1.2 .5 -.1M60.9 61.3l0 .3-.4 .1-1.8 .3-.5 -.1-.1 -.3M99.1 72.4l0 .4-2.2 .7 .1 .4 .5 .6 2.8 0 .2 -.2-.8 -1.1 .1 -.3 .5 -.1M102.8 73.5l-.4 .5-1.8 .3-.3 .2 1.1 1.8 2.4 -.1 .8 .3M33.1 85.2l.9 .2 .7 -.2 .1 -.3-.4 -.4-.8 0-.4 .2zM73.1 97.9l.2 .3 .5 .2 1.1 -.3 0 -.3-.7 -.5-.5 .1zM80.5 97.2l1.3 .1 .5 -.2 .1 -.3-.4 -.5-.5 -.1-.8 0-.5 .5zM97.6 80.1l1 .1 .8 -.4-.4 -.5-1.1 -.1-.6 .3zM56.9 64.9l.8 .2 .5 -.1 .2 -.5-.3 -.2-1 .1-.3 .2zM95.5 76.4l1.1 .1 .4 -.3-.2 -.4-1.1 -.1-.4 .3zM63.4 64.1l1 .2 .6 -.1 .2 -.5-.4 -.4-.8 0-.8 .4zM93.4 72.9l1.4 0 .2 -.4-.6 -.5-.6 0-.7 .4z"/>
<path fill="none" stroke="#f8765c" stroke-width="1.6" stroke-linecap="round" d="M105.6 74.7h0"/>
<path fill="none" stroke="#f8765c" stroke-width=".8" stroke-linecap="round" d="M106.3 74.6h0"/>
<path fill="none" stroke="#f8765c" stroke-width="1.2" stroke-linecap="round" d="M68.4 65h0m15.4 29.2h0"/>
<path fill="none" stroke="#f8765c" stroke-width="1.4" stroke-linecap="round" d="M89.7 71.3h0m6.2 10.7h0"/>
<path fill="none" stroke="#febb81" stroke-width=".5" d="M101.8 75.4l.3 .2 1 .2 1.1 -.4-.5 -.8-.4 -.2-1.4 .3-.2 .2z"/>
<path fill="none" stroke="#febb81" stroke-width="1" stroke-linecap="round" d="M78.7 99.3h0"/>
<path fill="none" stroke="#febb81" stroke-width=".8" stroke-linecap="round" d="M60.1 62.6h0"/>
<text x="68.4" y="8.4" font-size="8.45" text-anchor="middle">landscape of benchmark functions</text>
<text x="32.9" y="37.8" font-size="8.45" text-anchor="middle">F13(x1,x2)</text>
<path fill="#ac3d76" d="M82.6 78.2l1.2 -.9 .1 -.6 .2 -.3 .1 -.3 .3 1.4 1.2 -.9 .6 -.5 .2 -1.4 .2 .8 .2 -.1 .1 .2 1.1 -.8 .6 -.8 .2 -.9 .3 1.3 .6 -.6 .2 -1.2 .6 -.5 .6 -1 .1 -.4 .4 1.9 .6 -.8 .3 -2.8 .4 -.3 .6 -1.1 .5 2.3 .6 -1 .5 -4.2 .3 -.2 .4 -1.1 .6 3.1 .7 -1.2 .6 -5.7 .1 -.1 .3 -.9 .8 3.6 .6 -1.3 .8 -7.1 .2 -.5 .8 3.9 .6 -1.5 .9 -7.3 .2 -.6 .8 3.6 .6 -1.7 .8 -7.5 .4 -.8 .6 3.4-.4 -4.1-.9 -5.1-1.2 .7-.6 1.5-.9 4.4-1 .5-.2 .5-.9 -4.4-1.1 .4-.6 1.5-1 4.5-.9 .4-.1 .2-.9 -4.8-1.1 .2-.6 1.5-1 4.7-.9 .2-.9 -5.2-1.1 0-.7 1.5-.9 4.5-.8 .2-1 -5.6-1.1 -.2-.6 1.4-.9 4.3-.8 .1-1 -5.9-1.1 -.4-.6 1.5-.8 4-.8 -.1-1 -6.1-1.1 -.5-.6 1.4-.8 3.7-.8 -.2-1.1 -6.2-1 -.8-.6 1.4-.8 3.5-.8 -.4-1 -6.4-1.1 -1-.6 1.5-.7 3.2-.8 -.5-1.1 -6.7-1.1 -1.2-.6 1.5-.7 3-.8 -.7-1.1 -6.8-1 -1.4-.7 1.4-.6 2.8-.8 -.8-.6 1.4-.2 2-.3 .5-.6 3-.8 -.8-.6 1.2-.1 1.2-.4 .6-.7 3.1-.7 -.8-.6 1-.1 .4-.4 .7-.7 3.2-.7 -.8-.5 .6-.1 -.1-.6 .7-.8 3.3-.6 -.7-.2 .2-.4 -.5-.7 .5-.7 3.5-.1 -.1-.1 -.2-1.1 -1.4-.7 .2-.7 3.6-.2 -1-1.1 -1.4-.7 .1-.7 3.4-.3 -1.4-1.1 -1.5-.7 -.1-.7 3.3-.4 -1.9-1.1 -1.4-.8 -.4-.6 3.2-.4 -2.4-1.2 -1.5-.8 -.6-.8 4.5-.4 -.4-.8 -.6-.5 5.5-.8 -.3 1.2 1.2 .7 .3 .6 -3.2 .6 3.3 1 1 .5 2.6 1.1 1 .7 .2 .6 -2.8 .5 3.1 1.2 1 .4 1.8 1.1 .8 .7 .3 .5 -2.4 .1 .1 .5 2.7 1.1 .8 .2 0 .2 1.3 1.2 .5 .7 .3 .3 -1.7 .2 .2 .1 0 .4 2.1 1.1 .6 .4 0 .1 .7 1.9 .6 .1 -.9 .3 .2 .3 -.1 .3 1.6 1.1 .4 .5 0 0 .1 .7 .2 1.1 .2 .1 -.1 .3 .1 .4 -.1 .2 1.1 1.8 .2 .1 -.4 .5 .1 .2 0 .2 .6 1.1 .2 .5 -.1 .1 .5 .7 0 1.1 0 .1 -.7 .1 0 .4 -.2 .3 1.4 1.1 0 .7 -.2 0 -.1 .7 .1 1.2 -.1 .6 -.3 .2 .9 1.7 -.4 .2 -.7 .5 0 .2 .8 1.1 -.2 .6 -.4 .1 -.2 .1 .5 .6 -.1 1.2 -.5 .1 -.5 .4 -.4 .3 1.3 1.1 -.5 .7 -.4 .1 -.7 .1 .5 .5 -.2 0 .2 1.2 -.5 .6 -.5 0 -.3 .2 1 1.8 -1 .3 -1.3 0 .3 .3 -.1 .2 1 1.1 -.6 .6 -.6 .2 -.8 .2 .9z"/>
<path fill="#a8387e" d="M47.3 51.3l.7 .9 0 .2 .1 -.6-.6 -.7zM46.2 51.3l-.4 5.6 .1 1 .9 1.1 .5 -6.3zM43.1 59.8l.2 .3 0 -.3 .8 1.1 .5 -6.2-1.1 -1.4-.4 5.3-.5 -2.7-.7 .1 .7 3.7zM48.6 57.7l-.7 .2 1.1 1.2 .7 -.2zM45.9 59.2l-.7 0 1.1 1.2 .7 0zM42.4 59.7l-.6 2.9 1.2 1.1 .2 .9 .3 -3.7zM35.7 62.9l-.1 -1.2-.5 0 .2 .8zM48.7 64.7l-1.2 -1-.7 -.1 1.2 1zM44.1 69.5l.5 .4 .5 -5.6-1.1 -1.1-.5 3zM39.6 65.6l.1 .6 .4 0zM37.3 69.7l-.9 -5.1-.4 -.5-.3 1.2 .5 3.4zM49.2 66.7l-.7 -.4 1.8 1.2zM33.3 67.2l1.1 1 0 -.4-.4 -.3zM36.4 64.6l1.4 6.9 .7 .3-1.3 -6.9zM42.3 63.1l-.6 5.5 1.3 6.7 .5 -5.4zM46.8 66.1l1.2 6.5 .7 .5-1.2 -6.5zM49.6 73l.6 -5.5-1 5.4zM45.1 70.7l-.8 -.2 1.2 .8 .7 .3zM40.2 69.6l-.1 .3 .6 3.1zM49.9 73.4l-.7 -.4 .7 .5zM58.7 44.4l.2 -.5 .9 1-.1 -.5-1 -.8zM52.1 44l.9 1.2 0 -.3-1 -1.1-.1 .4zM56.9 47.7l-.7 1 .2 -.2 .9 1 .4 -1.8-.6 -3.9-.6 1.4zM61.3 48l.6 3.8-.2 1.4 .5 -.7 .4 -3.8 .3 -.6 .1 -.5-1.1 -6.3zM54.5 48.7l.6 3.6 .7 -2.9 .4 -.7-1.1 -6.6zM61.3 48l-1 -1 .4 2.4zM51.2 48.2l-1.2 1.6 1 5.8-.4 .3 1.1 1.2 .6 -.5-1.1 -1.2 .6 .6-.8 -4.8zM55.8 49.4l-.8 4.4 .5 -.9zM56.8 50.6l.3 2.5 .2 .3zM60.7 52.3l-.6 .8 1.1 1 .6 -.9zM53.8 52.4l-.6 .6 1.1 1.2 .6 -.7zM54.6 69.5l-.9 4.9 .4 .1 .6 -5.5-.1 .5-1.6 -.9zM58.2 70.4l.8 .3-1.5 -.6zM52 68.7l-.7 -.4 1.2 6.2 .7 .5zM57.7 76l-1.2 -6.1-.6 -.2 1.1 5.8zM54.4 74.7l-.7 -.3-.1 .2 .8 .5zM58.6 75.2l0 -.2-.7 -.1zM62.7 75.5l-.6 5.5 1 -5.2zM63.6 46.4l.8 .5 .1 -.5-.7 -4.1-.6 1.6zM75.1 47.7l.3 .1 .2 1.1 .3 -3.9-.2 1.3zM71.4 47.8l.4 2.1 .5 -1.4zM77.2 43.9l-.6 6.4 .6 3.6-.1 .4-.9 -.3-.6 1.1 1.1 .3 .8 -1.4 .5 -4.2 .3 -.7-.7 -3.9-.3 -.1zM71.5 53.3l.6 -1.1-1 -6.3-.6 1.3zM69.4 46.4l-.6 6.3 .2 .9 .8 .6 .7 -7zM71.8 52.7l-.6 1 1.1 .6 .9 -1.8 .5 -4-1 4.7zM63.7 49.7l.2 2.3 .2 .3zM76.2 54l.1 .1 .1 -.2-1 -6.1-.6 1.3 1 5.6zM68.6 51.3l-1.1 -.7-.6 1 1.1 .8zM72.1 71.7l.2 -.1 .3 -1.5-.1 -.5-.2 .1zM62 70.7l.7 .3 .8 .2-.4 -.3zM68.1 70.8l-.3 0 .1 .7zM66 80l.7 .3 .8 -6.5-.3 -.1 .2 -.1 .3 -2.8-.5 0-.6 -.3-.3 2.4 .4 2 .3 -.1zM73.3 79.8l-.6 -6.3-.5 .3-.4 2.6 .4 4.1 .6 -.4 0 .4 .1 -.4zM68.4 73.8l-.1 .1-.3 1.3 .7 6.2 .6 -3.3zM76.6 76.9l-.4 -1.6-.1 .8-.6 .4 .4 3.9zM74.4 76.8l-.3 -.9-.8 3.9 .7 0zM79.9 50l.4 -3.6-.3 1.4-.5 1 .2 .1zM81.5 45.2l-.6 6.2 .6 3.3-.8 -.2-1 -5.6-.6 1.3 1 5.2 .5 -.9-.6 1.1 1.1 .2 .6 -1.1-.2 0 .9 -4.4 .2 -.3-.6 -3.5-.3 -.1zM84.6 51.6l.2 1.4 .5 -1.3zM82.4 50.3l-.5 5.6 .3 1.6 .6 .1 .7 -7.1zM91.2 55.9l.1 .5 .5 -.6zM86.9 58.2l-.8 -4-.6 1.1 .8 4.2 .2 -.8zM92.8 60.4l.1 -.6-.7 -3.4-.4 3.7 .8 -.4zM83.7 58.9l-1.1 .1-.7 .8 1.2 0zM88.7 60.4l-.5 -2.8-.6 .9 .7 3.6 .3 -1.5zM84.6 61.8l-.6 .7 1.1 -.2 .6 -.7zM88.3 63l.3 -2.4-.6 2.8 .1 .6-.2 1.1zM86 64.3l1.2 -.6 .1 -.5-1.2 .4zM83.2 64.8l-.5 .1 0 .3zM93.5 64.2l.1 .6 .5 5.1 .6 -1-1 -5zM90.6 67.5l-.3 2 .3 2.6 .5 -2.4zM88.7 68.8l.5 5.6 .6 -.6zM88.1 69.4l-.3 1.9 .3 3.5 .6 -2.8zM88.9 72.9l-.2 1.1 .2 -.9zM86.5 74.7l0 -.3-.2 1.7zM80.1 71.9l-.4 1.9-.3 -.1-.3 1.5 .3 3.6 1.2 -.9zM81.7 75.5l-.2 .9 .5 2.2z"/>
<path fill="#9a2a7e" d="M52.5 46.6l-.5 6.3 .5 3.2-.1 .8 .1 .5 .4 -.4 .3 -4 .4 -.4zM52 52.9l-1 -1.2 .4 2.2zM48.2 57.8l.4 -.1 .4 .4-.6 -3.7 .2 -2.1-.5 .4-.1 -.5-.7 .5zM45.4 59.2l.5 0 .3 .3-.4 -2.6 .1 -1.6-.4 .3-.2 -1.1-.7 .2zM43.2 57.6l-.3 .1 .2 .9zM38.7 60.9l.2 1.5 .7 -3-.5 -3zM44.7 63.6l.1 0 .4 -4.4-.7 3.4zM44 63.2l.7 .4-.5 -2.5-.7 -.2 .5 2.5zM40.7 60.6l-.6 5.6 .1 .6 .8 -4.3zM45.6 65.2l.4 .3-.1 -.9-.8 -.3 .4 1.7zM39 66.3l-.5 5.5 .4 .3 .9 -4.8 .3 .1 .1 -.3zM48.5 66.3l-.4 3.6 .5 2.6 .4 .3 .6 -5.6zM40.1 67.6l-.3 -.3-.9 5 .7 .3zM44.2 70.2l.4 .4 .1 -.2zM41.8 73.8l.1 -.5-.7 -3.7zM48 72.6l-1.2 -6.5-.6 5.5 1.2 6.4zM48.6 78.4l.9 -5.2-.3 -.2 1.5 .7-1.9 -.9 .4 .2zM54 74.9l-.4 -.3-.6 5.5zM70 45.2l.6 .4 0 -.2-.9 -.4-.1 .9zM70.8 45.7l0 -.2-.2 -.1 0 .2zM57.8 51.4l.3 -3.4-.2 .6-.6 1 .2 .1zM66.3 46.5l-.2 -1.5-.5 6.5 .6 3.6 .7 -3.5 .3 -.7-.7 -4.2zM67.3 50.9l.2 -.3 .9 .6 .2 -1.2-.7 -.3zM65 55.2l.2 .1 .2 -.3-1.1 -6.4-.6 1.1 1 5.9zM62.6 48.7l-.5 6.2 .1 .8 .9 .8 .6 -6.8zM57.9 56.4l.3 -.3 .3 .4 .1 -.2-1.1 -6.6-.7 .9zM56.8 50.6l-1 -1.2-.5 6.1 .1 .8 .9 .9zM68 52.4l-.1 .8 .2 1.7 .4 .3zM66.3 72.9l.3 -2.4-.4 1.9zM62.5 74.7l.2 0 .4 -3.6-1.1 -.4-.3 2.7 .5 2.2 .1 0 .1 0zM57 75.5l-1.1 -5.8-.1 0-.6 5.2 1.2 6.1zM61.6 75.8l-1.1 -5.6-.1 0-.6 5.2 1.2 5.9zM62.2 75.6l.1 .6 .1 -.6zM63.4 76l-.3 -.2-.1 .3zM64.4 75l-.8 0-.2 1 .7 6.2 .5 -2.8 .3 1.1 .6 .2zM62.1 81l.8 -6.1-.4 -.2-1.1 6.1zM66.8 75.6l-.6 -.4-.7 5.5 1.2 -.4-.7 -.3zM58.2 75.5l-.6 5.5 .9 -5.3zM67.6 81.9l-.5 -4-.2 1zM72.9 80.1l-.1 .4 1.2 -.7-.7 0zM69.6 79.1l-.2 2.4 .4 -2.3zM75.7 49.9l.4 1.9 .5 -1.5zM80.9 51.4l-.8 -.2 .3 1.6zM89.4 53.3l.6 -.3-.3 -1.8-.4 1.2zM74.8 49.1l-1.1 -.6-.6 6 .2 1.2 .8 .4zM78 49.8l-.5 5.8 .2 1.4 .8 .3 .6 -7.1zM88.2 57.6l.6 -3-.8 -4.6-.7 7.1 .1 .7zM86.3 55.3l.2 -2-.3 1.4zM89.4 59.8l1 -.3 0 .4 .4 -1.9-.7 -4zM84.3 62.2l.6 -.4 .6 -6.5-1.1 0-.7 3.6 .2 1 .1 -.8-.1 1.1zM86.5 58.7l-.7 3.3 .3 1.6 1 -.6 .5 -4.5zM89.5 62.4l.6 -.3 .1 .4-.5 -2.3zM85.1 62.3l.6 2.8 .4 -1.5-.4 -2zM95.4 63.4l-.2 1.3 .3 -.2zM93.6 67.6l-.2 -.9-.4 2zM83.8 74.1l-.6 3.6 .6 -.4 .3 -2.3zM84.3 75.7l-.2 -.3 .4 2.1zM79.1 77.1l-.2 -.8-.2 1.1-.5 .3 .3 2.4zM80.1 78.3l0 .3 1.2 -.8-.7 .1zM80 78.4l-.6 .4 .7 -.2zM74.4 77.6l-.2 .9 .6 2.6z"/>
<path fill="#d24670" d="M54.4 39.9l.3 -.5 .8 1.1 0 -.7-1 -1.1zM58.7 43.6l1.1 .9 .4 -2.1-.7 -4.3-.6 1.6 .5 2.6zM57.6 36.8l-.5 7 .6 3.9 .6 -2.7 .4 -.6 0 -.8zM57.1 43.8l-1.1 -1.4 .5 2.8zM52.6 42.8l-.6 1 1 1.1 .3 -1.3zM55.7 40.8l-.6 1.1 1.1 6.8 .7 -1zM50.6 49.2l-1.1 -1.4-.6 .7 1.1 1.3 .6 -.6 .6 -1 .3 -3.3zM42.6 55.9l-1.1 -1.4-.7 .1 1.1 1.4zM37.3 58.7l.3 .3 .4 -4-.7 3.3zM36.6 58.1l.7 .6-.4 -2.3-.7 -.4zM35.6 61.7l-.6 -.8 .1 .8zM32.8 64.6l-.9 -4.6-.5 -.6-.2 .9 .6 3.3zM35.3 62.5l-.8 -.5 1.2 1zM28.7 62l1.2 1.2 0 -.4-.4 -.5zM37.7 59.4l1.3 6.9 .8 .6-1.3 -7zM36.1 63.3l-.4 -.3-.1 .5 .4 .2zM32.7 60.3l-.8 -.3 1.4 7.2 .7 .3zM35.7 65.4l0 .2 .5 3.1-.5 -3.4 .3 -1.2 .4 .5 .8 .3-1.2 -1.2-.7 -.3 .3 .3-.5 4.7zM41.1 62.1l-.5 5.5 1.1 1 .6 -5.5zM62.2 38.5l-1 -.9-.1 1.7 .3 -.7 .8 .8zM66.5 43l.3 .2 .2 1.3 .4 -4.7zM63.6 46.4l-.4 -2.5 .6 -1.6-1.1 -1.1 .1 .2-.3 -1.6-.6 1.2 1.1 6.6zM61.9 41l-1.1 -1.2-.5 6.8 0 .4 1 1zM72.9 41.2l-1 -.8-.6 6.7 .1 .7 .9 .7zM77.9 41.6l-.7 1.5 1.1 6 .6 -1.4zM70.6 45.4l0 .2-.6 -.4-.6 1.2 1.1 .8 .6 -1.3-.5 -.3zM66.2 44.5l.1 2 .2 .2zM77.2 67.6l-.2 .1-.1 1.1 .2 -.1zM75.6 68.9l.1 .3 .2 -1.7zM61.1 70.4l-.7 -.6-1.1 -.2 .7 .5zM65 69.9l-.5 0-.6 -.5-.7 5.6 1.2 0zM72.3 73.2l-.1 .6 .5 -.3zM70.7 78.4l.7 .2 .8 -6.7-.3 -.2-.3 1.5-.2 .2 .1 .6 0 -.3zM67.8 73.9l.1 -.4-.7 .2zM69.8 68.7l-.2 .1-.6 4.9 1.2 5.6 .7 -5.6zM77.6 77.7l-.1 .1 .6 -.5-.6 -6.3-.5 .4-.5 2.6 .4 4.2 .5 -.4 .1 .5zM74.1 75.9l-.9 -4.1-.2 .1-.3 1.6 .6 6.3zM79.5 48.8l.5 -1 .3 -1.4 .2 -2.6zM82.4 50.3l1.1 .2 .6 -1.3-1.1 -.2-.2 .4 .4 -.8-1 -5.9-.6 1.4 1 5.9zM86 44.4l-1.1 -.2-.6 6 .3 1.4 .7 .1zM90 53l.6 -.1 .8 -4-.5 -2.4-.5 0-.1 -1.1-.6 5.8zM94.2 49.9l-.6 .1 .2 1zM95.4 51.4l.1 .3 .1 -1.3zM92.5 48.6l-1.1 .2-.5 5.1 .3 2 .6 -.1zM92.8 55.5l-.6 .9 .7 3.4 .4 -2-.3 -1.2 .5 -4.4-.7 3.4 .1 .5zM98.2 58.6l0 -.4-.3 1.3zM92.8 60.4l.1 .7 .4 -3.3zM89.2 59.9l-.6 .7 1.1 -.4 .7 -.7zM96.5 66.5l-.4 -5-.6 .7-.1 1.2 .1 1.1 .3 -1.7zM92 60.2l-1.2 .6-.3 3 .6 3zM85.5 66.2l0 .4 .3 -2.2zM88.1 68.9l-1.1 -4.9-.7 6 1 5.1zM86.2 69.6l-.6 0 1.1 5.9zM79.2 73.6l-.3 -.8-.8 4.5 .6 .1zM81.3 77.8l.5 -2.7-.2 -.2z"/>
<path fill="#c43870" d="M60.3 46.6l.3 -4.2-.2 .8-.6 1.3zM53.8 43.4l-.1 .5-.7 1 .5 2.3zM57.3 49.5l-.9 -1-.6 .9 1 1.2 .7 -.9-.2 -.1 .6 -1 .2 -.6 .2 -3zM59.4 46.2l.2 2.2 .2 .1zM52 52.9l.5 -6.3 .5 2.2-.5 -2.6-1 -1.3-.5 6.3 0 .5zM48.6 52.3l.3 -3.8-.9 3.9 .1 .3zM48 52.2l-1.1 -1.4-.7 .5 1.1 1.4zM45.3 54.5l-1.1 -1.4-.7 .2 1.1 1.4zM40.4 59l.4 -4.4-.7 3.4 .1 1zM36.2 56l-.6 5.7 .2 .7 .8 -4.2zM44.2 61.1l-1.1 -1.3-.7 -.1 1.1 1.2zM40.7 60.6l-1.2 -1.3-.6 3.1 .7 3.2 .5 .6zM44.7 63.6l-.7 -.4 1.1 1.1 .8 .3zM37.2 64.9l1.3 6.9 .5 -5.5-1.3 -6.9zM35.6 63.7l-.3 -.3-.9 4.8 .7 .2zM43 63.7l-.7 -.6 1.2 6.8 .8 .5zM52 68.7l-.7 -.6-1.1 -.6 .7 .5zM46.8 66.1l-1.2 -.9-.5 5.5 1.1 .9zM37.3 69.7l.1 -.2-.3 -1.2zM56.5 69.9l-.7 -.5-1.1 -.4 .7 .5zM60.4 70.2l-.4 -.1-.7 -.5-.7 5.6 1.2 .2zM68 45.8l.7 3.9 .9 -3.8 .1 -.9-1.1 -6.1zM70.3 43.5l-.6 1.5 1.1 .5 .3 -1.6zM66.8 43.2l-.6 1.3 1 6.4 .7 -1.2zM75.4 47.8l-1.1 -.5-.6 1.2 1.1 .6zM64.3 48.6l-1.1 -.9-.6 1 1.1 1zM79.7 48.9l-1 -.4-.7 1.3 1.1 .4zM83.5 50.5l-.1 1.4 .2 1.4 .4 .1zM72.7 69.6l-.2 0 .1 .5zM67.2 70.8l.9 0 0 -.1-.4 -.2-1.1 0zM71.6 73.2l.3 -1.5 .2 0 .2 -2-.4 .1-.7 -.4-.2 2.1 .4 1.9zM62.9 74.7l.3 0 .7 -5.3zM66.8 75.6l-1.1 -5.7-.6 0 1.1 5.3zM84.8 75.5l-1.1 -5.1 .5 5.3zM83.2 77.7l.6 -3.6-.7 -3.4-.3 .2-.2 1.3zM63.4 76l.2 -1-.7 -.1-.2 .6zM70.7 78.4l.7 -4.2-.5 -.5-.7 5.6 1.2 -.7zM69 73.7l-.6 .1 1.1 5.3 .7 .2zM79.4 78.8l-.3 -3.6-.2 1.1zM67.7 74.9l-.3 -.2-.7 5.6zM77.6 77.7l-.1 .6 1.2 -.9-.6 -.1zM74.5 76.9l-.1 -.1-.4 3zM89.1 46.7l-.5 2 .2 .9zM88.3 48.7l.1 -.3-.8 .3zM93.9 51.5l.2 -.4 .3 -.1-.2 -1.1-.4 1.1zM89.4 53.3l-.8 -4.6-.6 1.3 .8 4.6zM91.8 55.9l1 -.3 .6 -2.6-.9 -4.4zM86 54.2l.1 0 .1 .5 .7 -4.7zM94.1 57l1 -.5 .1 .4 .2 -1.3-.7 -3.8zM86.1 54.2l-1.1 0-.6 1.1 1.1 0zM91.1 56.8l.2 -.4-.6 -3.5-.6 1.1 .7 4zM88.2 57.6l-1.1 .3-.6 .8 1.1 -.2zM91.8 60.1l.4 -3.7-1.1 .4-.5 4 .1 .5 .1 -.5zM95.9 60.5l0 .2 .2 -.4zM90.3 63.2l.4 -1.9-.3 -1.8-.7 .7zM94.5 57.2l-.8 6.7 1 5 .8 -6.7zM87.9 62.7l-1.2 .4-.6 .5 1.2 -.4zM92 60.2l-.8 6.6 1.1 5 .7 -6.5zM94.1 69.9l-.5 -5.1-.5 .4zM90.6 67.5l-1.1 -5.1-.7 6.4 1 5zM90.6 67.5l1.1 5.1-.5 -5.4zM88.1 68.9l1.1 5.5-.5 -5.6z"/>
<path fill="#7e2a7e" d="M54.3 52.2l.7 .6 .1 -.5-.6 -3.6-.5 1.2zM55.6 59.2l.4 .3-.7 -4 .2 -2.6-.5 .9 .2 1-.3 -1.3-.6 .7 .9 5.3zM49.9 50.3l-.5 6 .5 2.8 .7 -3.2 .4 -.3zM44.1 60.9l.4 1.7 .7 -3.4 .2 0-.8 -4.5zM51.7 57.1l-1.1 -1.2-.5 5.3 .2 1.3 .8 .9zM47.5 63.7l-.5 -3.3-.7 0 .6 3.2zM55.8 66.8l-1.1 -.8-.7 .1 1.1 .8zM39.7 66.2l.1 .6 .4 .3-.1 -.9zM45.1 64.3l-.5 5.6 .1 .5 .8 -4.4zM54.4 70.7l.2 -1.2-.5 -.3zM41.8 73.8l-.8 -5.4-.5 -.5-.3 1.7 .5 3.4zM38.9 72.1l-1.1 -.6 1.1 .8zM43.4 75.5l.9 -5 .3 .1-1.1 -.7-.5 5.4zM46.2 71.6l-.7 -.3 1.2 6.5 .7 .2zM49.1 72.9l-.3 -.1-1 5.4 .8 .2zM50.7 79.6l.2 -1.4-1 -4.8 0 .1zM53 80.1l.7 -5.7-.3 -.1-1.1 5.6zM49.6 79.2l-.5 -3.6-.1 .5zM61.1 51.8l.7 .4 .1 -.4-.6 -3.8-.6 1.4zM72.1 52.2l.8 .2 0 -.2-.6 -3.7-.5 1.4zM70.4 47.9l-.6 6.3 .6 3.4 .8 -3.9 .3 -.4-.6 -3.7-.3 -.2zM73.2 59.4l.5 -.7 .2 0-.8 -4.2 .3 -3.1-.5 1.9-.6 1zM62.2 52.5l-.5 .7 .1 0 .3 1.7 .2 -3.1zM69.8 54.2l-.8 -.6 .3 1.9zM62.8 59.3l-1 -6.1-.6 .9 .9 5.4-.2 .2 1 .8 .7 -.6-1.1 -.8zM61.2 54.1l-1.1 -1-.5 5.8 .2 1.1 .8 .8zM68.2 70.3l-.9 .1 .8 .1zM58.9 71.8l.1 -1.1-.4 -.1zM57 72.4l.2 .7 .3 -3zM55.2 74.9l-.7 -.2 1.2 6.1 .7 .2zM57.6 81l.7 -6-.4 -.1-1 5.9zM61.4 80.8l.8 -4.5-.6 -.5-.6 5.5 1.1 -.3zM67.6 75.4l-.5 2.5 .5 4 1.1 -.5-.7 -6.2zM60 79.9l-.9 -4.6-.1 -.1-.1 .8 .7 6.1zM69.4 81.5l.2 -2.4-.3 -1-.6 3.3zM72.1 80.4l-.1 1.4 .2 -1.3zM65.1 80.6l-.1 -.1-.2 1.7zM81.5 54.7l-.6 -3.3-.5 1.4 .3 1.7zM77.3 54.4l-.6 1 .8 4.7 .6 -.9-.7 -4.2 .1 .6 .3 -2.7zM74.7 50l-.6 6.1 .5 2.9 .2 .1 .1 .6 .3 -1.1 .4 -3.5 .2 -.4-.6 -3.1-.3 -.1zM79 51.3l-.5 6 .3 2 .4 .1 .9 -4-.5 -2.5-.4 -.1zM82.8 57.6l-.6 -.1 .2 1.2zM84.9 61.8l.8 -.2 .1 .4 .5 -2.5-.8 -4.2zM87.9 62.7l.1 .7 .3 -1.3-.7 -3.6-.5 4.5zM81.2 63.2l.3 1 .4 -4.4zM83.1 59.8l-1.2 0-.4 4.4 .4 -.2 .7 .5zM76.7 63.3l-1.1 -.1-.6 .6 1.1 .2zM90.6 72.1l-.3 -2.6-.3 3.1zM84.8 75.5l-.5 .2 .2 1.8 1.2 -.9-.5 -4.4zM81.5 76.4l-.2 1.4-.4 .2 .1 1.1zM81.8 77.7l0 -.2-.2 1zM74.9 77l-.4 -.1-.1 .7 .4 3.5 1.1 -.7-.4 -3.9zM76.9 78.6l.4 2.2-.2 -2.6z"/>
<path fill="#b6387e" d="M63 47.6l1.1 .7 .3 -1.4-.8 -.5zM50.5 49.1l.3 -1-.7 -.8-.5 .6zM54.5 48.7l-1 -1.3 .5 2.5zM60.5 52.6l.6 -.8-1.1 -6.7-.6 1.1zM53.6 52.6l.2 -.2 .3 .2 .2 -.4-1.1 -6.8-.7 .8zM59.4 46.2l-1.1 -1.2-.5 6.4 .1 .6 .9 1zM50 49.8l.3 2.8 .2 .3zM48.9 48.5l-.5 5.9 .1 .8 .9 1.1 .6 -6.5zM46.2 51.3l-.8 3.8 .1 .5 .4 -.3zM43.2 57.6l.3 -4.3-.7 3.6 .1 .8zM40.3 59.7l1.1 1.2 0 .2 .5 -5.1-1.1 -1.4-.5 5-.5 -3-.7 -.2 .5 3zM41.1 62.1l.6 .4-.3 -1.6-.7 -.3 .3 1.9zM34.4 67.8l.9 -4.4 .3 .1 .1 -.5-1.2 -1-.5 5.5zM40.6 67.4l-.8 -.6 .4 .3-.1 .3 .5 .2zM45.1 70.7l.5 -5.5-.9 5.2zM39.8 67.3l.3 .3-.5 5 .9 -4.7 .5 .5 .7 .2-1.1 -1zM51.3 68.3l-1.1 -.8-.6 5.5 1.1 .7zM55.8 69.7l-1.1 -.7-.6 5.5 1.1 .4zM58.3 75l.3 0 .7 -5.4zM62.2 76.3l-1.1 -5.9-.6 -.2 1.1 5.6zM62.5 74.7l.7 .3 0 -.3zM58.9 76l.1 -.8-.7 -.2-.1 .5zM66.4 42.3l-.9 -.6-.2 1.3 .4 -.7 .8 .7zM66.4 42.3l.1 .6 0 -.5zM70.8 45.7l.3 .2 .2 1.2 .3 -4.3zM68 45.8l-.9 -.9 .4 2.4zM74.2 47.5l.1 -.2 .8 .4 .3 -1.5-.8 -.2-.6 1.4zM72.9 41.8l-.6 6.7 .6 3.7 1.1 -4.8zM66.2 44.5l-1.1 -1-.6 6.6 .1 .6 1 .8zM70.5 47.2l.1 2.2 .3 .2zM78.4 49.1l.3 -.6 .7 .3 .3 -1-.8 -.1zM68.9 50.2l.2 -1 .3 -2.8-1 4.8zM83 49l.9 .2 .1 -.7-.8 .1-.4 .8zM74.8 49.1l-.1 .9 .2 1.5 .3 .1zM79.1 50.2l-.1 1.1 .2 1.5 .4 .1zM84.4 55.3l.6 -1.1-.9 -5-.6 1.3zM81.5 54.7l.2 .3 .4 -1.5 .3 -3.2zM70.9 71.1l.1 .4 .2 -2.1zM67.7 74.9l-.1 .5 .4 -.2zM66.8 75.5l.2 -.7-.3 .1zM65.1 69.9l-.1 0-.6 5.1 1.1 5.7 .7 -5.5zM81.4 73.9l-.8 4 .7 -.1 .3 -2.9zM84.1 75.4l0 -.4-.3 2.3zM77.5 78.3l-.1 -.5-.5 .4zM72.2 80.5l-.4 -4.1-.2 1.1zM84.6 47l-.6 2.2 .1 0 .2 1zM85.9 45.7l-.6 6 .4 2.5 .3 0 .9 -4.2 .1 -.2-.6 -2.9-.4 -.1zM89.3 52.4l.4 -1.2-.6 0zM90.8 53.5l.1 .4 .1 -1.6zM88 50l-1.1 0-.6 5.3 .4 1.8 .6 0zM88.4 58.7l.5 -4.5-.7 3.5zM90.1 54l-1.2 .2-.5 4.6 .3 1.6 .7 -.6zM90.4 59.9l.2 .9 .5 -4zM89.5 62.4l.2 -2.2-1.1 .4-.3 2.4zM95.9 60.7l.2 .8 .4 5 .7 -1.2-1.1 -5zM95.9 63.4l-.1 -.6-.3 1.7zM87.4 63.7l.2 0 .3 1.4 .2 -1.1-.2 -1.3-.6 .5zM85.5 66.2l-.1 -1.1-.2 .1zM93.4 66.7l-.3 -1.5-.3 1.6 .2 1.9zM86.7 75.5l.6 -.4-1 -5.1-.1 0zM85.6 70.4l-.2 .1-.2 1.7 .5 4.4 .6 -3.2z"/>
<path fill="#8c2a7e" d="M49.4 56.3l-.9 -1.1 .3 1.9zM50.6 55.9l-.8 3.6 .1 .8 .3 -.2zM46.2 59.5l.6 -.5-.9 -1.1zM41.4 61.1l.4 1.5 .6 -2.9 .2 0-.7 -3.7zM47.9 57.9l-.7 3.6 .2 .9 .1 0zM43.3 60.1l.8 .8-.8 -1.1zM47.9 57.9l-.4 5.1 .1 .8 .9 .8 .5 -5.5zM44.8 63.6l1.1 1.2 .4 -4.4-1.1 -1.2zM53 61.5l-.7 .2 1.1 1.1 .7 -.3zM51.4 64l-1.1 -1-.7 .1 1.1 1zM46.4 65.8l1.1 .8 .2 .9 .3 -2.9-1.2 -1zM53.1 67.6l-1.1 -.8-.7 -.2 1.1 .9zM50.3 67.6l-.7 -.4 .3 1.6 .3 -1.3zM48.1 69.9l.4 -3.6-.5 2.8zM44.6 69.9l-.5 -.4 .1 .4zM52.5 71.2l.6 3.3 .2 .1 .1 -.3 .2 0 .5 -5.1-1.1 -.6zM41 68.4l1.2 6.7 .8 .2-1.3 -6.7zM44.3 70.5l-.9 5.1 .7 .3 .5 -5.2zM51.3 68.3l-.6 5.4 1.2 6.2 .6 -5.4zM45.4 71.3l.8 5.8 .2 -.9zM44.6 73l-.1 .4 .6 3.1zM53.3 74.6l-.2 -.1 .1 .5zM63 47.6l-.1 .5 .3 -.4zM58.8 53l.6 3.4-.1 1.2 .5 -.9 .3 -3.6 .4 -.5-1.2 -6zM64.6 50.7l.4 2.1 .6 -1.3zM61.8 52.2l-.7 -.4-.3 .5 .8 .8zM54.9 53.5l.1 -.7-.7 -.6-.2 .4zM57.9 52l.3 2.2 .6 -1.2zM61.2 54.1l-.1 .7 .3 2 .3 .3zM65 55.2l-.6 .9 1.1 .7 .6 -.8zM53.2 53l-.5 5.7 .2 1.1 .8 .9 .6 -6.5zM59.2 57.1l-1 -1-.7 .7 1.1 1zM55.6 59.2l-.7 .4 1.1 1 .7 -.4zM56.4 69l-.7 -.1 1.1 .6 .7 .1zM62 70.9l-.4 2 .1 .5 .3 -2.7 0 .2-.9 -.4 .1 .2zM63.5 71.2l-.3 -.1 .2 1zM57.9 74.9l.2 0 .5 -4.3-1.1 -.5-.3 3 .5 2.9zM54 75.1l.4 0-.4 -.2zM58.5 76l.4 0-.4 -.3zM59.1 75.3l1.2 5.8 .7 .2-1.2 -5.9zM62.6 78.6l-.2 .8 .6 3zM74 47.4l-.1 .6 .3 -.5zM67.9 49.7l.7 .3-.6 -4.2-.5 1.5zM68.9 57.9l-.2 .3 1.1 .6 .6 -.9 .1 .4 .2 -.4 .5 -4.2-.9 4.2-.6 -.4-.9 -4.8 .3 -3.5-.2 1-.5 1 .2 .1-.6 1.1zM72.9 52.4l-.8 -.2-.2 .5 .8 .5zM66 55.9l.1 .1 0 .1 .5 -1.2 .3 -3.3zM77.1 54.3l.1 -.4-.8 0-.1 .2zM66.9 51.6l-.3 3.3-.2 2.6 .2 1.2 .8 .5 .6 -6.8zM72.3 54.3l-.1 1.1 .2 1.7 .4 .2zM74.8 59.1l-1.1 -.4-.6 .8 1.1 .4zM78.1 59.2l-.6 .9 1.1 .2 .6 -.9zM76.9 66.6l.6 0 .1 -.5zM67.9 71.5l-.2 -.7-.3 2.8 .2 0zM76.6 76.9l-.7 3.5 .7 -.2 .2 -2.1zM71.6 77.5l-.2 1.1-.4 .2 .3 3.2 .6 -2.9zM72.8 80.1l-.6 .4 .6 0zM85.7 54.2l-.4 -2.5-.5 1.3 .2 1.2zM81.1 55.8l.8 4.4 .6 -1.1-.6 -3.2 .2 -2.4-.2 1.2-.2 .3 0 -.3zM83.1 58.9l.6 0 .7 -3.6-.4 -1.9-.4 -.1-.2 -1.4-.6 5.7zM86.7 57.1l.2 1 .4 -1zM80 55.6l-.8 3.8 .2 .8zM80 55.6l-.5 5.1 .3 1.9 .6 .1 .7 -6.9zM83.5 64.8l1 -.5 .4 .1 .2 -2.1-1.1 .2 .3 -.3-.6 -3.3-.6 .9 .7 3.8zM81.2 62.9l-1.1 0-.3 .3 .2 .4 .6 0zM87.4 63.7l-.1 -.5-.1 .5zM82.7 65.2l.3 1.2 .2 -1.6zM92.6 69l.4 -.3-.2 -1.9zM91.1 69.7l-.5 2.4 .6 -1zM88.7 72l-.6 2.8 .6 -.8 .2 -1.1zM86.3 73.4l-.6 3.2 .6 -.5 .2 -1.7zM83.8 77.3l-.6 .4-.6 -5.5-.3 2.9-.5 0-.1 .4 .3 3.1zM79.3 78.2l-.2 1.6 .3 -1.3z"/>
<path fill="#621c7e" d="M48.8 57.1l.2 1 .7 .8 .1 .6 .1 -.4-.5 -2.8zM53.7 60.7l.4 1.8-.7 .3 .6 3.3 .7 -.1-.5 -2.8 .7 -3.6 .3 -.1-.9 -5.3zM47 60.4l.2 1.1-.4 -2.5-.5 .6zM53.7 60.7l-.8 -.9 .3 1.6zM51.1 63.4l.5 1.8 .7 -3.5 .2 0-.8 -4.6zM56.7 64.7l.8 -.1-.8 -4.4-.7 .4zM49 59.1l-.5 5.5 .4 1.7 .8 -3.3zM50.5 63.1l.4 .5 .2 -.2-.8 -.9zM45.9 64.8l.1 .7 .4 .3 .5 -2.2-.6 -3.2zM54.9 59.6l-.4 5.2 .2 1.2 .8 .6 .5 -6zM48 69.1l.4 -2.2-.4 -2.3-.3 2.9zM56.3 69l.4 -4.2-.7 3.2zM55.1 66.9l-1.1 -.8-.5 2.7 1.1 .7 .1 -.5 .2 0zM55.6 69.3l.1 -.4 .5 .1-.4 -2.2-.7 .1zM57.5 70.1l.1 0-.1 -.5-.7 -.1 .4 1.9zM44.6 74.4l-.1 -.8-.1 .6zM49.5 73.3l-.4 2.3 .5 3.6 1.1 .4-.8 -6.1zM46.2 77.1l.4 0-.2 -.9zM49 76.1l-.1 .5 .1 1.1 .2 -.7zM54 75.1l-.5 2.3 .5 3.7 1.1 .2-.7 -6.2zM53.4 78l-.1 .9 .1 1.2 .2 -1zM58.6 56.3l.7 .5 .1 -.4-.6 -3.4-.6 1.2zM67.9 53.2l-.5 6 .5 2.7 .8 -3.7 .2 -.3-.4 -2.7-.4 -.3zM59.8 56.7l-.5 .9 .3 1.3zM67.4 59.2l-.8 -.5 .3 1.6zM69.8 58.8l-1.1 -.6-.5 5.3 .3 1.6 .7 .4zM62.3 67l.6 -6.5-1 -.8-.8 3.7 .2 .9 .2 -.3-.1 .9 .3 1.6zM63.7 64.8l.7 -.4-.8 -4.5-.7 .6zM59.3 62.6l-.7 3.5 .2 1.2 .1 -.1zM59.5 68.9l-1.1 -.6-.2 2 .9 .4zM68.1 70.5l-.8 -.1 0 .1 .8 .2zM62.7 70.8l.8 .3 .2 -1-.8 -.3zM58.5 76l-.5 2.4 .5 3.8 1.1 -.1-.7 -6.1zM57.9 79.1l-.2 1.2 .2 1.5 .2 -1.4zM63 82.4l-.6 -3-.3 1.6 .2 1.7 .4 -1.9zM60.3 82.2l.1 -1.1-.4 -1.2-.4 2.2zM65.4 80.7l-.2 -.1 .5 2.4zM61 81.3l-.1 0 .3 1.4zM63.7 82.3l0 .2 1.1 -.3-.7 0zM63.7 82.5l-.1 -.2-.6 .1zM70.5 58.3l-.1 -.4-.6 .9 .8 4.4 .7 -.6-.6 -3.3 .2 -2.2zM82.8 57.6l-.4 1.1 .1 .4 .6 -.2zM72.4 57.1l-.2 -1.7-.5 5.8 .3 1.7 .3 .1 .2 1.2 .6 -4.7 .1 -.1-.4 -2.1zM76.2 63.2l.5 .1-.6 .7 .6 3.2 .2 -.6 .4 -.3-.5 -2.7 .7 -3.5-.8 -4.7-.7 6.9zM75.2 58.6l-.3 1.1 .1 .8zM79.6 59.2l-.2 1 .1 .5 0 -.2zM83.8 63.6l-.7 -3.8-.5 4.7 .1 .4 .8 -.1zM79.8 62.6l.1 .5 .5 -.4zM73.1 59.5l-.5 5.1 .4 1.8 .6 -.2 .6 -6.3zM76.1 64l-1.1 -.2-.4 2.2 .5 .4 .4 2.1zM76.8 67.1l.3 -.1 .3 .2 .1 -.6-.6 0zM84.1 75.7l-.2 1 .2 -.3zM81.5 76.4l-.5 2.7 .6 -.6 .2 -1zM72.1 80.4l-.2 -1.3-.6 2.9 .7 -.2zM70.2 79.3l-.4 -.1 .4 3.2 1.1 -.4-.3 -3.2zM72.6 80.5l-.2 0 .4 1.7z"/>
<path fill="#701c7e" d="M52.5 56.1l-.5 -3.2-.6 1 .4 2.1 .6 .6zM56.3 57.2l.5 3 .7 -3.4 .4 -.4-1.1 -5.3zM56.3 57.2l-.9 -.9 .3 1.9zM52.5 57.4l.2 1.3 .2 -1.7zM58.6 57.8l-1.1 -1-.5 5.4 .3 1.3 .7 .7zM49.9 60.3l.2 .9 .1 -1.1zM54.5 64l.4 -4.4-.7 3.6 .2 1zM47.5 63l0 -.6-.1 0zM50.7 64.1l.5 2.8-.2 1.1 .1 .1 .2 -1.5 .7 .2 .9 .7 .5 -4.7-1.1 -1.1-.6 3.8-.3 -1.5zM58.4 65.3l-1.1 -.8-.6 .3 1.1 .8zM50.7 64.1l-1.1 -1-.3 3.6 1.1 .9zM53 68.6l.3 .2-.2 -1.2-.7 -.1 .4 2.1zM55.6 69.3l.9 .6 .2 .9 .1 -1.3-1.1 -.6zM49.2 72.9l.7 -4.1-.3 -1.6-.6 5.6zM44.2 70.2l.5 .2-.1 -.5-.4 0zM54.4 70.7l-.3 -1.5-.5 5.1 .1 .1zM41.8 73.8l.2 0-.1 -.5zM45 71l-.4 2 .5 3.5 1.1 .6-.8 -5.8zM42.2 75.1l1.2 .5 0 -.1zM47.8 78.2l1 -5.1-.8 -.5-.6 5.4 1.2 .4zM53 80.1l-.7 -.2 .9 -4.9-.7 -.5-.6 5.4zM57.7 76l-.7 -.5-.6 5.5 1.2 0-.7 -.2zM65.4 55l-.2 .3 .8 .6 .2 -.8-.6 -3.6-.6 1.3zM63.1 56.5l.6 4.1 .3 -.8 .4 -3.7 .3 -.5-1.1 -5.3zM66.3 61.7l.5 -.5-.6 .7 1.1 .6 .6 -.7-.9 -.5-.6 -3.8 .2 -2.6-.1 .7-1 1.2zM63.1 56.5l-.9 -.8 .3 1.9zM59.3 56.8l-.7 -.5-.1 .2 .7 .6zM64.4 56.1l-.4 3.7-.1 1.8 .2 1.4 .8 .5 .6 -6.7zM60.2 62.3l-1 -5.2-.6 .7 .8 4.7 .5 -.3zM68.1 62.8l.3 -.7 .3 -3.9-.8 3.7zM59.9 62.2l-.6 .4 1.1 .8 .6 -.4zM65.4 64.9l-1.1 -.6-.7 .5 1.1 .6zM62.8 67.3l-1.1 -.6-.6 .3 1.1 .6zM67.2 68.5l-1.1 -.4-.6 .3 1.1 .4zM59.1 68.2l-.7 .1 1.1 .6 .7 0zM62.9 69.8l.8 .3 .1 -.3zM61.3 70.7l-.1 0 .1 .5zM61.7 72.5l.3 -1.6-.7 -.2zM66.2 72.4l.2 -1.1-.4 -.1zM58.6 70.6l-.5 4.3 .2 .1 .6 -3.2zM62.6 78.6l.4 3.8 1.1 -.2-.7 -6.2-.4 .1zM67.2 80.4l-.3 -1.5-.2 1.4-.2 0 .3 2.4zM65 80.5l-.4 -1.1-.5 2.8 .7 0zM60.5 81.1l-.1 0-.1 1.1zM68.2 81.6l-.6 .3 .6 0zM74.1 56.1l-.8 -.4 .3 1.6zM87.1 57.9l.3 -.1-.1 -.7-.4 1.1zM77.7 57l.3 1.4 .5 -1.1zM80.4 62.9l.8 0-.6 .7 .2 1 .6 -.4-.2 -1 .7 -3-.8 -4.4zM83.9 60.2l.1 -.8 0 -.3-.1 .8zM79.3 62.8l.5 .4 .1 -.1-.7 -3.7-.6 .9 .5 2.6zM74.9 64.1l.6 -.9-.7 -4.1-.6 .8zM77.6 66.1l.5 -2.7 .2 -.1 .3 -3-1.1 -.2-.7 3.5 .2 1.1 .1 -.4 .2 2zM72.3 63l-1.1 -.4-.6 .7 1.1 .4zM85.7 65.1l-.6 -2.8-.2 2.1 .2 0 .4 1.4zM80 63.6l.4 1.8 .2 -1.8zM68.7 65.7l-.7 .5 1.1 .4 .7 -.5zM73.2 66.3l-.7 .5 .6 .1zM71.7 68.9l-1.3 -.1 .1 .3 .5 .1zM79.1 77.1l-.6 3 .6 -.3 .2 -1.6zM79.9 79.7l-.1 -1-.1 0zM77.1 78.2l.2 2.6 1.2 -.7-.3 -2.4-.7 .6zM74.4 79.2l-.2 -.7-.2 1.3-.3 .2 .2 1.7zM75.4 80.9l1.2 -.7-.7 .2-.5 .3zM75.4 80.7l-.6 .4 .6 -.2zM68.2 81.9l1.2 -.4-.7 -.1-.4 .2z"/>
<path fill="#e05462" d="M56 42.4l.3 -4.6-.1 .8-.7 1.2 0 .7 .2 .3zM62.2 42.9l-.3 -1.9 .2 1.8zM60.4 43.2l.2 -.8 .2 -2.6-1 4.7zM55.1 41.9l.3 2 .1 .1zM66.8 43.2l-1.1 -.9-.6 1.2 1.1 1zM52.5 46.2l.7 -.8-1.1 -1.4-.6 .9zM39.1 56.4l.7 .2-1.1 -1.5-.7 -.1zM36.2 56l-1.2 -1.4-.4 4.4 .4 1.9 .6 .8zM29.9 62.8l.9 -4.2 .3 .1 0 -.7-1.1 -1.2-.5 5.5zM36.6 58.1l-.9 4.9 .4 .3zM30.6 63.5l.5 -4.6-.3 -.3-.9 4.6zM34.5 62l-1.3 -7.2-.5 5.5 1.3 7.2zM43 63.7l-1.1 -1.1-.8 -.5 1.2 1zM65.7 69.9l-.7 -.5-1.1 0 .6 .5zM68 45.8l.6 -7.3-1 -.9-.6 6.9 .1 .4zM71.4 44l.5 -3.6-1.1 5.1zM77.2 43.1l.1 2 .3 .1zM82 46.5l-.4 -2.4-.1 1.1 .2 1.2zM86 44.4l.9 5.6 1.1 0 .6 -1.3-1.1 0 .1 -.1-1 -5.6zM83 66.4l0 .3 .3 -1.7zM85.5 66.6l.7 3.4 .8 -6-1.2 .4zM76.3 70.8l.7 -3.1-.4 .1-.7 -.3-.2 1.7 .4 1.8zM83.7 70.4l1.1 5.1 .8 -6-1 -4.8-.2 .1zM71.4 74.2l-1 -5.6-.6 .1 1.1 5zM76.1 76.1l-.7 -.3 .8 -4-.6 -.5-.7 5.7zM73.7 71.6l-.5 .2 1 4.9 .7 .3zM72.3 73.2l-.3 -.2-.6 5.6zM76.2 75.3l.7 2.9-.4 -4.2zM90.5 43.9l-1.2 0-.5 5.7 .3 1.6 .6 0zM94.2 49.9l.2 1.1 .8 -.3 .7 -3.4-.4 -2.1-.6 .2-.1 -1.1zM98.8 47.7l-.3 1.2 .4 -.6zM97.1 46.4l-.7 6.7 1.1 -.6 .1 .1 .4 -1.9zM93.5 52.2l.4 -.7-.8 -4.2-.6 1.3 .9 4.4zM95.2 56.9l.1 .8 .6 -3.9-.6 -3.1-.6 1.1 .7 3.8zM92.8 55.5l-1.1 .4-.6 .9 1.1 -.4zM98.2 58.2l-.3 .2 0 1.1zM98.1 58.1l.9 4.1-.5 -4.7zM92.6 59.7l-.6 .5 1 5.1 .6 -.5zM90.1 62.1l-.6 .3 1.1 5.1 .6 -.3z"/>
<path fill="#ee6262" d="M57 32.8l-.2 2 .4 -.7 .7 1 .1 -1.2zM59.5 38.1l.7 4.3 .6 -2.6 .3 -.5 .1 -1.7-1.1 -6.8zM62.6 36.9l-.8 -.7-.6 1.4 1.1 .9zM58.4 36.8l-.2 -1.3-.6 1.2 1.1 6.9 .7 -1.3-.8 -4.9 .3 2.3 .6 -1.6zM55.1 37.5l-.6 1.2 1 1.1 .4 -1.5zM68.9 40.3l-.3 -1.8 .2 1.7zM57.1 43.8l.5 -7.1-1.1 -1.4-.5 7.1zM67.1 41l.5 -3.4-1.1 4.8zM36.9 56.4l-1.1 -1.4-.8 -.4 1.2 1.4zM31.2 57.8l-.4 -.4-.8 -.6 1.1 1.2zM30.8 58.6l.3 .3-.5 4.6 .8 -4.1 .5 .6 .8 .3-1.2 -1.4 .1 -.6-.5 -.3 0 .7zM35.3 62.5l-1.3 -7.1-.8 -.6 1.3 7.2zM38.5 59.9l-1.2 -1.2-.7 -.6 1.1 1.3zM73.3 66.3l-1 5.3 .3 -.1zM72.6 71.5l-.7 .2 .7 .3zM75.6 71.3l-1 -4.7-.3 .1-.6 4.9 1.2 5.4zM72.7 73.5l.3 -1.6-.4 .1-.4 -.1-.2 1.1zM77.2 43.1l.7 -1.5-1.1 -.5-.6 1.4zM81.6 44.1l.6 -1.4-1.1 -.4-.6 1.5zM98.1 43.8l-.3 1.6 .1 .5zM90.5 43.9l-.2 1.5 .1 1.1 .5 0 .5 2.4 .6 -1.3-.9 -5.2zM98.5 48.8l.3 -1.1-.5 .2zM95.2 50.7l.2 .7 .6 -4.5zM97.1 46.4l-1.1 .5-.5 4.8 .4 2.1 .5 -.7zM101 50.7l-.4 .2 .2 .5zM98.5 57.5l-1 -5-.6 .9 1 5zM92 60.2l.6 -.5-1.8 1.1zM85.1 64.4l-.5 .3 1 4.8 .6 .1zM84.4 64.8l-.5 .3-.6 -.1-.3 1.7 .7 3.7zM83.1 70.5l-.3 .2 0 .2 .3 -.2zM77 71.4l.5 -.4-.4 -.3zM77 69.1l-.3 -.2-.4 2.1 0 -.2-.2 .2 .1 .6-.8 4.2 .7 .3zM78.1 77.3l.8 -4.5-.9 -4-.2 .1-.3 2.1z"/>
<path fill="#fc7e62" d="M58.2 35.5l.2 1.3 .5 -5.3-.9 2.4-.1 1.2zM62.9 37.1l.2 -1 .2 -2.2-1 4.6zM67.6 37.6l1 .9 .7 -1.4-1.1 -1zM56.2 38.6l.1 -.8 .2 -2.5-1 4.5zM32 53.3l-.9 4.7 .5 .3zM33.2 54.8l-1.2 -1.5-.5 5.6 1.2 1.4zM74.6 66.6l1 4.7 .6 .5-1.1 -5.4zM73.7 71.6l.6 -4.9-.4 .2-.6 -.6-.7 5.7zM76.1 76.1l1 -5.4-.3 -.3zM89.3 43.9l1.2 0 .6 -1.5-1.1 0zM95.9 47.3l.6 -1.5-.9 -4.8-.6 1.5zM98.9 48.3l1 -.6 .6 -2.8-.9 -4.7-.8 7.5zM97.1 46.4l.9 4.3 .5 -1.8-.7 -3.8zM104.5 49.7l-1 -5-.3 .9 .7 5.8zM102.9 48.4l-1 -5.1-.9 7.4 1 5zM95.7 54l1.2 -.6 .6 -.9-1.1 .6zM83.9 65.1l1.2 -.7-.6 -.1-1.2 .7zM81.2 69.8l.6 -5.1-.5 .3-.6 -.4-.2 1.4 .6 2.6zM80.6 70.2l-.1 -.4-.3 .2-.1 .5zM79.7 73.8l-1.1 -5.3-.6 .3 1 4.7zM81.6 75l-.5 -6.4-.7 -.5 .1 1.7z"/>
<path fill="#e04670" d="M65.5 41.7l-1.1 -6.5-.6 7.1 .7 4.1 .8 -3.4zM74 47.4l.6 -1.4-1.1 -6.2-.6 1.4zM53.5 47.4l1 1.3 .6 -6.8-1.1 -1.4zM58.3 45l1.1 1.2 .6 -1.1-1.1 -1.2zM76.2 42.5l-1.1 5.2 .6 -1.4 .2 -1.3zM39.5 59.3l1.2 1.3 .7 .3-1.1 -1.2zM72.7 69.4l-.3 -.2-1.2 .2 .7 .4 .8 -.2zM68.5 68.3l-.9 5.3 .3 -.1zM67.4 74.7l.6 .5 .3 -1.3-.8 -.1zM93.6 45.7l-.4 1.8 .1 .7zM91.4 48.8l-.8 4.1 .1 0 .1 .6zM88.9 54.2l1.2 -.2 .6 -1.1-1.2 .2zM93.3 57.8l.8 -.8 .6 -5.2-1.2 .4-.5 4.4zM97.2 65.3l.7 -6.9-1 -5-.8 6.9zM88 65.6l.7 3.2 .8 -6.4-1.2 .6zM80.1 71.9l.5 6 .8 -4-.8 -3.7-.3 .2z"/>
<path fill="#ee5462" d="M62.9 37.1l-.6 1.4-.1 .9 .3 .4 .2 1.3 .4 -5zM69.7 45l.6 -1.5-1 -6.4-.7 1.4zM73.1 43l.2 .2-.4 -2 0 .6zM53 44.9l.7 -1 .1 -.5 .2 -2.9zM34.6 59l.4 -4.4-.6 3.2zM37.2 64.9l.5 -5.5-1.1 -1.3-.6 5.6zM69 73.7l.6 -4.9-.4 0-.7 -.5-.7 5.6zM81.6 75l.7 .1-1.1 -5zM79.2 73.6l-.5 3.8 .7 -3.7zM86 46.8l.4 .1-.4 -2.5-.1 1.3zM89.3 43.9l-1 4.8 .3 0 .1 -.3 .4 -1.7zM102 55.7l-1 -5-.2 .7 .6 5.8zM100.4 53.8l-1 -5-.8 7.1 1 5zM95.1 56.5l-.6 .7 1 5 .6 -.7-.2 -1 .2 -.2 .8 -6.9-1.2 .6-.4 3.7zM88.1 68.9l.6 -.1-1.1 -5.1-.6 .3zM85.4 70.5l.2 -.1 0 -.8zM84.2 75.7l-.5 -6.1-.7 -.4 .1 1.3z"/>
<path fill="#540e7e" d="M63.9 61.6l.1 -1.8-.3 .8zM54.5 64.8l0 -.8-.1 .2zM60.4 63.4l.7 3.6 .6 -.3-.7 -3.7zM50.4 67.6l.6 .4 .2 -1.1-.5 -2.8zM58.3 68.7l.1 -.4 .6 0-.6 -3-.6 .3zM63.9 69.4l.5 0 .3 -4-1.1 -.6-.6 3.4 .3 1.5 .5 .1zM60.5 69.9l.6 .6 .7 .3 .4 -3.2-1.1 -.6zM66 71.2l.3 0 .3 -2.4-1.1 -.4-.3 1.1 .5 .4zM52.5 71.2l.3 -1.6-.4 -2.1-.2 2.1zM60.2 68.9l-.7 0 .2 .8 .7 .1zM56.7 70.8l.3 1.6 .2 -1-.4 -1.9zM61.6 72.9l.1 -.4-.4 -1.8 0 .5zM55.1 81.3l.7 0 .1 -.5-.4 -1.3zM59.6 82.1l-.4 .1 1.1 0zM73.9 58.7l.7 .3-.5 -2.9-.5 1.2zM78.1 59.2l.7 .1-.3 -2-.5 1.1zM71.2 62.2l.5 -1-.8 -.4zM78.6 60.3l-.3 3 .8 -.4zM76 62.3l-.7 -.2 .2 1.1 .1 0zM68 66.4l0 -.2 .6 -.4-.7 -4-.6 .7zM80.6 63.6l-.1 2.2 .3 -1.2zM67.3 62.5l-1.1 -.6-.5 4.9 .3 1.4 .7 .1zM70.4 68.8l.8 0 .5 -5.1-1.1 -.4-.5 4.6 .1 .6zM69.4 68.1l.3 0 .5 .4-.4 -2.4-.7 .5zM72.5 66.8l-.5 2.5 .2 -.1zM66.9 70.5l1.3 -.2 .3 -2 .5 -.1 .1 -1.6-1.1 -.4-.6 3.2-.2 -.9-.6 .3zM74.7 80.4l-.3 -1.2-.5 2.5 .7 -.4z"/>
<path fill="#7e1c7e" d="M46.8 59l.4 2.4 .7 -3.5 .3 -.1-.9 -5.1zM51.7 57.1l.8 4.6 .5 -.2 .2 .2-.9 -5.1zM49 59.1l.7 3.9 .6 0 .2 .1-.8 -4.2zM43.2 64.6l.3 1.6 .5 -2.8-.5 -2.5zM48.9 66.3l-.2 -1.6-.7 -.1 .4 2.3 .1 -.6 .8 .4 .3 -3.6zM52 68.7l.2 .9 .2 -2.1-1.1 -.9-.2 1.5zM44.7 74.1l-.2 -.7 .1 1zM51.9 79.9l-1.2 -6.2-.7 -.3 1.2 6.3zM53.5 77.4l-.1 .6 .6 3.1zM77.2 53.9l-.6 -3.6-.5 1.5 .3 2.1zM70.9 60.8l.8 .4 .6 -6.9-1.1 -.6-.5 5.7zM76 62.3l.7 -6.9-1.1 -.3-.6 5.4 .3 1.6zM56.9 61.2l.3 -.3 .3 -4.1-.8 3.7zM63.4 72.1l-.3 -1-.4 3.6 .2 0zM88.1 74.8l-.3 -3.5-.5 3.8-.4 .2 .1 .3zM55.1 81.3l.4 -1.8-1.1 -4.8 0 .4zM58 78.4l-.1 .7 .6 3.1zM69.8 79.2l-.1 .6 .5 2.6z"/>
<path fill="#fc7062" d="M64.4 35.1l1.1 6.6 .6 -1.4-1.1 -6.7zM62.7 41.1l1.1 1.2 .6 -7.2-1.1 -1.2zM93.2 47.4l.4 -1.7-.3 2.5 .3 1.8 .6 -.1 .8 -7.4-1.1 .2-1 4.7zM97.6 52.6l.7 3.5 .3 -.2 .8 -7.1-1.2 .6zM80.5 65.8l0 .2 .2 -1.4zM81.8 64.7l-.6 5.1 1.1 5.3 .7 -5.9-1 -4.6zM83 69.4l-.2 1.3 .3 -.2zM80.1 71.9l.2 -1.5-.2 .1z"/>
<path fill="#fc9a62" d="M57 32.8l1 1.1 .4 -1.7-.8 -.8zM61.2 37.6l.6 -1.4-1.1 -6.8-.6 1.4zM59.5 38.1l.6 -7.3-1.1 -1.4-.5 7.3zM57.2 34.1l-.7 1.2 1.1 1.4 .6 -1.2zM73.3 66.3l.6 .6 1.2 -.5-.7 -.5zM77.3 69.2l.1 -.7 .7 -5.1-1 5.3-.4 .2zM77.3 69.2l-.3 -.1-.2 1.3 .7 .6 .3 -2.1zM98.3 47.9l.5 -.2 .8 -7.5-1.1 .5-.6 5.2zM96 46.9l1.1 -.5 .7 -1.3-1.2 .5zM100.7 44l-.8 3.7 .2 .6 .2 -.6zM103.5 47.1l-.4 .7 .8 3.6zM80.4 68.4l-.2 1.6 .3 -.2z"/>
<path fill="#541c7e" d="M62.1 59.5l-.4 -2.4-.3 -.3-.3 -2-.5 6 .5 2.6 .8 -3.7zM60.6 60.8l-.8 -.8 .3 1.7zM56.9 61.2l.1 1 .2 -1.3zM59.9 68.7l.5 -5.3-1.1 -.8-.5 4.9 .2 .8zM57.4 69.5l.4 -3.9-1.1 -.8-.4 4.2zM58.4 68.3l-.4 2 .2 0zM62.9 69.8l-.3 1 .1 0zM50.9 78.2l-.2 1.4 .5 0zM70.4 57.8l-.6 -3.6-.5 1.3 .4 2zM66.2 61.9l-.7 3.5 .2 1.1 .1 -.1zM71.7 63.7l.6 3.7 .2 -.6 .4 -.4-.6 -3.4zM69.9 66.7l.2 1.2 .5 -4.6zM72.5 66.8l-.3 2.4 .5 .2 .4 -2.5zM71 69.2l.1 .6 .1 -.4 .6 -.1-.1 -.4zM70.5 69.1l.3 1.7 .1 0 .1 -1.6zM80.9 78l-1.1 .7 .1 1 1.1 -.6zM69.3 81.5l.1 1 .4 -2.1-.1 -.6zM71.3 82l-.5 .3 1.2 -.5z"/>
<path fill="#d23870" d="M65.1 43.5l-1 4.8 .6 -1.2 .2 -.9zM75.6 48.9l.1 1 .9 .4 .6 -7.2-1 -.6zM79.9 50l.2 1.2 .8 .2 .7 -7.3-1.1 -.3zM38.5 59.9l.2 1 .4 -4.5-1.1 -1.4-.4 4zM98.3 56.5l.7 5.7 .6 -1.3-1 -5zM90.3 63.2l.2 .6 .3 -3zM87.9 65.1l.1 .5 .3 -2.6zM40.2 67.1l.4 .3 .5 -5.3z"/>
<path fill="#460e7e" d="M63.6 59.9l0 -.2-.5 -3.2-.6 1.1 .3 1.7zM56.7 60.5l-.4 -3.3-.6 1 .3 1.3 .7 .7zM59.4 62.5l-.8 -4.7-.6 6.4 .6 1.9 .7 -3.5zM64.1 63l.3 1.4 .5 -.9zM58 64.2l-.7 -.7 .2 1.1 .2 .1zM62.2 67.6l.5 2.9 .2 -.7 .4 -.1-.5 -2.4zM48.7 77.5l.3 .2-.1 -1.1zM65.1 80.6l-.2 1.8 .3 -1.6zM66.3 61.7l-.8 -4.9-.6 6.7 .2 1.3 .3 .1 .1 .5zM68.2 63.5l.2 -1.4-.3 .7zM64.7 65.4l.7 3.5 .1 -.5 .5 -.2-.6 -3.3zM73.9 81.7l-.2 -1.7-1.1 .5 .2 1.7zM66.8 82.7l.6 -.1 .1 -.8-.3 -1.4zM65.7 83l1.1 -.3-.3 -2.4-1.1 .4z"/>
<path fill="#fcb67e" d="M59 29.4l-1 4.5 .9 -2.4zM103.5 44.7l1 5 .8 -7.5-1 -5.1zM102.5 42l-.6 1.3 1 5.1 .6 -1.3zM79.5 63.6l.9 4.5 .7 .5-1.2 -5.2zM78.1 63.4l-.8 5.8 1.3 -.7 .6 -4.7-.5 .2z"/>
<path fill="#fc9a70" d="M63.9 32.4l-.6 1.5 1.1 1.2 .6 -1.5zM94.5 41.2l-.6 1.5 1.1 -.2 .6 -1.5zM102.8 41l-.3 1.3 .1 .5zM97.8 45.4l.7 -4.7-1 4.5 .3 -.1zM103.5 44.7l-.5 .3 .2 .6zM100.2 48.5l.4 2.4 .4 -.2 .9 -7.4-1.2 .7zM98.8 48.3l-.6 1.1 1.2 -.6 .6 -1.1zM80.7 64.6l.6 .4 1.2 -.7-.6 -.3zM78.6 68.5l1.1 5.3 .7 -5.7-.9 -4.5-.3 .2z"/>
<path fill="#460e70" d="M69.9 66.7l.7 -3.5-.8 -4.4-.6 6.7 .1 .4 .5 .2zM56 68l.7 -3.3-.7 -4.1-.5 6 .3 .2zM61.4 64.9l.1 -.9-.2 .3zM54 66.1l-.6 -3.3-.5 4.7 .6 1.3zM49.3 77.6l-.1 -.6-.2 .7zM74.9 64.1l-.7 -4.2-.6 6.3 1 -.2zM76.7 67.2l-.6 -3.2-.5 4.5 .3 -1zM76.9 78.6l-.4 2 .6 -.5z"/>
<path fill="#380e62" d="M60.2 62.3l.7 .6-.3 -2.1-.5 .9zM72 62.9l-.3 -1.7-.5 1 .1 .4zM68 66.4l-.7 -3.9-.6 5.8 .5 .2 .2 .9zM71.8 69.3l.2 0 .3 -1.9-.6 -3.7-.5 5.1 .5 .1zM60.4 69.8l.6 -2.7-.6 -3.7-.5 5.3 .3 .2zM57.6 70.1l.4 .2 .3 -1.6-.5 -3.1-.4 3.9zM68.2 81.9l.1 .8 1.1 -.2-.1 -1z"/>
<path fill="#380e70" d="M53.2 61.4l0 .3 .8 .8-.3 -1.8zM51.2 63.8l-.1 -.4-.2 .2zM61.7 66.7l.6 .3-.6 -.5zM55.1 66.9l-.2 2.1 .7 .3zM59.5 69.6l.2 .1-.2 -.8zM53.4 80.1l-.1 -1.2-.2 1.1zM53.6 79.1l-.2 1 .4 -.1zM57.9 81.8l-.2 -1.5-.1 .7-.9 0 .1 .6zM58.1 80.4l-.2 1.4 .5 -.1zM62.1 81l-1.1 .3 .2 1.4 1.1 0zM66.9 60.3l.1 1 .8 .4-.4 -2.5zM76.2 63.2l-.2 -.9-.4 .9zM63.7 64.8l-.8 -4.3-.6 6.5 .5 .3 .2 .9zM69.2 65.5l-.7 -.4 .1 .7 .4 0zM70.9 70.8l.2 -1-.1 -.6zM76.4 80.3l-1.1 .6 0 .2 1.2 -.5zM69.4 82.5l.6 -.4-.2 -1.7zM63 82.5l-.3 -1.7-.4 1.9z"/>
<path fill="#ee7062" d="M61.4 38.6l-.6 1.2 1.1 1.2 .6 -1.2zM72.5 39l-.6 1.4 1 .8 .6 -1.4zM54.7 39.4l-.7 1.1 1.1 1.4 .6 -1.1zM84.9 44.2l1.1 .2 .6 -1.4-1.1 -.2zM77.4 67.2l-.3 -.2-1.2 .5 .7 .3 .7 -.3zM69.7 68.1l-1.2 .2 .7 .5 1.2 -.2zM91.4 48.8l1.1 -.2 .6 -1.3-1.1 .3zM93.5 52.2l1.2 -.4 .6 -1.1-1.2 .4zM101.4 57.2l-.4 -4.5-.4 .6zM93.3 57.8l1.2 -.6 .6 -.7-1.2 .6zM85.8 64.4l.6 -.1 1.2 -.6-.6 .1z"/>
<path fill="#fcd28c" d="M102.5 42l0 .3 .7 -4.5-.9 4.4zM103.2 37.8l-.6 5 .4 2.2 .5 -.3 .8 -7.6zM105.7 41.4l.6 3.4-.4 -4.1z"/>
<path fill="#e04662" d="M66.1 40.3l-.6 1.4 1 .7 .4 -1.6zM84 49.2l.6 -2.2 .3 -2.8-1 5zM98.3 56.5l.3 -.6-.3 .2zM93.3 57.8l-.4 3.3 .6 2.9 .2 -.1 .8 -6.7z"/>
<path fill="#fc8c62" d="M64.4 35.1l.2 1.4 0 .1zM95 42.5l-.2 1.8 .1 1.1 .6 -.2zM100 47.7l-.6 1.1 1 5 .6 -1.1zM32.8 53.9l-.8 -.6 1.2 1.5 .8 .6zM82 64.6l1 4.6 .7 .4-1.2 -5.3z"/>
<path fill="#fcc48c" d="M60.7 29.4l-1 -1.4-.7 1.4 1.1 1.4zM100.2 38.8l-1.1 .4-.6 1.5 1.1 -.5zM102.5 42l-1.2 .7-.6 1.3 1.2 -.7zM79.9 63.4l-.6 -.6-1.2 .6 .6 .6z"/>
<path fill="#fce0a8" d="M105.3 42.2l.6 -1.5-.9 -5.1-.7 1.5z"/>
<path fill="#2a0e62" d="M69.4 68.1l-.3 -1.5-.1 1.6zM65.2 69.5l.2 -.6-.7 -3.5-.3 4 .6 0zM61.8 70.8l.8 0 .1 -.3-.5 -2.9zM66.6 70.5l.3 0-.3 -1.7-.3 2.4z"/>
<path fill="#a82a7e" d="M64.7 47.1l-.7 1.3 .3 .2 .2 1.5 .4 -3.9zM40.3 59.6l.1 -.6-.2 0zM91.2 66.8l.5 5.8 .6 -.8zM44.6 70.6l.5 .1-.4 -.3zM45 71l-.4 -.3-.5 5.2zM76.6 80.2l.4 -2-.2 -.1z"/>
<path fill="#fca870" d="M100.5 44.9l.6 -1.7-.9 -4.4-.6 1.4z"/>
<path fill="#fcfcc4" d="M103.2 37.8l1.1 -.7 .7 -1.5-1.2 .7z"/>
<path fill="#1c0e54" d="M64.4 64.4l.7 .4-.2 -1.3zM65.2 80.8l-.3 1.6 .6 -.3z"/>
<path fill="#2a0e54" d="M58.2 65.1l-.2 -.9-.3 .5zM72.2 80.5l-.1 .8 .4 -.4-.1 -.4zM63.8 82.4l1.1 0 0 -.5-.1 .3z"/>
<path fill="#1c0e46" d="M69 65.8l.3 .1-.1 -.4zM60.6 81.2l-.1 .3 .4 -.2z"/>
<path fill="#fff" d="M16.2 248.4l102.2 0 0 -102.2-102.2 0z"/>
<path fill="#f9f9f9" stroke="#f9f9f9" stroke-width="1" stroke-linejoin="miter" d="M24 223.2l33.7 -28.3-.5 -40.8-35.3 25.8M57.7 194.9l54.2 15.8 1.9 -42.3-56.6 -14.3M24 223.2l57.4 18.8 30.5 -31.3-54.2 -15.8"/>
<path fill="none" stroke="#e2e2e2" stroke-width=".4" d="M36.4 227.2l33.1 -28.9 0 -41.1M51.6 232.2l32.2 -29.7 .7 -41.5M67.2 237.3l31.4 -30.5 1.3 -41.9M30.4 173.7l1.7 42.7 56.6 18M40.1 166.6l1.3 42 55.7 17.2M49.4 159.8l.8 41.4 54.9 16.4M112.1 204.9l-54.4 -15.6-34 28M112.6 195.1l-55.1 -15.3-34.3 27.5M113 185.1l-55.6 -14.9-34.7 26.8M113.5 174.9l-56.2 -14.6-35.1 26.2"/>
<path fill="none" stroke="#d0d0d0" stroke-width=".5" stroke-linecap="square" d="M24 223.2l57.4 18.8"/>
<path fill="none" stroke="#1c1c1c" stroke-width=".8" stroke-linecap="square" d="M36.4 227.2M51.6 232.2M67.2 237.3"/>
<path fill="none" stroke="#d0d0d0" stroke-width=".5" stroke-linecap="square" d="M111.9 210.7l-30.5 31.3"/>
<path fill="none" stroke="#1c1c1c" stroke-width=".8" stroke-linecap="square" d="M88.7 234.4M97.1 225.8M105.1 217.6"/>
<path fill="none" stroke="#d0d0d0" stroke-width=".5" stroke-linecap="square" d="M24 223.2l-2.1 -43.3"/>
<path fill="none" stroke="#1c1c1c" stroke-width=".8" stroke-linecap="square" d="M23.7 217.3M23.2 207.3M22.7 197M22.2 186.5"/>
<text x="35.5" y="233.9" font-size="4.9" text-anchor="middle">−20</text>
<text x="51.2" y="239" font-size="4.9" text-anchor="middle">0</text>
<text x="66.9" y="244.1" font-size="4.9" text-anchor="middle">20</text>
<text x="91.8" y="240.3" font-size="4.9" text-anchor="middle">−20</text>
<text x="100" y="231.9" font-size="4.9" text-anchor="middle">0</text>
<text x="108.2" y="223.6" font-size="4.9" text-anchor="middle">20</text>
<text x="20.1" y="221" font-size="4.9" text-anchor="middle">5</text>
<text x="19.6" y="210.5" font-size="4.9" text-anchor="middle">10</text>
<text x="19.2" y="200.1" font-size="4.9" text-anchor="middle">15</text>
<text x="18.7" y="189.7" font-size="4.9" text-anchor="middle">20</text>
<text x="47.3" y="245.4" font-size="8.45" text-anchor="middle">x1</text>
<text x="106.4" y="235.9" font-size="8.45" text-anchor="middle">x2</text>
<path fill="none" stroke="#fc8961" stroke-width=".9" stroke-dasharray=".7,.8" d="M77.8 223.7l1 -1.1 .2 -.4 .2 -.9 0 -.4-.1 -.8-.1 -.4-.4 -.8-1 -1.2-1.4 -.9-1.7 -.9-1.4 -.4-1.4 -.3-2.2 -.3-1.5 0-1.6 .1-2.2 .3-2 .6-1.2 .5-1.1 .6-1.4 1-.9 1.1-.3 .8-.1 .5 0 .8 .1 .4 .3 .8 .8 1.2 .9 .7 1.5 1 1.3 .5 1.4 .4 1.4 .3 1.6 .2 1.6 .1 1.5 -.1 2.3 -.3 1.5 -.3 1.9 -.7 1.2 -.6 1.3 -1.1"/>
<path fill="none" stroke="#1d1147" stroke-width="1.2" stroke-linecap="round" d="M68.2 220.7h0"/>
<path fill="none" stroke="#51127c" stroke-width=".5" d="M67.2 221.6l.2 -.3-.6 -.3 .2 -.5-.4 -.2 .6 0 .6 -.3 .8 .1 .6 -.2-.2 .3 .7 .4-.3 .4 .5 .2z"/>
<path fill="none" stroke="#51127c" stroke-width=".8" stroke-linecap="round" d="M67.2 219.9h0m-.9 .8h0m3.8 .1h0m-.9 .8h0"/>
<path fill="none" stroke="#832681" stroke-width=".5" d="M66.7 222.1l-.7 -.3 .1 -.4-.5 -.1-.1 -.3 .2 -.3-.4 -.3 1 -.9 .7 .1 .2 -.2 1 0 .6 -.2 .8 .2 .8 .3-.1 .4 .5 .1 .1 .3-.2 .3 .4 .2-1 1-.6 -.1-.3 .2-1 0-.6 .2z"/>
<path fill="none" stroke="#832681" stroke-width=".8" stroke-linecap="round" d="M68 219.1h0m-1.1 .2h0m4 .7h0m.3 .6h0m-6 .2h0m.3 .7h0m4 .7h0m-1.1 .2h0"/>
<path fill="none" stroke="#b73779" stroke-width=".5" d="M65.1 222.7l-.1 -.3 .2 -.2-.8 .2 .2 -.4-.6 -.2 .2 -.5-.5 -.3 .3 -.4-.6 -.2 .8 0-.4 -.5 .4 -.1 0 -.3 .5 -.1 .1 -.3 .8 0-.4 -.2 .1 -.2 .6 .1 .4 -.3 .8 .1 .6 -.3 .7 .2 .5 -.3 .2 .2-.3 .1 .2 .1 .6 -.2 .9 .2 .8 .3-.1 .4 .8 -.2-.3 .4 .7 .2-.2 .5 .5 .3-.3 .4 .6 .2-.8 0 .4 .5-.4 .1 0 .3-.4 .1-.1 .3-.9 0 .4 .2 0 .2-.7 -.1-.4 .3-.9 -.1-.5 .3-.7 -.2-.5 .3-.2 -.1 .2 -.3-.8 .2-1.6 -.4"/>
<path fill="none" stroke="#b73779" stroke-width=".8" stroke-linecap="round" d="M68.1 218.1h0m-2.3 .3h0m1.2-.1h0m5.5 1.1h0m.4 .7h0m.3 .6h0m-10 .1h0m.3 .6h0m.3 .7h0m6.8 1h0m-2.3 .4h0m1.2-.2h0"/>
<path fill="none" stroke="#e75263" stroke-width=".5" d="M63.8 223.8l.2 -.4-1.3 -.4-.1 -.2 .3 -.1-.1 -.2-.8 .2 .3 -.3-.6 -.3 .3 -.4-.7 -.4 .4 -.2-.1 -.2-.6 -.2 1 0-.6 -.4 .8 -.7-.6 -.4 1 0-.5 -.4 .9 .1 0 -.2-.4 -.1-.1 -.2 .9 .1 .7 -.7 .9 .1 .1 -.2-.5 0 0 -.3 .6 .2 .5 -.3 .8 .1 .6 -.3 .8 .1 .4 -.3 .2 .2-.4 .2 .2 .1 .7 -.3 1.3 .4 .7 -.3 .1 .2-.3 .2 .2 .1 .7 -.3 .2 .2-.3 .1 0 .2 .9 -.2 .1 .2-.4 .1 .1 .2 1.3 .3 .1 .2-.2 .2 0 .1 .8 -.2-.3 .3 .7 .3-.3 .5 .7 .3-.4 .2 .1 .2 .6 .2-1 0 .6 .4-.8 .7 .6 .4-1 0 .6 .4-.9 -.1 0 .2 .4 .1 .1 .2-1 -.1-.6 .7-1 -.1 0 .2 .5 .1 0 .2-.7 -.2-.4 .1-.1 .3-.8 -.2-.6 .4-.8 -.2-.4 .4-.2 -.3 .4 -.1-.2 -.2-.8 .3-1.3 -.4-.6 .4-.2 -.2 .4 -.2-.2 -.2-.7 .3-.2 -.2 .3 -.1-.1 -.2z"/>
<path fill="none" stroke="#e75263" stroke-width=".8" stroke-linecap="round" d="M65.2 217.2h0m1.1-.2h0m1.2-.2h0m1.9 .1h0m.7 .2h0m-6.5 .6h0m-.4 .4h0m9.9-.1h0m.7 .3h0m1.1 .8h0m-13.5 .6h0m13.8 0h0m-14.2 .4h0m14.5 .3h0m-14.7 .7h0m14.6 .3h0m-14.3 .4h0m.3 .6h0m1.1 .9h0m.7 .2h0m10.1-.1h0m-.4 .4h0m-6.7 .6h0m.8 .3h0m3.1-.1h0m1.2-.2h0m-2.4 .4h0"/>
<path fill="none" stroke="#e75263" stroke-width="1" stroke-linecap="round" d="M75 221.8h0"/>
<text x="68.4" y="144.4" font-size="8.45" text-anchor="middle">landscape of benchmark functions</text>
<path fill="#fae6c8" d="M79.6 242.6l26.7 -27.4-47.2 -13.9-29.2 25zM73.1 229.4l-.8 -.2-.4 .4-.8 -.2-.4 .4-.8 -.3-.4 .5-1.6 -.5-.4 .4-1.5 -.5-.5 .4-2.2 -.7-.5 .4-6 -1.9 .4 -.4-2.2 -.7 .4 -.5-1.5 -.4 .5 -.5-1.5 -.4 .4 -.4-.7 -.3 .4 -.4-.7 -.2 .5 -.4-.8 -.3 .5 -.4-.8 -.2 .5 -.4-.7 -.2 .9 -.8-.8 -.3 .9 -.8-.7 -.2 1.3 -1.2-.7 -.2 3.5 -3.2 .8 .3 1.3 -1.2 .7 .2 .9 -.7 .7 .2 .8 -.8 .8 .2 .4 -.3 .7 .2 .4 -.4 .8 .2 .4 -.4 .7 .3 .4 -.4 .8 .2 .4 -.4 .7 .2 .4 -.4 1.5 .5 .4 -.4 2.2 .7 .4 -.4 7.3 2.2-.4 .4 2.2 .7-.4 .4 1.5 .4-.4 .4 .8 .2-.4 .4 .7 .2-.4 .4 1.5 .5-.8 .8 .7 .2-.4 .4 .8 .2-.4 .4 .7 .3-.8 .8 .7 .2-1.2 1.2 .8 .3-4.2 4.1-.8 -.3-1.3 1.3-.7 -.2-.9 .8-.8 -.2-.4 .4-.8 -.3-.4 .5-.8 -.3z"/>
<path fill="#fae6c8" d="M59.1 201.3l-29.2 25 49.7 16.3 26.7 -27.4zM69.5 230l-1.6 -.5-.4 .4-1.5 -.5-.5 .4-2.2 -.7-.5 .4-6 -1.9 .4 -.4-2.2 -.7 .4 -.5-1.5 -.4 .5 -.5-1.5 -.4 .4 -.4-.7 -.3 .4 -.4-.7 -.2 .5 -.4-.8 -.3 .5 -.4-.8 -.2 .5 -.4-.7 -.2 .9 -.8-.8 -.3 .9 -.8-.7 -.2 1.3 -1.2-.7 -.2 3.5 -3.2 .8 .3 1.3 -1.2 .7 .2 .9 -.7 .7 .2 .8 -.8 .8 .2 .4 -.3 .7 .2 .4 -.4 .8 .2 .4 -.4 .7 .3 .4 -.4 .8 .2 .4 -.4 .7 .2 .4 -.4 1.5 .5 .4 -.4 2.2 .7 .4 -.4 7.3 2.2-.4 .4 2.2 .7-.4 .4 1.5 .4-.4 .4 .8 .2-.4 .4 .7 .2-.4 .4 1.5 .5-.8 .8 .7 .2-.4 .4 .8 .2-.4 .4 .7 .3-.8 .8 .7 .2-1.2 1.2 .8 .3-4.2 4.1-.8 -.3-1.3 1.3-.7 -.2-.9 .8-.8 -.2-.4 .4-.8 -.3-.4 .5-.8 -.3-.4 .4-.8 -.2-.4 .4-.8 -.2-.4 .4-.8 -.3z"/>
<text x="22" y="172.4" font-size="8.45" text-anchor="middle">F14(x1,x2)</text>
<path fill="#f4d3a2" d="M79.6 165.6l-21.1 -5.8-15 11.5-15.4 11.2 22.2 6.7 11.4 3.2 1.1 2.5 .7 3.1 1.1 2.3 1.2 7.9 .9 0 .9 4.4 1.1 -.4 .7 1.4 1.1 -8.4 1.2 -1.4 1.1 -6.6 .6 -1.7 6.4 1.8 14.1 -12.3 13.7 -12.6-21.1 -5.1z"/>
<path fill="#fcfcb6" d="M49.8 166.5l-12 9 1.1 .4-1.4 1 1.1 .4-1.5 1 1.2 .4-.8 .5 1.2 .4-1.5 1 1.2 .4-.8 .5 1.2 .4-.8 .5 2.3 .8-.7 .5 1.2 .3-.8 .6 2.4 .7-.8 .5 2.4 .8-.8 .5 20.5 5.8 .7 -.5 2.4 .6 .7 -.5 2.5 .6 .7 -.5 1.2 .3 .7 -.6 1.3 .3 .7 -.5 1.2 .3 .7 -.6 1.2 .3 .7 -.5 1.3 .3 .7 -.6 1.2 .3 1.4 -1.1 1.2 .2 .7 -.5 1.2 .3 2 -1.7 1.2 .2 9.7 -8.6-1.2 -.3 1.2 -1.2-1.2 -.2 1.3 -1.2-1.2 -.3 1.2 -1.1-1.2 -.3 .6 -.6-1.2 -.2 .7 -.6-1.2 -.3 .6 -.6-1.2 -.2 .6 -.6-1.2 -.3 .7 -.6-2.4 -.5 .6 -.6-2.3 -.5 .6 -.6-2.3 -.6 .6 -.6-17.1 -4.4-.6 .6-3.4 -1-.7 .6-1.1 -.3-.6 .5-2.3 -.6-.6 .5-1.1 -.3-.7 .6-1.1 -.4-.6 .6-1.2 -.4-.6 .6-1.1 -.4-.7 .6-1.1 -.4-.7 .6-1.1 -.4-1.3 1.1-1.1 -.3-1.4 1.1zM62.9 190.1l-.7 .4-7.3 -1.9-7.1 -2.2 .7 -.5-2.3 -.8 .7 -.4-2.3 -.8 .7 -.5-1.1 -.4 .7 -.4-1.2 -.5 .8 -.4-1.2 -.4 .7 -.5-1.1 -.4 .7 -.5-1.2 -.4 .8 -.5-1.2 -.5 1.5 -.9-1.2 -.5 1.5 -.9-1.2 -.5 8.5 -6.4 1.1 .5 2 -1.7 1.2 .4 .6 -.6 1.2 .4 1.3 -1.2 1.1 .4 .7 -.6 1.1 .4 .7 -.6 1.1 .4 .6 -.6 1.2 .4 .6 -.7 2.3 .8 .6 -.6 2.3 .7 .6 -.7 2.3 .7 .6 -.6 11.5 3-.7 .7 3.5 .7-.6 .7 2.3 .4-.6 .7 1.2 .2-.7 .7 2.4 .4-.6 .7 1.2 .2-.7 .6 1.2 .2-1.2 1.3 1.2 .2-.7 .6 1.2 .2-1.2 1.3 1.2 .2-2 1.8 1.3 .2-6.5 5.7-1.3 -.2-1.3 1.1-1.2 -.2-1.4 1-1.2 -.2-1.3 1-1.3 -.2-.7 .5-1.2 -.2-.7 .5-1.2 -.3-.7 .5-1.2 -.2-.7 .5-2.5 -.5-.7 .4-1.2 -.3-.7 .5z"/>
<path fill="#fcfcc4" d="M37.8 175.5l-9.7 7 15.1 4.6 .8 -.5-2.4 -.8 .8 -.5-2.4 -.7 .8 -.6-1.2 -.3 .7 -.5-2.3 -.8 .8 -.5-1.2 -.4 .8 -.5-1.2 -.4 1.5 -1-1.2 -.4 .8 -.5-1.2 -.4 1.5 -1-1.1 -.4 1.4 -1zM58.5 159.8l-8.7 6.7 1.1 .4 1.4 -1.1 1.1 .3 1.3 -1.1 1.1 .4 .7 -.6 1.1 .4 .7 -.6 1.1 .4 .6 -.6 1.2 .4 .6 -.6 1.1 .4 .7 -.6 1.1 .3 .6 -.5 2.3 .6 .6 -.5 1.1 .3 .7 -.6 3.4 1 .6 -.6zM70 193.1l-2.5 -.6-.7 .5-2.4 -.6-.7 .5 16.1 4.4 9.5 -8.3-1.2 -.2-2 1.7-1.2 -.3-.7 .5-1.2 -.2-1.4 1.1-1.2 -.3-.7 .6-1.3 -.3-.7 .5-1.2 -.3-.7 .6-1.2 -.3-.7 .5-1.3 -.3-.7 .6-1.2 -.3zM90.5 169l2.3 .6-.6 .6 2.3 .5-.6 .6 2.4 .5-.7 .6 1.2 .3-.6 .6 1.2 .2-.6 .6 1.2 .3-.7 .6 1.2 .2-.6 .6 1.2 .3-1.2 1.1 1.2 .3-1.3 1.2 1.2 .2-1.2 1.2 1.2 .3 8.6 -8-16.5 -4z"/>
<path fill="#fceeb6" d="M51.1 169.3l-8.5 6.4 1.2 .5-1.5 .9 1.2 .5-1.5 .9 1.2 .5-.8 .5 1.2 .4-.7 .5 1.1 .4-.7 .5 1.2 .4-.8 .4 1.2 .5-.7 .4 1.1 .4-.7 .5 2.3 .8-.7 .4 2.3 .8-.7 .5 7.1 2.2 7.3 1.9 .7 -.4 3.6 .8 .7 -.5 1.2 .3 .7 -.4 2.5 .5 .7 -.5 1.2 .2 .7 -.5 1.2 .3 .7 -.5 1.2 .2 .7 -.5 1.3 .2 1.3 -1 1.2 .2 1.4 -1 1.2 .2 1.3 -1.1 1.3 .2 6.5 -5.7-1.3 -.2 2 -1.8-1.2 -.2 1.2 -1.3-1.2 -.2 .7 -.6-1.2 -.2 1.2 -1.3-1.2 -.2 .7 -.6-1.2 -.2 .6 -.7-2.4 -.4 .7 -.7-1.2 -.2 .6 -.7-2.3 -.4 .6 -.7-3.5 -.7 .7 -.7-11.5 -3-.6 .6-2.3 -.7-.6 .7-2.3 -.7-.6 .6-2.3 -.8-.6 .7-1.2 -.4-.6 .6-1.1 -.4-.7 .6-1.1 -.4-.7 .6-1.1 -.4-1.3 1.2-1.2 -.4-.6 .6-1.2 -.4-2 1.7zM69.3 189.3l-.7 .3-2.4 -.4-.7 .3-3.6 -.7-.7 .3-8.4 -2.4 .8 -.2-3.6 -1.3 .7 -.3-2.3 -1 .7 -.3-2.3 -1 .7 -.3-1.2 -.5 .8 -.4-1.2 -.5 .7 -.4-1.1 -.5 1.4 -.8-1.1 -.6 1.4 -.8-1.1 -.6 2.1 -1.4-1.1 -.6 4.8 -3.7 1.2 .5 2 -1.8 1.2 .6 1.3 -1.3 1.1 .5 .7 -.7 1.1 .5 .7 -.7 1.1 .5 .7 -.7 1.1 .5 .7 -.7 1.1 .5 .7 -.8 1.1 .5 .6 -.8 3.4 1.3 .7 -.8 4.6 1.4 .6 -.8 3.4 .9-.6 .8 4.6 1-.6 .8 2.3 .3-.6 .8 2.3 .3-.6 .8 1.2 .1-.7 .8 1.2 .1-.6 .7 1.2 .1-.7 .8 1.2 .1-1.3 1.4 1.2 0-1.2 1.4 1.2 0-2.6 2.6 1.2 0-2 1.7-1.2 0-2.6 2.1-1.2 -.1-2 1.4-1.3 -.1-.6 .4-1.3 -.1-.6 .4-1.3 -.1-.6 .4-1.3 -.1-.6 .4-1.3 -.2-.7 .4z"/>
<path fill="#fce0a8" d="M51.7 173.2l-2.1 1.6 1.1 .7-2.8 1.9 1.2 .6-1.5 .8 1.2 .7-1.4 .6 1.1 .7-.7 .3 1.2 .6-.8 .3 1.2 .5-.7 .3 2.3 1.1-.7 .2 2.3 1-.7 .2 4.7 1.7-.7 .2 3.6 1 .7 -.2 4.8 1 .7 -.2 2.4 .3 .7 -.3 1.2 .2 .7 -.3 2.4 .2 .7 -.3 1.2 0 1.4 -.7 1.2 0 .7 -.3 1.2 0 2 -1.3 1.2 -.1 2.7 -2 3.2 -3.1-1.2 0 1.3 -1.4-1.2 0 1.3 -1.5-1.2 0 .6 -.8-1.1 0 .6 -.8-1.2 -.1 .7 -.8-1.2 -.1 .6 -.8-2.3 -.3 .6 -.8-2.3 -.4 .6 -.8-5.7 -1.3-4.6 -1.4-.7 .8-3.4 -1.3-.6 .8-1.2 -.5-.6 .9-2.3 -1.1-.6 .8-1.2 -.6-1.3 1.6-1.1 -.6-.7 .7-1.1 -.6-1.4 1.4-1.1 -.7-2.8 2.5zM66.4 188.6l-3.1 -.2-4.8 -1.1-3.5 -1.2 .7 -.1-3.5 -1.6 .7 -.1-1.2 -.6 .8 -.1-2.4 -1.3 .7 -.2-1.1 -.7 1.4 -.4-1.1 -.8 .7 -.3-1.2 -.8 2.1 -1.1-1.1 -.8 2.1 -1.4 2.7 -2.4 1.2 .8 2 -2.2 1.2 .8 .6 -.8 1.2 .7 .6 -.9 1.2 .7 .6 -.9 1.2 .7 .6 -.9 1.2 .6 .6 -1 2.3 1.1 .6 -1 3.5 1.4 .6 -1 5.8 1.5-.7 1 3.5 .4-.6 1 2.3 .1-.6 1 1.1 0-.6 .9 1.2 0-.7 .9 1.2 -.1-.6 .9 1.2 -.1-1.3 1.6 1.2 -.1-2 2.1 1.2 -.1-3.3 2.8-1.2 .2-2 1.3-1.2 .2-1.3 .6-5.7 .9z"/>
<path fill="#fceea8" d="M51.9 171.5l-4.8 3.7 1.1 .6-2.1 1.4 1.1 .6-1.4 .8 1.1 .6-1.4 .8 1.1 .5-.7 .4 1.2 .5-.8 .4 1.2 .5-.7 .3 2.3 1-.7 .3 2.3 1-.7 .3 3.6 1.3-.8 .2 8.4 2.4 .7 -.3 3.6 .7 .7 -.3 2.4 .4 .7 -.3 1.2 .2 .7 -.4 1.3 .2 .6 -.4-2.4 -.2-.7 .3-1.2 -.2-.7 .3-2.4 -.3-.7 .2-4.8 -1-.7 .2-3.6 -1 .7 -.2-4.7 -1.7 .7 -.2-2.3 -1 .7 -.2-2.3 -1.1 .7 -.3-1.2 -.5 .8 -.3-1.2 -.6 .7 -.3-1.1 -.7 1.4 -.6-1.2 -.7 1.5 -.8-1.2 -.6 2.8 -1.9-1.1 -.7 2.1 -1.6 1.1 .7 2.8 -2.5 1.1 .7 1.4 -1.4 1.1 .6 .7 -.7 1.1 .6 1.3 -1.6-1.1 -.5-.7 .7-1.1 -.5-.7 .7-1.1 -.5-1.3 1.3-1.2 -.6-2 1.8zM66.4 170.5l.6 -.9 1.2 .5 .6 -.8 3.4 1.3 .7 -.8 4.6 1.4 5.7 1.3-.6 .8 2.3 .4-.6 .8 2.3 .3-.6 .8 1.2 .1-.7 .8 1.2 .1-.6 .8 1.1 0-.6 .8 1.2 0-1.3 1.5 1.2 0-1.3 1.4 1.2 0-5.2 4.6-.7 .5-1.2 .1-2 1.3-1.2 0-.7 .3-1.2 0-1.4 .7 1.3 .1 .6 -.4 1.3 .1 .6 -.4 1.3 .1 2 -1.4 1.2 .1 2.6 -2.1 1.2 0 2 -1.7-1.2 0 2.6 -2.6-1.2 0 1.2 -1.4-1.2 0 1.3 -1.4-1.2 -.1 .7 -.8-1.2 -.1 .6 -.7-1.2 -.1 .7 -.8-1.2 -.1 .6 -.8-2.3 -.3 .6 -.8-2.3 -.3 .6 -.8-4.6 -1 .6 -.8-3.4 -.9-.6 .8-4.6 -1.4-.7 .8-3.4 -1.3-.6 .8-1.1 -.5-.7 .8-1.1 -.5-.7 .7zM62.3 169.6l1.2 .6 .6 -.8-1.1 -.5zM73.1 188.9l1.3 .1 .6 -.4-1.2 0z"/>
<path fill="#fcd29a" d="M57.2 173.5l-3.5 3.2-2.8 1.7 1.2 .9 .7 -.3 2.1 -1.3 2.7 -2.6 1.2 1.1 1.3 -1.8 1.2 1 1.3 -1.9-1.1 -.8-.7 .9-1.1 -.8-1.4 1.6zM53.2 180.3l-1.1 -1-1.4 .6 1.1 .9zM50.8 182.1l1.2 .7-.7 .1 2.3 1.4 .8 .1-1.2 -.8 .7 0-1.2 -.8 .7 -.1-1.1 -.9 .7 -.1-1.2 -.9-1.4 .4 1.2 .7zM56 185.7l-2.4 -1.4-.7 0 2.4 1.2zM59.3 187.3l1.1 .3 1.2 .3 1.2 .2 2.4 .4 .7 0-4.7 -.7-2.4 -.7-3.5 -1.6-.8 0zM66.9 172l-.7 1 2.3 1.4 .6 -1.2 2.3 1.2 .7 -1.2-3.4 -1.6-.7 1zM72.1 173.2l3.4 1.2 3.5 .7-.7 1.3 3.5 .1 .7 -1.1-2.4 -.1 .7 -1.1-4.6 -1-3.5 -1.1zM65.1 172.3l-.7 1 1.1 .8 .7 -1.1zM62.6 173.5l1.1 .8 .7 -1-1.1 -.8zM74.7 187.9l3.1 -.6 2 -1.1zM81.7 178.8l2.3 -.4 .7 -1-1.2 .1 .7 -1-2.4 0-.6 1.2 1.1 -.1zM82.7 180.5l1.2 -.3-.6 1 1.2 -.4 1.3 -1.7-1.2 .1 .6 -.9-1.2 .1zM84.5 180.8l-2 2.6 1.2 -.5-2 1.9-1.9 1.4 1.2 -.2 .6 -.5 4 -3.6-1.2 .3 1.3 -1.6z"/>
<path fill="#fcc48c" d="M59.2 178.2l1.4 -1.8-1.2 -1.1-1.3 1.7zM56.9 175.8l-3.4 2.8 1.2 1.2 1.3 -.9 2.1 -1.9zM53.7 181.6l1.4 -.3 .7 -.2-1.1 -1.3-2.2 .7zM53.7 181.6l-.7 .1 1.2 1 .7 .1zM54.2 182.7l-.8 0 1.2 1 .7 .2zM55.8 184.8l-1.2 -1.1-.7 -.1 1.2 .9zM55.1 184.5l-.7 -.1 1.8 1zM57.8 186.6l-2.3 -1.5-.7 -.1 1.2 .7zM69.6 175.1l-2.3 -1.4-.6 1.2 2.3 1.7zM73 176.9l3.5 .9 3.5 0 .6 -1.3-3.4 -.2-2.3 -.5-4.6 -2-.7 1.3zM65.5 174.1l-.6 1.2 1.1 .9 .7 -1.3zM63.7 174.3l-.6 1.1 1.1 1.1 .7 -1.2zM61.9 174.5l-1.3 1.9 1.1 1.3 1.4 -2.3zM77.9 186.9l3.3 -2.1 2.6 -3.1-1.2 .4-2.6 3.4zM79.8 180.4l2.4 -.7 .7 -1.1-1.2 .2 .6 -1.2-2.3 .2-.7 1.4 1.2 -.2zM81.4 182.7l1.2 -.6 1.3 -1.9-1.2 .3 .7 -1-1.2 .2-1.3 2.5 1.2 -.6z"/>
<path fill="#fce09a" d="M58.3 174.4l1.4 -1.6-1.2 -.8-1.3 1.5zM52.6 175.8l-2.1 1.4 1.1 .8 2.1 -1.3 2.8 -2.5-1.2 -.8zM50.7 179.9l1.4 -.6-1.2 -.9-1.4 .7zM50.7 179.9l-.7 .3 1.1 .8 .7 -.2zM50.4 181.2l-.7 .2 1.1 .7 .8 -.2zM50.8 182.1l-.7 .2 1.2 .6 .7 -.1zM52.5 183.6l-.8 .1 1.2 .6 .7 0zM55.3 185.5l-2.4 -1.2-.7 .1 2.3 1.1zM58.5 187.3l3.6 .9 1.9 .1-4.7 -1-3.6 -1.3-.7 .1zM67.5 171l-.6 1 1.1 .6 .7 -1zM72.7 172.1l-2.3 -1-.6 1 2.3 1.1zM80.3 173l-5.8 -1.5-.6 1 5.7 1.5zM65.7 171.4l-.6 .9 1.1 .7 .7 -1zM63.9 171.6l-.6 .9 1.1 .8 .7 -1zM62.1 171.8l-.6 .9 1.1 .8 .7 -1zM60.3 172l-.6 .8 1.1 .8 .7 -.9zM77.8 187.3l-1.9 .4 1.2 -.1zM68.3 188.6l-2.4 -.1-.7 0 2.4 .2zM70.2 188.5l-1.9 .1 1.2 0zM83.1 174.4l-2.3 -.2-.7 1.1 2.4 .1zM84.8 175.5l-2.3 -.1-.7 1.1 2.4 0zM84.2 176.5l-.7 1 1.2 -.1 .6 -.9zM84.7 177.4l-.7 1 1.2 -.1 .7 -.9zM85.2 178.3l-.6 .9 1.2 -.1 .6 -.9zM85.7 180.6l1.3 -1.6-1.2 .1-1.3 1.7zM85.7 180.6l-1.3 1.6 1.2 -.3 1.3 -1.4zM84.9 182.6l-3.3 2.9 1.2 -.2 3.3 -2.8zM79.6 186.8l1.4 -.8-1.2 .2-1.4 .8z"/>
<path fill="#fcb67e" d="M69 176.6l-1.2 -.8-.6 1.4 1.1 1zM67.2 177.2l-1.2 -1-.6 1.4 1.1 1.2zM58.6 179l1.1 1.6 2 -2.9-1.1 -1.3zM65.4 177.6l-1.2 -1.1-.7 1.3 1.2 1.3zM63.5 177.8l-1.1 -1.3-.7 1.2 1.2 1.3zM56.7 178.3l-1.4 1.1 1.2 1.4 1.4 -1.1zM55.6 182.8l1.4 -.2-1.2 -1.5-1.4 .4zM55.3 183.9l1.4 .4-1.1 -1.5-1.4 -.1zM56.5 185.1l-1.2 -1.2-.7 -.2 1.2 1.1zM56.7 185.9l1.1 .7-2 -1.8-.7 -.3 2.3 1.8zM72.4 178.7l2.3 .7 3.5 0 .6 -1.5-2.3 -.1-2.3 -.5-3.4 -1.5-.7 1.6zM80.5 179l-2.3 .4-.7 1.7 2.3 -.7zM81 180.1l-1.2 .3-.6 1.6 1.2 -.6zM81.6 180.9l-1.2 .5-.7 1.5 1.2 -.7zM80.8 183.8l.6 -1.1 .7 -1.1-1.2 .6-1.3 2.5zM80.8 183.8l-2.2 2.8 1.4 -1.1 2 -2.4z"/>
<path fill="#fca870" d="M60.4 179.7l1.1 1.8 1.4 -2.5-1.2 -1.3zM66.5 178.8l-1.1 -1.2-.7 1.5 1.1 1.4zM64.7 179.1l-1.2 -1.3-.6 1.2 1.1 1.6zM58.6 179l-2.8 2.1 1.2 1.5 1.4 -.6 1.3 -1.4zM56.7 184.3l1.4 .1-1.1 -1.8-1.4 .2zM57.9 185.9l-1.2 -1.6-1.4 -.4 1.2 1.2zM56.5 185.1l-.7 -.3 2.1 1.8-.2 -.2zM68.3 178.2l3.4 2.5 .7 -2-3.4 -2.1zM68.3 178.2l-1.1 -1-.7 1.6 1.1 1.2zM75.2 181.5l2.3 -.4 .7 -1.7-2.4 .1zM76.8 183.1l2.4 -1.1 .6 -1.6-2.3 .7zM80.4 181.4l-1.2 .6-.7 1.6 1.2 -.7zM79.6 184.7l.6 -1.3 .7 -1.2-1.2 .7-1.3 2.8zM78.4 186.7l1.1 -1.1 1.3 -1.8-1.2 .9z"/>
<path fill="#fc8c62" d="M68.1 183.4l.7 -2.2-1.2 -1.2-.6 2zM60.9 182.5l1.1 2.2 1.4 -2.6-1.2 -1.8zM66.3 184.1l.7 -2.1-1.2 -1.5-.6 1.8zM64.5 184.1l.7 -1.8-1.2 -1.7-.6 1.5zM57.4 184.4l1.2 1.9 1.4 .3-1.2 -2.3zM58.2 186.8l.4 .2-.7 -1.1-.7 -.4zM72.2 183.6l1.2 .3 2.3 -.3 .6 -2.2-2.3 .1-1.1 -.3-2.3 -1.2-.7 2.2zM77.4 184.5l.6 -1.9-1.2 .5-.6 2.2zM77.9 185.3l.6 -1.7-1.1 .9-.7 2zM79 184.3l-1.1 1-.7 1.8 1.2 -1.4zM77.9 186.9l.4 -.2 .6 -.9z"/>
<path fill="#fc9a70" d="M67 182l.6 -2-1.1 -1.2-.7 1.7zM63.4 182.1l.6 -1.5-1.1 -1.6-.7 1.3zM59 181.4l-2 1.2 1.1 1.8 1.4 -.5 2 -2.4-1.1 -1.8zM58.6 186.3l-1.2 -1.9-.7 -.1 1.2 1.6zM56.5 185.1l1.7 1.7-1 -1.3zM68.8 181.2l.6 -2.1-1.1 -.9-.7 1.8zM72.9 181.2l2.3 .3 .6 -2-2.3 -.4-1.1 -.4-.7 2zM76.8 183.1l.7 -2-1.2 .3-.6 2.2zM78.5 183.6l.7 -1.6-1.2 .6-.6 1.9zM79 184.3l.7 -1.4-1.2 .7-.6 1.7zM78.9 185.8l.7 -1.1-1.2 1-.6 1.3zM78.4 186.7l.4 -.3 .7 -.8z"/>
<path fill="#fcd28c" d="M67.3 173.7l-1.1 -.7-.7 1.1 1.2 .8zM72.1 173.2l-.7 1.2 3.5 1.4 3.4 .6 .7 -1.3-3.5 -.7zM70.3 173.8l-1.2 -.6-.6 1.2 1.1 .7zM65.5 174.1l-1.1 -.8-.7 1 1.2 1zM63.7 174.3l-1.1 -.8-.7 1 1.2 .9zM61.3 175.4l-1.2 -1-.7 .9 1.2 1.1zM58.8 176.2l-1.2 -1.1-.7 .7 1.2 1.2zM53.5 178.6l-1.4 .7 1.1 1 1.5 -.5zM53.7 181.6l-1.2 -1.1-.7 .3 1.2 .9zM54.2 182.7l-1.2 -1-.7 .1 1.1 .9zM54.6 183.7l-1.2 -1-.7 .1 1.2 .8zM55.1 184.5l-1.2 -.9-.7 0 1.2 .8zM55.5 185.1l-1.1 -.7-.8 -.1 1.2 .7zM58.3 186.9l-2.3 -1.2-.7 -.2 2.3 1.1zM81.8 176.5l-1.2 0-.6 1.3 1.2 -.1zM84 178.4l-1.1 .2-.7 1.1 1.2 -.2zM84.5 180.8l-1.2 .4-.7 .9 1.2 -.4zM80.5 185.4l-2 1.2 1.3 -.4 1.3 -.8 2.6 -2.5-1.2 .5z"/>
<path fill="#fc7062" d="M66.3 184.1l1.2 1.9 .6 -2.6-1.1 -1.4zM69.3 184.8l2.3 1.7 1.1 .3 1.2 -.2 1.1 -.6 .7 -2.4-2.3 .3-1.2 -.3-2.3 -1.4zM64.5 184.1l1.2 2.2 .6 -2.2-1.1 -1.8zM63.2 187.4l.6 -1.5-1.1 -2.4-.7 1.2zM59.1 187.1l.6 .3-.4 -.9-.7 -.2z"/>
<path fill="#fc7e62" d="M68.1 183.4l1.2 1.4 .6 -2.6-1.1 -1zM62.7 183.5l1.1 2.4 .7 -1.8-1.1 -2zM60.2 183.4l-1.4 .9 1.2 2.3 .7 -.3 1.3 -1.6-1.1 -2.2zM76.2 185.3l.6 -2.2-1.1 .5-.7 2.4zM75.5 187.7l1.2 -1.2 .7 -2-1.2 .8zM76.4 187.5l.8 -.4 .7 -1.8-1.2 1.2zM77.8 187l.6 -1.3-1.3 1.5zM57.9 185.9l.7 1.1 .5 .1-.5 -.8z"/>
<path fill="#fcc47e" d="M62.4 176.5l1.1 1.3 .7 -1.3-1.1 -1.1zM56.7 178.3l1.2 1.4 1.3 -1.5-1.1 -1.2zM54.7 179.8l1.1 1.3 .7 -.3-1.2 -1.4zM54.9 182.8l.7 0-1.2 -1.3-.7 .1zM66 176.2l1.2 1 .6 -1.4-1.1 -.9zM70.1 177.4l.7 -1.6-1.2 -.7-.6 1.5zM65.4 177.6l.6 -1.4-1.1 -.9-.7 1.2zM78.2 179.4l1.1 -.2 .7 -1.4-1.2 .1zM81.6 180.9l.6 -1.2-1.2 .4-.6 1.3zM82 183.1l.6 -1-1.2 .6-.6 1.1z"/>
<path fill="#ee6262" d="M64.5 184.1l-.7 1.8 1.2 2.5 .7 -2.1zM61.3 187.8l1.4 .3 .5 -.7-1.2 -2.7-1.3 1.6zM60.7 186.3l-.7 .3 .4 1 .9 .2zM66.4 193.7l-2.7 -.8-.7 -.1 1.2 .9 1.2 .2zM67.5 186l1.1 1.7 .7 -2.9-1.2 -1.4zM74.6 187.9l.9 -.2 .7 -2.4-1.2 .7zM75.5 187.7l.9 -.2 .3 -1zM68.4 194.8l.4 -.5-.7 -.2z"/>
<path fill="#541c7e" d="M70.5 205.2l1.2 -1.4-.7 -2.4-1.1 3.7zM69.2 204.5l-.6 -4.2-1.2 2.9 .7 8zM67.1 209.4l.1 -.6-.2 -.4z"/>
<path fill="#8c2a7e" d="M71.7 203.8l1.2 -7-1.4 .5-1.1 6.3 .6 -2.2zM66.3 201.9l-.7 -2.7-.9 .5 .4 1.5zM68.6 200.3l-.7 -1.9-1.2 3.2 .7 1.6z"/>
<path fill="#e05462" d="M63.5 188.2l1.4 .2-1.1 -2.5-.6 1.5zM69.9 188.5l2.5 -.2 .3 -1.5-1.1 -.3-1.2 -.7zM73.5 188.1l.4 -1.5-1.2 .2-.3 1.5zM62.2 192.5l.4 1.1 1.1 1.6-.7 -2.3zM67.2 195.8l1.2 -1-.3 -.7-1.6 -.4z"/>
<path fill="#c43870" d="M62.6 194.5l.9 3.5-.6 -2.9 1.5 4.7-.7 -4.6-1.1 -1.6 .7 2.2zM73.3 195.5l-.9 -.2-.9 2 1.4 -.5zM68.4 194.8l-1.2 1 .7 2.6 1.1 -.9zM70.2 195l-1.2 2.5 .7 1.4 1.2 -2.8z"/>
<path fill="#ee5462" d="M67.5 186l-1.2 -1.9-.6 2.2 1 2.2zM69.3 184.8l-.7 2.9 .7 .8 .6 0 .5 -2.7zM75 186l-1.1 .6-.4 1.5 1.1 -.2zM62.6 193.6l-.4 -1.1-.4 -.1z"/>
<path fill="#b6387e" d="M64.4 199.8l1.2 -.6-.7 -3.3-1.2 -.7zM66.7 201.6l1.2 -3.2-.7 -2.6-1.2 .6z"/>
<path fill="#e04670" d="M65 188.4l1.7 .1-1 -2.2zM63.7 195.2l2.3 1.2-.6 -2.5-1.2 -.2-1.2 -.8zM70.2 195l-.1 -.4-1.3 -.3-.4 .5 .6 2.7z"/>
<path fill="#540e7e" d="M65.1 201.2l.7 7 1.1 0-.6 -6.3z"/>
<path fill="#460e70" d="M66.9 208.2l-.1 0 .3 1.2-.1 -1 1.1 2.8-.7 -8-1.1 -1.3z"/>
<path fill="#e04662" d="M66.8 188.5l1.6 0 .2 -.8-1.1 -1.7zM63.5 188.2l-.3 -.8-.5 .7zM67.2 195.8l-.7 -2.1-1.1 .2 .6 2.5zM71.5 195l-1.1 -.3-.2 .3 .7 1.1z"/>
<path fill="#a8387e" d="M73.1 196.2l-.2 .6-.1 .4 .2 -.5zM66.7 201.6l-.7 -5.2-1.1 -.5 .7 3.3zM69.7 198.9l-.7 -1.4-1.1 .9 .7 1.9z"/>
<path fill="#a82a7e" d="M69.7 198.9l.7 4.7 1.1 -6.3-.6 -1.2z"/>
<path fill="#fc9a62" d="M70.6 180l-1.2 -.9-.6 2.1 1.1 1zM65.8 180.5l-1.1 -1.4-.7 1.5 1.2 1.7z"/>
<path fill="#7e1c7e" d="M68.6 200.3l.6 4.2 1.2 -.9-.7 -4.7z"/>
<path fill="#2a0e54" d="M68.1 211.2l.6 1 1.2 -7.1-.7 -.6z"/>
<path fill="#1c0e38" d="M70 205.1l-1.3 7.1 .7 1.4zM67.1 209.3l-.4 -1.1 .9 4.4z"/>
<path fill="#d24670" d="M69.3 188.5l-.7 -.8-.2 .8zM62.6 193.6l-.9 -1.2 1.6 3.4zM71.5 195l-.6 1.1 .6 1.2 .9 -2z"/>
<path fill="#380e70" d="M70.5 205.2l-.5 -.1-.6 8.5z"/>
<path fill="#0e001c" d="M68.1 211.2l-.9 -2.4 .4 3.8 1.1 -.4z"/>
<path fill="#9a2a7e" d="M63.5 198l1.1 2.3-.2 -.5-1.1 -3.8-.4 -.9zM64.7 199.7l-.3 .1 .7 1.4z"/>
<path fill="#701c7e" d="M65.8 208.2l-.7 -7-.5 -1 0 .1z"/>
<path fill="#7e2a7e" d="M65.6 199.2l.7 2.7 1.1 1.3-.7 -1.6z"/>
<path fill="#621c7e" d="M70.3 203.6l-1.1 .9 .7 .6z"/>
<path fill="#ee7062" d="M59.3 186.5l.4 .9 .7 .2-.4 -1z"/>
<path fill="#fff" d="M16.2 384.5l102.2 0 0 -102.2-102.2 0z"/>
<path fill="#f9f9f9" stroke="#f9f9f9" stroke-width="1" stroke-linejoin="miter" d="M24 359.3l33.7 -28.3-.5 -40.8-35.3 25.8M57.7 331l54.2 15.8 1.9 -42.3-56.6 -14.3M24 359.3l57.4 18.8 30.5 -31.3-54.2 -15.8"/>
<path fill="none" stroke="#e2e2e2" stroke-width=".4" d="M27.4 360.4l33.6 -28.4-.3 -40.9M39 364.2l33 -29 .1 -41.2M50.8 368.1l32.3 -29.7 .7 -41.5M62.9 372l31.6 -30.3 1.2 -41.8M75.3 376.1l30.8 -31 1.7 -42.1M24.3 314.2l2 43.2 57.2 18.5M32.2 308.5l1.5 42.6 56.5 17.9M39.7 303l1.2 42.1 55.8 17.2M46.9 297.7l1 41.6 55.1 16.6M53.9 292.6l.7 41.1 54.4 16M111.9 345.9l-54.2 -15.7-33.8 28.3M112.2 339.2l-54.6 -15.5-34 27.8M112.5 332.3l-54.9 -15.3-34.3 27.5M112.9 325.3l-55.4 -15.1-34.6 27.1M113.2 318.2l-55.8 -14.8-34.8 26.6M113.5 311l-56.2 -14.6-35.1 26.2"/>
<path fill="none" stroke="#d0d0d0" stroke-width=".5" stroke-linecap="square" d="M24 359.3l57.4 18.8"/>
<path fill="none" stroke="#1c1c1c" stroke-width=".8" stroke-linecap="square" d="M27.4 360.4M39 364.2M50.8 368.1M62.9 372M75.3 376.1"/>
<path fill="none" stroke="#d0d0d0" stroke-width=".5" stroke-linecap="square" d="M111.9 346.8l-30.5 31.3"/>
<path fill="none" stroke="#1c1c1c" stroke-width=".8" stroke-linecap="square" d="M83.5 375.9M90.2 369M96.7 362.3M103 355.9M109 349.7"/>
<path fill="none" stroke="#d0d0d0" stroke-width=".5" stroke-linecap="square" d="M24 359.3l-2.1 -43.3"/>
<path fill="none" stroke="#1c1c1c" stroke-width=".8" stroke-linecap="square" d="M23.9 358.5M23.6 351.5M23.3 344.5M22.9 337.3M22.6 330M22.2 322.6"/>
<text x="27.3" y="366.8" font-size="4.9" text-anchor="middle">−10</text>
<text x="39.1" y="370.8" font-size="4.9" text-anchor="middle">−5</text>
<text x="50.9" y="374.9" font-size="4.9" text-anchor="middle">0</text>
<text x="62.7" y="379" font-size="4.9" text-anchor="middle">5</text>
<text x="74.5" y="383.1" font-size="4.9" text-anchor="middle">10</text>
<text x="88.2" y="382.6" font-size="4.9" text-anchor="middle">−10</text>
<text x="94.1" y="375.6" font-size="4.9" text-anchor="middle">−5</text>
<text x="100" y="368.6" font-size="4.9" text-anchor="middle">0</text>
<text x="105.9" y="361.6" font-size="4.9" text-anchor="middle">5</text>
<text x="111.8" y="354.6" font-size="4.9" text-anchor="middle">10</text>
<text x="19.4" y="362.5" font-size="4.9" text-anchor="middle">−1.0</text>
<text x="19.3" y="355.3" font-size="4.9" text-anchor="middle">−0.5</text>
<text x="19.1" y="348.1" font-size="4.9" text-anchor="middle">0.0</text>
<text x="19" y="341" font-size="4.9" text-anchor="middle">0.5</text>
<text x="18.8" y="333.8" font-size="4.9" text-anchor="middle">1.0</text>
<text x="18.7" y="326.7" font-size="4.9" text-anchor="middle">1.5</text>
<text x="47.3" y="381.3" font-size="8.45" text-anchor="middle">x1</text>
<text x="106.4" y="372.2" font-size="8.45" text-anchor="middle">x2</text>
<path fill="none" stroke="#641a80" stroke-width="1.2" stroke-linecap="round" d="M67.1 354h0"/>
<path fill="none" stroke="#8c2981" stroke-width=".5" d="M66.3 354.4l-.4 -.6 .6 -.3 1.2 -.1 .5 .6 0 .3-.5 .2-1.4 -.1"/>
<path fill="none" stroke="#b73779" stroke-width=".5" d="M66 355l-.7 -.4-.3 -.6 .2 -.6 .6 -.3 2.1 -.2 .9 .4 .3 .5 0 .6-.7 .5-1.3 .2z"/>
<path fill="none" stroke="#de4968" stroke-width=".5" d="M37.2 361.7l0 -.7 .6 -.5 1.8 -.4 1.1 .1 .8 .7 .1 1-.5 .4-1.3 .2M43.6 363.8l-.1 -.7 .4 -.5 4 -1.2 .2 -.4-.3 -1-.5 -.9-.5 -.4-4 0-.8 -.4-.5 -.7-.1 -.7 .4 -.5 3.2 -.9 .5 -.4-.3 -1.1-.7 -1.2-.9 -.3-3.8 .2-.7 -.3-.5 -.6M51.5 366.3l-.6 -.9 .1 -.3 .2 -.1 2.5 -.2 1.8 .5 1 .7 .5 1-2.3 .4M58 368.5l-.2 -1.2 4 -.9 .8 -.4-.4 -1.3-1.2 -1-3.1 -.4-1.6 -.6-2.2 -1.2-2.2 0-2.1 .6-.2 .6 .6 2.1-2 .5M66.7 371.3l-.2 -.8 .4 -.4 1.6 -.4 1.6 0 .8 .5 .3 1.1-.5 .5-1.3 .4M75.1 374l-.2 -.6 .4 -.6 1.2 -.4 1.2 .1 .8 .5 .1 .9-.7 .5-1.1 .2M31.2 358.1l1.6 -.1 .7 .3 .3 .5-.4 .8-1.5 .4M36.2 353.8l1.4 -.1 .7 .2 .6 .8-.1 .8-.9 .5-1.9 .1-.9 -.3-.5 -.6M88.6 366.4l-4.7 .2-.8 -.4-1.7 -1.8-.8 -.2-2 .2-2.6 .6-.1 .4 .1 1.8-.7 .5-1.2 .3-1.4 .1-1.1 -.2-1.7 -1.8-.7 -.2-4.4 .6-.6 .5 .2 2.3-.4 .4-1.2 .3M41.4 349.4l2 -.1 1.3 2 .8 .4 2.5 -.3 1.5 -.6 .9 -1.5 1 -.8 2.1 -1.2 .1 -1.1-.4 -.6-.5 -.4-4.8 .2-.7 -.9M45.3 346.1l1.5 -.3 .8 .2 .2 1.2-.8 .9-1.3 .5-1.8 .3-.3 -.3-.2 -.9M96.5 358.4l-5.1 .4-2 -2.4-2.1 0-2.2 .6-.4 .4-.3 1.2-.9 .9-2.2 1.2-.3 .5 .1 .7 .9 1.2 1.1 .2 4.2 -.4 2.1 2.8M49.9 342.2l1.9 .1 1.6 1.8 .9 .2 4.2 -.6 .3 -.3 0 -1.8 .6 -.4 1.3 -.2 2.2 .1 1.9 1.7 2.6 -.2 1.8 -.3 .5 -.3-.3 -1.8 .3 -.5 4 -1M53.6 339l1.2 0 .9 .3 .6 .8-.2 .6-1.3 .4-1.6 .1-.6 -.2-.5 -.7M57.5 335.7l1.1 -.1 .9 .2 .6 .6-.2 .5-.9 .3-1.3 .1-.7 -.3-.3 -.6M74.9 339.1l.8 2.5-4.2 .9-.2 .4 .2 .7 1.1 1.1 2.9 .4 1.6 .4 2.1 1.2 1.9 .1 2.3 -.5 .3 -.5-.7 -2.1 4.6 -.9M88.9 343.2l.5 1.8-.1 .6-3.5 1-.5 .5 .5 1.2 .8 1 .7 .1 3.4 0 .9 .3 .5 .7 .2 .7-.3 .5-3.4 1.1 0 .5 .4 .9 .8 1 .7 .3 3.5 -.2 1.1 .2 2.2 2.2M79.5 370l-.5 -.6-.2 -.7 .4 -.4 .8 -.3 2.4 -.2 .6 .4 .5 .9-.2 .6-.9 .5-1.6 .2-1.3 -.4M47.5 357.6l1 .2 1.6 -.4 .7 -.4 .1 -.7-.5 -.5-.6 -.2-2.5 .1-.5 .5zM70.3 364.8l.8 .3 1.9 -.2 1.1 -.4 .2 -.4-.4 -.7-.7 -.4-1.8 -.2-.8 .2-.6 .6 0 .7zM56.3 359.6l.9 .3 1.8 .1 .8 .7 1.5 0 1.7 1.1 1.1 -.1 .4 -.4-.1 -.4-.4 -.3-2.3 -.5-.5 -.7-1.7 .1-1.6 -.8-1.4 .1-.4 .4zM53.2 352.5l.8 .2 .7 -.2 1 -1.2 1.4 -.4-.1 -.7 1.4 -.9 .1 -.7-.8 -.3-1.1 .3-.4 1.2-1.3 .4 .1 .5-.2 .3-1.8 .8-.1 .4zM76.1 359.6l1 .2 .8 -.3 .4 -1.2 1.2 -.5-.1 -.7 1.8 -.8 .3 -.2-.1 -.4-.5 -.4-1.1 .1-.7 .4-.5 .9-1.4 .4 .2 .7-1.5 1.1-.1 .4zM87.5 362.4l-.4 -1.4 .9 -1.1 2.3 -.7 .7 0 .3 .3 .4 1.3-.9 1-2.1 .7zM61 345.3l1.2 .3 1.4 -.2 .6 -.4 .2 -.7-.4 -.6-.6 -.2-2.7 .4-.4 .5zM83.6 352.1l.9 .3 1.6 0 .8 -.2 .2 -.5-.8 -1.3-1.4 -.1-1.2 .3-.6 .4 0 .6zM72.8 348.7l1.6 -.1 1.2 .6 1 .2 .8 -.1 .3 -.4-.6 -.6-2.2 -.1-.8 -.7-1.5 0-1 -.8-.9 -.2-.9 .2-.3 .2 .1 .4 .7 .3 1.8 .3zM96.1 354.1l-.7 -.5-.4 -.8 .1 -.4 .6 -.3 1.4 -.3 1.2 .1 .8 .5 .4 .6-.1 .5-.7 .4-1.5 .3zM63.9 339.4l-.5 -.6 0 -.7 1.5 -.6 1.9 .1 .6 .6 .2 .6-.1 .4-1 .3-1.7 .1-.9 -.2M92.1 347.7l-.7 -1.2 .2 -.4 .8 -.2 2.3 -.1 .7 .5 .4 .6-.2 .6-.9 .4-1.7 .1zM77.8 343.3l-.9 -.6-.4 -.9 2.3 -.3 2.4 .6 1.1 1.3-.6 .3-1.8 .1-2.1 -.5M99.9 349.7l-.5 -.5 0 -.4 1 -.6 1.8 .1 .8 .9-.3 .5-.8 .3-1.1 0z"/>
<path fill="none" stroke="#de4968" stroke-width="1" stroke-linecap="round" d="M30.3 359.2h0"/>
<path fill="none" stroke="#f7705c" stroke-width=".5" d="M36.1 361.4l-.1 -.8 .4 -.4 4 -1.2 .3 -.4-.2 -.8-.5 -.8-.5 -.3-4.5 0-.6 -.2-.5 -.7M73.9 373.6l-.2 -.8 .3 -.4 2.7 -.6 1.7 0 .8 .8 .5 1.4-.2 .5-1.5 .4M31.9 357.5l1.9 0 .5 .4 .4 .7 .2 .8-.2 .4-1.7 .5M84.3 370.8l-4.8 .2-.6 -.3-1.9 -2-2.1 -.1-2.7 .7-.2 .6 .4 1.9-.5 .4-1.3 .4M87.5 367.6l-1.5 0-1 .4-.1 .8 .6 .7M100.1 354.7l-1.3 .1-1.1 .4-.2 .7 .9 .6M54.2 338.5l2 .1 1.2 1.5 .8 .4 2.6 -.1 1.7 -.6 .1 -.4-.3 -1.5 .2 -.3 4 -1M58.2 335.2l1.5 -.1 .6 .3 .7 1.1 0 .7-1.3 .4-2.6 .2-.6 -.2-.5 -.6M68.5 337.2l.1 .6 .8 .6 1.1 .1 1.2 -.4M77.9 339.9l.4 .4 1.1 .1M80.5 340.7l.3 .6 1.1 -.2M83.1 341.5l.6 .4 .9 0M90.9 343.8l0 .7 .7 .5 1.5 0 1.1 -.3M96.4 345.4l.5 2.3-.5 .3-3.3 .9-.3 .6 .3 .8 .8 .8 .6 .3 4.6 0 2.2 2.2M43.7 361.2l.9 .1 .9 -.3 .4 -.4 .1 -.3-.9 -.6-1.7 .1-.3 .3-.1 .3zM67 368.7l1.7 0 .6 -.4 .1 -.3-.3 -.5-.6 -.3-1.5 0-.7 .7 .1 .4zM41 355.1l.8 .1 1 -.2 .5 -.4 0 -.5-.9 -.5-1.3 .1-.6 .7zM78.4 367l1.7 -.1 .6 -.3 .2 -.5-1 -.7-1.3 .1-.5 .3-.2 .4zM48.6 348.5l1.2 .1-.8 -.4-.7 0zM85.3 359.8l1.2 .2-.8 -.5-.7 0zM54.6 343.1l1 .2 .8 -.2 .5 -.3 .1 -.5-.7 -.5-1.5 .2-.6 .5zM91.1 354.1l1.7 .2 .6 -.3 .2 -.5-.6 -.6-1.3 -.1-.9 .5 0 .5zM65.2 341.4l.8 .3 .9 0 .7 -.2 .2 -.6-.6 -.5-1.5 0-.8 .5zM87.7 348.2l1.7 .2 .6 -.1 .3 -.4-.6 -.8-1.1 -.1-1.1 .4-.1 .4zM99.3 350.3l-.8 -1-.2 -.9 1.3 -.5 2 -.3 1.1 .2 .7 .6 .6 1.1-.3 .5-1.4 .4-2.1 .2z"/>
<path fill="none" stroke="#f7705c" stroke-width="1.6" stroke-linecap="round" d="M91.4 363.5h0"/>
<path fill="none" stroke="#f7705c" stroke-width="1.8" stroke-linecap="round" d="M92.8 362h0"/>
<path fill="none" stroke="#f7705c" stroke-width="1.4" stroke-linecap="round" d="M77.4 344.4h0m17 16.1h0m-38.3 3.6h0"/>
<path fill="none" stroke="#fe9f6d" stroke-width=".5" d="M83.6 371.5l-1.8 -.1-1.4 .5-.2 .5 .1 .5 .9 1M104 350.8l-1.9 .1-1.3 .5 .1 .8 1 .8M61.5 335.1l.1 1 .9 .6 1.5 0 1.4 -.4M97.5 345.7l0 .9 .8 .7 1.7 .1 1.7 -.5M104.2 347.7l.2 1 .9 .8M36 359.1l1 .2 1.5 -.2 .8 -.4 .2 -.7-.4 -.5-.6 -.3-2.3 .1-.7 .7zM73.5 371.1l1 .4 1.5 -.1 1.1 -.4 .3 -.6-.5 -.7-.5 -.4-2 -.1-.8 .3-.4 .4 0 .6zM58.6 339.9l1 .1 1.3 -.2 .6 -.4 0 -.6-.5 -.5-.6 -.2-2.2 .3-.5 .6 .3 .6zM94.9 350.7l2.2 0 .7 -.2 .1 -.6-.5 -.8-.6 -.3-2 .2-.7 .4-.2 .4 .4 .6z"/>
<path fill="none" stroke="#fe9f6d" stroke-width="1" stroke-linecap="round" d="M79.5 375.4h0"/>
<path fill="none" stroke="#fe9f6d" stroke-width=".8" stroke-linecap="round" d="M59 334.5h0"/>
<path fill="none" stroke="#fecf92" stroke-width=".5" d="M83 372.1l-.9 0-.6 .3 0 .5 .4 .3M103.4 351.4l-.9 0-.5 .3-.1 .3 .5 .4M62.6 335.5l0 .4 .6 .3 1.2 -.2M98.6 346l0 .4 .6 .4 1.3 -.2"/>
<path fill="none" stroke="#fecf92" stroke-width="1.4" stroke-linecap="round" d="M105.5 348.5h0m-30.3 21.8h0"/>
<path fill="none" stroke="#fecf92" stroke-width="1.2" stroke-linecap="round" d="M59.7 339h0m36.2 10.8h0m-58.4 8.4h0"/>
<text x="68.4" y="280.5" font-size="8.45" text-anchor="middle">landscape of benchmark functions</text>
<text x="34.6" y="314.9" font-size="8.45" text-anchor="middle">F16(x1,x2)</text>
<path fill="#a73c7a" d="M46.7 323.6l-.4 -.7-.3 -.3-.3 0-.1 .1-.4 .9-.7 2.7-.6 1.2-.4 .5-.2 -.3-.8 -1.6-.3 -.4-.3 0-.3 .3-.3 -.4-.1 -.1-.2 0-.1 .2-.2 0-.5 .6-.6 1.3-.3 1.1-.9 -4-.6 -2.4-.4 -.9-.3 -.3-.3 -1-.5 -1-.1 -.1-.4 .2-.4 1.1-.7 2.8-.2 1.6-.5 2.5-.4 1.3-.2 -.2-.2 0-.2 .2-1 -3.8-.1 -.3-.2 -.1-.2 .2-.1 .5-.3 1.6-.8 10.4-.3 1.4-.1 .3-.2 0-.1 -.1 .2 .5 .8 3 .3 .9 .2 .2 .2 .2 .2 -.2 .2 -.4 .4 -1.5 .2 0 .1 -.4 1.3 -7.6 .4 2 1 3 .2 .5 .4 .6 .2 0 .3 -.4 .5 2 .5 1.6 .5 2 .6 .8 .2 .2 .3 .1 .2 -.2 .5 -.7 .6 -2.1 .6 -1.4 .3 -1.2 .4 -.6 .2 -.1 .2 0 .6 1.4 .3 .5 1.1 3.5 .7 1.5 .3 .6 .3 .1 .5 .7 .3 .2 .2 .1 .2 0 .5 -.4 .7 -1 .3 -.3 .4 -1.2 .4 -.7 .3 -.3 .2 -.4 .5 -.4 .5 .5 .2 .2 .3 .1 .3 .4 .1 0 .5 1.1 .5 1.8 .2 .2 .1 .2 .8 1.9 .2 .4 .2 .2 .3 -.1 .5 -.6 .4 -1.1 .2 -.1 .1 -.2 .3 -1 .6 -1.2 .2 -.1 .3 -.4 .5 -.1 .3 .2 .1 .2 1.8 4.2 .5 .9 .5 .6 .5 .9 .7 .3 .3 0 .2 -.2 .6 -.6 .7 -1.8 .6 -1 .6 -1.7 .6 .8 .5 .4 .5 0 .4 -.2 .4 1.4 .4 2.5 .1 -1 .3 .7 .5 1.7 .7 1.2 .3 .2 .2 -.1 .4 -.3 .2 -.3 .7 -2.5 .7 -2.2 .3 -1.9 .9 2 .4 .7 .2 .2 .2 .1 .3 0 .2 -.2 .2 .1 .1 0 .2 -.2 .2 -.7 .3 -.4 .4 1.8 .3 2.1 .2 1.2 .2 .2 .5 1.9 .2 .5 .3 .3 .2 0 .1 0 .4 -.8 .8 -3 .2 -.1 .1 -.3 .8 -4.4 .4 1.7 .7 1.9 .2 .4 .3 .2 .2 .1 .1 .2 .2 0 .1 -.2 .3 -1 .2 -.1 .3 -.4 .6 -1.4 .9 -2.9 .4 .8 .5 .6 .3 .2 .2 0 .3 .4 .1 -.1 .3 -.3 .2 -.1 .5 -.4 .5 -.7 1.3 -2.2 .6 -.6 .1 0 .1 0 .2 -.1 .2 .3 .2 0 .3 -.2 .5 -1.4 .4 -1.6 .6 -.9 .5 -1.6 .2 .5 .2 .2 .5 .8 .3 .3 .2 .1 .2 .1 .3 -.1 .5 -.4 .5 -.7 .3 -.2 .5 -1.2 .8 -1.2 .5 -.4 .2 0 .2 -.1 .1 0 .2 .4 .1 -.1 .3 -.7 .2 -.2 .3 -.3 .7 -1.6 1.1 -3.7 .4 .8 .3 1 .5 .9 .1 .1 .3 -.4 .3 -.6 .6 -1.7 1.4 -6.3 .6 -2.2 .5 -1.3 .2 0 .1 -.3 .1 -.4 .5 -2.9 1.2 -9.6 .4 -1.9-.2 .2-.3 .5-.7 2.1-1.8 7.5-.3 -3.9-.2 -1-.2 -.2-.2 .2-.3 .5-.5 1.5-.2 .1-.1 .4-.2 1.2-.9 -5.2-.4 -2.1-.4 -1.3-.3 -.3-.2 -.1-.3 .3-.2 .4-.7 2-1.2 5.7-.6 -2.5-.4 -.7-.1 -.1-.2 0-.3 .2-.2 .4-.6 1.6-.1 .1-.1 .3-.5 2.4-.4 1.6-.9 -2.3-.5 -.5-.2 -.1-.3 0-.5 .5-.4 .7-1.6 4.2-.6 -1-.4 -.2-.2 .1-.2 .1-.7 .9-.5 1.4-1.8 -4.4-.7 -1.3-.5 -.5-.4 -.3-.5 0-.9 .2-.5 -.2-.2 -.3-.3 -.5-.4 -2-.3 1.1-.2 .7-.2 .3-.3 .2-.2 0-.5 -.2-.7 -.6-.4 -.2-.5 0-.2 .1-.5 .5-.4 .6-1.7 3-.5 -.2-.5 0-.4 .3-.3 .3-.3 -.7-.5 -1.2-1.8 -6.1-.5 -1-.2 -.3-.2 -.1-.2 -.1-.3 .1-.2 .2-.5 .8-1.1 2.3-.4 .5-.3 0-.2 -.2-.4 -.9-.5 -1.7-1.6 -9.3-.5 -2.2-.4 -1.4-.3 -.4-.2 -.1-.2 .2-.3 .4-.4 1.5-.4 1.4-.5 2.9-.5 2.3-.2 -.7-.1 -.3-.2 -.1-.4 -1.8-.3 -.6-.2 -.3-.2 -.1-.3 .2-.2 .4-.6 2.3-.2 .1-.1 .3-.4 2.4-.5 2.2-.1 0-.1 .2-.2 1.1-.2 .2-.2 .1-.2 -.1-.2 -.4-.3 -.8-.4 -2.2-.3 -.7-.1 .1-.3 .8-.3 1.8-.7 8.2-.5 1.1-.3 .3-.1 .6-.3 .1-.3 -.2-.2 -.2-.2 -.4-.4 -1.4-.3 -.5-.2 0-.2 .4-.3 .9-.6 3.1-.4 .4-.4 -1.1-.3 -.2-.2 .1-.2 .3-.2 .5-.5 2.2zM29.6 338.6l-.3 -1-.5 -2.4 .4 2.1z"/>
<path fill="#782484" d="M52 322.8l.4 .7 .4 -2.4-.6 1.4zM45.6 324.6l-.4 -1-.7 2.7zM43.1 327.4l-.8 -1.5 .9 2zM52.7 330.9l.6 -1.9-1.2 -2.8-.7 2.1 .9 2.7zM50 329.4l-.8 -.8 1.2 2.8-.4 -.2-.3 .2-.7 1.6 .5 .4 .4 .2 .5 -.2 .9 -.6 .7 -1.5-1 .6-.3 -.2zM52 334.5l1 .6 .6 -1.9-.7 -.6-.7 -.2-.9 .4-.7 2.2 .9 -.5zM35.1 338.3l.5 .9-.9 -3.8-.5 -.9-.5 -1.5 .3 1.7zM51.4 336.5l.1 .1-.9 -1.2 .6 1.1 .4 .4zM29.6 338.6l-.5 -2.1-.3 -1.3zM50.9 336.4l-.4 .3 .5 1 .5 -.7-.3 -.5zM49.1 340.3l.7 -1.9-1.2 -2.4-.7 1.9zM38.9 341.8l1.2 -3.4-.5 -.4-.2 -.5zM30.8 342.8l-.7 -3.1-.3 -.6 .5 2.1 .3 .9zM37.7 344.6l.3 .4-2.2 -7.5 .9 3.5zM47.8 343.5l.7 -2.2-.5 -.2-.7 -1-.8 2.2 .8 1zM45.9 345.5l.6 -3.2-1.2 -3.4-.7 3.3zM50.3 343.1l.1 .5 .4 .5-.3 -.6zM52.7 346.7l.3 -1.1-1.2 -2.8-.5 1.4-.3 .3 .5 1.1 .5 1.8 .3 .4-.8 -2.1 .8 1.1 .2 .1zM47.2 346.5l.3 .1 1.1 -2.2-.3 -.2-.4 -.8-1.2 2.3zM53.4 317.5l.3 -1.1-.1 -.6zM60 323.6l1.5 -1.5-1.2 -4-.6 4.3zM52.6 323.9l.3 .7 .4 -1.2zM59.7 326.1l.7 -2.5-1.2 .9-.6 2.6zM61.3 328.4l.7 -2.2-.7 -.6-.4 -.1-.7 2.3 .4 .1zM53.8 328l-.5 1 .4 .5 .5 .1 .3 -.1 .5 -1-.1 0-.3 0 .2 0-.6 -.6zM60.4 330.1l-1.1 -1.6-.6 -.3-.6 .1-1.1 1.3-.3 -.1-.3 -.6-.5 1.6-1.3 .8-1 1.9 1.2 1.6 .9 -1.5 .4 -.3 1.1 0 .4 -.8 .3 .2 .3 -.3 1.3 -1.9 .4 -.2zM63 332.1l-.7 .7-.4 1.1-.7 .2-.8 .6-.9 1.5 1 -.3 .7 0 2.4 1.1 .4 -.1 .3 -.3 .7 .9 2.4 .2 .7 .4 1 .9 .8 -1.5 .4 -.4 1 -.4 .5 -1.1 .3 .3 .3 -.1 .9 -1.3 .5 -.4 .1 -.5-.7 -.6-1.5 -.5-1.3 .1-.4 .6-.4 1.5 1.2 -1.1-.3 .8 .1 -.1-.1 .6-.4 .7-.9 .3-.7 -.1-.9 .1-.2 .3-1 .1-.1 -.1-.1 .1-.8 -.4-.4 -.8-.5 .5-.7 0 .2 -.1-.7 -.9 .7 .8-.2 -.5-.5 -.8-.5 -.4 .4 -.5 .3 -.9zM62.2 340.8l-.5 .1-.3 .8 1.3 2.8 .3 .1 .4 -.5 .7 -1.7-.9 -1.2zM54.4 348.1l.3 .4 .2 -.1 .4 -1.2-.1 .2 .2 -.5 .3 -.5 .2 -.4-.3 -.2-.5 -1.2-1.2 1.8zM59 349.7l.6 .6-1.2 -3-.3 -.1-.5 -.8zM64.1 316.2l.4 -.7-.2 -1.1-.1 1.1zM63.9 323l.3 -.7-.5 .5zM65.9 326.1l-1.2 -2.3-.7 -.6 1.2 2.2zM63.2 328l.6 -2-1.1 -2.1-.7 2.3zM65 327.9l.7 -.8-1.2 -2.1-.3 .2-.4 .8zM68.9 326.5l-1.2 1.1-.4 .6 1.2 -.9zM64.9 331.1l-.8 .4-.6 .7 0 .1 .2 .2 .1 .2 .4 -.2 .5 .4 .7 1.3 .7 -2 1.1 1.8 .6 -1.8 .1 -.2 .6 .1-.4 -.2-1.1 -.7-1.3 -.3zM65.3 340.7l-.6 .5-.6 1.2 .8 1.3 1 -2.5-.3 -.4zM63.7 345.7l-.7 0-.2 .3-.5 1.9 .2 .1 .2 0zM70 321.6l-.3 -.3 .6 .9zM71.5 325.8l1.1 .7 .6 0 .1 -.3-.8 -.7-.4 0zM69.7 328.9l1.8 1.4 .5 .2 .5 -.3 .7 .6 1.8 -.3 .3 -.2 .4 -.1 .2 .5 1.3 1.1 .7 -1.9-1 -1-.7 -.5-2.1 -.3-.5 -.4-.4 -1-.5 .7-.5 .2-2.1 -.9-.7 0-.7 .4-.2 .2-.7 1.9 .9 -.4zM69.5 331.4l-.3 -.1-.1 .2 .2 .5 .5 .5 .5 .2 .1 -.1zM73.7 350.6l.9 -1.8-.6 -3.3-.9 2.4zM68.8 352.3l.4 2 .3 .4 .5 -1.1 .7 -3-.4 -1.1-.3 -1.7 .1 -.3-.4 -.5-.7 4.9zM82.7 320.6l-.4 .5 .2 .3zM85.2 326.4l.8 -.6 .1 -.7-1.1 -2.8-.7 2.1zM74.1 323.4l-.4 2.1 .3 .3 .3 .9 .6 .5 .4 -2.1zM78.8 324.7l-1.2 1.1-.3 1.8 .3 0 .4 .2 .3 -.5zM78.8 327.3l-.7 .6 1.5 1.6 .3 0 .3 -.2 .3 -.5-1 -1.2zM79.8 330.7l.5 .3-1.1 -1.9-.4 -.2-.4 .1-.5 .9 1.1 1.7 .6 -.8zM87.9 331.4l.6 .3 .3 -.5-.7 -1.7-.5 -.7-.3 .7-.3 .3zM83.5 331.1l.2 -.8 .1 -.4-.6 .6zM95.6 330.9l.5 .9 .4 .2-.4 -2.2-.3 1zM86.4 331.3l-.2 -.4 0 .3zM87.1 332.2l-.4 -.6 .2 .8zM81.8 331.9l-.4 .7 1 -1.2zM83.6 332l.1 .7 .1 1.3 .6 -1.8zM92.5 335.7l.7 -2.5-.3 -.8-.7 3.3zM90.6 335.2l.5 1.2 .2 .3 .8 -.9-.7 -1.2-.4 -.5zM77.6 336.2l.1 -.5 .1 -.6-.3 .6zM99 334.7l-.6 1.4-.1 .6 .5 -.5 .5 -1.3-.1 .1zM90.2 337.6l-.3 1-.1 .4 .5 -1.1zM94 339.8l.5 -.8-.6 -2-.7 1-.5 .3 .5 1.9zM90.6 341.3l0 -.2-.2 1 0 -.1zM91.1 341.9l.3 -.4-.1 -.1zM88.7 342l-.3 .4 .1 .3zM82 351.9l.5 -1.6-.6 -4.1-.8 2.3-.5 .7 .6 3.9 .3 -.2zM76.3 353.9l.7 3.5 .5 -.8 .8 -3-.3 -.8-.4 -2.8-.7 3z"/>
<path fill="#c03c78" d="M54.6 314.9l.6 -.6 .1 -1.2-.4 -1-.8 -2.8-.5 6.5 .1 .6zM52.8 321.1l.7 -1 .4 -.3 .5 .2 .7 1.2 .6 -3.6-.4 -1-.5 -.5-.4 -.1-.5 .5-1 2.1 .2 .1 .2 -.7zM52.9 318.6l-.3 .3-.2 .9 .2 -.4zM49.1 321.7l.2 .7 .4 .5 .5 1.1 .7 -1.2-.3 -.6-.5 -.7-.4 -.3zM47.6 322.1l-.3 1.4 .1 0-.1 0-.5 0 .5 .3 .7 1.3 .7 0-.7 -1.5-.4 -.2 .4 -1 .2 -1.9zM52.3 323.3l-.3 -.5-.1 -.3-.2 -.1zM46.6 327.9l.7 -2.2-.7 -1.1-.5 -.3-.7 2.3 .5 .3zM43.7 331.1l.4 .3-1.2 -3.6-.3 -.5-.4 0-.1 .1 1.3 4zM41.4 329.8l-.7 -1.5-.5 -.3-.5 2.5 .1 .6 .4 .5 .5 1.1zM34.7 335.4l-.4 -2.3-.3 -1.4-.3 1.3 .5 1.5zM46.4 336.5l.4 .5-1.3 -3.5-.4 -.6-.2 -.2-.5 .8-.4 1.7 1.3 3.7 .5 -2 .3 -.4zM43.3 338.7l.7 -3.5-.7 -1.2-.5 -.1-.7 3.8 .5 0zM36.7 340.2l-1.4 -6.3-.4 -.8 1.3 6zM53.2 336.7l-.8 -.2-.4 .1-.8 2.1 .5 0 .5 .2 1.7 2.2 .5 .1 .5 -.9 .2 .7 .5 .7 .5 -.1 1.5 -1.1 .5 .1 .4 .3 .8 -2.1-.8 -.6-1.2 .1-.3 -.1-.2 .1-.2 -.1-.5 -.8-.5 -1.9-.5 1.6-.5 .5-.7 -.3-.4 -.7zM63.8 316.5l-.5 1.7 1.1 -1.9 .2 -1-.4 .8-.3 .3 .2 -.2 .2 -1.8-1.1 -6.2-.7 4 .9 4.2zM68.9 314.6l.6 -4-.4 .4-.7 1.4-.4 2.9 .1 .5zM77.6 315.3l.5 -1.5-.7 .8-.6 1-.4 1.2 .7 -1.1zM69.2 319l-1.2 -3.5-.6 -1.1 .2 .6-.2 -.6-.3 .3-.4 1.5 1.2 3.3 .4 -1.2 .2 -.3 .3 .1zM66 319.9l.7 -3.7-.7 -1.2-.4 -.1-.7 4 .5 .1zM75.5 317.9l-.3 .4-.4 1.4 1.2 1 .4 -1.7 .2 -.3zM57.3 320l.3 -.1-1.2 -3.9-.3 .3-.4 1.3 1.2 3.5zM73.9 318.5l.4 -.7-1.3 1.5-.5 1.4 .7 -.9 .4 -.3zM79.8 319.9l.4 -.7-1.4 .2-.5 1.9 1.2 -.3zM60.9 340.8l.3 .5-1.3 -2.3-.5 -.4-.1 .2 1.2 2.1 .2 -.1zM78.2 339.6l.4 1.5 .4 -1.7-.3 -.1zM70.6 343.4l-1.1 -2.7-.2 -.1-.1 .1 1.2 2.9zM66.4 339.8l-1.3 3.3-.4 1.6 1.2 -3zM66.5 345.1l.7 -4-.5 -.1-.8 .7-.7 3.6 .5 -.5 .3 -.1zM80.5 344.6l-.3 1 .4 3.6 .5 -.7 .8 -2.3-.5 -4.4-.4 2.2zM70.3 349.5l.4 1.1 1.3 -5.7-.3 -.6-.4 -2.5-1.3 6zM78 352.8l.3 .8 1.4 -6.6-.3 -.8-.4 -2.9-1.4 6.7zM85.7 319.3l.5 -1.4-1.1 -2.2-.6 1.5zM105.6 318.8l-.2 .8 0 .5zM93.2 323.7l.8 -4.4-.7 -1.7-.4 -.7-.8 4.1 .5 .8zM82.1 322.4l.4 -.6-1.2 -2.1-.2 .4-.4 1.3 1.1 1.9zM88 321l-1.2 2.8-.3 .9 1.3 -2.7zM88.3 325.4l.7 -4.1-.2 -.1-.5 .2-.5 .6-.7 3.7 .7 -.5zM91.7 324.4l.3 -.3-1.2 -2.7-.2 .4-.4 1.6 1.1 2.6zM100.4 324.6l-.5 .8-.1 .6 .2 -.2 .4 -.1 .3 .7 .5 -4.3zM91.2 327.5l-.8 3.6 .8 -.7 .5 0 .5 .6 .7 1.4 .7 -3.9-.7 -1.5-.5 -.5-.2 -.1-.5 .3-.3 .3-.2 .4-.3 .5-.5 1.3 .1 -.1zM102.8 328.3l-.1 .6 .2 -.1zM99.1 330.3l.7 -1.9-.2 -.9zM95.2 330.6l.2 0-1.1 -3.6-.3 .2-.4 1.3 1.1 3.2zM90.4 329.2l-.4 .7-.1 .4zM87.6 332l-.7 .4-.4 -1.1-.3 2-.3 .9-.1 .2-.5 -.1-.4 .3-.5 .7 .5 .5 .8 1.3 .2 -.4 .3 -.1 .9 .8 .3 -.3 .3 -1.3 .1 .6 .2 .2 1.1 -2.7 .3 -.4 .3 0-.8 -1.4-.4 -.4-.3 -.1-.4 .5zM94.7 333.8l.5 1.1 .6 -.6 .5 -.2-.6 -1.2-.5 .2zM84.1 336.5l.3 -1.2-.4 0zM91 339.1l.7 -2.5-.5 .2-.5 .6-.7 2.4 .5 -.5zM86 339.2l-1.3 3.3 .1 .8 .5 -1.3z"/>
<path fill="#842484" d="M51.5 320.6l-.2 -.1-.2 .9 .8 1.1 .5 -2.7-.5 .6zM54.4 324.5l-.7 -1-.4 -.1-.4 1.2 .3 .7 .4 .5 .4 -.2 .3 -.6zM53.7 328.1l.4 -.3 .6 .5-.5 -.7-.9 -1.8-.4 -.4-.3 0-.5 .8 1.2 2.8zM43.2 328.1l-.2 0 .3 .9 .6 -1.5zM43.4 329.2l.3 1.1 .6 -2.7-.7 1.2zM50 331.2l.4 .2-1.2 -2.8-.4 -.1-.4 .6-.6 1.6 1.2 2.3 .7 -1.6zM53.9 330.1l-1.9 1.2-.7 1.5 .7 -.3 .5 -.1 .4 .2 .7 .6 .7 -1.5-.7 -.7-.4 -.2zM43.8 330.5l.7 1.7 .6 .7 .4 -.7 .4 -1.4-.7 -1-.4 -.2-.5 .2zM47.1 333.4l.7 -2.7-1.2 -2.8-.7 2.9zM46.3 335.8l.3 -1 .3 -.6-.6 .7-.3 0 .1 .2 .1 -.2-.1 .2zM46.4 336l.8 2.3 .4 0 .4 -.7 .6 -1.6-.5 -.6-.5 -.3-.5 .1zM49.8 338.4l.7 -1.7-1.2 -2.3-.7 1.6zM48.3 340.8l-1 -2.2 .3 .6-.6 -1.4 .8 2zM47.9 340l-.4 -.1-.2 .2 .7 1 .5 .2 .1 -.2-.3 -.4zM48.9 342.2l.6 .1 .6 -2.3zM47.8 343.5l.8 -1.1 .3 -.2 .7 -2.1-.7 1-.2 .1 .2 -.1-.3 0-.1 .2zM44.3 343.1l.3 -.9-1.3 -3.5-.4 1.4-.3 .2 1.3 3.5zM49.7 342.4l.4 .5 .4 -1.1-.4 .2zM48.6 344.4l.3 -.3 .2 -.4zM65.4 323l-.7 -.8-.5 .1-.3 .7 .5 .6 .4 .2zM60.4 323.6l.2 -.5-.5 .4-.5 .2-.4 -.2-.6 -.5-.5 .9 .5 .5 .4 .2 .5 -.2zM57.4 326.6l.7 -2.7-1.2 -2.8-.6 3.1zM64.5 325l.7 .4-1.2 -2.3-.4 -.3-.2 0zM55.6 327.2l.7 -3-1.2 -3-.7 3.3zM60.9 325.5l.6 -2.5-.4 .1-.7 .5-.7 2.5 .7 -.5zM57.4 327.3l-.7 .2-.8 .5 .3 .5 .6 -.9zM59.3 328.5l-1.1 -.7 .4 .4zM54.8 328.7l-.5 1.3 .6 -.4 .4 -1.5zM56.5 337.4l.3 .9 .2 -.1 .3 .1 .9 -.2-1.3 -.7zM59 338.5l.3 .3 .1 -.2 .3 .2 1.5 2.3 .8 -.3 .7 .1 .7 .5 .7 1 .7 -1.4 .3 -.3 .5 .1-1.4 -1.4-.3 0-.3 .2-.9 -.4-1.7 -.1-.5 -.5-.5 -1.1-.5 .8zM54.7 340.9l-.5 .3-.5 -.3-.7 4.7 .6 1.2 1.3 -2 .5 -.5 .4 -.1 .3 -2.6-.5 .1-.2 -.2-.5 -1.2zM61.9 343.6l-.4 .8-.5 1.5 .8 1.4 .5 .6 .7 -2.2 .7 0-.5 -.4-.9 -1.5zM58.6 347l.5 -1.1-.8 -1.4-.5 -.5-.2 .9-.4 .6 .7 .9 .5 .9zM60.3 348.8l.7 -2.9-1.2 -3-.7 3zM65.7 347.2l.1 -.2-.4 -.4 .1 .2zM64.1 347.8l-.3 .7-.5 1.2 .4 -.6zM73.5 317.6l-.6 1.6 .1 .1 .8 -1zM72.7 320l.2 -.8-1.1 -3.5-.7 3.4 .8 2.2zM70.4 321.5l.1 -.1-.9 -2.7-.2 -.6-.3 .2-.1 -.1 .8 2.8 .3 .5zM70.4 323.6l.9 -1 .3 -.7-.6 .4-.4 .1-.5 -.4-.4 -.7-.2 0-.5 1.3 .2 .4 .7 .7zM68.3 325.5l.7 -2.9-1.1 -3.1-.7 3.3zM66.5 325.4l.7 -2.6-1.2 -2.9-.6 3.1zM71.8 323.7l.7 -3-1.2 1.9-.7 2.8zM83.4 322.9l-.2 -.2 .7 1.7 .3 .1 .1 -.1-.2 -.5zM72.8 325.6l.5 .6 .4 -.7 .4 -2.1-.7 -.6-.4 -.1-.5 .2-.7 .8-.5 2.1 .2 0 .8 -.3zM82.3 328.7l.7 -2.8-1.2 -2.6-.7 3zM71.5 325.9l.5 .3-.3 -.3zM84.8 326.3l-.9 -1.7-.3 -.1-.2 .3-.4 1.1 .9 1.5 .7 .3 .7 -.5 .4 -1-.5 .2-.2 0zM79.3 324.5l-.5 .2-.7 3 .7 -.4 .5 .1 .5 .4 .7 1 .6 -2.5-.9 -1.4-.5 -.3zM69.6 326.7l.7 -1.1-1.3 .8-.5 .9zM77.3 327.6l-.6 1.1 1.2 1.2 .6 -1 .3 0 .4 .2-.7 -.9-.9 -.6zM80.9 334.1l-1.3 1.6-.1 0-.4 -.8-.6 1.8-.8 .4 .2 .1-.2 -.1 .4 1.7 .8 -1.6 .5 -.3 .3 0 .1 -.1 0 -.3 1 1.4 .8 -3.5-.4 -.3zM70.1 342l.1 .4 .7 -1.5-.4 .5zM70.2 342.5l.7 1.1 .3 -1.4-.5 -.1zM82.8 350.7l.2 -.5 1.2 -3.7 .5 .2-.2 -1-.4 .5-.3 -.5-1.3 4.6zM87.3 320.8l-.5 1.4 .4 .9 .6 -1.4zM86.5 324.7l-1.2 2.5-.3 1.2 .7 0 .2 -.4zM87.1 325.7l-1.3 2.7 .5 .5zM86.6 328.7l-.2 .2 .7 .9 .2 -.3 .3 -.7-.5 -.3zM87.2 330l-.4 -.1-.6 1 .9 1.3 1 -.6-.2 -.2-.5 -1-.3 -.4zM85.2 333l1 -2.1-.7 -.9-.5 -.4-.6 2.6zM89 332.1l.3 .7 .6 -2.5zM89.5 333l.4 .7 .5 -2.6zM94.3 333.7l1.1 -.9-.7 -1.1zM99.3 334.9l.4 -1.5 .4 -2-1.1 3.3 .1 .2zM90.2 334.1l.4 1.1 .4 -1.1-.3 -.1zM97.8 332.7l-1.3 2.4 .3 1.1-.5 .2-.5 .5 .4 .9 .2 .2 .5 -.6 .7 -.3 .5 -1.4-.5 .2-.5 .6zM91.2 336.7l-.1 -.3-.3 -.1 .3 .5zM89.3 340l-1 -3.9-.4 .5-.2 -.8-.3 1.3-.2 .2-.2 .1 .1 .5 .2 -.1 .3 .4 .6 2.9 .4 -.2zM84.7 342.5l.7 -2-.4 -1-.5 1.9zM89.5 342.9l-.3 .3-.3 1.2-.5 .2-.5 .7 .2 .4 .3 0 .7 -.8 .2 0 .3 -.2 .7 -2.3zM86.6 347.6l1.3 -2.3-.6 -2.7-1.3 2.6z"/>
<path fill="#9c3084" d="M50.8 316.9l.5 1.4 .2 .5-.4 -1.4zM51.8 319.4l-.3 .2-.2 .9 .2 .1 .4 -.2 .6 -.9-.3 .1zM57.3 317.7l1.7 5.4-.9 -3.5zM54.4 324.5l.7 -3.3-.7 -1.2-.5 -.2-.6 3.6 .4 .1zM62 321.8l-1.2 .9-.4 .9 .7 -.5 .4 -.1 .5 .2 .7 .7 .4 -.9 .3 -.2 .2 0 .4 .3-.4 -.5-.7 -.4 .9 -1.7 .6 -4.2-1.1 1.9-.6 3.8-.4 -.2zM53.1 325.5l.4 .6-1.2 -2.8-.7 -1 1.2 3.1zM50.4 329.5l.3 -.6 .3 .2 .4 -.8-1.2 -4.3-.3 .1-.2 -.2-.3 -1.2-.2 1.7-.5 .7 1.3 4.3zM44.3 327.6l.7 -2.2-1.2 2.3-.5 1.3 .1 .2zM47.8 330.7l.7 -1.9-1.2 -3.1-.7 2.2zM45.2 329.8l.7 1 .7 -2.9-.7 -1-.5 -.3-.4 .2-.7 .8-.5 2.9 .7 -.8zM41.3 334.7l1 -1.9-.9 -3-.7 2.9zM31.8 340.6l.3 .7 1 -5.9-.4 -.8-.6 -2.7-.1 1-.3 -.6-.8 -3.2-.5 6.8 .6 2.7 .2 -.8zM50 334.4l-.7 -.7-.9 -.5-.5 .5-.5 1.4 .4 .1 .8 .8 .7 -1.6 .3 -.2zM47.5 339.9l.5 .4-1.2 -3.3-.4 -.5-.3 0-.1 .1 1 2.9 .3 .6zM42.9 340.1l.4 -1.4-.2 -.5-.5 -.5-.5 0-.3 1.2 .8 1.4zM40 341.6l.3 .4 .6 -1.8 .5 -.7-.3 -.3-.5 -1.4-.5 .6-.7 1.7zM50.5 338.4l-1.2 2.3-.4 1.5 1.2 -2.2zM50.5 341.8l.7 -3.1-.4 .3-.7 1-.6 2.3 .2 .1 .4 -.4zM59.1 345.9l.7 -3-.8 -1.4-.5 -.6-.7 3.1 .5 .5zM61.3 344.8l.6 -1.2 .3 0 .3 .4-1.3 -2.7-.4 -.5-.4 .3-.6 1.8 1.2 3zM67.5 314.4l.5 .9 .4 -2.9zM68.1 315.8l.4 .9 .4 -2.1-.5 .6zM72.9 319.2l.6 -1.6-1.2 -3.5-.5 1.6zM79.9 316.9l-.4 2.5 1.1 -.2 1 .6 .2 .4 .4 -2.6-.5 -.1-.2 -.3-.5 -1.5-.4 1.2-.3 .2zM68.7 317.3l.3 .9 .2 .1 .2 -.2zM69.3 321.8l.4 -.5-1.2 -3.3-.2 .3-.4 1.2 1.1 3.1zM72.7 320l-1 1.6-.4 1 1.2 -1.9zM73 322.7l.6 -3.2-.4 .3-.7 .9-.7 3 .7 -.8zM76.9 319.9l-.5 .8-.4 0-.7 4.4 .7 .7 .4 -.3 .3 .4 .4 .2 .5 -.3 .7 -4.5-.5 -.2-.2 -.4-.4 -1.6zM83.4 324.8l.3 -.3 .4 .5-1.2 -2.9-.2 -.3-.2 0-.3 .3-.4 1.2 1.2 2.6zM81.1 326.3l.7 -3-1.1 -1.9-.7 3.3 .4 .5zM71.2 342.2l.6 -1.7-.9 .4-.7 1.6 .5 -.4zM66 344.7l-.5 .3-.3 .3 .1 .3-.3 -.4 .5 1.4 .4 .6-.1 -.5 0 .1 .2 -.2 .5 -1.5zM71.7 347.1l-.1 .2 .2 .4zM67 350.1l-1.1 -2.9 .8 2.6zM75.8 354.7l-1.3 -6.8-.1 -.2 1.1 6.3zM100.4 322.8l.6 -.5-.4 -2.3-.4 2.8zM93.3 323.6l.9 -3.6-.2 -.7zM91.6 323.4l.4 .7 .5 .4 .4 -.2 .3 -.6-.6 -1.9-.5 -.8zM85.7 326.1l-.4 1.1 1.1 -2.2-.4 .8zM90.1 329.5l.9 -1.8 .3 -1.7-1.1 -2.6-.7 4.3zM101.6 329l-.4 .1 .3 2.8 .5 -.8 .8 -2.9-.3 -3.7-.5 3.2zM85.5 330l.7 .9 .4 -.9 .3 -.2-1 -1.2-.7 -.3-.8 .5-.6 1.1 .5 -.3 .5 0zM98.6 333l.4 1.7 1.3 -4.1-.5 -2.2-.7 1.9-.3 1.4-.5 .3-.5 .7-.7 3.8 .5 -.6 .5 -.2zM95.9 333.1l.5 -1.1-.5 -.5-.6 -1-.6 1.2 .7 1.1 .1 0zM91 334.1l.7 -3.7-.3 0-.4 .1-.6 .6-.5 2.6 .3 .5 .3 -.2zM85 334.5l.2 -1.6-.4 1.5zM91.1 336.4l-1.1 -2.4-.3 -.5 1.1 2.8zM91.5 341.4l1.8 -5.5-.3 .3-.2 -.5-.3 .4-.4 1.3 .1 -.4-.2 .2-1.4 4.1 .4 .6 .3 -.5 .1 .1zM86.3 338.6l-.6 -1.5-.7 2.4 .4 1zM85 339.5l-.8 -1.3 .3 3.2zM84.9 343.8l.3 -1.5 0 -.1-.4 1.1zM88.4 344.6l.5 -.2-.6 -2.7-.5 .2-.5 .7 .6 2.7z"/>
<path fill="#a83078" d="M64.5 315.5l1.4 -2.4-.9 -4.4-.7 5.7zM57.1 317.1l.1 -.4 .2 -.5-.5 .5zM61.5 322.1l.6 -4.7-1.1 -4.7-.7 5.4 .7 2.8zM59.7 322.4l.6 -4.3-1.1 -5.2-.7 5zM51.5 319.6l.3 -.2 .1 0-.4 -.6-.7 -1.9-.2 0-.2 .4-.3 .9 .7 1.7 .5 .6zM56.3 324.2l.6 -3.1-1.2 -3.5-.6 3.6zM52.3 325.7l.5 -.3-1.2 -3.1-.3 0-.4 .5 1.2 3.4zM48.8 328.5l.4 .1-1.2 -3.5-.1 0-.6 .6 1.2 3.1zM40.6 337.8l.6 -2.9-.4 .1-.3 -.2-.5 -.9-.6 3.6 .2 .5 .5 .4zM47.1 337.8l-.3 -.8 .8 2.2zM40.6 337.8l.6 1.6 .8 .1-.7 -1.4-.5 -.3zM42 339.5l.4 .8 .2 0zM51.8 342.8l.7 -3.6-.8 -.5-.5 0-.7 3.1 .5 .1zM57.8 344l.7 -3.1-.7 -.4-.5 .2-.7 3.6 .7 -.5zM64 345.2l-.2 .4 .6 1.3 .1 .1 .5 -.5 .5 .1-.5 -1.4-.5 -.3zM69.4 318.1l.6 -2.5-.2 -.4-.5 -.6-.4 0-.4 2.1 .2 .6zM76.7 315.7l-1.1 2.1 .1 .3 .7 -1.3zM77.6 315.3l-.5 .4-.7 1.1-.4 1.6 .5 .3 .4 -.2zM79.9 316.9l-1.2 -1.3-.5 2.7 .5 1 .5 .1 .3 0zM83.4 316.9l-1.2 .7-.4 2.6 .5 .9 .4 -.5zM67.2 322.8l.7 -3.3-1.2 -3.3-.7 3.7zM85 322.3l.7 -3-1.2 -2.1-.6 3.2 .4 .6zM86.8 322.2l.5 -1.4-1.1 -2.9-.5 1.4zM74.1 323.4l.7 -3.7-.5 -.3-.4 0-.3 .1-.6 3.2 .4 .1zM80 324.7l.7 -3.3-.5 -.4-.7 0-.7 3.7 .7 -.2zM87.1 325.7l.7 -3.7-1.3 2.7-.6 3.3zM86.8 338l-.5 -1.3-.2 -.1-.4 .5 .6 1.5zM90 339.8l.7 -2.4-1.5 2.7-.5 1.9zM72.4 344.3l.7 3.6 .9 -2.4-.4 -1.8-.6 -.6-.3 .1zM70.8 344l-.4 -.4-.4 1.6-.3 1.8 .4 .5zM82.5 350.3l1.3 -4.6-.6 -4.7-1.3 5.2zM78.6 353.2l.4 -2.6 .2 -1.6-.9 4.6zM91.4 320.8l-.5 .7 .7 1.9 .5 -2.4-.2 -.2zM93.7 322.4l-.7 2.3 .4 .3zM93.6 325.4l.4 .7 .4 -3.5-.2 .8zM103.2 330l1.6 -6.5-.1 .2-.2 -.2-.4 1.7 .3 -2.3-.1 -.9-1.5 6.2 .3 1.8zM100.9 327.1l.3 1.3 .6 -4.6-.3 .9zM102.8 328.2l-.2 .7 .1 0zM95.4 327.4l-.5 -.8-.3 1 .7 2.7 .4 .6 .4 -1.1zM90.4 331.1l.8 -3.6-.7 1.6-.1 .1-.5 1.1-.6 2.5 .2 .2zM96.6 332l-.3 0-.4 1.1 .5 -.4 .8 -1.3zM100.3 330.6l-.2 .8-.5 2.7 1 -3.4-.1 0zM93.9 337l1.3 -2.1-.5 -1.1-.5 .6-.9 1.7 .3 .1zM90.4 336.8l.4 -.5-1.1 -2.8-.2 0-.5 .7 1.2 3.4zM96.1 336.6l.7 -.4-.5 -2.1-.5 .2-.6 .6 .6 2zM91 339.1l-.5 .2-.5 .5-.8 3.4 .6 -.6 .5 -.2 .4 -2-.1 .9 1.4 -4.1-.4 -.3z"/>
<path fill="#601884" d="M56.7 327.5l.6 -.2 .1 -.7-1.1 -2.4-.7 3 .4 .7zM43.5 328l-.2 -.3-.2 -.3 .1 .5zM53.3 329l-.3 1-.2 .8 .6 -.5 .9 -.3 .1 -.4-.7 -.1zM52.3 331l-.4 -1.1-.5 -1.6-.4 .8-.3 -.2-.3 .6-.4 -.1 .5 1.6 .2 .7 .3 .2 .3 -.1-.1 -.6 .1 .6zM48.9 333.5l.6 .4 1 1.2 .8 -2.3-.9 .6-.5 .2-.4 -.2-.5 -.4zM51.1 334.7l-.5 .5 1.1 1.6 .5 -.4-.7 -.4-.4 -.1 .7 -1.5zM53 335.1l-.5 .9-.1 .2-.2 .2 0 .1 .5 0 .5 .2 .3 -.1 .4 .6 .2 -.6zM29.7 338.7l.4 1 .6 2.8 .2 .5 .4 .4 .4 -.6 .4 -1.5-.3 -.7-.6 -2.8-.2 .9-.6 -2.8-.4 2.5zM49.1 340.3l.2 .4 .9 -1.5-.4 -.8zM47 343.1l-.5 -.8-.6 3.2 .5 .7 1.4 -2.8-.3 0zM45.3 346.9l.6 -1.4-1.3 -3.3-.4 1.3-.3 .3-.3 -.2-.5 -1.1 1 2.9 .7 1.5 .3 .1-.2 -.5 .2 .5zM51.6 345.8l1.5 3.9 .4 .6 .3 -.1 .9 -1.7-.3 -.4-.5 -1.7-.7 .7-.2 0-.3 -.4-.2 .2-.2 -.1zM59.7 326.1l-1.1 1-.2 .7 .7 .5zM59.2 328.4l.4 .5 .6 .1 .5 .4-.3 0-.4 -.2 1.1 1.5 .6 .2 .5 -.5 .3 -.5-.9 -1.3-.7 -.6-.7 -.2zM62.1 332.1l-.5 -.4-.6 -.1-.4 .3-.4 .7 1 .7 .9 -.2-.4 .8 .2 0 .4 -1.1 .4 -.5zM59.5 334.2l.7 -1.6-1.2 -1.9-.6 1.2zM57.2 334.6l.9 .7-1.1 -2.2-.8 -.1zM57.4 334.9l-.5 .2-.7 1 .1 .6 .9 .4 1.2 -.3 .7 -1.2-.7 0zM59.5 336.2l-1.1 .6-.3 .7 .6 .3zM58.8 337.8l.8 .5 .4 -.8zM60.9 337.9l.2 .4 .1 -.2zM61.3 351.2l.6 1 .3 -.1 1.1 -2.4-.3 -.2-.5 -1 .2 -.5-.7 -.4-1 -1.7-.7 2.9 .8 1.5 .5 .5zM71.3 322.2l.6 -.9-.8 -2.2-.6 2.3-.3 .1-.4 -.5 .5 1.2 .3 .2zM67.6 327.7l.7 -2.2-1.1 -2.7-.7 2.6 1 2zM65.9 327.2l-.4 -.1-.2 .3-1 2.3 1 .6 .6 0 .7 -.3 .7 -1.8-.7 .4-.4 .1 .4 -.7 .2 -.1-.2 0 .1 0-.8 -1.8-.7 -.7 1.1 2.2zM70.7 332.6l.6 -2.4-1.2 -1-.6 2.1zM67 331.2l1.5 .9 .7 -.8 .2 0-.6 -.5-.7 -.1-1 .3zM66.9 336.2l.3 -2.2-1.1 -1.8-.7 2 .6 2zM69.6 334.7l-.2 1.2 .3 -.1 1.1 -2.2zM63.3 334.6l.7 1-.3 -.6zM63.8 337l-.7 -.1-.7 2.1 .4 -.1 .8 .2 1.2 .8 .7 -2.3-.8 -.3-.4 -.7zM72.6 339.7l-1 -1-.1 0-.6 .4-.6 1.2 .6 .6 .5 -.4 .4 0 .3 -.6 .2 -.1 .3 .1zM66.6 339.5l-.6 0-.6 1.1 .5 .5zM70.3 340.3l-1.2 -1.3-.3 .5 1 1.8zM64.9 343.7l-.8 -1.3-.8 1.9-.3 .3-.2 -.1 .9 1.2 .7 -.7zM66.3 348.3l-.5 -1.3-.1 .2zM75.3 325.1l-.3 2.1 1.3 0 1 .4 .3 -1.8-.7 .2-.5 -.5-.4 .3zM81.6 331l-1.1 -2.2-.6 .7-.2 0-.5 -.4 1.1 1.9 .5 .5 .4 0 .3 -.3zM102.5 332.7l.8 -2.9-.1 .2-.1 0-.2 -1.2-.3 .1-.6 2.2-.5 .8 .1 1.4 .3 .4zM80.2 332.7l-1.2 -1.1-.6 1.7 1.2 1.1 .7 -.4 .5 0 1 -2.1-.5 .1-.2 0-.9 -1.1-.5 -.2 1.2 1.2-.3 .2zM74.1 332.7l.7 -2.2-1.2 .3-.5 2.2 .2 .1zM73.9 333.6l.3 -.9-.1 0-.3 .7zM84 335.2l.1 -.2-.2 -.2 0 .2zM72.5 335.6l-.4 .3-.3 -.3-.3 .8-.4 .4 1.2 2 .2 0 .2 0 .3 -.4 .3 -1.5zM92.6 340.1l-.4 -.8 .2 .6zM89.6 344.6l.2 .5 .4 -.2 .5 -1.4 .6 -2.1-.3 .5-.4 -.6zM86.6 347.6l-.6 -2.4-.6 .9-.5 .5-.2 .1-.5 -.2-.3 .8 .7 1.2 .7 .4 .5 -.2zM76.8 357.4l.2 0-.3 -.7-.4 -2.8-.1 0-.3 .8-.1 0 .5 1.9z"/>
<path fill="#d8486c" d="M56.9 313.5l.5 -5.8-1 4-.3 3.5 .3 .8 .3 .2 .3 .5-.3 -.6-.3 -.4zM58.5 317.9l.7 -5-.8 -1.8-.4 -.3-.6 5.4 .4 .1zM54.6 316l.4 -1.4 .3 -.3-.5 .3-.7 1.3-.2 .2-.4 1.2 .6 -1.1zM40.7 328.3l.7 1.5 .7 -2.4-.7 -1.4-.5 -.3-.5 .2-.4 .8-.5 1.3-.2 .9 .1 .3 .6 -1 .4 -.1zM33.7 328.6l.1 -.8-.2 .7zM34.5 331l.2 -1 .1 -.9-.5 1.1zM40.6 334l-1.3 -4.8-.3 -.7 .1 .4-.3 -.5-.1 .2 1.1 4.5 .2 .8 .3 -.2zM37.4 337.8l.6 -5.5-1.4 -6.6-.6 5.8zM44 335.2l.7 -2.4-.7 -1.2-.5 -.3-.7 .6-.6 1.2-.5 2.6 .6 -1.4 .5 -.4 .5 .1zM33.4 335l.4 -3-.7 3.4zM66 313l-1.2 1.7-.4 1.6 .7 -1.1 .5 -.3 .2 -1.2 .3 -.6 .2 -.1 .4 -1.4-1.2 -5.4-.5 2.5 .9 4.4zM62.4 316.1l.4 -.6-1.2 -5.1-.2 .3-.4 2 1.1 4.7zM67.8 314.7l-.4 -.3 .6 1.1zM82.2 317.6l.5 -2.3-.4 -.4-.3 -.5-.4 -2-.5 1.8-.2 .3-.5 .2-.1 .3-.4 1.9 .4 .2 .3 -.2 .4 -1.2 .5 1.5 .2 .3zM80.4 337.5l-.4 -.7-.3 .1-.3 0-.5 .3-.8 1.7 .1 .7 .5 -.3 .5 .4 .6 1.2 .3 -.1 .7 -2.9zM73 338.5l-.3 1.6 .3 .6 .2 -2.2zM69.5 340.7l-.9 -1.3-.4 -1-.8 .1-.5 .4-.4 .7-.6 2.1 .8 -.7 .5 .1 .5 .8 .7 1.8 .5 -2.2 .3 -.8 .1 -.1zM78.2 347.3l1 -4.9-.2 .1-.2 -.3-.8 -2.1-.7 4.7 .5 1.7zM74.8 347.5l.5 -2.4-.3 -1.3-.5 -2-.5 -1.2-.4 2.4 .9 4.9zM71.8 345.9l-.3 2.2 .7 -3.2-.2 0zM89.6 319.5l-.6 1.8 .5 .6 .7 1.5 .4 -1.6 .2 -.4-1 -2zM90.8 321.4l.6 1.4-.3 -1.1zM97.9 329.7l.8 -6.5-1.1 -5.4-.8 6.7zM94.9 326.6l.8 -5.5-.2 -.1-.6 .4-.5 1.2-.4 3.5 .4 1-.2 -.5 .5 -.2zM92.8 324.7l.2 0 .4 -1.4-.4 .8zM93 324.9l-.6 1.6 .5 .5 .7 1.5 .4 -1.3 .3 -.2-.7 -1.7-.4 -.5zM102 327.7l.9 -5.9-.6 .6-.5 1.4-.6 4.6 .1 .3 .5 -.8zM93.2 333.1l-.6 2.6 .3 0 .1 .5 .8 -1.4 .6 -.4-.3 -.1-.1 -.4-.2 -1.7zM92 337.2l.3 -.2 .2 -.9zM83.8 345.7l.8 -1.7 .3 -.2-.6 -4.8-.5 .6-.6 1.4z"/>
<path fill="#903084" d="M50.1 318.2l-.6 3.1 .8 -.5 .3 .2 .5 .4 .2 -.9-.5 -.6zM53.3 323.4l.6 -3.6-.4 .3-.7 1-.4 2.4 .2 .4zM46.4 323.8l-.5 -1.3-.2 .1-.5 1 .4 1 .4 -.3zM42.2 325.7l-.5 0-.1 .2 .1 .3 .7 .6 .5 1.1 .3 -.1zM56 330.3l.4 -1.4-.4 -.8-.5 -.2-.2 .2-.3 1.1-.4 .7 .5 0 .7 .8zM43.4 331.4l.4 -.1 .6 .8-.4 -.9-.3 -.1zM47.4 335.1l.7 -1.7-.5 .2-.7 .6-.4 1-.1 .8 .5 -.6zM38.9 341.8l.5 -4.3-.6 -1.6-.8 -3.6-.6 5.5 1.2 4.6zM32.3 341.3l.4 -1.8 .4 -4.1-1 5.9zM41.6 338.5l.4 1-.2 -.6 .3 -1.2zM46.5 342.3l.8 -2.2-1.3 -3.5-.7 2.3zM41 340.1l-.3 .6-.4 1.3 .3 -.3zM43.9 343.8l-1.1 -2.9-.2 -.6-.4 -.4 1 3.1 .4 .6zM53 345.6l.7 -4.7-1.2 -1.7-.7 3.6zM49 342.2l.7 1.1 .7 .3-.1 -.5-.5 -.7zM50.4 343.6l.5 .9 .1 0zM55.1 344.6l.7 1.4 .1 0 .5 -.5 .5 -.1-.5 -1 .1 .1 .1 -.2 .7 -3.6-1.2 .9-.3 2.6zM56.4 315.7l.2 .4 .3 -2.6zM70.5 321.4l.6 -2.3-1.1 -3.5-.6 2.5zM70 321.6l-.9 -3-.3 -.5-.3 -.1 .9 2.7 .3 .6zM65.4 323l.6 -3.1-.6 -.9-.5 -.1-.7 3.4 .5 -.1zM58.4 323.2l.4 -.2-1.2 -3.1-.1 0-.6 1.2 1.2 2.8zM74.6 327.5l.4 -.3-.7 -.5-.6 -1.2-.3 .3-.2 .7-.8 .2-.4 .8 .7 -.1 .5 -.7 .4 1 .5 .4 .2 .1zM56.4 328.8l0 .1 .3 .6 .5 0zM61.2 338.4l-.6 -1.3-.3 -.1-.3 .5 .2 .7 .5 .7 .5 .3 .4 -.4zM59.2 338.1l-.4 .3 .3 .1 .5 -.2zM64.4 345l.2 -.1 .4 -1.3-.3 .7zM67.4 349.4l.3 -1.3-.7 -2.1-.5 -.9-.3 1.1-.4 .6 1.2 3.3zM62.8 349.3l.5 .4 1.2 -2.7-.3 -.3-.4 -1.1-1.3 2.9zM76.1 354.3l.4 -2.5-1.2 -6.7-.5 2.4-.3 .4 1.3 6.8zM70.5 351.9l.2 -.7 .2 -.7-.2 .1zM83.4 320.3l-.7 .3-.2 .8 .7 1.3 .7 -2.3zM87.6 328.8l.7 -3.4-.5 -.2-.7 .5-.7 3.2 .7 -.4zM97.2 331.4l.7 -1.7-1.1 -5.2-.7 5.3 .4 2.2 .3 -.1zM87.2 330l-1.1 -1.4-.4 -.2zM100.6 330.7l0 .4 .4 .5 .2 .3 .3 0-.3 -2.8zM88.9 332.1l.2 -.2 .2 -.4-.4 .4zM92.2 335.7l.7 -3.3-.7 -1.4-.5 -.6-.7 3.7 .4 .5 .7 1.2zM96.7 332.4l-.8 .8 .6 1.9 .7 -3.7zM79.7 335.6l-.2 -.2-.2 0 .2 .3zM78.9 335.6l.2 -.7-.3 -.2-.5 -.1-.5 .5-.2 1.1 0 .4 .8 .2zM89.6 339.3l.6 -1.7-1.2 -3.4-.7 1.9 1 3.9zM87 337.4l-.7 -.7 .5 1.3 .3 -.1zM85.1 344.3l-.6 1.4 .2 1 .5 -.3 .8 -1.2-.4 -1.6-.3 .8zM76.8 353.1l1.4 -5.8-.4 -.8-.5 -1.7-.8 7zM79.5 348.4l-.1 .4 .4 1.5-.1 -.4z"/>
<path fill="#6c1884" d="M58.3 321.2l.6 1.9 .2 .3zM55.2 328.1l.4 -.9-1.2 -2.7-.4 1.1-.2 .2 1.1 2.5zM60.2 327.8l.7 -2.3-.5 .1-.7 .5-.5 2.3zM53.5 326.1l.5 1 .4 .8-.6 -1.2zM60.2 329l-.6 -.1 .6 .5 .5 0zM60.4 330.1l.7 .6-1.8 -2.2zM60.6 331.9l.4 -.3 .6 .1-1.2 -1.6-.4 -.1-.4 0-.6 .7 .3 .4 .9 1.5zM47.8 330.7l-.7 2.7 .2 .4 1.1 -.6 .5 .3 .1 -.5zM45.2 332.9l.8 2 .2 -.1-1 -2zM57.4 334.9l-1.2 -1.9-.7 .5-.7 1.3 .7 1 .2 -.6 .2 .1 .3 .8 .7 -1zM54.1 336.6l.7 -1.8-1.2 -1.6-.6 1.9zM59.3 335.4l-.9 1.4 1.1 -.6 .7 -1.3-.7 .4 .2 -.1zM52.2 336.4l.8 -1.3-.8 -.6-.4 -.1-.7 1.5 .4 .1zM51.5 337l.1 -.1-.4 -.4zM60.1 337.2l.3 -.2 .5 .9 1.3 1.1 .2 0 .7 -2.1-1.7 -.9-1.2 -.1-.7 .3-.7 1.6 1.2 -.3zM35.8 339.3l.4 -.3-.8 -3.9-.3 .3-.2 .1-.2 -.1 .7 3.3 .2 .5zM51 337.7l-.5 -1-.7 1.7 .4 .8zM38.4 343l.5 1.7 .3 .4 .3 -.3 .8 -2.8-.3 -.4-.6 -1.5-.8 2.3-1.2 -4.6-.4 2.1-.3 .3 .7 2.9 .5 .3zM48.2 345.2l-.5 .9-.2 .5 .3 -.3zM60 349.7l.3 -.9-1.2 -2.9-.5 1.1-.2 .3 1.2 3zM62.9 322.2l.5 .3 .4 -2zM69.6 325.8l.6 -2.1-.5 -.2-.7 -.9-.7 2.9 .8 .8zM65.7 327.1l.6 .5-1.1 -2.2-.4 -.4-.3 0zM64.3 329.7l.7 -1.8-1.2 -1.9-.6 2zM62.5 329.9l.7 -1.9-1.2 -1.8-.7 2.2zM67.7 327.6l-1 .3-.5 .8 .4 -.1 .7 -.4zM67.8 329.2l.7 -1.9-1.2 .9-.7 1.8zM69 331l.5 .3 .6 -2.1-1.1 -.4-1.2 .4-.7 1.8 1 -.3zM64 331.6l-.8 .5 .3 0-.1 .1 .1 0zM71.5 338.7l.8 .1-1.2 -2-1.1 .6-.9 1.6 1.2 1.3 .6 -1.2zM67.4 338.5l.8 -.1 .6 1.1 .3 -.5-1.2 -1.1-1 -.3-1.4 0-.7 2.3 1.2 -.4 .6 0zM61.2 341.1l.2 .6 .3 -.8zM64.4 347.2l0 .2 .5 .2 .8 -.4-.3 -.6-.2 -.1-.4 .1zM68.8 352.3l.2 -.4-1.3 -3.8-.4 1.7-.3 .3-.2 -.2 1 2.5 .5 .3zM67.8 353.2l.4 .9-.7 -2.1zM69.6 354.7l.4 -1.1-.5 1.1zM71.8 323.7l-1.2 1.9 .7 .2zM83.9 324.4l.7 1.8 .6 .2-.9 -2-.2 .2zM84.1 327.6l-.2 1-.4 1.3 .9 -1.1 .6 -.4 .3 -1.2-.7 .5zM81.6 331l.7 -2.3-1.2 -2.4-.6 2.5zM89.5 327.7l-.7 3.5 .2 .5 .4 -.2 .7 -2zM75.9 330.7l.5 1.8 .3 .6 .5 -1.3zM74.8 330.5l-.1 .5-.2 .7 .5 -1.2zM78.4 333.3l.6 -1.7-1.1 -1.7-.7 1.9zM80.6 332.1l.3 -.2-1.2 -1.2-.1 .1-.6 .8 .3 .2 .9 .9zM82.3 331.7l-.9 .9-.6 1.4 .3 .1 .6 -.5zM83.9 333.7l0 1.1 .2 .2 .7 -.6 .4 -1.4-.8 -.8zM73.6 334.2l-1.1 1.4 .8 1.3 .5 -2.8zM98.1 335.7l-.4 1.4 .5 -.5 .8 -1.9-.4 -1.7zM92.8 340l.4 .2-.5 -1.9-.2 0-.3 1zM95.6 339.3l-.2 .4-.3 .5 .3 -.2zM87.1 347.9l1.4 -2.4-.2 .3-.4 -.5-1.3 2.3 .2 .4zM72.3 349.7l-.5 -2-.2 -.4-.1 .5zM80 351l.7 1.8 .5 .3-.6 -3.9-.3 0-.2 -.2-.5 -1.1-.1 .5zM82.5 350.3l-.6 1.7 0 .1 .5 -.5 .5 -1-.3 0z"/>
<path fill="#902484" d="M46.3 322.9l-.4 -.4 .5 1.2 .3 -.1zM43 328.1l.2 0 .2 -.1-.3 -.2-.2 .1zM58.6 328.2l-.7 -.7-.5 -.2-.6 .3-.6 .9 1 1 .8 -1zM54.8 331.2l1 -.5-.5 -.6-.5 -.2-1.1 .3-.5 .6 .4 .2 .7 .7zM40.3 333.3l.7 1.7 .3 -.3-.6 -2zM49.9 334.3l-.3 -.1-.3 .2 1.2 2.3 .3 -.2 .4 0-.7 -1.4zM40.8 337.8l.5 .3 .4 -2.4-.5 1.1zM57.9 337.4l-1.1 -.2-.3 .2 .9 .2 1.4 .8 .3 -.3zM51.8 342.8l-.8 -.9-.5 -.1-.4 1.1 .9 1.6 .3 -.3zM48.2 344l.4 .4 .7 -.9 .5 -.2-.3 -.2-.5 -.9-.4 .2-.7 1zM57.3 343.8l-.4 .3-.3 .5-.2 -.2 .4 .9 .4 .3-.1 -.3 .1 .2 .2 -.3 .4 -1.2zM62.8 318.4l-.7 -1-.6 4.7 .8 -.3 .4 .2 .6 -3.8zM59.3 323.2l.4 -.8-1.2 -4.5-.3 .9-.1 .2-.3 -.1 1.2 4.2zM64.2 322.3l.7 -3.4-.5 .4-.6 1.2-.4 2 .3 .3zM58.9 323.1l-1 -2.9-.3 -.3 .7 2.1zM64.1 325.4l.4 -.4-1.1 -2.2-.3 .2-.4 .9 1.1 2.1zM62 326.2l.7 -2.3-.7 -.7-.5 -.2-.6 2.5 .4 .1zM70.3 326.7l1.7 .8 .4 -.8 .2 -.2-1.4 -.8-.9 -.1-.7 1.1zM75.7 328.3l1 .4 .6 -1.1-.9 -.4-1.5 0-.6 1zM62.7 339.2l.9 .4 .3 -.2 .4 .1-1.5 -.6-.6 .1-.6 -.2-.4 .4zM71.7 346.9l.1 .8 .3 .3 .5 .3 .2 -.1 .3 -.3-.7 -3.6zM58.4 347.3l-.8 -1.3-.4 -.4 .7 1.4zM69 351.9l.7 -4.9-1.3 -3.3-.7 4.4zM75.7 318.1l.3 .3 .4 -1.6zM76.5 318.7l.3 0 .1 -.2-.2 .1zM86.1 325.1l.7 -2.9-1.1 -2.9-.7 3zM84.3 324.4l.7 -2.1-.7 -1.3-.4 -.6-.7 2.3 .5 .4zM91.5 326.3l-.2 -.3-.3 1.7 .2 -.3zM88.8 331.2l.7 -3.5-.7 -1.6-.5 -.7-.7 3.4 .5 .7zM84.2 329l-.9 1.3-.3 .3 .2 -.1 .6 -.6zM84.4 332.2l.6 -2.6-.4 -.1-.8 .4-.3 1.2 .1 .9zM80.8 334.2l.3 -.1-.8 -.1-.8 .5-.4 .4 .2 .5 .4 .2zM77.6 336.6l.1 .5 .7 -.3-.3 -.2zM94.5 339l1.3 -2.1-.6 -2-1.3 2.1zM90.2 337.6l.1 .3 .8 -1.1-.3 -.5-.2 .2zM92.9 338.2l1 -1.2-.3 -.8-.3 -.1-.7 2 .1 .2zM89.4 339.8l-.8 1.1-.4 .3 .2 1.2zM90 339.8l-1.3 2.2-.2 .7 .3 1.2 .4 -.7z"/>
<path fill="#fc8460" d="M57 309.2l.4 -1.5-.5 5.8 .6 -2.1 .5 -.6 .4 .3 .8 1.8 .6 -6.1-.5 -1.6-.5 -.9-.2 0-.1 1.1-.1 -.9-.5 .9zM61 312.7l.4 -2 .2 -.3 .3 .6-.1 -.4 .1 .3 .4 1.9-1.2 -6.3-.4 -1.7-.4 -.7-.5 2.7zM56.4 311.7l.2 -.9 .4 -1.6-.3 .8zM37.2 322.3l-.6 3.4 1.4 6.6 .4 -2.8 .4 -1.1 .3 .5-.1 -.4 .2 .2 .3 1.1-1.1 -5.1-.8 -2.7-.1 -.2zM36 331.5l.6 -5.8-.8 -2.4-.2 -.3-.2 0-.6 6.1 .2 -.1 .3 .3zM95.2 316.3l-.5 2-.3 1.1 .1 -.1zM95.7 321.1l.5 .8 .6 2.6 .8 -6.7-.6 -2.6-.5 -.8-.2 1.2-.1 -1.3-.4 .6-.6 1.4-.8 6.3 .8 -1.5 .3 -.1zM98.7 323.2l.4 -2.3 .3 -.3-1.2 -5.6-.6 2.8zM93.9 321.7l.5 -2.3-.3 .8zM78.3 340.1l-1.1 -5.3-.3 -.9-.1 .2 1.2 6 .1 -.2zM73.7 334.8l-1.1 5.1 .1 .2 .3 -1.5 .2 -1.1-.2 1 .2 0-.2 2.2 .2 .5 .3 -.6 .3 -.1 .2 .1 .8 -6.2-.3 -.1-.2 .1-.8 2zM78.6 340.8l-.3 -.7 .4 1.5z"/>
<path fill="#cc3c6c" d="M62.9 315.5l-.9 -4.1-.4 -1 .7 3.5zM71.8 315.7l.5 -1.6-1.1 -3.8-.5 1.7zM70 315.6l.7 -3.6-.7 -1.2-.5 -.2-.6 4 .4 0zM58 310.8l-.5 .6-.6 2.1-.3 2.6 .3 .6 .5 -.5zM78.3 315.3l1.6 1.6 .5 -2.2-1.4 -.9-.7 -.1-.3 .3-.4 1.3zM84.5 317.2l.6 -1.5-.5 -.4-.5 -.1-1.4 .1-.5 2.3 1.4 -.8 .5 .1zM78.6 320.1l.4 -.7-.5 -.4-.2 -.5-.5 -1.8-.1 0-.5 2.4 .4 1.6 .5 .5 .2 .1zM76.9 318.7l-.4 .1-.1 .2-.4 1.7 .4 0 .5 -.8 .4 -1.5zM48.7 320.6l-.3 -.2-.2 .1-.2 1.9-.4 1 .4 .2 .7 1.5 .5 -.7 .2 -1.7zM50.2 324l-.9 -1.6 .1 .3 .2 .8 .1 .4 .3 .2zM86.5 331.3l-.2 -.2-.5 .5-.6 1.3-.2 1.6 .5 -.2 .3 .1 .1 -.2 .3 -.9zM39.4 337.5l.6 -3.6-1.3 -5.3-.3 .9-.4 2.8 .8 3.6zM56.8 338.3l-.9 -3-.2 -.1-.1 .3 .5 1.9 .2 .5zM92 316.3l-1.4 3.5-.1 .7 1.1 -2.9zM92.1 321l.8 -4.1-.3 -.1-.5 .2-.5 .6-.7 3.8 .8 -.7zM96.1 329.8l.7 -5.3-.6 -2.6-.5 -.8-.8 5.5 .5 .8zM97.8 330.1l.1 0 .5 -1.2-.4 .7zM98.8 331.7l.8 -4.2-.5 .3-.5 .7-.8 4.2 .5 -.7zM97.2 331.4l.6 -1.3-.3 .4zM95.1 333.2l.6 -.3-.3 -.1-.1 .1zM94.8 333.3l-.7 .9 .1 .2 .8 -1.2zM91.5 336.6l.2 0-.1 .3 .4 .3 .5 -1.1 .4 -.4-.8 .1zM86.4 340.1l.3 -.5-.1 -.2-.1 .5zM87.5 342.2l.8 -.5-.6 -3.1-.5 .3-.5 .7 .6 3z"/>
<path fill="#e45460" d="M61 305.6l.2 1 .4 -4.1-.3 1.2zM70.7 312l.5 -1.7-.7 -1.3-.4 -.2-.5 .3-.7 1.3-.5 2 .7 -1.4 .4 -.4 .5 .2zM61.9 310.2l.3 2.1 .2 .1 .1 -.2zM56.6 310.5l-.4 .3-.4 -.1-.1 .2-.4 2.2 .3 .2 .2 -.1 .4 -.8zM60.3 318.1l.7 -5.4-1.2 -5.9-.6 6.1zM35.8 333.1l.2 -1.6-.7 -2.2-.3 -.3-.2 .1-.3 1.9 .8 2.9 .2 0zM78.3 339.9l-.2 0-.1 .2 .5 1.6 .4 .7zM73.5 340.6l-.3 .6 .4 1.8 .4 -2.4-.2 -.1zM72.5 343.5l-.2 .6-.3 .8 .3 -.3zM79.2 349l-.2 1.6 1.3 -5.6-.4 1zM93.1 317.2l.4 .9 .5 1.2 .5 -2.1-.6 -1.6-.7 -.6-.5 .2-.5 .7-.6 1.7 .8 -.8 .2 0zM101.5 320.3l.7 -2.3-.8 -4.9-.8 6.9 .4 2.3 .3 -.9zM94.4 322.6l.8 -6.3-1.3 5.4-.5 3.3 .2 .4zM104.3 322l.1 1.3 .3 .4 1 -2.6-.4 -1.6-.5 .8zM102.5 324.5l.3 3.7 1.5 -6.2-.4 -5.4-.8 3.1zM99.9 325.4l.5 -2.6-.3 -.2-.4 -1 .2 2.3-.6 -3.3-.6 2.6 .5 1.5 .4 .7zM100.8 327l-.3 -1.1-.2 -.2-.3 .1-1 1.3-.4 1.4 .5 -.7 .5 -.3 .2 .9 .5 -1zM87.7 338.6l-.4 -.8-.1 0-.9 .9-.6 1.3-.4 2 .5 -1 .5 -.4 .2 -.7 .1 -.7 .1 .4 .5 -.7zM80.9 338.7l-.7 3.1 .3 1.8 .5 -4.6zM81.2 341.8l-.7 2 .2 .5 .3 -.3 .5 -2.5z"/>
<path fill="#b43078" d="M56 312.9l-.4 .4-.3 -.2-.1 1.2 .5 .3 .4 .6 .3 -3.5zM62.3 312.4l.6 3.1 .5 .9-.9 -4.2-.1 .2zM71.1 319.1l.7 -3.4-1.1 -3.7-.7 3.6zM63.3 318.2l.5 -1.7-.3 0-.2 -.2-.5 -.8-.1 0-.6 1.9 .7 1zM58.1 319l.4 -1.1-.5 -1.2-.4 -.6-.2 .1-.3 .9 .7 1.8zM39.3 328.9l.2 -.9 .1 -.1-.3 .8zM40 331.2l-.2 -.1 .5 2.2 .4 -.6zM34.9 335.5l.5 -.4-.7 -3.1-.4 -.4-.2 0 .6 3.8zM40.9 335l-.6 -1.3 .1 .5-.1 -.5-.3 .2 .5 .9zM36.9 340.2l.3 -.8 .2 -1.6-1.4 -6.3-.4 2.1-.3 .3 1.4 6.3zM42.1 337.7l.7 -3.8-.5 .4-.6 1.4-.4 2.4 .3 .4zM70.8 344l0 -.5-.3 -.1-.1 .2zM67.7 348.1l.7 -4.4-.7 -1.8-.5 -.8-.7 4 .5 .9zM71 350.2l.3 -1.2 .5 -3.1-1.1 4.7zM77.3 318.4l.4 -1.7 .1 0 .4 1.6 .5 -2.7-.4 -.3-.7 0-.7 3.2 .3 0zM83.9 320.4l.6 -3.2-.4 -.3-.5 -.1-.2 .1-.7 3.7 .7 -.3zM91.6 317.6l-1.1 2.9 .4 .9zM92 324.1l-.3 .3-.2 .9-.2 .7 .2 .3 .9 -1.3 .4 -.3 .1 -.4-.4 .2zM97.8 330.1l1.2 -3 .8 -1.1 .1 -.6-.3 0-.2 -.2-.7 -2zM94.2 326.7l.4 .9 .3 -1-.2 -.2zM95.1 329.4l-.8 -2.4 1 3.3zM97.8 332.7l.8 -4.2-1.4 2.9-.7 3.7zM94.2 334.4l-.6 .9-.4 .8zM86.4 340.1l-.8 3.5 .4 1.6 1.3 -2.6-.6 -3zM80.2 345.6l-.6 2.3 .5 1.1 .2 .2 .3 0z"/>
<path fill="#f06060" d="M63.2 308.2l1.1 6.2 .7 -5.7-1.2 -6.6zM62.5 312.2l.7 -4-.7 -2.2-.2 -.3-.3 .1-.4 3.2 .3 1.2zM55.3 313.1l.4 -2.2 .3 -.2-.5 -1-.7 -3.1-.3 .4-.4 2.3 .8 2.8zM32.9 328.6l-.7 -3.3-.3 -.9-.2 -.1-.2 .2 .6 2.3 .8 1.9zM33.4 328.3l-.2 0 .5 2.6 .4 .7 .2 0 .4 .4-.8 -2.9zM35.3 333.9l-.6 -1.9 .3 1.3zM71.3 341.8l.4 2.5 .3 .6 .8 -1.7 .2 -.1 .3 .2-.3 -.7-.4 -2.7-.3 -.1-.2 .1zM79 343.3l.7 3.7 .5 -1.8 .5 -.9-.2 -.7-.4 -2.9-.6 .8zM99.1 311.3l-.8 3.3 .2 .7zM105.1 316.4l0 .4 .2 -1.2zM99.3 315.6l-.6 .7 .4 2.7 .4 -3.2zM106 320.5l.7 -4.2-.6 .7-.5 1.8-.2 1.3 .3 1zM101.8 323.8l.4 -3.4-.3 -1.1-.7 2.8-.5 4.3 .2 .7zM101.1 322l-.8 1.1-.4 2.3 .8 -1.5 .6 -2.5zM82 337.5l-.6 4.3 .5 4.4 1.3 -5.2-.6 -6.2z"/>
<path fill="#b43c78" d="M67.6 312.7l-.5 -.2-.4 -.9-.4 1.4 .6 .4 .4 .9 .5 -1.8zM64.9 318.9l.4 -2.5 .3 -1.5-.5 .3-.7 1.1-.6 4.2 .6 -1.2zM57.6 319.9l.7 1.3-1.2 -4-.4 -1-.3 -.2zM45.4 326.6l.4 -1.5 .3 -.8-.5 .2-.6 .9-.7 2.2 .7 -.8zM39.7 328.4l-.3 .8 .3 1.3 .5 -2.5zM42.8 331.9l.6 -.5-1.3 -4-.7 2.4 .9 3zM41.7 335.7l.5 -2.6-1.1 2.1-.5 2.6 .2 0zM51.2 338.7l.8 -2.1-.8 .7-.6 .9-.5 1.8 .7 -1zM59.8 342.9l.7 -2-1.2 -2.1-.8 2.1 .5 .6zM69.7 347l.7 -3.4-1.2 -2.9-.8 3zM82.7 321.8l.2 .3-1.2 -2.1-.4 -.3 1.2 2.1zM89.5 327.7l.7 -4.3-.7 -1.5-.5 -.6-.7 4.1 .5 .7zM102 327.7l-.7 1 .2 .4 .3 -.3zM100.8 330.1l.2 -.6 0 -.3-.7 1.4 .2 .1zM85 339.5l.7 -2.4-.8 -1.3-.5 -.5-.3 1.2 .1 1.7zM78.6 341.1l.3 1.3 .3 0 .6 -1.5-.3 -.8-.5 -.7zM85.3 344.4l.1 -.2 .2 -.4-.5 .5zM84.1 346.2l.3 -.3 .7 -1.6-.2 -.5-.5 .6-.6 1.3z"/>
<path fill="#fc9c6c" d="M62 305.8l.4 -4 .3 -2.5-.5 .7-.6 2.5-.4 4.1 .1 .8 .3 -.9zM63.8 302.1l1.2 6.6 .5 -2.5-1.2 -6.8zM99.1 311.3l.1 -1.2-.9 4.5zM100.6 320l.8 -6.9-.6 -3-.4 -1-.9 6.7 .5 1zM103.1 319.7l.8 -3.1-.2 -2-.5 .6-.3 .6-1 3.5 .3 1.1-.4 3.4 .5 -1.4 .6 -.6zM82.6 334.8l.6 6.2 .6 -1.4 .5 -.6-.6 -6.3-.5 .6zM81.2 337.3l.4 -3.1-1.3 5.8-.2 1.1 .1 .7z"/>
<path fill="#541878" d="M57.4 326.6l-.1 .7 1.1 .5 .2 -.7-.7 0zM54.9 328.3l-.3 -.1-.4 -.6 .5 .7 .3 .2 .3 -.4 .7 -.2-.4 -.7-.4 .9zM60.2 334.8l1.5 -.9 .4 -.8-.9 .2-1 -.7-.7 1.6zM47.3 333.8l-.2 -.4-.2 .8 .2 -.2zM58.4 335.7l-.7 -.7-.3 -.1zM56.5 337.4l.3 -.2 1.3 .3 .3 -.7-1.2 .3-.9 -.4zM53.9 337.2l.5 .4 .1 -.2 .3 .1-.7 -.9zM48.4 340.9l.2 .2 .3 0 .4 -.4-.2 -.4-.3 .4zM50.1 343.8l.5 .3-.3 -.6-.7 -.2zM37.8 344.4l.5 1 .2 .2 .5 -.1 .2 -.4-.3 -.4-.5 -1.7-.5 .4-.2 -.1-.3 -.4zM53.2 347.1l.4 -.3-.6 -1.2-.2 1.2zM45.6 347l.4 .9 .3 .1 .5 -.4 .5 -.6 .2 -.4-.3 -.1-.5 -.8-.7 1zM60.1 351.4l.3 .3 .4 0 .7 -.8-.4 -.6-.8 -1.5-.4 1.2-.3 .3-.3 -.1-.4 -.8 .7 1.5 .6 .7zM68.3 325.5l-.5 1.9 1.3 -1.1zM66.7 327.9l.9 -.2-1.1 -2.3-.2 .6-.4 .1zM63.7 331.4l.6 -1.7-1.1 -1.7-.7 1.9zM66.6 330l-1.1 .3-.2 .7 .9 0zM66.8 331.1l.2 .1 .1 -.2-.2 .1zM62.6 332.2l.3 0-1.1 -1.4-.7 -.1 1 1.2zM69.6 331.5l.7 1 .2 0zM61.2 338.4l.4 .4 .6 .2-1 -.9zM72.7 339.4l-.4 -.6-.7 -.1 1 1zM66 339.5l-1.2 .4 .6 .7zM69.8 341.3l.3 .7 .8 -1.1-.6 -.6zM65 348.4l.6 .3 .7 -.3-.6 -1.2-.8 .4-.6 -.2zM67.5 351.9l1 2.7 .5 .5 .2 -.1 .3 -.3-.3 -.4-.4 -2-.5 .4-.3 0zM86.1 325.1l-.1 .6 0 .1 .2 -.4zM82.1 331.7l1.2 -1.5-1 -1.5-.7 2.3zM81.2 332l-.6 -.7-.3 -.3 .7 .9zM88.8 331.9l.2 -.2-.2 -.5-.3 .5zM101.7 333.5l-.2 -1.6-.3 0-.2 -.2 .3 1zM73.3 333.1l.5 .3 .3 -.7-.4 .2zM81.1 334.1l.5 .3 .1 -.8zM78.4 333.3l-.7 1.7 .1 .1 .5 -.5 .3 0 .4 .3 .5 -.5zM77.2 334.5l.1 .5 .1 .5 .3 -.5zM97.9 337.5l.5 -1.4-.7 1zM94.1 341.3l1 -1.1-.2 -.3-.4 -.9-1 1.2-.5 0-.6 -.6 .7 1.3 .5 .4zM89.5 344.8l.2 .3 .1 0-.2 -.5zM81.5 353.3l.4 -1.3-.4 .9-.3 .2 .1 .2zM76.8 353.1l-.1 -.3-.2 -1-.3 2.1 .4 -.3z"/>
<path fill="#6c2484" d="M58.6 327.1l.6 -2.6-.6 -.1-.5 -.5-.7 2.7 .5 .5zM54.5 328l.4 .3-1.1 -2.5-.3 -.1-.3 -.4zM46.3 334.9l.6 -.7 .2 -.8-1.2 -2.6-.7 2zM65 335.1l.4 -.9-.5 -1-.7 -.7-.4 .2 .2 .3-.5 -.7-.3 .9-.4 .5 .5 .4 .9 1.6 .4 -.2 .2 -.4zM65.4 335.8l-.3 -.6-.1 -.1zM48.6 340.8l.5 -.5-1.2 -2.4-.3 .4-.4 0 1.1 2.5zM87 323.4l.2 -.3-.4 -.9-.7 2.9 .1 .3zM71.3 322.6l-.7 .9-.4 .2-.6 2.2 1 -.5zM65.9 326.1l.4 -.1 .2 -.6-1.1 -2.4-.3 .6-.4 .2zM83.5 330l.6 -2.4-.4 -.5-.7 -1.2-.7 2.8 .9 1.4 .1 .1zM67.9 334.9l1 .2 .7 -.4 .7 -2-.7 -.4-.5 -.8-.5 .5-.7 0-.4 .9-.3 1.1zM70.6 334.3l-.5 .5-.4 1 .4 -.2 .2 -.4zM95.1 340.2l1.3 -2.2-.2 -.2-.4 -.9-1.3 2.1 .4 .9zM88.8 343.9l.1 .5 .3 -1.2z"/>
<path fill="#9c3078" d="M52.8 321.1l.3 -1.6 .2 -1.4-.9 1.7-.5 2.7 .1 .3zM50.2 324l1.2 4.3 .7 -2.1-1.2 -3.4zM48 325.1l1.2 3.5 .8 .8-1.3 -4.3zM44.6 342.2l.7 -3.3-1.3 -3.7-.7 3.5zM65.2 345.4l.7 -3.7-1.2 3 0 .3zM74.1 323.4l1.2 1.7 .7 -4.4-1.2 -1zM78.8 324.7l.4 -2.3 .3 -1.4-1.2 .3-.7 4.5zM93.8 332.2l.3 2 .2 -.5 .4 -2-1.1 -3.2-.7 3.9 .3 .8z"/>
<path fill="#cc3c78" d="M68.4 312.4l.4 -1.7-1.1 2.1-.3 1.6 .1 0zM74.8 319.7l.4 -1.4 .3 -.4-.7 -.2-.6 .2-.6 1.6 .5 -.1zM50.9 322.8l.4 -.5 .3 0-.7 -1.2-.8 -.3-.4 .4 .4 .3zM47.3 325.7l.3 -.4 .4 -.2-.7 -1.3-.5 -.3-.4 .3-.3 .5 .5 .3zM34.2 327l-.4 2 .2 .5zM33.4 334.8l-.3 .6-.3 3.1zM58 338.2l.5 0-.2 -.1zM94.8 317.9l-.3 -.7-.5 2.1 .2 .7zM80.7 321.4l.4 -1.3 .2 -.4-.4 -.4-.7 -.1-.3 .3-.4 1.5 .7 0zM99.8 328.4l.5 2.2 .6 -1.1 .5 -.5-.6 -2-.5 .4zM88.3 331.6l-.7 .4 .2 .1zM84.4 335.3l.7 -.8-.2 -.1-.5 .3-.4 .6zM85.6 343.8l.7 -3.2-.5 .4-.5 1-.4 1.8 .2 .5zM76.5 351.8l.8 -7-1.3 -6.4-.7 6.7z"/>
<path fill="#fcc084" d="M58.4 304.5l.1 .6 .4 -2.7 .4 -1.1-.5 .6-.6 2.3-.3 .4-.4 2.4 .4 -1.6zM61.1 306.5l-.4 -2-.3 -.4-.1 0 .4 .7zM35.8 323.3l.8 2.4 .4 -2.8 .3 -1-.8 -2.4-.5 -.4-.4 .5-.8 2.8-.5 3.8 .6 -2.6 .5 -.6 .2 0zM76 331.2l-.2 -.8-.1 -.2-.4 .1-.5 .7-.9 2.5-.4 2.9 .8 -2 .2 -.1 .3 .1 .5 .9 .7 3.1 .6 -3.9 .2 -.4 .2 -.1-.6 -1.5 .1 .5zM97 315.2l.6 2.6 .6 -2.8 .7 2.8-.3 -2.4-.9 -3.3-.5 -.8-.2 .5-.5 2.6zM96.5 314.4l-.3 -.1 .2 1zM77.5 335.9l-.3 -1.5-.2 -.4 .2 .8z"/>
<path fill="#fc7860" d="M99.9 323.9l-.3 -2.6-.2 -.7-.1 0zM34.8 329.1l.2 -2.4 .4 -3.7-.5 .6-.6 2.6-.3 3.3 .3 .7zM33.8 329l.7 -4.3-.8 3.7zM76 338.4l1.3 6.4 .7 -4.7-1.2 -6-.3 1.1zM74.5 341.8l.8 3.3 .7 -6.7-.7 -3.1-.5 -.9-.8 6.2z"/>
<path fill="#e44860" d="M62 305.8l-.4 .7-.3 .9 .3 1.6zM55.2 308l-.4 -1.4 .7 2.9zM100.6 320l-.6 -3.2-.5 -1-.4 3.2 .6 2.6 .5 1.2zM32 332.9l.1 -1 .6 2.7 .4 .8 .5 -2.9 .5 -.9-.4 -.7-.5 -2.6-.5 .8 .2 -.4-.5 -1-.9 -3.2-.2 1.2-.4 3.4zM80.1 340.8l0 .3 .2 -1.2zM72.6 339.9l.4 2.7 .9 2.3-.5 -2.9zM74.5 347.9l-.4 -2.5-.2 -.5 .4 2.2z"/>
<path fill="#601878" d="M59.3 323.2l-.3 -.1 .1 .3 .4 .3 .5 -.1-.3 -1.2zM61.6 331.7l.7 .4-1.2 -1.4-.7 -.6zM59.1 335.1l.4 -.9-1.1 -2.3-.5 .5-.3 -.2-.2 .6-.4 .3 1.1 2.2 .6 .2zM55.1 337.1l.4 -1.3-.7 -1-.7 1.8 .7 .9zM42.7 341.3l-.8 -1.8 .4 1.2zM67.1 331l.7 -1.8-1.2 .8-.4 1 .6 .1zM72 330.5l-.7 -.3-.6 2.4 1 -.1 1.4 .5 .5 -2.2-.7 -.1-.4 -.5zM77.7 335l.7 -1.7-1.2 -1.5-.5 1.3 .5 1.4zM72.3 349.7l.7 1 .5 .1 .2 -.2-.6 -2.7-.5 .4-.3 -.1-.5 -.5zM74 350.7l.7 -1.3-.1 -.6-.9 1.8z"/>
<path fill="#fc9060" d="M61 305.6l.7 -3.9-.8 3.5zM101.4 313.1l.8 4.9 .7 -2.8-.9 -5.2zM103.9 316.6l.4 5.4 .5 -1.7 .5 -.8-.4 -5.3-.5 .7zM81.2 341.8l.3 -.3 .8 -6.7-.6 .7-.5 1.8-.7 6.5z"/>
<path fill="#fca86c" d="M62.7 306.5l.5 1.7 .6 -6.1-.7 -2.4-.2 -.3-.2 -.1-.7 6.5 .3 -.1zM99.3 315.6l.2 .2 .9 -6.7-.3 0-.5 .6-.5 1.6-.6 4 .2 1 .3 -.6zM102.6 316.7l.2 -.9-.9 3.5-.2 .4-.5 2.4zM82.4 333.5l-.3 2.7-.1 1.3 .6 -2.7zM81.2 337.3l-.3 1.4 .1 .3 0 -.3z"/>
<path fill="#fcd89c" d="M62.2 300l.5 -.7 .5 -2.8-.2 .2-.5 1.1-.7 2.8-.2 1.9zM100.8 310.1l.6 3 .6 -3.1-.6 -2.9-.5 -.8-.5 2.8zM103.9 316.6l.5 -1.7 .5 -.7-.2 -2.4-.3 -.5-.2 .6-.5 2.7zM81.7 335.5l.6 -.7 .4 -3.2 .3 -1.1-.5 .7-.7 2-.6 4.1z"/>
<path fill="#fce4a8" d="M63.1 299.7l.7 2.4 .5 -2.7-.6 -2.4-.5 -.5-.5 2.8 .2 .1zM99.9 309.3l.2 -.2 .3 0 .5 -2.8-.2 -.1-.3 .3-.5 1.2-.5 1.8-.3 1.8zM103.2 315.2l.5 -.6 .5 -2.7 .2 -.6-.5 .7-.8 2-.5 2.7zM82.6 334.8l.8 -1.9 .3 -.2-.3 -1.6-.2 -.7-.3 .5-.5 2.6z"/>
<path fill="#e4486c" d="M66.2 315.3l.5 .9 .4 -1.5 .3 -.3-.7 -1.3-.5 -.2-.2 .4-.4 1.6 .2 0zM55.3 316.6l.4 1 .4 -1.3 .3 -.3-.7 -1.4-.4 -.3-.3 .3-.4 1.4zM88.8 321.2l.2 .1 .4 -1.6 .3 -.4-.3 -.1-.4 .2-.7 .9-.5 1.7 .5 -.6zM92.2 326.4l.2 .1 .4 -1.4 .3 -.3-.2 -.1-.5 .3-.8 1.1-.4 1.3 .5 -.7zM41.4 326l.7 1.4 .3 -.2 .5 .6-.8 -1.3-.4 -.3-.4 -.6-.3 -.1-.1 .2zM43.5 331.3l.2 .1 .4 .3-.3 -.4zM44.8 332.4l-.4 -.2 .3 .6 .2 -.1 .2 .2z"/>
<path fill="#480c78" d="M62.9 332.2l2.4 -1.2 .2 -.7-.5 -.1-.7 -.5-.6 1.7-1.2 -1.5-.7 .9zM59.3 334.8l-.6 .7-.6 -.2 .3 .4 .4 0 1.4 -.9-.7 -.6zM45.6 346.4l-.4 .6 .1 .1-.2 -.1 .5 .7 .3 .2 .2 .1 .2 0-.3 -.1-.4 -.9 .8 -.8-.5 -.7zM60.1 351.5l.5 .9 .5 .2 .5 .1 .5 -.5-.3 -.1-.5 -.9-.7 .5zM81.2 332l.9 -.3-.5 -.7-.2 .4-.4 .2zM77.5 335.7l.3 -.6-.1 -.1-.3 .5zM73 338.4l-.3 .4-.4 0 .4 .6zM85.8 348.7l-.5 .2 .3 .4 .9 -.6 .6 -.8-.3 .1-.2 -.4z"/>
<path fill="#fccc90" d="M59.1 304.6l.7 2.2 .4 -2.3 .2 -.4-.7 -2.4-.4 -.4-.3 .5-.4 2.5zM96.3 314.3l.2 .1 .5 -2.6 .2 -.5-.2 0-.5 .6-.8 2-.5 2.4 .6 -1.4zM37.1 321.1l.2 .8 .2 -.1 .1 .2z"/>
<path fill="#fcb478" d="M105.2 317.1l1.6 -7.6-1.4 5.6zM106.1 317l.6 -.7 .8 -7.1-.5 .7-.6 1.7-.8 7.2z"/>
<path fill="#3c0c6c" d="M67.7 334.6l-.5 -.6-.3 2.2 1.6 -.4 .9 .1 .2 -1.2-.7 .4-.5 -.2-.2 .1zM65.4 334.2l-.4 .9 .4 .8 .6 .3z"/>
<path fill="#f06c60" d="M105.4 319.6l.7 -5.2 .3 -2.8-1.2 5.5zM104.5 323.5l-.1 -.6-.3 2.3 .3 -1.3z"/>
<path fill="#fcfcc0" d="M106.4 311.6l.6 -1.7 .5 -.7 .6 -3.1-.5 .7-.7 2.1z"/>
<path fill="#000" d="M67.2 351.3l-.5 -1.5 .4 2.5z"/>
<path fill="#fff" d="M16.2 520.6l102.2 0 0 -102.2-102.2 0z"/>
<path fill="#f9f9f9" stroke="#f9f9f9" stroke-width="1" stroke-linejoin="miter" d="M24 495.4l33.7 -28.3-.5 -40.8-35.3 25.8M57.7 467.1l54.2 15.8 1.9 -42.3-56.6 -14.3M24 495.4l57.4 18.8 30.5 -31.3-54.2 -15.8"/>
<path fill="none" stroke="#e2e2e2" stroke-width=".4" d="M33 498.3l33.2 -28.7-.1 -41M42.3 501.4l32.7 -29.3 .3 -41.2M51.7 504.5l32.3 -29.8 .6 -41.4M61.4 507.6l31.7 -30.2 1 -41.7M71.2 510.8l31.1 -30.7 1.5 -42M81.2 514.1l30.5 -31.3 1.9 -42.2M28.1 447.6l1.8 42.8 56.9 18.2M34.3 443.1l1.5 42.4 56.3 17.7M40.2 438.7l1.3 42 55.7 17.2M46 434.5l1 41.6 55.2 16.7M51.7 430.4l.7 41.2 54.7 16.2M57.2 426.4l.4 40.8 54.2 15.7M111.9 482.1l-54.2 -15.7-33.8 28.3M112.3 474.3l-54.7 -15.5-34.1 27.8M112.6 466.3l-55.1 -15.2-34.4 27.3M113 458.2l-55.6 -15-34.7 26.9M113.4 449.9l-56 -14.6-35.1 26.3M113.8 441.5l-56.5 -14.3-35.4 25.8"/>
<path fill="none" stroke="#d0d0d0" stroke-width=".5" stroke-linecap="square" d="M24 495.4l57.4 18.8"/>
<path fill="none" stroke="#1c1c1c" stroke-width=".8" stroke-linecap="square" d="M33 498.3M42.3 501.4M51.7 504.5M61.4 507.6M71.2 510.8M81.2 514.1"/>
<path fill="none" stroke="#d0d0d0" stroke-width=".5" stroke-linecap="square" d="M111.9 482.9l-30.5 31.3"/>
<path fill="none" stroke="#1c1c1c" stroke-width=".8" stroke-linecap="square" d="M86.8 508.6M92.1 503.2M97.2 497.9M102.2 492.8M107.1 487.8M111.8 482.9"/>
<path fill="none" stroke="#d0d0d0" stroke-width=".5" stroke-linecap="square" d="M24 495.4l-2.1 -43.3"/>
<path fill="none" stroke="#1c1c1c" stroke-width=".8" stroke-linecap="square" d="M23.9 494.7M23.5 486.6M23.1 478.4M22.7 470.1M22.3 461.6M21.9 453"/>
<text x="32.7" y="504.5" font-size="4.9" text-anchor="middle">−50</text>
<text x="42" y="507.6" font-size="4.9" text-anchor="middle">−25</text>
<text x="51.4" y="510.8" font-size="4.9" text-anchor="middle">0</text>
<text x="60.7" y="514" font-size="4.9" text-anchor="middle">25</text>
<text x="70" y="517.2" font-size="4.9" text-anchor="middle">50</text>
<text x="90" y="514.5" font-size="4.9" text-anchor="middle">−50</text>
<text x="95" y="509.1" font-size="4.9" text-anchor="middle">−25</text>
<text x="100" y="503.8" font-size="4.9" text-anchor="middle">0</text>
<text x="105" y="498.5" font-size="4.9" text-anchor="middle">25</text>
<text x="110" y="493.2" font-size="4.9" text-anchor="middle">50</text>
<text x="19.4" y="490.7" font-size="4.9" text-anchor="middle">100</text>
<text x="19.4" y="482.3" font-size="4.9" text-anchor="middle">200</text>
<text x="19.4" y="473.9" font-size="4.9" text-anchor="middle">300</text>
<text x="19.4" y="465.6" font-size="4.9" text-anchor="middle">400</text>
<text x="47.3" y="517.2" font-size="8.45" text-anchor="middle">x1</text>
<text x="106.4" y="508.7" font-size="8.45" text-anchor="middle">x2</text>
<path fill="none" stroke="#221150" stroke-width=".5" d="M48.6 491.2l-.1 -.2 .8 -.7 1.4 .5-.9 .7zM54.5 493.1l-.1 -.3 .8 -.6 1.4 .5-.8 .7zM60.5 495l-.1 -.3 .8 -.6 1.4 .4-.8 .8zM66.6 496.9l-.2 -.3 .8 -.6 1.5 .4-.9 .8-1.2 -.3M72.7 498.8l-.2 -.2 .8 -.7 1.5 .5-.8 .7zM52.2 488l-.1 -.2 .8 -.6 1.4 .4-.9 .7-1.2 -.3M58.2 489.9l-.2 -.3 .8 -.6 1.4 .4-.9 .8-1.1 -.3M64.2 491.7l-.3 -.2 .8 -.7 1.4 .5-.8 .7zM70.3 493.6l-.4 -.2 .8 -.7 1.4 .5-.7 .7zM76.1 495.4l-.1 -.2 .8 -.6 1.4 .4-.8 .8zM55.7 484.8l.7 -.7 1.4 .4-.8 .7zM61.5 486.6l.7 -.8 1.4 .5-.7 .7zM67.4 488.4l.8 -.7 1.4 .4-.8 .7-1.4 -.4M73.4 490.3l.7 -.8 1.4 .4-.7 .7zM79.5 492.2l-.1 -.3 .8 -.6 1.4 .5-.8 .7zM59.2 481.8l0 -.2 .7 -.6 1.3 .4-.7 .7zM65 483.5l0 -.2 .7 -.5 1.4 .4-.8 .7zM70.9 485.3l-.1 -.2 .8 -.6 1.3 .5-.7 .7zM76.8 487.1l0 -.2 .7 -.6 1.4 .5-.8 .7zM82.9 489l-.1 -.3 .7 -.5 1.4 .4-.7 .7zM62.7 478.8l-.1 -.2 .7 -.6 1.3 .4-.7 .7zM68.4 480.5l0 -.2 .7 -.6 1.3 .5-.7 .6zM74.3 482.2l-.1 -.2 .7 -.5 1.4 .4-.8 .7zM80.2 484l-.1 -.2 .7 -.6 1.4 .5-.8 .6zM86.2 485.8l-.1 -.2 .7 -.6 1.3 .5-.7 .6-1.2 -.3"/>
<path fill="none" stroke="#5f187f" stroke-width=".5" d="M48.3 491.2l0 -.3 .9 -.7 1.7 .6-1 .8zM54.3 493.1l-.1 -.3 .9 -.7 1.7 .5-1 .9zM60.2 495l0 -.3 .9 -.7 1.7 .5-1 .9zM66.3 496.9l0 -.3 .9 -.7 1.7 .5-1 .9zM72.4 498.8l0 -.3 .9 -.7 1.7 .5-1 .9zM52 488l-.1 -.2 .9 -.7 1.7 .5-1 .8zM57.8 489.8l0 -.2 .9 -.7 1.7 .5-1 .9zM63.8 491.7l0 -.3 .9 -.7 1.6 .6-1 .8-1.5 -.4M69.8 493.6l0 -.3 .9 -.7 1.6 .5-.9 .9-1.6 -.4M75.9 495.5l-.1 -.3 .9 -.7 1.7 .5-.9 .9zM55.5 484.9l0 -.2 .9 -.8 1.6 .6-1 .8zM61.4 486.7l-.1 -.2 .9 -.8 1.6 .6-.9 .8zM67.3 488.5l-.1 -.2 .9 -.8 1.7 .6-1 .8-1.5 -.4M73.3 490.4l-.1 -.3 .9 -.7 1.6 .5-.9 .9-1.5 -.4M79.3 492.2l-.1 -.2 .9 -.8 1.7 .6-.9 .8-1.6 -.4M59 481.8l0 -.2 .8 -.7 1.6 .5-.9 .8-1.5 -.4M64.9 483.6l-.1 -.2 .9 -.7 1.6 .5-1 .8-1.4 -.4M70.7 485.4l-.1 -.3 .9 -.7 1.6 .5-.9 .9-1.5 -.4M76.7 487.2l-.1 -.3 .8 -.7 1.7 .5-.9 .9-1.5 -.4M82.7 489l-.1 -.2 .8 -.8 1.7 .6-.9 .8zM62.5 478.8l-.1 -.2 .9 -.7 1.5 .5-.9 .8zM68.3 480.6l-.1 -.3 .8 -.7 1.6 .5-.9 .8zM74.1 482.3l-.1 -.2 .9 -.7 1.6 .5-.9 .8zM80 484.1l-.1 -.3 .8 -.7 1.7 .5-.9 .8zM86 485.9l-.1 -.3 .8 -.7 1.7 .5-.9 .8-1.5 -.3"/>
<path fill="none" stroke="#982d80" stroke-width=".5" d="M48.2 491.2l-.1 -.3 1.1 -.8 1.8 .6-1.1 1zM54.1 493.1l0 -.3 1 -.8 1.9 .6-1.1 1-1.8 -.5M60.1 495l-.1 -.3 1.1 -.8 1.9 .6-1.1 1-1.8 -.5M66.2 496.9l-.1 -.3 1 -.8 1.9 .6-1.1 1zM72.3 498.8l-.1 -.3 1 -.8 1.9 .6-1 1zM51.8 488l0 -.2 1 -.8 1.8 .6-1.1 .9zM57.7 489.9l0 -.3 1 -.8 1.8 .6-1.1 .9zM63.7 491.7l-.1 -.3 1 -.8 1.9 .6-1.1 1zM69.7 493.6l-.1 -.3 1 -.8 1.9 .6-1.1 1zM75.8 495.5l-.1 -.3 1 -.8 1.9 .6-1.1 1-1.7 -.5M55.4 484.9l-.1 -.2 1 -.8 1.8 .5-1 1-1.7 -.5M61.3 486.7l-.1 -.2 1 -.8 1.8 .5-1.1 1-1.6 -.5M67.2 488.6l-.1 -.3 1 -.8 1.8 .5-1 1zM73.2 490.4l-.2 -.3 1 -.8 1.9 .6-1 .9-1.7 -.4M79.2 492.2l-.1 -.2 1 -.9 1.9 .6-1.1 1zM58.9 481.9l-.1 -.3 1 -.8 1.8 .6-1 .9zM64.7 483.6l-.1 -.2 1 -.8 1.8 .5-1 1zM70.6 485.4l-.1 -.3 1 -.7 1.8 .5-1 .9zM76.5 487.2l-.1 -.3 1 -.8 1.9 .6-1.1 1zM82.5 489l-.1 -.2 1 -.8 1.9 .5-1 1zM62.3 478.8l-.1 -.2 1 -.8 1.8 .6-1 .9zM68.1 480.6l-.1 -.3 1 -.8 1.8 .6-1 .9-1.7 -.4M74 482.3l-.2 -.2 1 -.8 1.8 .5-1 1-1.6 -.5M79.9 484.1l-.2 -.3 1 -.7 1.8 .5-.9 .9zM85.8 485.9l-.1 -.3 .9 -.8 1.9 .6-1 .9-1.7 -.4"/>
<path fill="none" stroke="#d3436e" stroke-width=".5" d="M48.5 491.5l-.6 -.4 1.2 -1 2.1 .6-1.2 1.1-1.5 -.3M53.9 493.1l0 -.3 1.1 -.9 2.1 .7-1.2 1.1-2 -.6M59.9 495l0 -.3 1.1 -.9 2.1 .7-1.2 1.1zM66 496.9l-.1 -.3 1.2 -.9 2.1 .7-1.2 1.1zM72.1 498.9l-.1 -.4 1.2 -.9 2.1 .7-1.2 1.1zM51.6 488.1l0 -.3 1.1 -.9 2.1 .6-1.2 1.1zM57.5 489.9l0 -.3 1.1 -.9 2.1 .7-1.2 1zM63.5 491.8l-.1 -.4 1.1 -.8 2.1 .6-1.1 1.1zM69.5 493.6l-.1 -.3 1.1 -.9 2.2 .7-1.2 1.1-2 -.6M75.6 495.5l-.1 -.3 1.1 -.9 2.2 .7-1.2 1.1-2 -.6M55.2 484.9l0 -.3 1.1 -.8 2 .6-1.2 1.1zM61.1 486.7l-.1 -.3 1.1 -.8 2.1 .6-1.2 1.1zM67 488.6l-.1 -.3 1.1 -.9 2.1 .6-1.2 1.1zM73 490.4l-.1 -.3 1.1 -.9 2.1 .7-1.2 1-1.9 -.5M79 492.3l-.1 -.4 1.1 -.8 2.1 .6-1.1 1.1zM58.7 481.9l0 -.3 1 -.9 2.1 .6-1.2 1.1zM64.5 483.7l0 -.4 1 -.8 2.1 .6-1.2 1zM70.4 485.4l-.1 -.3 1.1 -.8 2.1 .6-1.2 1zM76.4 487.2l-.1 -.3 1 -.8 2.1 .6-1.1 1-1.9 -.5M82.4 489.1l-.1 -.4 1 -.8 2.1 .6-1.1 1.1zM62.2 478.9l-.1 -.3 1.1 -.9 2 .7-1.2 .9zM67.9 480.6l0 -.3 1 -.8 2.1 .6-1.2 1zM73.8 482.4l-.1 -.4 1 -.8 2.1 .6-1.1 1-1.9 -.4M79.7 484.1l-.1 -.3 1 -.8 2.1 .6-1.1 1zM85.7 485.9l-.1 -.3 1 -.9 2.1 .7-1.1 1-1.9 -.5"/>
<path fill="none" stroke="#f8765c" stroke-width=".5" d="M47.9 491.4l-.2 -.4 1.4 -1.1 2.3 .8-1.4 1.2zM53.8 493.2l-.2 -.3 1.4 -1.1 2.4 .7-1.4 1.3-2.2 -.6M59.8 495.1l-.2 -.3 1.3 -1.1 2.5 .7-1.4 1.3zM65.9 497l-.2 -.3 1.3 -1.1 2.4 .7-1.3 1.3zM72 499l-.2 -.4 1.3 -1.1 2.5 .8-1.4 1.3zM51.5 488.2l-.2 -.4 1.4 -1 2.3 .7-1.4 1.2zM57.4 490l-.2 -.4 1.3 -1 2.4 .7-1.3 1.3zM63.4 491.9l-.2 -.4 1.3 -1.1 2.4 .8-1.4 1.2zM69.4 493.7l-.2 -.3 1.3 -1.1 2.4 .8-1.3 1.2zM75.5 495.6l-.2 -.3 1.2 -1.1 2.5 .8-1.3 1.2-2.2 -.6M55.1 485l-.2 -.3 1.3 -1 2.3 .7-1.3 1.2zM60.9 486.8l-.2 -.3 1.3 -1.1 2.4 .8-1.3 1.2-2.2 -.6M66.9 488.7l-.2 -.4 1.2 -1 2.4 .7-1.3 1.2zM72.8 490.5l-.2 -.4 1.3 -1 2.4 .7-1.3 1.3zM78.9 492.4l-.2 -.4 1.2 -1.1 2.5 .8-1.3 1.2zM58.6 482l-.2 -.4 1.3 -1 2.3 .7-1.3 1.2zM64.4 483.7l-.2 -.3 1.3 -1 2.3 .7-1.3 1.2zM70.3 485.5l-.2 -.3 1.2 -1.1 2.4 .8-1.3 1.2zM76.3 487.3l-.3 -.3 1.3 -1.1 2.4 .8-1.3 1.2-2.1 -.6M82.3 489.2l-.3 -.4 1.3 -1.1 2.4 .8-1.3 1.2zM62.1 479l-.3 -.4 1.3 -1 2.3 .7-1.3 1.2zM67.8 480.7l-.2 -.4 1.3 -1 2.3 .8-1.3 1.1zM73.7 482.4l-.3 -.3 1.3 -1 2.3 .7-1.2 1.2zM79.6 484.2l-.3 -.3 1.3 -1.1 2.4 .8-1.3 1.1-2.1 -.5M85.6 486l-.3 -.3 1.2 -1.1 2.4 .8-1.2 1.1z"/>
<path fill="none" stroke="#febb81" stroke-width=".5" d="M47.3 491.5l-.3 -.2 .1 -.3 1.8 -1.4 2.4 .6 .8 .4-1.9 1.7zM53.2 493.4l-.3 -.3 .1 -.2 1.8 -1.5 2.5 .6 .7 .5-1.9 1.7zM59.2 495.3l-.3 -.3 .1 -.3 1.8 -1.4 2.4 .6 .8 .5-1.2 1.2-.6 .5zM65.3 497.2l-.4 -.3 .1 -.2 1.8 -1.5 2.5 .6 .8 .5-1.2 1.3-.7 .4zM71.4 499.1l-.3 -.2 0 -.3 1.8 -1.5 2.6 .6 .7 .5-1.1 1.3-.7 .4zM50.9 488.3l-.3 -.2 .1 -.3 1.8 -1.4 2.4 .6 .8 .4-1.9 1.7-2.9 -.8M56.8 490.1l-.3 -.2 .1 -.3 1.8 -1.4 2.4 .6 .8 .5-1.9 1.6zM62.7 492l-.2 -.2 0 -.3 1.8 -1.4 2.5 .6 .7 .4-1.8 1.7zM68.7 493.9l-.2 -.3 .1 -.2 1.7 -1.5 2.5 .7 .8 .4-1.9 1.7zM74.8 495.8l-.3 -.3 .1 -.2 1.7 -1.5 2.6 .6 .8 .5-1.2 1.2-.6 .5zM54.5 485.2l-.3 -.2 .1 -.3 1.7 -1.4 2.4 .6 .8 .4-1.8 1.6zM60.3 487l-.3 -.3 .1 -.2 1.8 -1.4 2.4 .6 .8 .4-1.9 1.6-2.9 -.7M66.2 488.8l-.2 -.2 0 -.3 1.8 -1.4 2.4 .6 .8 .4-1.8 1.7zM72.2 490.6l-.3 -.2 .1 -.3 1.7 -1.4 2.5 .6 .8 .5-1.8 1.6-3 -.8M78.2 492.5l-.2 -.2 0 -.3 1.7 -1.4 2.6 .6 .7 .4-1.1 1.3-.6 .4-3.1 -.8M58 482.1l-.3 -.2 .1 -.3 1.7 -1.3 2.4 .6 .8 .4-1.9 1.5zM63.8 483.9l-.3 -.3 .1 -.2 1.7 -1.4 2.4 .6 .8 .4-1.8 1.6zM69.7 485.6l-.3 -.2 .1 -.2 1.7 -1.4 2.4 .6 .8 .4-1.8 1.6zM75.6 487.4l-.3 -.2 .1 -.2 1.7 -1.4 2.5 .6 .7 .4-1.7 1.6zM81.6 489.3l-.3 -.2 .1 -.3 1.7 -1.4 2.5 .6 .7 .4-1.7 1.7zM61.4 479.1l-.3 -.2 .1 -.3 1.7 -1.3 2.4 .6 .7 .3-1.7 1.6zM67.2 480.8l-.3 -.2 .1 -.3 1.7 -1.3 2.4 .6 .7 .4-1.7 1.5zM73 482.6l-.2 -.3 0 -.2 1.7 -1.3 2.4 .5 .8 .4-1.8 1.6zM78.9 484.3l-.3 -.2 .1 -.2 1.7 -1.4 2.4 .6 .8 .4-1.7 1.6zM84.9 486.1l-.3 -.2 .1 -.3 1.6 -1.3 2.5 .6 .8 .4-1.7 1.6z"/>
<text x="68.4" y="416.6" font-size="8.45" text-anchor="middle">landscape of benchmark functions</text>
<text x="20.5" y="444.7" font-size="7.4" text-anchor="middle">F19(x1,x2)</text>
<path fill="#e7ba9c" d="M58.6 429.6l-30.6 22.7 18.9 5.3 .3 3.3 .1 .4 .3 .6 1 24.4 .2 3.7 .2 .7 .1 .3 .6 .1 .1 -.1 .1 -.2 .1 -1.4 .1 -3.9 .3 -.4 .2 -1 .1 -25.4 .2 .1 .3 2.6 .1 .5 .2 .4 .6 17.7 .4 6.4 .2 1 .1 0 .5 .1 .1 0 .1 -.3 .1 -.8 .1 -4.4 .3 -.3 .1 -.2 .1 -1.9 .4 10.5 .2 1.7 .2 .8 .1 .2 .5 .1 .1 -.1 .2 -.4 .1 -1.9 0 -4 .3 0 .1 -.3 .2 -2.3 .4 .1 .1 -.5 .2 -1.8 0 -3.1 .3 -.3 .1 -.7 .1 -4.1 .4 11.1 .2 3.9 .3 .7 .1 -.1 .4 .2 .1 -.1 .2 -.4 .1 -1.2 .1 -7 .2 -.2 .3 0 .4 10.6 .2 2.6 .2 .8 .2 .2 .4 .1 .1 -.1 .2 -.4 .1 -1.9 .1 -4 .2 0 .1 -.3 .2 -2.4 .2 .1 .1 -.1 .1 -.7 .2 -2.3 .1 -5.4 .2 -.2 .4 .1 .3 10.3 .2 3 .1 .4 .2 .2 .1 -.1 .4 .1 .1 -.1 .2 -.6 .1 -1.6 .1 -6.5 .1 -.1 .4 .1 .2 -.1 .2 9.6 .2 3.7 .1 .7 .1 .2 .3 .2 .4 0 .1 0 .1 -.5 .1 -1.2 .2 -4.6 .2 -.1 .1 -.3 .2 -2.4 .1 -.1 .1 -.2 .1 -.8 .3 -7.7 .5 .1 .2 -.8 .2 10.2 .1 2.7 .1 1.4 .2 .4 .2 .2 .1 -.1 .3 .1 .1 -.1 .2 -.6 .1 -1.6 .2 -6.7 .4 .1 .1 -.2 .1 1.1 .1 .1 .1 0 .2 8.7 .1 3.7 .2 .6 .1 .3 .3 .2 .4 0 .1 -.3 .1 -.9 .3 -5.2 .1 0 .1 -.2 .2 -1 .3 -3.9 .2 -6.5 .3 0 .1 -.1 .1 -.7 .1 1.7 .1 .2 .2 -.1 .1 8.5 .2 3.6 .1 .8 .4 .3 .1 0 .3 0 .2 -.4 .2 -2.7 .2 -5.9 .2 0 .1 -.3 .2 -1.9 .5 -14.1 .2 -.2 .1 7.7 .1 1.3 .1 0 .2 -.1 0 7.1 .2 4.4 .1 1 .1 .2 .2 .1 .1 .2 .1 -.1 .3 0 .1 -.1 .2 -1.4 .4 -7.3 .1 -.1 .2 -.6 .1 -2.2 .6 -13.1 .1 -.2 .1 8 .1 .9 .1 0 .2 -.1 0 6.9 .2 4.3 .1 1 .4 .5 .1 -.1 .3 0 .1 -.1 .2 -1.4 .3 -5.1 .4 -10.4 .1 -.5 .2 -1.3 .4 -6.5 .2 9 0 .6 .2 0 .2 .5 .1 9.8 .1 1.4 .3 .6 .2 -.1 .3 0 .1 -.1 .2 -1.4 .3 -5 .6 -13.6 .2 -.3 .1 -.5 .3 -3.9 18.8 -16.8z"/>
<path fill="#fcfcc0" d="M58.6 429.6l-30.6 22.7 52.2 14.8 27.9 -24.9zM69.4 456.5l-.3 .1-.3 .4-1 -.1-.9 -.2-1.9 -.5-1.1 -.5 .7 0 1.2 -1 1.2 -1.7 4.3 1.2-.8 1.3zM71.4 453.9l-3 -.8-.7 -.4 .6 0 1.2 -1 1.2 -1.7 4.3 1.2-.9 1.3-1.6 1.4zM69.9 449.2l-1.1 .1-.6 -.1-.2 -.2-.3 .1-.6 -.2-.2 -.2-.3 .1-.5 -.2-1.1 -.6 .8 -.3 1.2 -1 .5 -.6 1 .9 .2 -.8 .3 -.5 .7 .1-.2 -.3-.3 .1-.5 -.5 .3 0 .5 -.4 1.1 -.8 .4 -.7 1.1 .7 2.2 .6 .9 -.1-.2 .5 .7 -.1-1.2 1-.6 0-.4 .4-1.3 .3-.4 -.1-.3 -.3-.3 .1-.4 .5-.2 .9 .5 0 .5 -.2-.2 .4 .7 -.1-1.2 1-.6 0zM70 442.7l-2.4 1.9-1.3 0-.3 .2-.1 0-.1 0-.1 -.1-.1 0-.1 0-.2 -.3-.3 .1-.4 .5-.3 .9 .6 0 .9 -.3 .6 0-2.4 1.9-2 0-.3 -.2-.3 .1-.5 -.2-.2 -.2-.3 .1-.6 -.2-1 -.6 .7 -.4 1.7 -1.5 1.1 .9 .2 -.7 .3 -.6 .7 .1-.2 -.2-.3 0-.5 -.5 .8 -.4 1.6 -1.5 1 .8 2.1 .5zM71.2 441.8l-1.9 .1-.1 0-.1 -.1-.1 0-.2 -.2-.3 .1-2 -.6-.4 -.5 1.6 -1.1 .7 -.8 1 .6 2.2 .6 1.9 0zM53.2 452.8l-2 -.6 .6 -.2 1.4 -1.1 1.2 -1.3 4.2 1.1-.6 1.1 .4 -.3 .6 0-1.9 1.5-.5 0-.4 .4-1.3 0-.7 -.3-.1 0-.8 -.2zM52.7 449.8l-2.5 1.9-1.9 -.2-2.5 -.7-.8 -.4 .6 -.3 1.5 -1.1 1.1 -1.2 4.1 1.2-.6 1.2 .5 -.4zM52.7 448.8l-2.8 -.8-1.1 -.6 .7 -.3 1.9 -1.5 1 1.1 .2 -.9 .4 -.6 3.1 .8-.6 1.1 .5 -.3 .5 0-2.2 1.7-.3 .3-.4 -.1-.8 0zM53.2 445l-.6 -.4 .7 -.4 1.8 -1.5 1 .9 .3 -.8 .3 -.4 .7 .1-.2 -.3-.3 0-.6 -.5 .9 -.5 1.6 -1.3 1 .7 2.1 .6 .6 .1 1.3 -.2-2.4 1.9-1 .1-.3 -.1-.3 .1-.6 1 .5 -.2 .5 0-2.4 1.9-1.3 0-.2 .1-.2 0-.6 -.3-.3 .1-.5 -.2-.2 -.2-.3 .1zM62.5 455.2l-1.6 -.2-.3 -.1-.2 0-.7 -.2-.2 -.1-.9 -.2-1.1 -.5 .7 -.1 1.3 -1 1.2 -1.5 4.2 1.2-.6 1 .5 -.3 .6 .1-1.9 1.5-.6 0-.2 .1-.2 .2zM61.4 451l.5 -.2 1.4 -1.1 1.1 -1.4 4.2 1.1-.8 1.3 .6 0-1.2 1-.6 .1-.4 .4-1.6 -.1-.3 -.2-.2 .1-.8 -.4-.2 .1-1 -.3zM60.8 450l-.5 .1-.3 .3-1.1 .1-.1 0-.8 -.3-.2 0-.7 -.2-.1 -.1-.9 -.2-1.1 -.5 .8 -.3 1.7 -1.6 1.1 1.2 .2 -1 .4 -.6 3.1 .8-.6 1.1 .5 -.3 .5 0zM63.4 440.3l-3 -.8 .1 -.1-.5 -.5 1.7 -1.2 .7 -.6 1 .6 2.1 .6 1.9 0-2.4 1.8-.4 0-.6 .3-.2 -.2zM70 456.5l1.8 -1.5 .6 .3 .5 .5 .6 -1 4.3 1.2-.9 1.3-1.5 1.3-.4 .1-1.2 -.1-3 -.8-.4 -.2 .6 .1-.3 -.6zM82.3 452.6l-1.3 .1-.3 -.3-.2 .1-.6 -.1-.2 -.3-.3 .1-.6 -.1-.2 -.2-.3 0-.6 -.4 .6 .1-.3 -.6-.8 -.5 1.2 -1 .7 .4 .4 .7 .6 -1 1 .8 .6 -1.3 .6 .1-.2 -.3-.3 .1-.5 -.4 .3 .1 .2 0-.3 -.8-.7 -.4 1.2 -1 .6 .4 .4 .8 .6 -1.1 .8 .6 2.1 .6 .7 0 .6 -.1-.3 .5-1.6 1.3-1.1 .3-.4 0-.2 -.3-.3 .1-.4 .5-.2 .9 1.1 -.3-.6 .7zM87.4 446.7l-2.3 -.7-.4 -.3 .3 .1 .3 -.1-.2 -.4-.3 -.5-.5 -.2 1.1 -1 .7 .4 .3 .8 .6 -1.1 .8 .4 2.1 .6 1.3 0-.5 .8-1.3 1.1-1 .3-.6 -.1-.2 -.3zM78.3 455.6l-1 0-2.8 -.8-.4 -.3 .6 .2-.3 -.6-.8 -.6 1.2 -1 .7 .4 .4 .8 1.2 -1.9 4.3 1.1-1.2 1.6-1.3 1zM78 449l-.6 .9-1.2 .9-1 .2-.7 -.1-.2 -.2-.3 .1-.6 -.2-.1 -.2-.3 .1-.6 -.2-.2 -.2-.2 .1-.7 -.4 .4 0 .4 -.2 1.2 -1 .4 -.7 1.1 .8 .2 -.8 .3 -.5 .7 .1-.2 -.3-.3 .1-.6 -.4 .4 0 .5 -.3 1 -.9 .5 -.8 .8 .6 1.8 .5 .9 .2 .7 -.2-.6 .9-1.2 1-1.2 .2-.4 0-.3 -.3-.3 .1-.4 .5-.2 .9 .5 0zM78.8 444.4l-.4 -.4 .5 0 1.1 -1 .8 -1 .8 .5 1.8 .5 .9 .2 .6 -.1-.5 .9-1.2 1-1.1 .3-.6 -.2-.2 -.2-.3 .1zM77.9 442.9l-.5 .1-.4 .3-1.2 .3-.6 -.1-.2 -.3-.3 .1-2 -.5-.5 -.5 .5 -.1 1.1 -1 .8 -.9 1.2 .7 2.1 .5 .8 0-.3 .6 .7 -.1zM58.3 442.7l-.2 -.2-.3 .1 .2 .1zM59.3 443l-.2 -.3-.3 .2 .2 0zM64.4 444.4l-.1 -.3-.4 .2 .3 0zM70.7 446.1l-.2 -.3-.4 .1 .3 .1zM77 447.8l-.2 -.3-.4 .1 .3 .1zM83.4 449.5l-.2 -.3-.4 .1 .2 .1z"/>
<path fill="#f06060" d="M60 448.9l-.4 -.1-.1 1.6 .5 0 .2 -.2zM49.6 450.4l-1 -.4-.1 1.6 1.1 .1zM55.9 452.2l-1.1 -.4-.1 1.5 1.1 .1zM52.8 461.8l.6 18 .2 2.3 .1 -.1 .1 -15.2 0 -.3-.2 .1-.1 -.1-.1 -.8-.4 -6.3zM49.6 481.4l.4 4.1 .1 -26.9-.8 -.3-.3 3.6-.3 .4-.4 -.1 .8 18.9 .2 2.8 .2 .5 .2 .2zM63.3 477.2l.4 -.9 .1 -3.6-.1 -3.6-.2 .1-.1 -.3zM54.4 465.1l.8 19.8 .2 1.3 .3 .2 0 -5-.5 -18.1-.3 .7-.4 0zM59.7 480.6l.4 -.6 .1 -1.5-.2 -6.2-.1 .1-.1 -.2zM59.4 479.8l0 -1-.1 -1.2 0 2.1zM66.2 450.6l-.3 -.1-.1 1.7 .4 0 .1 -.2zM72.4 452.3l-1.2 -.3-.2 1.8 1.5 .1zM73.2 452.5l-.5 -.1 0 1.2 .5 -.3zM78.5 455.6l.2 -1.6-1.1 -.3-.2 1.9zM70.7 478.5l.3 4.3 .2 .4 .7 .2 .2 -.4 .2 -1.4-.1 -5.9-.4 .2-.1 -.9-.3 -10.2-.3 2.7-.2 .3-.3 0-.1 3.6zM76.9 482.1l.2 2.5 .2 .4 .5 .1 .2 -12.5-.2 -6.2-.4 2.7-.2 .5-.2 0-.2 6.8zM65.4 481.5l.5 .1 .1 -.4 .2 -2.6-.1 -.4-.4 .3-.1 -.1-.2 -2.1z"/>
<path fill="#fc7860" d="M64.2 447l.1 -1.1-.6 -.2 .1 1.6zM63.7 445.7l-.4 -.1-.2 1.9 .6 0 .1 -.2zM53.3 448.7l.1 -1.6-1 -.4-.2 2zM69.8 447.4l-1.3 -.4-.2 2.2 1.6 0zM70.6 447.6l-.7 -.2 .1 1.6 .5 -.3zM75.9 449l-1.1 -.3-.2 2.2 1.5 0zM75.5 455.1l.7 .1-.3 -1.5-.6 .5zM69.2 475.2l.4 -.4-.3 -10.8-.2 10.8zM52.2 462.5l.7 14.2 .1 .9 .3 .3-.5 -16.1-.2 .7zM55.2 463.3l.5 18.2 .3 2.5 .2 -23.7-.8 -.2zM75.6 476l.2 -.9-.1 -2.7-.2 .2-.2 3.5zM65.8 478.4l.3 -.2-.2 -4.3zM85.4 446l.7 .3-.2 -1-.6 .4zM82.8 449.3l.3 -.1 .2 .1-.3 -1.6-1.2 1 .1 .2 .2 0 .2 .3zM76.9 449.3l-.7 -.2 .1 1.6 .5 -.3zM78.8 452.1l1 .1-.3 -1.6-1.2 1 .1 .3 .2 0zM82 452.6l.2 -1.9-1.1 -.3-.2 2.2zM87 461l-1 .9 0 4.8 .1 4.7 .3 .6 .5 .2zM82.7 472.4l.2 2.5 .4 -.4 .1 -.3 .2 -2.9-.5 -.2-.2 -.6-.2 -4.3zM80.5 476l.2 1.5 .6 .3 .2 -8.7-.1 -3-.2 .1-.3 3.7-.2 .4-.4 0zM79.2 466.9l.1 10.3 .2 .9 .4 -.3 .1 -.7 .3 -6.8-.6 -.2-.2 -.3zM76.2 481.4l.3 -.3 .1 -.5 .2 -4.2-.1 -6.9-.7 -.3z"/>
<path fill="#541878" d="M47.9 462.1l1 27.8 .1 1 .7 .2 .2 -.3 .1 -.9 .1 -4.4-.2 -.1-.1 -.7-.3 -.3-.2 -1.2-1 -21zM81.6 482l.3 -2 .3 -8-.3 4.4-.3 1.4-.1 4.3zM64.6 490.7l.6 .3 .2 -.1 .1 -1 .3 -8.3-.7 -.3-.3 -1.1-.5 -13.9-.1 2.1 .3 19.5zM83.6 471.3l0 14.6 .2 1.5 .5 -.2 .2 -1.4 .7 -15.5-.9 -.2-.2 1.1zM55.1 492.7l.6 .2 .2 -.8 .1 -5.6-.4 -.1-.2 -.2-.2 -1.8-.8 -19.3-.1 5.3 .5 18.2 .2 3.8zM62.6 485.2l.2 -4.3 0 -7.4zM74.9 488.7l.3 -4.9 .3 -7.7-.2 0zM71.8 483.8l.2 -.4 .1 -.3-.3 .3zM76.9 494.5l-.1 -6.7-.1 -10.1-.1 3.1-.4 .6 .2 11.2 .2 1.6z"/>
<path fill="#fc8460" d="M57 445.9l.2 -1.9-1.1 -.4-.2 2.3zM63.1 447.5l.2 -1.9-1 -.3-.2 2.2zM65.2 455.3l.2 1 .8 .2-.4 -1.7zM71 457.7l.8 .4-.2 -.8zM65.2 462.9l.2 13.7 .3 1.9 .1 -.1 .1 -4.5-.2 -8.8-.2 -2.2zM68.4 479.2l.5 -.6 .1 -1.5 .3 -13.1-.6 -.1zM61.4 464.6l.4 15.3 .3 1.9 .4 -19.7-.8 -.2zM66.3 478.6l.5 -.6 .1 -2-.2 -8.5-.6 -.3zM85.9 445.3l.2 1 .5 0 .1 .1-.3 -1.6zM83.3 451l-.8 -.2 .1 1.6 .6 -.5zM82.2 450.9l-.2 1.7 .3 0zM74.8 454.9l.7 .2-.2 -.9-.6 .5zM88.2 460l-1.2 1-.1 11.2 .3 .1 .1 -.1 .2 -.4 .2 -2 .5 -8.9zM81.3 477.8l.4 0 .1 -.3 .2 -1.6 .2 -3.3 .3 -6.5-.3 3.3-.1 .4-.4 .4-.2 -1.1zM75.7 467l.1 13.1 .2 1.4 .2 -.1-.2 -12.2zM72.1 467.6l.2 15.4 .2 1.9-.1 -15.9z"/>
<path fill="#fcfcb4" d="M60.4 439.5l.5 .2-.2 -.3zM61.4 439.8l.5 .1-.2 -.2zM62.4 440.1l.5 .1-.2 -.2zM62.7 441.7l.5 -.2 .6 -.4-1 .1zM61.2 442.9l.5 -.2 .3 -.2-.5 .1zM56.1 443.6l2.7 .7 .4 -.2 .6 -.9-3.1 -.9-.5 1zM59.1 444.5l.5 -.1 .6 -.5-.9 .2zM62.3 445.3l2 .6 .3 -.8 .3 -.6-2 -.5-.4 .4-.2 .7zM57.6 445.8l.5 -.2 .3 -.2-.5 0zM52.4 446.7l1 .4 .3 -1 .3 -.6-1.1 -.2-.5 1.2zM54.8 447.4l.7 -.3 .6 -1.1-1.1 -.2-.3 .6-.2 .8 0 .2zM64 447.5l.3 -.2 .3 -.3-.5 .1-.4 .4zM60.9 449.1l.8 -.3 .6 -1.1-1 -.2-.4 .4-.2 .8 0 .4zM53.8 448.7l.5 -.2 .3 -.2-.5 .1zM61.6 449l.5 0 .6 -.5-.7 .1zM47.6 448.5l1 1.5 .2 -1.2 .4 -.7-1 -.3zM53.8 450.3l1 1.5 .3 -1.2 .3 -.7-1 -.3zM50 451.7l.5 -.2 .3 -.2-.5 0zM57.9 452l.5 0 .6 -.5-.7 .1zM60.1 452.1l1 1.4 .3 -1.2 .3 -.7-1 -.3zM56.8 453l.5 -.2 .4 -.3-.5 .1zM63.5 454.2l.8 -.7 .6 -1-1.1 -.3-.5 1.4-.1 .6zM63.5 454.8l1.1 -1 .8 -.5-.5 -.1-.4 .2-1.4 1.3zM66.2 439l.6 -.3 .6 -.4-1 0zM64.9 440.1l.4 -.2 .3 -.2-.4 0zM72.3 440.5l.7 -.2 .5 -.4-1 0zM66.5 441.1l.5 .2-.2 -.3zM67.5 441.4l.5 .1-.2 -.2zM70.9 441.7l.5 -.1 .4 -.3-.6 0zM72.7 442.8l.5 .1-.2 -.2zM68.8 443.3l.6 -.1 .6 -.5-1 .1zM67.6 444.6l.3 -.2 .3 -.3-.6 .2-.3 .3zM65.2 446.1l.6 0 .6 -.5-.9 .1zM68.5 447l2.1 .6 .2 -.9 .4 -.5-2.1 -.6-.4 .5-.2 .8zM70.9 448.7l1.2 -1-.7 .1-.9 .9zM63.8 449.1l1 1.1 .3 -1 .4 -.6-1.1 -.3zM67.2 450.8l.8 -.4 .6 -1-1.1 -.2-.5 1.2 0 .4zM67.2 451.7l1.2 -1-.6 .1-1 .9zM70.1 450.9l1.1 1.1 .2 -1.1 .4 -.6-1.1 -.3zM66.4 454l1.1 1.3 .2 -1.2 .4 -.8-1.1 -.3zM69.9 455.9l.8 -.7 .6 -1-1.1 -.2-.4 .7-.2 1.2zM72.4 456.6l.5 -.8-.5 -.5-.6 -.3-1.9 1.6 .7 .4 .4 .7zM78 442.9l1.1 -.9-.6 0-.9 .9zM73.7 443l.5 .2-.2 -.3zM78.9 444.4l.5 .2-.2 -.3zM85.3 445.7l1.1 -.9-.3 -.8-.6 -.4-1.2 1 .6 .4zM80 444.7l.5 .1-.2 -.2zM74.5 445.8l1.2 -1-.7 .1-.9 .9zM85.2 446.1l.5 .1-.2 -.2zM86.7 446.5l-.1 -.2-.3 .1 .2 0zM81.8 448.7l1.2 -1-.4 -.8-.6 -.4-1.2 1 .7 .4zM74.8 448.7l2.1 .6 .2 -.9 .4 -.5-2.1 -.6-.4 .5-.2 .8zM81.1 450.4l2.2 .6 .2 -.9 .4 -.5-2.2 -.6-.3 .5-.2 .7zM78.3 451.6l1.2 -1 0 -.1-.4 -.7-.6 -.3-1.3 1 .7 .4zM73.6 452.5l.8 -.4 .6 -.9-1.1 -.3-.4 .6-.2 1zM76.5 452.7l1.1 1 .2 -1 .4 -.7-1.1 -.2zM74.7 454.7l1.2 -1 0 -.2-.4 -.7-.6 -.3-1.3 1 .7 .4zM79.7 454.3l1.1 -.6 .6 -.8-1.1 -.3-.3 .6zM72.9 455.8l1 1.3 .3 -1.3 .4 -.7-1.1 -.3zM76.1 457.7l1.1 -.8 .6 -.9-1.1 -.3-.4 .7z"/>
<path fill="#601884" d="M75.4 480.1l.1 -1.7 .1 -2.5-.1 .2zM65.7 482.2l.4 -.7 .1 -2.9-.1 2.3-.1 .6-.2 .1zM80.3 470.9l-.1 18.6 .2 1.5 .5 -.1 .2 -1 .5 -12.1-.8 -.1-.2 -.5zM70.8 492.8l.5 0 .2 -.7 .3 -8.7-.7 -.3-.2 -1.1-.4 -10.6-.1 3.2-.2 .3-.3 .3 .4 14.9 .1 2.1zM61.1 494.6l.6 0 .2 -.7 .2 -5.6-.6 -.3-.3 -1.3-.6 -16.3-.1 1.3 .4 19.8 .2 2.9zM73.5 498.3l-.2 -7-.1 -9.8-.2 2.7-.1 .3-.3 .4 .1 4 .2 7.9 .2 1.2z"/>
<path fill="#f05460" d="M54 447.3l-.6 -.2-.1 1.6 .5 0 .3 -.3zM62.1 455.2l.1 -1.3-1.1 -.4-.1 1.6zM75 457.5l-.1 .8 0 .4 .3 0-.1 -1.2zM56.7 469.8l.3 8.1 .2 .8 .1 -.1 .2 -14.8-.3 -.6-.4 -2.7zM56.1 483.9l.4 -.3 .1 -.8 .1 -6.5 0 -15.9-.5 -.1zM60.6 470.4l.6 16.3 .2 1.3 .4 .3 0 -8.3-.4 -15.4-.2 1.1-.4 .1zM74.2 492l.4 0 .1 -.3 .2 -2.1 .5 -14.9-.2 1.5-.5 .5-.2 -.7z"/>
<path fill="#f06c60" d="M59.5 450.4l.1 -1.6-1 -.3-.2 1.9zM65.8 452.2l.1 -1.7-1.1 -.3-.1 1.9zM79.7 454.3l-.7 -.2 .1 1.3 .5 -.5zM78.7 454l-.2 1.6 .3 0zM62.9 476l.2 1.3 .2 -.1 .1 -8.3-.4 -6.6-.2 11.2zM59.3 477.6l.3 3 .1 0 .1 -8.4-.5 -9.7-.1 -1.3-.1 -.1-.3 2.8-.2 .4-.4 0 .5 13.2 .2 1.8 .2 .3 .2 .1zM64.3 466l.6 14.6 .2 .7 .3 .2 0 -5.2-.3 -12.3-.2 1.8-.2 .3zM78 485.2l.2 -.3 .2 -1.6 .6 -12.8-.3 2.3-.5 .6-.2 -.8-.2 12.5z"/>
<path fill="#fcf0b4" d="M53.4 447.1l1.1 .3 .2 -1 .4 -.6-1.1 -.3-.5 1.1zM54.6 448.3l1.9 -1.5-.9 .2-.5 .8-.4 .1-.2 .4zM48.6 450l2 .7 .5 0 .6 -.5 .6 -1.2-3.1 -.9-.5 1.2zM50.8 451.3l1.9 -1.5-.7 .1-1.4 1.4zM54.8 451.8l2 .6 .5 0 .7 -.6 .6 -1.1-3.2 -.8-.3 .5-.2 .7zM57.8 452.5l.3 -.3 .3 -.2-.6 0-.3 .5zM65.4 439.7l.7 -.4 .7 -.6-.5 .1zM62 442.5l1.2 -1-.4 .1-.9 .9zM58.4 445.4l1.2 -1-.5 .1-.9 .9zM64.6 447l1.2 -.9-.6 0-.9 .9zM58.6 448.5l2.1 .6 .2 -1 .4 -.7-2.1 -.5-.5 1.1zM60.9 450l1.2 -1-.5 .1-1 .9zM64.8 450.2l2.2 .6 .2 -1 .4 -.6-2.1 -.6-.4 .5-.2 .7zM61.1 453.5l2.1 .7 .3 -1.3 .4 -.7-2.2 -.6-.3 .5-.2 .8zM71.8 441.3l1.2 -1-.6 .1-.9 .9zM68.2 444.1l1.2 -.9-.6 0-.9 .9zM71.2 452l2.1 .5 .2 -1 .4 -.6-2.1 -.6-.4 .5-.2 .7zM77.6 453.7l2.1 .6 .3 -1.1 .3 -.6-2.1 -.6-.5 1.2zM67.5 455.3l2.1 .6 .3 -1.3 .4 -.7-2.2 -.6-.3 .6-.2 .8zM73.9 457.1l2.2 .6 .2 -1.3 .4 -.7-2.1 -.6-.4 .6-.2 .9z"/>
<path fill="#fca878" d="M64.1 440.3l.3 -2.3-1 -.3-.3 2.5zM70.2 441.9l.3 -2.3-1.1 -.3-.3 2.5zM73.4 441.6l.3 1.4 .3 -.1 .4 .3-.4 -2.1zM54.1 448.4l.3 -.1 .1 -.9-.5 -.1zM65.8 448.4l.8 .4-.4 -1.4-.6 .4zM60.2 450.1l.4 -.1 .1 -.9-.5 -.1zM51.7 450.2l-.5 .5-.5 0-.1 .6 .3 -.4 .4 -.1zM62.1 451.3l.8 .3-.3 -1.3-.7 .5zM66.4 451.9l.5 -.3 .1 -.8-.6 -.1zM58.4 454.3l.8 .3-.4 -1.3-.6 .5zM63.1 462.3l.3 6.3 .2 .6 .1 -.1-.1 -3.4-.2 -.8zM59.3 462.5l.4 9.1 .2 .8 .1 -.1-.2 -6.9-.2 -.8zM50.6 480.6l.1 -21.9-.2 0zM76.3 443.5l.3 -2.3-1 -.3-.3 2.6 .5 .1zM83.9 443.1l-2.1 -.6-.3 2.6 .6 .2 1.1 -.3 .5 -.5zM90 446.1l.2 -1.4-1.1 -.2-.3 2.2 .6 -.1zM88.7 463.7l.3 -1 .3 -3.7-.4 .4zM85.4 466.8l.3 -1 .2 -3.8-1.1 1 .2 4zM81.5 469.1l.2 1.1 .2 -.1 .1 -4.6-.6 .6zM80.2 470.3l.5 0 .2 -.6 .3 -3.5-1 .9zM77.9 466.5l.1 6.3 .2 .6 .1 -.1 .3 -6.6zM74.2 466.7l.2 8.8 .3 1.2 .1 -.1 .3 -10.9-.8 -.2z"/>
<path fill="#480c78" d="M86.7 483.3l.3 .6 .4 -.4 .2 -1.7 .6 -18.9-.1 0-.6 8.7-.2 .7-.8 -.2 .1 9.8zM57.9 464.2l.6 23.4 .1 1.4 .6 .3 .2 -.3 .2 -1.4 .1 -7-.2 0-.1 -.8-.4 -.3-.2 -1-.6 -14.2zM78.1 485.6l.3 -.7 .2 -2.3 .4 -13.2-.5 12.4-.2 2.7-.3 .7 0 .4zM75.3 480.4l.4 -.1 .1 -.7 0 -4.5-.4 5zM69.1 474.8l-.2 8.6-.2 4 .2 -.3 .1 -.8 .2 -4.3 .2 -6.9-.2 .1zM80.3 490.8l-.1 -6.5 0 -10.4-.2 3.4-.1 .5-.2 .2 .1 11 .2 1.5z"/>
<path fill="#fccc90" d="M61.2 438.1l.5 1.6 .2 .2 .5 .1-.2 -1.4-.4 -.9zM66 439.2l.4 -.9-1 -.1-.2 1.5zM58.2 442.5l.2 .3 .4 .1-.3 -1.5-.3 -.9-1.3 .9 .5 1.1 .4 .1zM68.5 443.6l.5 -.8-1.1 0-.1 1.3zM53.2 444.2l.4 1 .6 .2 .2 -.1-.5 -1.5zM49.5 447.1l.4 .9 .7 .2-.5 -1.5zM45.6 450.1l.4 .8 .8 .2-.5 -1.5zM69.5 451.7l.4 1.8 1.1 .3 .2 -1.8-1.1 -1.1zM59.4 452.8l.5 2 1.1 .3 .1 -1.6-1 -1.4zM46.9 457.6l.4 3.7 .3 .6 .3 .2-.1 -4.2zM54 459.7l-1 -.3 .5 3.8 .2 .5 .4 .2zM60.3 461.5l-1 -.3 .3 3.8 .3 .5 .5 .2zM60.6 470.4l.2 -4.6-.3 -.1zM78.4 444l.5 .4 .3 -.1-.2 -.4zM74.7 445.3l.5 -.9-1 .1-.2 1.3zM85.1 446l.3 0-.1 -.3-.3 .1-.3 -.1zM71.1 448.2l.5 -.8-.5 .2-.5 0-.1 1.1 .3 -.4zM83 447.7l.4 1.8 .5 .1 .3 -.1 .2 .1 .2 -2.3-1 -.7zM81.3 448.6l.5 .4 .1 -.1-.1 -.2-.2 0zM73.1 448.7l.4 1.9 .5 .2 .3 -.1 .3 .2 .2 -2.2-1.1 -.8zM76.8 450.4l1.2 -1.4-.6 .3-.5 0zM79.5 450.6l.4 1.8 .6 .1 .2 -.1 .2 .2 .2 -2.2-1 -.8zM82.4 452.6l.2 -.2-.1 -1.6-.3 -.1zM73.2 453.3l1.2 -1.2-.7 .4-.4 0zM76.1 458l1.1 -1.1-.7 .6-.4 .2zM86 461.9l0 .1 0 3.6zM74.2 465.4l-1.1 -.3 0 4.3 .4 .1 .3 -.2 .3 -1.1 .1 -1.5zM70.5 471.4l.1 -3.6-.1 0zM75.4 474.7l.2 -4.6 .1 -4.3z"/>
<path fill="#fc9c6c" d="M60.6 443l.2 -2.1-1 -.3-.3 2.5zM62.6 450.3l.3 1.3 .7 .2-.4 -2zM58.8 453.3l.4 1.3 .7 .2-.5 -2zM64.7 456.1l.7 .2-.2 -1-.6 .4zM63.8 469l.4 -.6 .1 -2.4-.7 -.3zM60.1 472.3l.4 -.4 .1 -1.1-.1 -5.1-.7 -.3zM65.7 465.1l.3 11.7 .2 1.8-.1 -11.4zM66.7 444.7l.2 -2.1-1 -.3-.3 2.4 .4 .1 .3 -.2zM68.4 453.1l.8 .3-.3 -1.2-.6 .5zM69.3 464.2l.3 10.2 .2 .9 .1 -.1-.1 -7.8-.3 -1zM71.5 464.6l.2 10 .2 1.3 .1 -.1 .1 -8.2-.3 -2.8zM74.8 476.6l.4 -.5 .2 -1 .3 -9.3-.6 -.1zM67.8 465.7l.3 11.7 .2 1.9 .4 -15.4-.7 -.2z"/>
<path fill="#fcc090" d="M60.6 438.6l.4 1.1 .4 .1 .3 -.1-.5 -1.6zM62.5 442l.3 -.8-1 0-.1 1.3zM53.9 443.8l.5 1.5 .7 .3-.3 -1.5-.3 -.8zM50.1 446.7l.5 1.5 .8 .2-.3 -1.4-.4 -.8zM46.3 449.6l.5 1.5 .7 .2-.2 -1.4-.4 -.8zM48.7 458.2l-.9 -.3 .1 4.2 .7 .2 .4 -.4zM55 460l-1 -.3 .1 4.2 .6 .2 .3 -.2 .2 -.6zM61.3 461.8l-1 -.3 .1 4.2 .5 .1 .3 -.3 .2 -.9zM65.8 454.8l.4 1.7 1.2 .3 .1 -1.5-1.1 -1.3zM70.1 455.9l.6 -.7-.7 .6-.4 .1 0 .4zM67.7 463.6l-2.1 -.6 .1 2.1 .2 1.7 .2 .5 .6 .2 .2 8.5 .2 -8.4 .3 -.1 .3 -.8zM69.2 466.6l.1 -2.6 0 1.5zM73.1 465.1l-1.1 -.3 .1 2.8 .3 1.4 .7 .4zM69 476.6l.1 -4.1 .1 -5.9z"/>
<path fill="#fcd89c" d="M66.1 440.6l.4 .5 .3 -.1 .2 .2-.3 -.9zM72.2 442.3l.5 .5 .3 -.1-.2 -.6zM70.4 444l.5 2.1 .3 .1 .3 -.1 .3 .3 .3 -2.5-1.1 -.7zM68.7 445.1l.5 .5 .3 -.1-.2 -.6zM60.6 445.1l.6 2.2 .5 0 .4 .2 .2 -2.2-1.1 -.9zM66.9 446.9l.4 2.1 .7 0 .3 .2 .2 -2.2-1 -.9zM69.9 449.2l0 -1.8-.1 0zM56.9 448l.6 2.1 .9 .3 .2 -1.9-1.1 -1.2zM71.3 449.8l.8 .3-.2 -.4zM47.2 449.6l.3 1.7 1 .3 .1 -1.6-1 -1.5-.7 .6zM53.1 451l.6 2 1 .3 .1 -1.5-1 -1.5zM72.5 453.9l.2 -.3 0 -1.2-.3 -.1zM74.1 454.5l.7 .4-.1 -.2zM49 461.9l.3 -3.6-.5 -.1zM52.8 461.8l.2 -2.4-.3 -.1zM59.1 461.2l-.2 -.1 0 1.9 .1 -.7zM65.1 462.8l0 1.2 .1 -1.1zM54.5 464l-.2 0 .1 1.1zM78.2 442.4l.5 -.9-1.1 0-.2 1.4zM80.2 442.9l.4 2 .4 .1 .3 -.1 .2 .2 .3 -2.6-1 -.5zM84.4 444l.5 -.9-1 0-.2 1.4zM86.4 444.8l.4 1.7 1 .1 .3 -2.4-1.1 -.5zM76.7 445.8l.4 2 .4 .1 .3 -.1 .3 .2 .2 -2.4-1 -.7zM80.2 447.4l1.3 -1.4-1.1 .1zM74.9 446.9l.6 .4 .1 -.1-.1 -.4zM86.6 449l1.2 -1.3-1 .1zM76.1 450.9l.2 -.2-.1 -1.6-.3 -.1zM83.2 451.9l1.2 -1.2-1.1 .3zM77.7 451.5l.7 .4-.1 -.3zM78.8 455.6l.3 -.2-.1 -1.3-.3 -.1zM75.3 458.6l.2 -.2 0 -.8-.4 -.1z"/>
<path fill="#e45460" d="M68.8 455.7l-1.3 -.4-.1 1.5 1.5 .1zM66.9 476l.5 13.3 .2 .7 .7 .2 .2 -.6 .2 -1.8 .3 -11.2-.2 2.1-.5 .6-.3 -2.4-.2 -11.2-.3 1.6-.1 .3-.3 0z"/>
<path fill="#fcb478" d="M63.1 443.2l.4 .9 .4 .2 .4 -.2 .2 .3 .3 .1-.2 -1.5-.3 -.8zM60 445.5l.5 1.5 .7 .3-.3 -1.4-.3 -.8zM55.4 447.2l-.4 .2-.5 0-.1 .9 .3 -.4 .4 -.1zM56.3 448.5l.4 1.4 .8 .2-.3 -1.3-.3 -.8zM52.5 451.5l.4 1.3 .8 .2-.6 -2zM57.9 451.9l-.5 .5-.5 0 0 .5 .2 -.3 .4 -.1zM52.7 459.3l-1 -.3 .1 3.4 .6 .2 .3 -.2 .1 -.6zM58.9 461.1l-1.1 -.3 .1 3.4 .6 .1 .3 -.2 .1 -1.1zM53.8 466.5l.4 -.4 0 8.6 .1 -10.7-.6 -.3zM56.6 479.8l.2 -19.3-.1 -.1zM66.7 440.3l.3 1 .7 0-.4 -1.4zM69.1 456.6l.5 -.3 0 -.4-.5 -.1zM75.5 458.4l.6 -.4 0 -.3-.6 -.1zM65.1 462.8l-1 -.3 0 3.4 .5 .2 .3 -.3 .2 -1zM71.4 464.6l-2.1 -.6 .3 2.9 .3 .7 1 .2 .2 -.1 .1 -.6zM76.7 466.1l-1 -.2 0 1.1 .3 2.1 .2 .3 .5 .2z"/>
<path fill="#fc9060" d="M61.7 442.5l.1 -1.3-.6 -.2 .2 1.8zM61.2 441l-.4 -.1-.2 2.1 .7 -.2zM67.8 444.1l.1 -1.3-1 -.2-.2 2.1 .6 -.1zM74 445.8l.2 -1.3-1.1 -.3-.2 2.1 .6 -.1zM72.5 449.2l.3 1.3 .5 -.1 .2 .2-.4 -1.9zM68.9 452.2l.3 1.2 .7 .1-.4 -1.8zM75.5 472.6l.2 -.2 0 -5.3zM70 475.2l.3 -.4 .1 -1.2 .1 -5.8-.7 -.4zM72 475.8l.2 -.1-.1 -4.6zM79 443.9l.4 .7 .5 .1-.3 -1.3zM76.4 447.6l.4 -.1 .3 .3-.4 -2-1.2 1 .1 .4 .4 .3zM80.4 446.1l-2.1 -.5-.2 2.5 .5 0 1.1 -.2 .5 -.5zM85.5 449.6l.2 -2-1.1 -.3-.2 2.5 .5 0zM84.3 470.1l.5 .2 0 -7.3zM83.7 464l-1.1 .9 .1 1.3 .2 4.3 .2 .6 .5 .2zM79.1 469.2l.1 -2.3-.1 -.1-.1 2.5z"/>
<path fill="#6c2484" d="M76.8 476.4l0 16 .2 2.2 .4 0 .2 -1.1 .4 -8.3-.7 -.2-.2 -.8zM67 496.3l.7 .2 .2 -.5 .3 -5.8-.6 -.3-.3 -1.3-.4 -12.6-.1 2-.5 .6 .4 15.1 .2 2.2z"/>
<path fill="#e44860" d="M74.9 458.7l.1 -1.2-1.1 -.4-.1 1.5zM57.4 478.5l.3 -.4 0 -1.2 0 -6.8-.1 .6-.2 .2zM73.2 481.5l.4 9.6 .1 .7 .5 .2 .3 -16-.3 -9.3-.3 2.3-.2 .4-.2 .1z"/>
<path fill="#fc6c60" d="M58.1 445.4l.1 -1.2-.6 -.1 .1 .8 .1 .6zM57.6 444.1l-.4 -.1-.2 1.9 .6 -.1 .1 -.2zM71.6 457.3l.2 .8 .7 .2-.2 -1.5zM57.4 470.9l.3 -.8-.2 -6.3zM62.2 481.7l.4 -.5 .1 -1.5 .3 -17.5-.5 -.1zM72.4 469l.2 15.9 .3 -.4 .1 -.3 .2 -2.7-.2 -12.2z"/>
<path fill="#782484" d="M58.4 486.1l-.5 -21.4-.1 3.6 0 -4.2-.3 -.1 .7 20.6 .1 3.2 .3 1.2zM69.3 478.6l.2 -1 .1 -2.8-.2 .3zM60 480.3l.2 -.5 0 -1.3-.1 1.5-.3 .5zM61.1 494.6l-.3 -7-.3 -15.9-.2 .4 0 2.2 0 -2.2-.3 .2 .1 2.2 .2 6.7 .4 11.4 .1 1.5zM73.2 481.5l.2 16.2 .1 .6 .3 .1 .2 -.3 .1 -.9 .3 -5.2-.7 -.2-.2 -1z"/>
<path fill="#fca86c" d="M65.2 439.7l.2 -1.5-1 -.2-.3 2.3 .8 -.2zM71.3 441.3l.2 -1.5-1 -.2-.3 2.3 .7 -.2zM72.8 442.1l.4 .8 .5 .1-.3 -1.4zM77.4 442.9l.2 -1.4-1 -.3-.3 2.3 .7 -.2zM70.1 445.9l.4 -.1 .4 .3-.5 -2.1-1.1 .9 .4 .9zM66.2 447.4l.4 1.4 .3 -.1 .4 .3-.4 -2.1zM88.8 446.7l.3 -2.2-1 -.3-.3 2.6 .6 .1zM88.2 462.1l.2 1.8 .3 -.2 .2 -4.3-.7 .6-.1 2.9 .1 0zM81.9 470.1l.3 -.4 .1 -.6 .2 -4.1-.5 .5zM80.1 467.1l-.9 -.2 .3 2.9 .2 .3 .5 .2zM78.3 473.3l.4 -.4 .2 -.8 .2 -5.3-.5 -.1z"/>
<path fill="#fcc084" d="M59.2 444.2l-1 0-.1 1.2 .7 -.5zM55.7 449l.4 .7 .6 .2-.4 -1.4zM50.5 451.3l.2 -.6-.4 -.1 .1 .7zM52.1 452.5l.8 .3-.4 -1.3-.6 .4zM56.6 453.1l.3 -.2 0 -.5-.4 -.1zM51.7 459l-.8 -.2 .4 3 .2 .4 .3 .2zM56.9 460.5l.3 2.9 .1 .1 0 -.2 .2 .7 .3 .1 0 4.2 .1 -4.1-.1 -3.4zM53 459.7l.4 6.2 .2 .7 .2 -.1-.1 -2.8-.4 -1.2zM64.9 446.5l.5 -.8-.5 .2-.6 0-.1 1.1zM61.7 448.8l-.6 .3-.4 0-.1 .9 .3 -.4 .3 -.1zM67.5 451.2l.5 -.8-.6 .4-.4 0-.1 .8 .2 -.3zM64.3 453.5l-.6 .6-.5 .1 0 .4 .5 -.4zM75.9 453.7l.3 1.6 1.2 .3 .2 -1.9-.5 -.3-.6 -.7zM72.3 456.8l.3 1.5 1.2 .3 .1 -1.5-.4 -.3-.6 -1zM63 462.3l0 -.1-.1 10.5zM76.8 476.4l.2 -6.8-.3 -.1zM73 469.3l.2 12.2 .3 -12z"/>
<path fill="#d8486c" d="M50.2 450.6l-.6 -.2 0 1.3 .4 0 .4 -.4zM56.4 452.3l-.5 -.1-.1 1.2 .4 0 .3 -.3zM50.1 485.4l.3 -.3 .1 -.7 .1 -5-.1 -20.7-.4 -.1zM53.8 482l.3 -.5 .1 -1.9-.4 -12.8zM49.8 484.7l0 -.9-.1 -1.6 0 2.4zM55.7 486.4l.5 .1 .2 -.5 .1 -1.8 .1 -1.9 0 -1.4-.1 2.5-.1 .3-.4 .3-.2 -.6-.1 -2z"/>
<path fill="#fce4a8" d="M62 438.1l.4 1.9 .3 0 .4 .2 .3 -2.5-1 -.6-.6 .6zM60 438.9l.5 .5 .2 0 .3 .3-.4 -1.1zM58.4 440.9l.4 2 .3 -.2 .4 .4 .3 -2.5-1 -.7-.6 .6zM56.3 441.7l.6 .5 .3 0 .2 .3-.5 -1.1zM54.7 443.7l.4 1.9 .4 0 .4 .3 .2 -2.3-1 -.9-.6 .6zM52.6 444.6l.9 .4 .1 .2-.4 -1zM58.8 446.3l.6 .4 .3 0-.3 -.7zM55 449.2l.8 .4 .2 0-.3 -.6zM60.2 450.2l0 -1.2-.2 -.1zM61.3 451l.8 .4 0 -.1-.2 -.5zM56.5 453.1l0 -.8-.1 0zM57.5 453.9l.7 .3 .2 .1-.2 -.5zM59.3 461.2l-.1 0 .1 1.3zM61.4 464.6l.3 -2.7-.4 -.1zM67.8 439.4l.6 2.2 .4 0 .3 .2 .3 -2.5-1 -.6zM64.3 442.2l.5 2.3 .5 -.1 .3 .3 .3 -2.4-1 -.8zM62.5 443.4l.5 .5 .4 0-.3 -.7zM90 446.1l1.2 -1.4-1 0zM63.8 447.3l-.1 -1.6zM67.7 452.7l.6 .4 .1 0-.1 -.4zM62.8 454.8l0 -.7-.2 -.1 0 1zM63.9 455.7l.6 .3 .2 .1-.1 -.4zM68.9 456.9l.2 -.3 0 -.8-.3 -.1zM70.4 457.6l.5 .2 .2 .1-.1 -.2zM65.6 463.2l-.1 -.3 .2 2.2-.1 -1zM67.8 465.7l.2 -2-.3 -.1zM74.3 465.5l-.1 -.1 0 1.3zM72.1 467.6l-.1 -2.8-.2 0 .1 1.7z"/>
<path fill="#6c1884" d="M87.2 483.8l.3 0 .2 -.2 .1 -1.3 .5 -8.4 .4 -10.2-.4 .2-.1 -1-.6 17.5-.1 2.8zM56.6 483.6l.2 -.9 .1 -3.6-.2 -8.4zM64.7 490.9l-.3 -6.8-.2 -15.7-.2 .4-.3 .3 .5 18.3 .2 2.8z"/>
<path fill="#601878" d="M52.7 487.2l.1 .2 .3 -.3 .1 -.7 .1 -8 0 -.5-.3 -.6-.2 -1.6-.6 -13.2-.4 -.1 .6 19.6z"/>
<path fill="#fc906c" d="M79.6 443.4l.3 1.3 .4 -.1 .3 .3-.4 -2zM72.9 446.3l.2 -2.1-1 -.3-.3 2.5 .5 .1zM86.6 449l.2 -1.2-1.1 -.2-.2 2 .4 -.1zM72.1 450.1l.7 .4-.3 -1.3-.6 .5zM82.5 466.1l.1 -.2 0 -.9zM83.6 471.3l.4 0 .3 -.9 .5 -7.4-1.1 1zM84.8 470.3l.4 -.1 .2 -.6 .3 -4.1-.1 1-.5 .5-.2 -1.2zM75.5 472.6l.2 -5.5 0 -.3z"/>
<path fill="#902484" d="M52.6 487.1l-.8 -24.7-.3 -.1 .7 19.2 .2 4 .1 .9zM55.1 492.7l-.8 -22.3-.1 4.3 0 -8.6-.4 .4 .8 22.7 .2 2.9z"/>
<path fill="#fcb484" d="M67.3 439.9l.4 1.4 .7 .3-.3 -1.4-.3 -.8zM59.4 446l.4 .9 .7 .1-.5 -1.5zM62.9 454.8l.2 -.1 .1 -.5-.4 -.1zM64.1 462.5l-1 -.2 .4 3 .2 .5 .4 .1zM76.8 469.6l.4 0 .2 -.3 .4 -2.9-1.1 -.3z"/>
<path fill="#fce49c" d="M74 441.1l.4 2.1 .6 0 .3 .3 .3 -2.6-1 -.6zM50.7 446.2l.7 2.2 .8 .3 .2 -2-1 -1.1zM65 448l.7 .4 .1 0-.2 -.6zM66.3 451.9l.1 0 0 -1.2-.2 -.1zM55.2 463.3l.2 -3.2-.4 -.1z"/>
<path fill="#9c3084" d="M49 490.9l-1.1 -28.8-.3 -.2 1 24.4 .2 3.3 .1 .9z"/>
<path fill="#300c6c" d="M63.6 477l.3 .1-.1 -4.4-.1 3zM83.7 487.2l-.1 -15.9-.2 2.7-.3 .7 0 2 .1 8.7 .2 1.4zM71.9 483.8l.3 .1 .1 -.2 0 -2.1z"/>
<path fill="#e4486c" d="M62.5 454l-.3 -.1-.1 1.3 .4 0 .1 -.2zM61.9 488.3l.4 -.1 .2 -1.1 .2 -3 .1 -5.7-.2 2.8-.5 .6-.3 -1.8z"/>
<path fill="#3c0c6c" d="M69.3 478.7l.5 0 .2 -.8-.1 -2.7-.2 .1-.1 -.5-.1 3.1zM62.9 473.9l-.1 8.9-.2 2.8 .2 .1 .2 -.3 .1 -1.3 .2 -6.9-.2 .1-.1 -.4z"/>
<path fill="#fcd890" d="M72.1 440.8l.4 -.9-1 -.1-.2 1.5zM63.2 449.8l.4 2 1.1 .3 .1 -1.9-1 -1.1zM79.6 454.9l1.2 -1.2-.7 .5-.4 .1zM79 470.5l.1 -3.7z"/>
<path fill="#300c60" d="M56.9 474.6l-.1 7.7-.2 1.6 .3 .1 .2 -.3 .1 -.9 .1 -4.2-.2 .1-.1 -.5z"/>
<path fill="#3c0c78" d="M53.5 481.8l-.2 -3.4 0 7.7-.1 .9-.4 .4 .6 .1 .1 -.3 .1 -.8 .1 -4.4-.1 .1z"/>
<path fill="#fcf0a8" d="M48.8 447.4l.7 .5 .4 .1-.4 -.9zM45 450.4l.6 .3 .4 .2-.4 -.8zM51.2 452.2l.8 .3 .1 .1-.2 -.7z"/>
<path fill="#241854" d="M65.9 482.1l.5 0-.1 -3.5-.2 2.9z"/>
<path fill="#180c48" d="M60 480.4l.2 0 0 -.7 0 .4z"/>
<text x="300.3" y="10" font-size="4.7">1e3</text>
<text x="300.3" y="146" font-size="4.7">1e1</text>
<text x="300.3" y="418.2" font-size="4.7">1e2</text></svg></body></html>
